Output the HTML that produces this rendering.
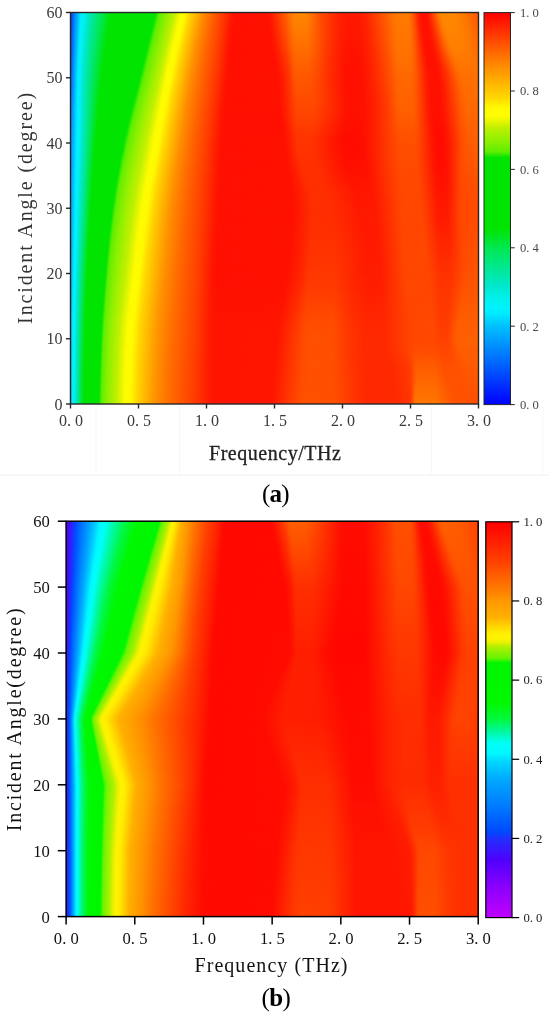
<!DOCTYPE html><html><head><meta charset="utf-8"><title>Figure</title><style>html,body{margin:0;padding:0;background:#fff}svg{display:block}</style></head><body>
<svg width="550" height="1016" viewBox="0 0 550 1016" font-family="'Liberation Serif','Noto Serif CJK SC',serif">
<defs><linearGradient id="vfg" x1="0" y1="0" x2="0" y2="1"><stop offset="0" stop-color="#fff" stop-opacity="0"/><stop offset="1" stop-color="#fff" stop-opacity="1"/></linearGradient>
<mask id="vf" maskContentUnits="objectBoundingBox"><rect x="0" y="0" width="1" height="1" fill="url(#vfg)"/></mask>
<linearGradient id="ag0"><stop offset="0" stop-color="#003aff"/><stop offset="0.01471" stop-color="#00a2ff"/><stop offset="0.01961" stop-color="#00c0ff"/><stop offset="0.02451" stop-color="#00e5ff"/><stop offset="0.02696" stop-color="#00efff"/><stop offset="0.02941" stop-color="#00f2fa"/><stop offset="0.03676" stop-color="#00eee2"/><stop offset="0.04412" stop-color="#00e8c7"/><stop offset="0.05882" stop-color="#00e88c"/><stop offset="0.08333" stop-color="#00e739"/><stop offset="0.09804" stop-color="#00e406"/><stop offset="0.1005" stop-color="#00e400"/><stop offset="0.2083" stop-color="#00e400"/><stop offset="0.2108" stop-color="#0de500"/><stop offset="0.2181" stop-color="#5dee00"/><stop offset="0.223" stop-color="#6cef00"/><stop offset="0.2549" stop-color="#bff000"/><stop offset="0.2647" stop-color="#e7f600"/><stop offset="0.2696" stop-color="#f9fb00"/><stop offset="0.2721" stop-color="#fffc00"/><stop offset="0.2819" stop-color="#fff900"/><stop offset="0.2941" stop-color="#ffd400"/><stop offset="0.326" stop-color="#ff8c00"/><stop offset="0.3529" stop-color="#ff5c00"/><stop offset="0.3824" stop-color="#ff2d00"/><stop offset="0.3971" stop-color="#ff1500"/><stop offset="0.4069" stop-color="#ff1000"/><stop offset="0.4828" stop-color="#ff1100"/><stop offset="0.4926" stop-color="#ff1c00"/><stop offset="0.5245" stop-color="#ff5900"/><stop offset="0.5417" stop-color="#ff7e00"/><stop offset="0.549" stop-color="#ff8700"/><stop offset="0.5735" stop-color="#ff8700"/><stop offset="0.5833" stop-color="#ff7e00"/><stop offset="0.6127" stop-color="#ff4c00"/><stop offset="0.6544" stop-color="#ff2400"/><stop offset="0.6765" stop-color="#ff1900"/><stop offset="0.7083" stop-color="#ff1a00"/><stop offset="0.7279" stop-color="#ff2900"/><stop offset="0.7941" stop-color="#ff7600"/><stop offset="0.8162" stop-color="#ff7800"/><stop offset="0.8284" stop-color="#ff7800"/><stop offset="0.8333" stop-color="#ff6f00"/><stop offset="0.8407" stop-color="#ff5200"/><stop offset="0.8505" stop-color="#ff2600"/><stop offset="0.8554" stop-color="#ff1600"/><stop offset="0.8603" stop-color="#ff1000"/><stop offset="0.8701" stop-color="#ff1000"/><stop offset="0.875" stop-color="#ff1700"/><stop offset="0.8824" stop-color="#ff2d00"/><stop offset="0.8995" stop-color="#ff7400"/><stop offset="0.9044" stop-color="#ff8100"/><stop offset="0.9093" stop-color="#ff8800"/><stop offset="0.9387" stop-color="#ff8600"/><stop offset="0.9608" stop-color="#ff7b00"/><stop offset="0.9877" stop-color="#ff6000"/><stop offset="1" stop-color="#ff5000"/></linearGradient><linearGradient id="ag1"><stop offset="0" stop-color="#003dff"/><stop offset="0.01225" stop-color="#0096ff"/><stop offset="0.01961" stop-color="#00c7ff"/><stop offset="0.02206" stop-color="#00daff"/><stop offset="0.02451" stop-color="#00eaff"/><stop offset="0.02696" stop-color="#00f2ff"/><stop offset="0.03186" stop-color="#00f2ef"/><stop offset="0.04167" stop-color="#00e8cb"/><stop offset="0.05637" stop-color="#00e88f"/><stop offset="0.08088" stop-color="#00e73a"/><stop offset="0.09559" stop-color="#00e405"/><stop offset="0.09804" stop-color="#00e400"/><stop offset="0.2034" stop-color="#00e400"/><stop offset="0.2059" stop-color="#03e400"/><stop offset="0.2132" stop-color="#52ed00"/><stop offset="0.2157" stop-color="#63ee00"/><stop offset="0.25" stop-color="#bcf000"/><stop offset="0.2549" stop-color="#cff200"/><stop offset="0.2647" stop-color="#f5f900"/><stop offset="0.2672" stop-color="#fefc00"/><stop offset="0.277" stop-color="#fffa00"/><stop offset="0.2819" stop-color="#ffee00"/><stop offset="0.2892" stop-color="#ffd700"/><stop offset="0.3235" stop-color="#ff8a00"/><stop offset="0.3505" stop-color="#ff5c00"/><stop offset="0.3775" stop-color="#ff3200"/><stop offset="0.3946" stop-color="#ff1600"/><stop offset="0.4044" stop-color="#ff1000"/><stop offset="0.4853" stop-color="#ff1100"/><stop offset="0.4951" stop-color="#ff1d00"/><stop offset="0.527" stop-color="#ff5900"/><stop offset="0.5417" stop-color="#ff7900"/><stop offset="0.549" stop-color="#ff8200"/><stop offset="0.576" stop-color="#ff8200"/><stop offset="0.5882" stop-color="#ff7500"/><stop offset="0.6152" stop-color="#ff4900"/><stop offset="0.6569" stop-color="#ff2200"/><stop offset="0.6765" stop-color="#ff1800"/><stop offset="0.7083" stop-color="#ff1900"/><stop offset="0.7279" stop-color="#ff2700"/><stop offset="0.7794" stop-color="#ff6300"/><stop offset="0.7941" stop-color="#ff7500"/><stop offset="0.8064" stop-color="#ff7800"/><stop offset="0.8284" stop-color="#ff7800"/><stop offset="0.8333" stop-color="#ff7000"/><stop offset="0.8407" stop-color="#ff5700"/><stop offset="0.8529" stop-color="#ff2300"/><stop offset="0.8578" stop-color="#ff1500"/><stop offset="0.8627" stop-color="#ff1000"/><stop offset="0.8725" stop-color="#ff1000"/><stop offset="0.8775" stop-color="#ff1700"/><stop offset="0.8848" stop-color="#ff2c00"/><stop offset="0.902" stop-color="#ff6f00"/><stop offset="0.9093" stop-color="#ff8200"/><stop offset="0.9142" stop-color="#ff8700"/><stop offset="0.9436" stop-color="#ff8500"/><stop offset="0.9657" stop-color="#ff7900"/><stop offset="0.9926" stop-color="#ff5f00"/><stop offset="1" stop-color="#ff5600"/></linearGradient><linearGradient id="ag2"><stop offset="0" stop-color="#0040ff"/><stop offset="0.01225" stop-color="#009bff"/><stop offset="0.01716" stop-color="#00bbff"/><stop offset="0.02206" stop-color="#00e1ff"/><stop offset="0.02451" stop-color="#00edff"/><stop offset="0.02696" stop-color="#00f2fc"/><stop offset="0.03431" stop-color="#00eee2"/><stop offset="0.03922" stop-color="#00e8d1"/><stop offset="0.05392" stop-color="#00e892"/><stop offset="0.07843" stop-color="#00e73b"/><stop offset="0.09314" stop-color="#00e406"/><stop offset="0.09559" stop-color="#00e400"/><stop offset="0.201" stop-color="#00e400"/><stop offset="0.2034" stop-color="#0fe600"/><stop offset="0.2108" stop-color="#5fee00"/><stop offset="0.2475" stop-color="#bff000"/><stop offset="0.2574" stop-color="#e7f600"/><stop offset="0.2623" stop-color="#f9fa00"/><stop offset="0.2647" stop-color="#fffc00"/><stop offset="0.2745" stop-color="#fffa00"/><stop offset="0.2868" stop-color="#ffd500"/><stop offset="0.3211" stop-color="#ff8900"/><stop offset="0.348" stop-color="#ff5c00"/><stop offset="0.375" stop-color="#ff3300"/><stop offset="0.3922" stop-color="#ff1600"/><stop offset="0.402" stop-color="#ff1000"/><stop offset="0.4853" stop-color="#ff1100"/><stop offset="0.4951" stop-color="#ff1a00"/><stop offset="0.527" stop-color="#ff5400"/><stop offset="0.5417" stop-color="#ff7400"/><stop offset="0.549" stop-color="#ff7e00"/><stop offset="0.576" stop-color="#ff7e00"/><stop offset="0.5882" stop-color="#ff7300"/><stop offset="0.6176" stop-color="#ff4600"/><stop offset="0.6593" stop-color="#ff2000"/><stop offset="0.6789" stop-color="#ff1700"/><stop offset="0.7083" stop-color="#ff1800"/><stop offset="0.7279" stop-color="#ff2500"/><stop offset="0.7794" stop-color="#ff6100"/><stop offset="0.7941" stop-color="#ff7400"/><stop offset="0.8039" stop-color="#ff7700"/><stop offset="0.8309" stop-color="#ff7600"/><stop offset="0.8358" stop-color="#ff6b00"/><stop offset="0.8431" stop-color="#ff5000"/><stop offset="0.8529" stop-color="#ff2800"/><stop offset="0.8578" stop-color="#ff1900"/><stop offset="0.8627" stop-color="#ff1100"/><stop offset="0.875" stop-color="#ff1000"/><stop offset="0.8824" stop-color="#ff1c00"/><stop offset="0.8922" stop-color="#ff3c00"/><stop offset="0.9069" stop-color="#ff7200"/><stop offset="0.9142" stop-color="#ff8300"/><stop offset="0.9216" stop-color="#ff8600"/><stop offset="0.951" stop-color="#ff8300"/><stop offset="0.9755" stop-color="#ff7400"/><stop offset="1" stop-color="#ff5b00"/></linearGradient><linearGradient id="ag3"><stop offset="0" stop-color="#0044ff"/><stop offset="0.01225" stop-color="#009fff"/><stop offset="0.01716" stop-color="#00c0ff"/><stop offset="0.02206" stop-color="#00e7ff"/><stop offset="0.02451" stop-color="#00f0ff"/><stop offset="0.02941" stop-color="#00f2f0"/><stop offset="0.03922" stop-color="#00e8cb"/><stop offset="0.05147" stop-color="#00e896"/><stop offset="0.06863" stop-color="#00e858"/><stop offset="0.09069" stop-color="#00e406"/><stop offset="0.09314" stop-color="#00e400"/><stop offset="0.1985" stop-color="#01e400"/><stop offset="0.2059" stop-color="#51ec00"/><stop offset="0.2083" stop-color="#63ee00"/><stop offset="0.2451" stop-color="#c3f000"/><stop offset="0.2549" stop-color="#ebf700"/><stop offset="0.2598" stop-color="#fdfb00"/><stop offset="0.2647" stop-color="#fffb00"/><stop offset="0.2696" stop-color="#fffa00"/><stop offset="0.2721" stop-color="#fff700"/><stop offset="0.2819" stop-color="#ffd800"/><stop offset="0.3162" stop-color="#ff8d00"/><stop offset="0.3431" stop-color="#ff6000"/><stop offset="0.3725" stop-color="#ff3500"/><stop offset="0.3897" stop-color="#ff1700"/><stop offset="0.3995" stop-color="#ff1000"/><stop offset="0.4877" stop-color="#ff1100"/><stop offset="0.4975" stop-color="#ff1b00"/><stop offset="0.527" stop-color="#ff4f00"/><stop offset="0.5441" stop-color="#ff7300"/><stop offset="0.5515" stop-color="#ff7a00"/><stop offset="0.5784" stop-color="#ff7900"/><stop offset="0.5931" stop-color="#ff6a00"/><stop offset="0.6201" stop-color="#ff4300"/><stop offset="0.6618" stop-color="#ff1e00"/><stop offset="0.6814" stop-color="#ff1600"/><stop offset="0.7108" stop-color="#ff1800"/><stop offset="0.7304" stop-color="#ff2600"/><stop offset="0.777" stop-color="#ff5b00"/><stop offset="0.7941" stop-color="#ff7200"/><stop offset="0.8039" stop-color="#ff7600"/><stop offset="0.8309" stop-color="#ff7500"/><stop offset="0.8358" stop-color="#ff6d00"/><stop offset="0.8431" stop-color="#ff5400"/><stop offset="0.8554" stop-color="#ff2500"/><stop offset="0.8603" stop-color="#ff1700"/><stop offset="0.8652" stop-color="#ff1000"/><stop offset="0.8775" stop-color="#ff1100"/><stop offset="0.8848" stop-color="#ff1c00"/><stop offset="0.8946" stop-color="#ff3900"/><stop offset="0.9093" stop-color="#ff6d00"/><stop offset="0.9167" stop-color="#ff7f00"/><stop offset="0.924" stop-color="#ff8400"/><stop offset="0.9534" stop-color="#ff8200"/><stop offset="0.9779" stop-color="#ff7400"/><stop offset="1" stop-color="#ff6000"/></linearGradient><linearGradient id="ag4"><stop offset="0" stop-color="#0047ff"/><stop offset="0.01225" stop-color="#00a4ff"/><stop offset="0.01716" stop-color="#00c6ff"/><stop offset="0.01961" stop-color="#00dbff"/><stop offset="0.02206" stop-color="#00ebff"/><stop offset="0.02451" stop-color="#00f2fe"/><stop offset="0.02941" stop-color="#00f1ed"/><stop offset="0.03676" stop-color="#00e8d1"/><stop offset="0.05147" stop-color="#00e890"/><stop offset="0.07353" stop-color="#00e73e"/><stop offset="0.08824" stop-color="#00e407"/><stop offset="0.09069" stop-color="#00e400"/><stop offset="0.1936" stop-color="#00e400"/><stop offset="0.1961" stop-color="#0ee500"/><stop offset="0.2034" stop-color="#5eee00"/><stop offset="0.2255" stop-color="#99f000"/><stop offset="0.2402" stop-color="#bef000"/><stop offset="0.2525" stop-color="#eef800"/><stop offset="0.2574" stop-color="#fffc00"/><stop offset="0.2672" stop-color="#fffa00"/><stop offset="0.2819" stop-color="#ffd100"/><stop offset="0.3137" stop-color="#ff8c00"/><stop offset="0.3407" stop-color="#ff6000"/><stop offset="0.3701" stop-color="#ff3600"/><stop offset="0.3873" stop-color="#ff1800"/><stop offset="0.3971" stop-color="#ff1000"/><stop offset="0.4902" stop-color="#ff1100"/><stop offset="0.5" stop-color="#ff1b00"/><stop offset="0.527" stop-color="#ff4a00"/><stop offset="0.5441" stop-color="#ff6f00"/><stop offset="0.5515" stop-color="#ff7600"/><stop offset="0.5784" stop-color="#ff7500"/><stop offset="0.5931" stop-color="#ff6800"/><stop offset="0.6225" stop-color="#ff4000"/><stop offset="0.6642" stop-color="#ff1b00"/><stop offset="0.6814" stop-color="#ff1500"/><stop offset="0.7108" stop-color="#ff1700"/><stop offset="0.7304" stop-color="#ff2500"/><stop offset="0.777" stop-color="#ff5900"/><stop offset="0.7941" stop-color="#ff7100"/><stop offset="0.8039" stop-color="#ff7500"/><stop offset="0.8309" stop-color="#ff7500"/><stop offset="0.8358" stop-color="#ff6d00"/><stop offset="0.8431" stop-color="#ff5700"/><stop offset="0.8578" stop-color="#ff2200"/><stop offset="0.8652" stop-color="#ff1200"/><stop offset="0.8799" stop-color="#ff1100"/><stop offset="0.8873" stop-color="#ff1b00"/><stop offset="0.8971" stop-color="#ff3600"/><stop offset="0.9142" stop-color="#ff6e00"/><stop offset="0.9216" stop-color="#ff7e00"/><stop offset="0.9289" stop-color="#ff8200"/><stop offset="0.9583" stop-color="#ff8000"/><stop offset="0.9853" stop-color="#ff7100"/><stop offset="1" stop-color="#ff6400"/></linearGradient><linearGradient id="ag5"><stop offset="0" stop-color="#004aff"/><stop offset="0.01225" stop-color="#00a8ff"/><stop offset="0.01716" stop-color="#00ccff"/><stop offset="0.01961" stop-color="#00e1ff"/><stop offset="0.02206" stop-color="#00eeff"/><stop offset="0.02451" stop-color="#00f2fb"/><stop offset="0.02941" stop-color="#00f0e9"/><stop offset="0.03676" stop-color="#00e8cc"/><stop offset="0.04902" stop-color="#00e894"/><stop offset="0.06373" stop-color="#00e85c"/><stop offset="0.08824" stop-color="#00e400"/><stop offset="0.1912" stop-color="#00e400"/><stop offset="0.1985" stop-color="#50ec00"/><stop offset="0.201" stop-color="#63ee00"/><stop offset="0.2377" stop-color="#c1f000"/><stop offset="0.2475" stop-color="#e9f600"/><stop offset="0.2525" stop-color="#fafb00"/><stop offset="0.2549" stop-color="#fffc00"/><stop offset="0.2647" stop-color="#fff900"/><stop offset="0.277" stop-color="#ffd500"/><stop offset="0.3113" stop-color="#ff8b00"/><stop offset="0.3382" stop-color="#ff6100"/><stop offset="0.3676" stop-color="#ff3700"/><stop offset="0.3873" stop-color="#ff1600"/><stop offset="0.3971" stop-color="#ff1000"/><stop offset="0.4926" stop-color="#ff1100"/><stop offset="0.5049" stop-color="#ff1f00"/><stop offset="0.5294" stop-color="#ff4a00"/><stop offset="0.5441" stop-color="#ff6a00"/><stop offset="0.5515" stop-color="#ff7100"/><stop offset="0.5809" stop-color="#ff7000"/><stop offset="0.5956" stop-color="#ff6200"/><stop offset="0.6225" stop-color="#ff4000"/><stop offset="0.6642" stop-color="#ff1b00"/><stop offset="0.6814" stop-color="#ff1400"/><stop offset="0.7108" stop-color="#ff1600"/><stop offset="0.7304" stop-color="#ff2300"/><stop offset="0.777" stop-color="#ff5600"/><stop offset="0.7941" stop-color="#ff6f00"/><stop offset="0.8039" stop-color="#ff7400"/><stop offset="0.8309" stop-color="#ff7400"/><stop offset="0.8358" stop-color="#ff6e00"/><stop offset="0.8431" stop-color="#ff5a00"/><stop offset="0.8578" stop-color="#ff2700"/><stop offset="0.8652" stop-color="#ff1500"/><stop offset="0.8701" stop-color="#ff1000"/><stop offset="0.8824" stop-color="#ff1100"/><stop offset="0.8897" stop-color="#ff1a00"/><stop offset="0.8995" stop-color="#ff3300"/><stop offset="0.9167" stop-color="#ff6900"/><stop offset="0.924" stop-color="#ff7900"/><stop offset="0.9314" stop-color="#ff8100"/><stop offset="0.9632" stop-color="#ff7e00"/><stop offset="0.9902" stop-color="#ff6f00"/><stop offset="1" stop-color="#ff6700"/></linearGradient><linearGradient id="ag6"><stop offset="0" stop-color="#004eff"/><stop offset="0.01225" stop-color="#00acff"/><stop offset="0.01471" stop-color="#00bdff"/><stop offset="0.01961" stop-color="#00e6ff"/><stop offset="0.02206" stop-color="#00f0ff"/><stop offset="0.02696" stop-color="#00f2ef"/><stop offset="0.03431" stop-color="#00e9d2"/><stop offset="0.04902" stop-color="#00e88f"/><stop offset="0.07108" stop-color="#00e739"/><stop offset="0.08578" stop-color="#00e400"/><stop offset="0.1863" stop-color="#00e400"/><stop offset="0.1887" stop-color="#0ce500"/><stop offset="0.1961" stop-color="#5dee00"/><stop offset="0.201" stop-color="#6cef00"/><stop offset="0.2328" stop-color="#bdf000"/><stop offset="0.2475" stop-color="#f5f900"/><stop offset="0.25" stop-color="#fdfc00"/><stop offset="0.2598" stop-color="#fffa00"/><stop offset="0.2623" stop-color="#fff700"/><stop offset="0.2745" stop-color="#ffd400"/><stop offset="0.3088" stop-color="#ff8b00"/><stop offset="0.3358" stop-color="#ff6100"/><stop offset="0.3652" stop-color="#ff3800"/><stop offset="0.3848" stop-color="#ff1700"/><stop offset="0.3946" stop-color="#ff1000"/><stop offset="0.4951" stop-color="#ff1100"/><stop offset="0.5074" stop-color="#ff1f00"/><stop offset="0.5294" stop-color="#ff4400"/><stop offset="0.5441" stop-color="#ff6500"/><stop offset="0.5515" stop-color="#ff6d00"/><stop offset="0.5809" stop-color="#ff6c00"/><stop offset="0.5956" stop-color="#ff6000"/><stop offset="0.625" stop-color="#ff3c00"/><stop offset="0.6667" stop-color="#ff1900"/><stop offset="0.6838" stop-color="#ff1300"/><stop offset="0.7132" stop-color="#ff1600"/><stop offset="0.7353" stop-color="#ff2600"/><stop offset="0.777" stop-color="#ff5400"/><stop offset="0.7966" stop-color="#ff6f00"/><stop offset="0.8064" stop-color="#ff7300"/><stop offset="0.8333" stop-color="#ff7100"/><stop offset="0.8407" stop-color="#ff6300"/><stop offset="0.8627" stop-color="#ff1e00"/><stop offset="0.8701" stop-color="#ff1100"/><stop offset="0.8848" stop-color="#ff1000"/><stop offset="0.8922" stop-color="#ff1900"/><stop offset="0.902" stop-color="#ff2f00"/><stop offset="0.9216" stop-color="#ff6800"/><stop offset="0.9289" stop-color="#ff7700"/><stop offset="0.9363" stop-color="#ff7e00"/><stop offset="0.9681" stop-color="#ff7d00"/><stop offset="0.9951" stop-color="#ff6d00"/><stop offset="1" stop-color="#ff6900"/></linearGradient><linearGradient id="ag7"><stop offset="0" stop-color="#0052ff"/><stop offset="0.01225" stop-color="#00b0ff"/><stop offset="0.01471" stop-color="#00c2ff"/><stop offset="0.01716" stop-color="#00d8ff"/><stop offset="0.01961" stop-color="#00eaff"/><stop offset="0.02206" stop-color="#00f2fe"/><stop offset="0.02696" stop-color="#00f1ec"/><stop offset="0.03431" stop-color="#00e8ce"/><stop offset="0.04657" stop-color="#00e894"/><stop offset="0.06127" stop-color="#00e85a"/><stop offset="0.08333" stop-color="#00e402"/><stop offset="0.09559" stop-color="#00e400"/><stop offset="0.1838" stop-color="#00e400"/><stop offset="0.1912" stop-color="#4fec00"/><stop offset="0.1936" stop-color="#62ee00"/><stop offset="0.2304" stop-color="#bff000"/><stop offset="0.2402" stop-color="#e7f600"/><stop offset="0.2475" stop-color="#fffc00"/><stop offset="0.2574" stop-color="#fffa00"/><stop offset="0.2672" stop-color="#ffdf00"/><stop offset="0.2745" stop-color="#ffcd00"/><stop offset="0.3039" stop-color="#ff8f00"/><stop offset="0.3284" stop-color="#ff6800"/><stop offset="0.3652" stop-color="#ff3500"/><stop offset="0.3824" stop-color="#ff1800"/><stop offset="0.3922" stop-color="#ff1000"/><stop offset="0.4975" stop-color="#ff1100"/><stop offset="0.5098" stop-color="#ff1e00"/><stop offset="0.5319" stop-color="#ff4200"/><stop offset="0.5466" stop-color="#ff6300"/><stop offset="0.5539" stop-color="#ff6800"/><stop offset="0.5833" stop-color="#ff6700"/><stop offset="0.6005" stop-color="#ff5800"/><stop offset="0.6275" stop-color="#ff3800"/><stop offset="0.6691" stop-color="#ff1600"/><stop offset="0.6863" stop-color="#ff1300"/><stop offset="0.7132" stop-color="#ff1500"/><stop offset="0.7353" stop-color="#ff2400"/><stop offset="0.777" stop-color="#ff5100"/><stop offset="0.7966" stop-color="#ff6d00"/><stop offset="0.8064" stop-color="#ff7100"/><stop offset="0.8333" stop-color="#ff7000"/><stop offset="0.8407" stop-color="#ff6400"/><stop offset="0.8529" stop-color="#ff4000"/><stop offset="0.8652" stop-color="#ff1d00"/><stop offset="0.8725" stop-color="#ff1100"/><stop offset="0.8897" stop-color="#ff1100"/><stop offset="0.8995" stop-color="#ff1f00"/><stop offset="0.9142" stop-color="#ff4400"/><stop offset="0.9289" stop-color="#ff6a00"/><stop offset="0.9387" stop-color="#ff7900"/><stop offset="0.9583" stop-color="#ff7c00"/><stop offset="0.9804" stop-color="#ff7800"/><stop offset="1" stop-color="#ff6c00"/></linearGradient><linearGradient id="ag8"><stop offset="0" stop-color="#0055ff"/><stop offset="0.01225" stop-color="#00b4ff"/><stop offset="0.01716" stop-color="#00ddff"/><stop offset="0.01961" stop-color="#00ecff"/><stop offset="0.02206" stop-color="#00f2fc"/><stop offset="0.02696" stop-color="#00f0e9"/><stop offset="0.03431" stop-color="#00e8ca"/><stop offset="0.04657" stop-color="#00e88f"/><stop offset="0.07843" stop-color="#00e50d"/><stop offset="0.08088" stop-color="#00e404"/><stop offset="0.08333" stop-color="#00e400"/><stop offset="0.1789" stop-color="#00e400"/><stop offset="0.1814" stop-color="#0be500"/><stop offset="0.1887" stop-color="#5cee00"/><stop offset="0.1912" stop-color="#66ee00"/><stop offset="0.2279" stop-color="#c3f000"/><stop offset="0.2377" stop-color="#eaf600"/><stop offset="0.2426" stop-color="#fafb00"/><stop offset="0.2451" stop-color="#fffc00"/><stop offset="0.2549" stop-color="#fffa00"/><stop offset="0.2672" stop-color="#ffd600"/><stop offset="0.3015" stop-color="#ff8e00"/><stop offset="0.326" stop-color="#ff6800"/><stop offset="0.3627" stop-color="#ff3700"/><stop offset="0.3824" stop-color="#ff1600"/><stop offset="0.3922" stop-color="#ff1000"/><stop offset="0.5" stop-color="#ff1100"/><stop offset="0.5123" stop-color="#ff1d00"/><stop offset="0.5319" stop-color="#ff3b00"/><stop offset="0.5466" stop-color="#ff5e00"/><stop offset="0.5515" stop-color="#ff6300"/><stop offset="0.5833" stop-color="#ff6200"/><stop offset="0.6005" stop-color="#ff5500"/><stop offset="0.6299" stop-color="#ff3400"/><stop offset="0.6691" stop-color="#ff1500"/><stop offset="0.6863" stop-color="#ff1200"/><stop offset="0.7132" stop-color="#ff1300"/><stop offset="0.7353" stop-color="#ff2300"/><stop offset="0.777" stop-color="#ff4e00"/><stop offset="0.7966" stop-color="#ff6900"/><stop offset="0.8064" stop-color="#ff6f00"/><stop offset="0.8333" stop-color="#ff6e00"/><stop offset="0.8407" stop-color="#ff6400"/><stop offset="0.8529" stop-color="#ff4400"/><stop offset="0.8652" stop-color="#ff2200"/><stop offset="0.8725" stop-color="#ff1400"/><stop offset="0.8799" stop-color="#ff1000"/><stop offset="0.8922" stop-color="#ff1100"/><stop offset="0.902" stop-color="#ff1c00"/><stop offset="0.9167" stop-color="#ff3d00"/><stop offset="0.9338" stop-color="#ff6600"/><stop offset="0.9436" stop-color="#ff7500"/><stop offset="0.9534" stop-color="#ff7800"/><stop offset="0.9853" stop-color="#ff7600"/><stop offset="1" stop-color="#ff6d00"/></linearGradient><linearGradient id="ag9"><stop offset="0" stop-color="#0059ff"/><stop offset="0.009804" stop-color="#00a6ff"/><stop offset="0.01471" stop-color="#00cbff"/><stop offset="0.01716" stop-color="#00e1ff"/><stop offset="0.01961" stop-color="#00eeff"/><stop offset="0.02206" stop-color="#00f2fa"/><stop offset="0.02696" stop-color="#00efe6"/><stop offset="0.03186" stop-color="#00e9d2"/><stop offset="0.04657" stop-color="#00e88a"/><stop offset="0.06618" stop-color="#00e739"/><stop offset="0.07843" stop-color="#00e406"/><stop offset="0.08088" stop-color="#00e400"/><stop offset="0.1765" stop-color="#00e400"/><stop offset="0.1789" stop-color="#18e600"/><stop offset="0.1838" stop-color="#4eec00"/><stop offset="0.1863" stop-color="#62ee00"/><stop offset="0.2206" stop-color="#b8f000"/><stop offset="0.2255" stop-color="#c7f100"/><stop offset="0.2353" stop-color="#ecf700"/><stop offset="0.2402" stop-color="#fdfb00"/><stop offset="0.25" stop-color="#fffa00"/><stop offset="0.2525" stop-color="#fff800"/><stop offset="0.2647" stop-color="#ffd500"/><stop offset="0.299" stop-color="#ff8e00"/><stop offset="0.3235" stop-color="#ff6800"/><stop offset="0.3603" stop-color="#ff3800"/><stop offset="0.3799" stop-color="#ff1800"/><stop offset="0.3897" stop-color="#ff1000"/><stop offset="0.5025" stop-color="#ff1100"/><stop offset="0.5172" stop-color="#ff2000"/><stop offset="0.5343" stop-color="#ff3a00"/><stop offset="0.5466" stop-color="#ff5900"/><stop offset="0.5515" stop-color="#ff5f00"/><stop offset="0.5858" stop-color="#ff5d00"/><stop offset="0.6054" stop-color="#ff4d00"/><stop offset="0.6324" stop-color="#ff3100"/><stop offset="0.6716" stop-color="#ff1300"/><stop offset="0.6961" stop-color="#ff1100"/><stop offset="0.7157" stop-color="#ff1300"/><stop offset="0.7402" stop-color="#ff2500"/><stop offset="0.777" stop-color="#ff4b00"/><stop offset="0.7966" stop-color="#ff6600"/><stop offset="0.8064" stop-color="#ff6c00"/><stop offset="0.8333" stop-color="#ff6c00"/><stop offset="0.8407" stop-color="#ff6300"/><stop offset="0.8529" stop-color="#ff4700"/><stop offset="0.8676" stop-color="#ff2100"/><stop offset="0.875" stop-color="#ff1400"/><stop offset="0.8824" stop-color="#ff1000"/><stop offset="0.8971" stop-color="#ff1200"/><stop offset="0.9069" stop-color="#ff1e00"/><stop offset="0.924" stop-color="#ff4200"/><stop offset="0.9412" stop-color="#ff6700"/><stop offset="0.951" stop-color="#ff7300"/><stop offset="0.9755" stop-color="#ff7500"/><stop offset="0.9926" stop-color="#ff7300"/><stop offset="1" stop-color="#ff6f00"/></linearGradient><linearGradient id="ag10"><stop offset="0" stop-color="#005dff"/><stop offset="0.009804" stop-color="#00a9ff"/><stop offset="0.01225" stop-color="#00bbff"/><stop offset="0.01716" stop-color="#00e5ff"/><stop offset="0.01961" stop-color="#00f0ff"/><stop offset="0.02451" stop-color="#00f2ee"/><stop offset="0.03186" stop-color="#00e8cf"/><stop offset="0.04412" stop-color="#00e891"/><stop offset="0.07353" stop-color="#00e513"/><stop offset="0.07843" stop-color="#00e400"/><stop offset="0.1716" stop-color="#00e400"/><stop offset="0.174" stop-color="#09e500"/><stop offset="0.1814" stop-color="#5bed00"/><stop offset="0.1838" stop-color="#65ee00"/><stop offset="0.2206" stop-color="#c0f000"/><stop offset="0.2304" stop-color="#e6f600"/><stop offset="0.2377" stop-color="#fffc00"/><stop offset="0.2475" stop-color="#fffa00"/><stop offset="0.25" stop-color="#fff700"/><stop offset="0.2623" stop-color="#ffd400"/><stop offset="0.2966" stop-color="#ff8d00"/><stop offset="0.3235" stop-color="#ff6500"/><stop offset="0.3603" stop-color="#ff3500"/><stop offset="0.3799" stop-color="#ff1600"/><stop offset="0.3897" stop-color="#ff1000"/><stop offset="0.5049" stop-color="#ff1100"/><stop offset="0.5196" stop-color="#ff1f00"/><stop offset="0.5343" stop-color="#ff3400"/><stop offset="0.5466" stop-color="#ff5400"/><stop offset="0.5515" stop-color="#ff5b00"/><stop offset="0.5858" stop-color="#ff5a00"/><stop offset="0.6054" stop-color="#ff4b00"/><stop offset="0.6348" stop-color="#ff2d00"/><stop offset="0.6716" stop-color="#ff1300"/><stop offset="0.6961" stop-color="#ff1000"/><stop offset="0.7157" stop-color="#ff1300"/><stop offset="0.7402" stop-color="#ff2400"/><stop offset="0.7794" stop-color="#ff4c00"/><stop offset="0.799" stop-color="#ff6600"/><stop offset="0.8088" stop-color="#ff6a00"/><stop offset="0.8358" stop-color="#ff6800"/><stop offset="0.8456" stop-color="#ff5a00"/><stop offset="0.8701" stop-color="#ff1f00"/><stop offset="0.8799" stop-color="#ff1100"/><stop offset="0.8971" stop-color="#ff1100"/><stop offset="0.9069" stop-color="#ff1900"/><stop offset="0.9216" stop-color="#ff3300"/><stop offset="0.9436" stop-color="#ff6100"/><stop offset="0.9559" stop-color="#ff7000"/><stop offset="0.9804" stop-color="#ff7200"/><stop offset="1" stop-color="#ff7000"/></linearGradient><linearGradient id="ag11"><stop offset="0" stop-color="#0061ff"/><stop offset="0.009804" stop-color="#00acff"/><stop offset="0.01225" stop-color="#00bdff"/><stop offset="0.01716" stop-color="#00e8ff"/><stop offset="0.01961" stop-color="#00f1ff"/><stop offset="0.02451" stop-color="#00f1ed"/><stop offset="0.03186" stop-color="#00e8cc"/><stop offset="0.04412" stop-color="#00e88d"/><stop offset="0.07353" stop-color="#00e50c"/><stop offset="0.07598" stop-color="#00e402"/><stop offset="0.08578" stop-color="#00e400"/><stop offset="0.1691" stop-color="#00e400"/><stop offset="0.1716" stop-color="#16e600"/><stop offset="0.1765" stop-color="#4dec00"/><stop offset="0.1789" stop-color="#62ee00"/><stop offset="0.2059" stop-color="#a5f000"/><stop offset="0.2181" stop-color="#c4f000"/><stop offset="0.2279" stop-color="#e9f600"/><stop offset="0.2353" stop-color="#fffc00"/><stop offset="0.2451" stop-color="#fffa00"/><stop offset="0.2549" stop-color="#ffe000"/><stop offset="0.2623" stop-color="#ffcf00"/><stop offset="0.2941" stop-color="#ff8d00"/><stop offset="0.3211" stop-color="#ff6500"/><stop offset="0.3578" stop-color="#ff3600"/><stop offset="0.3775" stop-color="#ff1700"/><stop offset="0.3873" stop-color="#ff1000"/><stop offset="0.5074" stop-color="#ff1200"/><stop offset="0.5221" stop-color="#ff2000"/><stop offset="0.5368" stop-color="#ff3600"/><stop offset="0.549" stop-color="#ff5400"/><stop offset="0.5539" stop-color="#ff5700"/><stop offset="0.5882" stop-color="#ff5500"/><stop offset="0.6078" stop-color="#ff4600"/><stop offset="0.6373" stop-color="#ff2b00"/><stop offset="0.6716" stop-color="#ff1300"/><stop offset="0.6961" stop-color="#ff1000"/><stop offset="0.7181" stop-color="#ff1300"/><stop offset="0.7426" stop-color="#ff2500"/><stop offset="0.7794" stop-color="#ff4a00"/><stop offset="0.799" stop-color="#ff6300"/><stop offset="0.8088" stop-color="#ff6800"/><stop offset="0.8358" stop-color="#ff6600"/><stop offset="0.8456" stop-color="#ff5a00"/><stop offset="0.8725" stop-color="#ff1c00"/><stop offset="0.8799" stop-color="#ff1200"/><stop offset="0.8946" stop-color="#ff1000"/><stop offset="0.9044" stop-color="#ff1400"/><stop offset="0.9167" stop-color="#ff2400"/><stop offset="0.9485" stop-color="#ff6200"/><stop offset="0.9608" stop-color="#ff6f00"/><stop offset="1" stop-color="#ff7000"/></linearGradient><linearGradient id="ag12"><stop offset="0" stop-color="#0065ff"/><stop offset="0.01225" stop-color="#00c0ff"/><stop offset="0.01716" stop-color="#00e9ff"/><stop offset="0.01961" stop-color="#00f2ff"/><stop offset="0.02451" stop-color="#00f0eb"/><stop offset="0.03186" stop-color="#00e8ca"/><stop offset="0.04412" stop-color="#00e88a"/><stop offset="0.07353" stop-color="#00e406"/><stop offset="0.07598" stop-color="#00e400"/><stop offset="0.1642" stop-color="#00e400"/><stop offset="0.1667" stop-color="#09e500"/><stop offset="0.174" stop-color="#5aed00"/><stop offset="0.1765" stop-color="#65ee00"/><stop offset="0.2034" stop-color="#a7f000"/><stop offset="0.2132" stop-color="#bef000"/><stop offset="0.2255" stop-color="#ebf700"/><stop offset="0.2304" stop-color="#fbfb00"/><stop offset="0.2328" stop-color="#fffc00"/><stop offset="0.2426" stop-color="#fffa00"/><stop offset="0.2549" stop-color="#ffd800"/><stop offset="0.2917" stop-color="#ff8d00"/><stop offset="0.3186" stop-color="#ff6600"/><stop offset="0.3554" stop-color="#ff3700"/><stop offset="0.375" stop-color="#ff1800"/><stop offset="0.3848" stop-color="#ff1000"/><stop offset="0.5074" stop-color="#ff1100"/><stop offset="0.5196" stop-color="#ff1b00"/><stop offset="0.5368" stop-color="#ff3400"/><stop offset="0.549" stop-color="#ff5000"/><stop offset="0.5539" stop-color="#ff5400"/><stop offset="0.5882" stop-color="#ff5300"/><stop offset="0.6078" stop-color="#ff4500"/><stop offset="0.6397" stop-color="#ff2a00"/><stop offset="0.6716" stop-color="#ff1300"/><stop offset="0.6936" stop-color="#ff1000"/><stop offset="0.7181" stop-color="#ff1300"/><stop offset="0.7426" stop-color="#ff2300"/><stop offset="0.7794" stop-color="#ff4700"/><stop offset="0.799" stop-color="#ff6200"/><stop offset="0.8088" stop-color="#ff6600"/><stop offset="0.8358" stop-color="#ff6500"/><stop offset="0.8456" stop-color="#ff5900"/><stop offset="0.8725" stop-color="#ff1d00"/><stop offset="0.8824" stop-color="#ff1100"/><stop offset="0.902" stop-color="#ff1100"/><stop offset="0.9142" stop-color="#ff1d00"/><stop offset="0.9363" stop-color="#ff4600"/><stop offset="0.9534" stop-color="#ff6400"/><stop offset="0.9632" stop-color="#ff6d00"/><stop offset="1" stop-color="#ff6f00"/></linearGradient><linearGradient id="ag13"><stop offset="0" stop-color="#006aff"/><stop offset="0.01225" stop-color="#00c2ff"/><stop offset="0.01471" stop-color="#00d8ff"/><stop offset="0.01716" stop-color="#00eaff"/><stop offset="0.01961" stop-color="#00f2fe"/><stop offset="0.02451" stop-color="#00f0ea"/><stop offset="0.03186" stop-color="#00e8c8"/><stop offset="0.04412" stop-color="#00e886"/><stop offset="0.05882" stop-color="#00e742"/><stop offset="0.07108" stop-color="#00e409"/><stop offset="0.07353" stop-color="#00e400"/><stop offset="0.1618" stop-color="#00e400"/><stop offset="0.1642" stop-color="#17e600"/><stop offset="0.1691" stop-color="#4eec00"/><stop offset="0.1716" stop-color="#62ee00"/><stop offset="0.1961" stop-color="#9ef000"/><stop offset="0.2108" stop-color="#c0f000"/><stop offset="0.2206" stop-color="#e5f500"/><stop offset="0.2279" stop-color="#fdfb00"/><stop offset="0.2402" stop-color="#fff900"/><stop offset="0.2525" stop-color="#ffd700"/><stop offset="0.2892" stop-color="#ff8d00"/><stop offset="0.3162" stop-color="#ff6600"/><stop offset="0.3529" stop-color="#ff3800"/><stop offset="0.375" stop-color="#ff1600"/><stop offset="0.3848" stop-color="#ff1000"/><stop offset="0.5098" stop-color="#ff1100"/><stop offset="0.5221" stop-color="#ff1d00"/><stop offset="0.5392" stop-color="#ff3700"/><stop offset="0.549" stop-color="#ff4c00"/><stop offset="0.5539" stop-color="#ff5100"/><stop offset="0.5907" stop-color="#ff5000"/><stop offset="0.6127" stop-color="#ff4000"/><stop offset="0.6667" stop-color="#ff1600"/><stop offset="0.6838" stop-color="#ff1000"/><stop offset="0.7181" stop-color="#ff1200"/><stop offset="0.7426" stop-color="#ff2200"/><stop offset="0.7794" stop-color="#ff4500"/><stop offset="0.799" stop-color="#ff6000"/><stop offset="0.8088" stop-color="#ff6500"/><stop offset="0.8358" stop-color="#ff6400"/><stop offset="0.8431" stop-color="#ff5d00"/><stop offset="0.8554" stop-color="#ff4500"/><stop offset="0.8725" stop-color="#ff1e00"/><stop offset="0.8824" stop-color="#ff1100"/><stop offset="0.9044" stop-color="#ff1100"/><stop offset="0.9167" stop-color="#ff1e00"/><stop offset="0.9534" stop-color="#ff6000"/><stop offset="0.9657" stop-color="#ff6c00"/><stop offset="1" stop-color="#ff6e00"/></linearGradient><linearGradient id="ag14"><stop offset="0" stop-color="#006fff"/><stop offset="0.01225" stop-color="#00c5ff"/><stop offset="0.01471" stop-color="#00daff"/><stop offset="0.01716" stop-color="#00ebff"/><stop offset="0.01961" stop-color="#00f2fd"/><stop offset="0.02451" stop-color="#00f0e9"/><stop offset="0.02941" stop-color="#00e9d3"/><stop offset="0.04412" stop-color="#00e883"/><stop offset="0.06863" stop-color="#00e50e"/><stop offset="0.07108" stop-color="#00e403"/><stop offset="0.07598" stop-color="#00e400"/><stop offset="0.1569" stop-color="#00e400"/><stop offset="0.1593" stop-color="#0be500"/><stop offset="0.1667" stop-color="#5cee00"/><stop offset="0.1716" stop-color="#6cef00"/><stop offset="0.1985" stop-color="#acf000"/><stop offset="0.2083" stop-color="#c3f000"/><stop offset="0.2181" stop-color="#e7f600"/><stop offset="0.2255" stop-color="#fffc00"/><stop offset="0.2377" stop-color="#fff800"/><stop offset="0.25" stop-color="#ffd600"/><stop offset="0.2868" stop-color="#ff8d00"/><stop offset="0.3137" stop-color="#ff6600"/><stop offset="0.3529" stop-color="#ff3600"/><stop offset="0.3725" stop-color="#ff1700"/><stop offset="0.3824" stop-color="#ff1000"/><stop offset="0.5098" stop-color="#ff1100"/><stop offset="0.5221" stop-color="#ff1c00"/><stop offset="0.5417" stop-color="#ff3900"/><stop offset="0.5515" stop-color="#ff4c00"/><stop offset="0.5613" stop-color="#ff4f00"/><stop offset="0.5931" stop-color="#ff4d00"/><stop offset="0.6176" stop-color="#ff3c00"/><stop offset="0.674" stop-color="#ff1300"/><stop offset="0.6985" stop-color="#ff1000"/><stop offset="0.7206" stop-color="#ff1300"/><stop offset="0.7475" stop-color="#ff2400"/><stop offset="0.7794" stop-color="#ff4200"/><stop offset="0.799" stop-color="#ff5e00"/><stop offset="0.8088" stop-color="#ff6400"/><stop offset="0.8382" stop-color="#ff6200"/><stop offset="0.848" stop-color="#ff5500"/><stop offset="0.875" stop-color="#ff1b00"/><stop offset="0.8848" stop-color="#ff1000"/><stop offset="0.9069" stop-color="#ff1200"/><stop offset="0.9191" stop-color="#ff1f00"/><stop offset="0.9559" stop-color="#ff5f00"/><stop offset="0.9681" stop-color="#ff6b00"/><stop offset="1" stop-color="#ff6c00"/></linearGradient><linearGradient id="ag15"><stop offset="0" stop-color="#0074ff"/><stop offset="0.01225" stop-color="#00c8ff"/><stop offset="0.01471" stop-color="#00ddff"/><stop offset="0.01716" stop-color="#00ecff"/><stop offset="0.01961" stop-color="#00f2fc"/><stop offset="0.02451" stop-color="#00efe7"/><stop offset="0.02941" stop-color="#00e9d2"/><stop offset="0.04412" stop-color="#00e880"/><stop offset="0.05637" stop-color="#00e744"/><stop offset="0.06863" stop-color="#00e408"/><stop offset="0.07108" stop-color="#00e400"/><stop offset="0.1544" stop-color="#00e400"/><stop offset="0.1618" stop-color="#51ec00"/><stop offset="0.1642" stop-color="#63ee00"/><stop offset="0.1863" stop-color="#98f000"/><stop offset="0.2034" stop-color="#bef000"/><stop offset="0.2157" stop-color="#e9f600"/><stop offset="0.223" stop-color="#fffc00"/><stop offset="0.2328" stop-color="#fffa00"/><stop offset="0.2353" stop-color="#fff800"/><stop offset="0.2475" stop-color="#ffd600"/><stop offset="0.2843" stop-color="#ff8d00"/><stop offset="0.3113" stop-color="#ff6600"/><stop offset="0.3505" stop-color="#ff3600"/><stop offset="0.3725" stop-color="#ff1600"/><stop offset="0.3824" stop-color="#ff1000"/><stop offset="0.5123" stop-color="#ff1100"/><stop offset="0.5245" stop-color="#ff1e00"/><stop offset="0.5441" stop-color="#ff3b00"/><stop offset="0.5539" stop-color="#ff4a00"/><stop offset="0.5931" stop-color="#ff4b00"/><stop offset="0.6176" stop-color="#ff3c00"/><stop offset="0.674" stop-color="#ff1300"/><stop offset="0.6961" stop-color="#ff1000"/><stop offset="0.7206" stop-color="#ff1200"/><stop offset="0.7475" stop-color="#ff2300"/><stop offset="0.7794" stop-color="#ff4000"/><stop offset="0.799" stop-color="#ff5d00"/><stop offset="0.8088" stop-color="#ff6200"/><stop offset="0.8382" stop-color="#ff6100"/><stop offset="0.848" stop-color="#ff5500"/><stop offset="0.875" stop-color="#ff1c00"/><stop offset="0.8848" stop-color="#ff1100"/><stop offset="0.9069" stop-color="#ff1100"/><stop offset="0.9191" stop-color="#ff1d00"/><stop offset="0.9559" stop-color="#ff5c00"/><stop offset="0.9681" stop-color="#ff6900"/><stop offset="1" stop-color="#ff6a00"/></linearGradient><linearGradient id="ag16"><stop offset="0" stop-color="#0079ff"/><stop offset="0.01225" stop-color="#00cbff"/><stop offset="0.01471" stop-color="#00dfff"/><stop offset="0.01716" stop-color="#00edff"/><stop offset="0.01961" stop-color="#00f2fb"/><stop offset="0.02451" stop-color="#00efe7"/><stop offset="0.02941" stop-color="#00e8d1"/><stop offset="0.04412" stop-color="#00e87d"/><stop offset="0.06618" stop-color="#00e50d"/><stop offset="0.06863" stop-color="#00e401"/><stop offset="0.1495" stop-color="#00e400"/><stop offset="0.152" stop-color="#0ee500"/><stop offset="0.1593" stop-color="#5fee00"/><stop offset="0.1789" stop-color="#90f000"/><stop offset="0.201" stop-color="#c0f000"/><stop offset="0.2132" stop-color="#ebf700"/><stop offset="0.2206" stop-color="#fffc00"/><stop offset="0.2304" stop-color="#fffa00"/><stop offset="0.2353" stop-color="#fff000"/><stop offset="0.2451" stop-color="#ffd600"/><stop offset="0.2819" stop-color="#ff8d00"/><stop offset="0.3088" stop-color="#ff6700"/><stop offset="0.348" stop-color="#ff3700"/><stop offset="0.3701" stop-color="#ff1700"/><stop offset="0.3799" stop-color="#ff1000"/><stop offset="0.5147" stop-color="#ff1100"/><stop offset="0.527" stop-color="#ff2000"/><stop offset="0.5539" stop-color="#ff4700"/><stop offset="0.5956" stop-color="#ff4700"/><stop offset="0.6422" stop-color="#ff2a00"/><stop offset="0.674" stop-color="#ff1300"/><stop offset="0.6936" stop-color="#ff1000"/><stop offset="0.7206" stop-color="#ff1200"/><stop offset="0.7475" stop-color="#ff2200"/><stop offset="0.7794" stop-color="#ff3f00"/><stop offset="0.8015" stop-color="#ff5d00"/><stop offset="0.8113" stop-color="#ff6000"/><stop offset="0.8382" stop-color="#ff6000"/><stop offset="0.848" stop-color="#ff5500"/><stop offset="0.875" stop-color="#ff1d00"/><stop offset="0.8848" stop-color="#ff1100"/><stop offset="0.9069" stop-color="#ff1100"/><stop offset="0.9191" stop-color="#ff1c00"/><stop offset="0.9412" stop-color="#ff4100"/><stop offset="0.9583" stop-color="#ff5d00"/><stop offset="0.9706" stop-color="#ff6800"/><stop offset="1" stop-color="#ff6800"/></linearGradient><linearGradient id="ag17"><stop offset="0" stop-color="#007eff"/><stop offset="0.009804" stop-color="#00bbff"/><stop offset="0.01471" stop-color="#00e1ff"/><stop offset="0.01716" stop-color="#00edff"/><stop offset="0.01961" stop-color="#00f2fa"/><stop offset="0.02206" stop-color="#00f2f1"/><stop offset="0.02941" stop-color="#00e8cf"/><stop offset="0.04412" stop-color="#00e87a"/><stop offset="0.06373" stop-color="#00e513"/><stop offset="0.06618" stop-color="#00e407"/><stop offset="0.06863" stop-color="#00e400"/><stop offset="0.1471" stop-color="#00e400"/><stop offset="0.1544" stop-color="#53ed00"/><stop offset="0.1569" stop-color="#63ee00"/><stop offset="0.1789" stop-color="#98f000"/><stop offset="0.1985" stop-color="#c3f000"/><stop offset="0.2108" stop-color="#ecf700"/><stop offset="0.2157" stop-color="#fbfb00"/><stop offset="0.2181" stop-color="#fffc00"/><stop offset="0.2279" stop-color="#fffa00"/><stop offset="0.2328" stop-color="#fff000"/><stop offset="0.2426" stop-color="#ffd500"/><stop offset="0.2794" stop-color="#ff8e00"/><stop offset="0.3064" stop-color="#ff6700"/><stop offset="0.348" stop-color="#ff3500"/><stop offset="0.3676" stop-color="#ff1800"/><stop offset="0.3775" stop-color="#ff1000"/><stop offset="0.5147" stop-color="#ff1000"/><stop offset="0.5245" stop-color="#ff1a00"/><stop offset="0.5539" stop-color="#ff4400"/><stop offset="0.5956" stop-color="#ff4400"/><stop offset="0.6422" stop-color="#ff2900"/><stop offset="0.674" stop-color="#ff1300"/><stop offset="0.6961" stop-color="#ff1000"/><stop offset="0.7206" stop-color="#ff1200"/><stop offset="0.7475" stop-color="#ff2200"/><stop offset="0.7794" stop-color="#ff3e00"/><stop offset="0.8015" stop-color="#ff5b00"/><stop offset="0.8113" stop-color="#ff5e00"/><stop offset="0.8407" stop-color="#ff5d00"/><stop offset="0.8505" stop-color="#ff5000"/><stop offset="0.8775" stop-color="#ff1a00"/><stop offset="0.8873" stop-color="#ff1000"/><stop offset="0.9093" stop-color="#ff1100"/><stop offset="0.9216" stop-color="#ff1d00"/><stop offset="0.9583" stop-color="#ff5a00"/><stop offset="0.9706" stop-color="#ff6500"/><stop offset="1" stop-color="#ff6700"/></linearGradient><linearGradient id="ag18"><stop offset="0" stop-color="#0082ff"/><stop offset="0.009804" stop-color="#00bdff"/><stop offset="0.01471" stop-color="#00e2ff"/><stop offset="0.01716" stop-color="#00eeff"/><stop offset="0.01961" stop-color="#00f2fa"/><stop offset="0.02206" stop-color="#00f2f0"/><stop offset="0.02941" stop-color="#00e8ce"/><stop offset="0.04412" stop-color="#00e876"/><stop offset="0.05392" stop-color="#00e741"/><stop offset="0.06618" stop-color="#00e400"/><stop offset="0.1422" stop-color="#00e400"/><stop offset="0.1446" stop-color="#0ee500"/><stop offset="0.152" stop-color="#60ee00"/><stop offset="0.174" stop-color="#95f000"/><stop offset="0.1936" stop-color="#bef000"/><stop offset="0.2083" stop-color="#edf700"/><stop offset="0.2132" stop-color="#fcfb00"/><stop offset="0.2181" stop-color="#fffb00"/><stop offset="0.2255" stop-color="#fffa00"/><stop offset="0.2353" stop-color="#ffe200"/><stop offset="0.2451" stop-color="#ffcc00"/><stop offset="0.277" stop-color="#ff8e00"/><stop offset="0.3039" stop-color="#ff6800"/><stop offset="0.3456" stop-color="#ff3600"/><stop offset="0.3676" stop-color="#ff1600"/><stop offset="0.3775" stop-color="#ff1000"/><stop offset="0.5172" stop-color="#ff1000"/><stop offset="0.527" stop-color="#ff1b00"/><stop offset="0.5539" stop-color="#ff3f00"/><stop offset="0.5956" stop-color="#ff3f00"/><stop offset="0.6471" stop-color="#ff2200"/><stop offset="0.674" stop-color="#ff1100"/><stop offset="0.7108" stop-color="#ff0f00"/><stop offset="0.7328" stop-color="#ff1800"/><stop offset="0.7819" stop-color="#ff4000"/><stop offset="0.8015" stop-color="#ff5700"/><stop offset="0.8137" stop-color="#ff5b00"/><stop offset="0.8407" stop-color="#ff5a00"/><stop offset="0.8505" stop-color="#ff4f00"/><stop offset="0.8799" stop-color="#ff1800"/><stop offset="0.8897" stop-color="#ff0f00"/><stop offset="0.9118" stop-color="#ff1100"/><stop offset="0.924" stop-color="#ff1e00"/><stop offset="0.9583" stop-color="#ff5700"/><stop offset="0.9706" stop-color="#ff6200"/><stop offset="1" stop-color="#ff6500"/></linearGradient><linearGradient id="ag19"><stop offset="0" stop-color="#0087ff"/><stop offset="0.009804" stop-color="#00bfff"/><stop offset="0.01471" stop-color="#00e4ff"/><stop offset="0.01716" stop-color="#00efff"/><stop offset="0.01961" stop-color="#00f2f9"/><stop offset="0.02206" stop-color="#00f2ef"/><stop offset="0.02941" stop-color="#00e8cc"/><stop offset="0.04412" stop-color="#00e873"/><stop offset="0.06127" stop-color="#00e513"/><stop offset="0.06373" stop-color="#00e406"/><stop offset="0.06618" stop-color="#00e400"/><stop offset="0.1397" stop-color="#00e400"/><stop offset="0.1471" stop-color="#52ed00"/><stop offset="0.1495" stop-color="#63ee00"/><stop offset="0.1691" stop-color="#92f000"/><stop offset="0.1912" stop-color="#bff000"/><stop offset="0.2034" stop-color="#e8f600"/><stop offset="0.2108" stop-color="#fdfc00"/><stop offset="0.223" stop-color="#fffa00"/><stop offset="0.2377" stop-color="#ffd500"/><stop offset="0.2745" stop-color="#ff8e00"/><stop offset="0.3015" stop-color="#ff6800"/><stop offset="0.3456" stop-color="#ff3300"/><stop offset="0.3652" stop-color="#ff1700"/><stop offset="0.3775" stop-color="#ff1000"/><stop offset="0.5196" stop-color="#ff1000"/><stop offset="0.5294" stop-color="#ff1a00"/><stop offset="0.5539" stop-color="#ff3b00"/><stop offset="0.5956" stop-color="#ff3b00"/><stop offset="0.6716" stop-color="#ff1000"/><stop offset="0.7132" stop-color="#ff0f00"/><stop offset="0.7353" stop-color="#ff1900"/><stop offset="0.7868" stop-color="#ff4500"/><stop offset="0.8039" stop-color="#ff5500"/><stop offset="0.8382" stop-color="#ff5700"/><stop offset="0.848" stop-color="#ff5100"/><stop offset="0.8627" stop-color="#ff3900"/><stop offset="0.8824" stop-color="#ff1700"/><stop offset="0.8922" stop-color="#ff0e00"/><stop offset="0.9118" stop-color="#ff0f00"/><stop offset="0.924" stop-color="#ff1b00"/><stop offset="0.9583" stop-color="#ff5400"/><stop offset="0.9706" stop-color="#ff5f00"/><stop offset="1" stop-color="#ff6400"/></linearGradient><linearGradient id="ag20"><stop offset="0" stop-color="#008bff"/><stop offset="0.009804" stop-color="#00c2ff"/><stop offset="0.01471" stop-color="#00e6ff"/><stop offset="0.01716" stop-color="#00f0ff"/><stop offset="0.02206" stop-color="#00f1ee"/><stop offset="0.02941" stop-color="#00e8ca"/><stop offset="0.04412" stop-color="#00e86f"/><stop offset="0.06127" stop-color="#00e50d"/><stop offset="0.06373" stop-color="#00e400"/><stop offset="0.1348" stop-color="#00e400"/><stop offset="0.1373" stop-color="#0ae500"/><stop offset="0.1446" stop-color="#5dee00"/><stop offset="0.1495" stop-color="#6cef00"/><stop offset="0.1691" stop-color="#99f000"/><stop offset="0.1887" stop-color="#c1f000"/><stop offset="0.201" stop-color="#e9f600"/><stop offset="0.2083" stop-color="#fefc00"/><stop offset="0.2206" stop-color="#fffa00"/><stop offset="0.2353" stop-color="#ffd500"/><stop offset="0.2721" stop-color="#ff8f00"/><stop offset="0.3015" stop-color="#ff6600"/><stop offset="0.3431" stop-color="#ff3500"/><stop offset="0.3652" stop-color="#ff1600"/><stop offset="0.3775" stop-color="#ff1000"/><stop offset="0.5221" stop-color="#ff1000"/><stop offset="0.5343" stop-color="#ff1d00"/><stop offset="0.5539" stop-color="#ff3600"/><stop offset="0.5931" stop-color="#ff3700"/><stop offset="0.6691" stop-color="#ff0f00"/><stop offset="0.7132" stop-color="#ff0e00"/><stop offset="0.7377" stop-color="#ff1b00"/><stop offset="0.8039" stop-color="#ff5200"/><stop offset="0.8358" stop-color="#ff5400"/><stop offset="0.8456" stop-color="#ff5100"/><stop offset="0.8578" stop-color="#ff4200"/><stop offset="0.8824" stop-color="#ff1800"/><stop offset="0.8946" stop-color="#ff0d00"/><stop offset="0.9142" stop-color="#ff0f00"/><stop offset="0.9265" stop-color="#ff1b00"/><stop offset="0.9583" stop-color="#ff5100"/><stop offset="0.9706" stop-color="#ff5c00"/><stop offset="0.9975" stop-color="#ff6300"/><stop offset="1" stop-color="#ff6300"/></linearGradient><linearGradient id="ag21"><stop offset="0" stop-color="#008eff"/><stop offset="0.009804" stop-color="#00c4ff"/><stop offset="0.01471" stop-color="#00e8ff"/><stop offset="0.01716" stop-color="#00f1ff"/><stop offset="0.02206" stop-color="#00f1ed"/><stop offset="0.02941" stop-color="#00e8c8"/><stop offset="0.04412" stop-color="#00e86b"/><stop offset="0.05147" stop-color="#00e73f"/><stop offset="0.06127" stop-color="#00e406"/><stop offset="0.06373" stop-color="#00e400"/><stop offset="0.1324" stop-color="#00e400"/><stop offset="0.1348" stop-color="#13e600"/><stop offset="0.1397" stop-color="#4bec00"/><stop offset="0.1422" stop-color="#61ee00"/><stop offset="0.1618" stop-color="#90f000"/><stop offset="0.1863" stop-color="#c3f000"/><stop offset="0.1985" stop-color="#eaf700"/><stop offset="0.2059" stop-color="#fffc00"/><stop offset="0.2181" stop-color="#fffa00"/><stop offset="0.2328" stop-color="#ffd500"/><stop offset="0.2696" stop-color="#ff8f00"/><stop offset="0.299" stop-color="#ff6600"/><stop offset="0.3407" stop-color="#ff3600"/><stop offset="0.3627" stop-color="#ff1700"/><stop offset="0.375" stop-color="#ff1000"/><stop offset="0.5245" stop-color="#ff1100"/><stop offset="0.5417" stop-color="#ff2300"/><stop offset="0.5539" stop-color="#ff3300"/><stop offset="0.5931" stop-color="#ff3400"/><stop offset="0.6593" stop-color="#ff1000"/><stop offset="0.6838" stop-color="#ff0c00"/><stop offset="0.7157" stop-color="#ff0e00"/><stop offset="0.7402" stop-color="#ff1d00"/><stop offset="0.799" stop-color="#ff4c00"/><stop offset="0.8137" stop-color="#ff5100"/><stop offset="0.8431" stop-color="#ff5000"/><stop offset="0.8554" stop-color="#ff4500"/><stop offset="0.8848" stop-color="#ff1700"/><stop offset="0.8971" stop-color="#ff0d00"/><stop offset="0.9142" stop-color="#ff0d00"/><stop offset="0.9265" stop-color="#ff1900"/><stop offset="0.9583" stop-color="#ff4f00"/><stop offset="0.9706" stop-color="#ff5a00"/><stop offset="0.9951" stop-color="#ff6100"/><stop offset="1" stop-color="#ff6100"/></linearGradient><linearGradient id="ag22"><stop offset="0" stop-color="#0091ff"/><stop offset="0.009804" stop-color="#00c7ff"/><stop offset="0.01471" stop-color="#00e9ff"/><stop offset="0.01716" stop-color="#00f1ff"/><stop offset="0.02206" stop-color="#00f1ec"/><stop offset="0.02696" stop-color="#00e9d4"/><stop offset="0.04412" stop-color="#00e866"/><stop offset="0.05637" stop-color="#00e51b"/><stop offset="0.06127" stop-color="#00e400"/><stop offset="0.1299" stop-color="#00e400"/><stop offset="0.1373" stop-color="#53ed00"/><stop offset="0.1397" stop-color="#63ee00"/><stop offset="0.1593" stop-color="#92f000"/><stop offset="0.1838" stop-color="#c4f100"/><stop offset="0.1961" stop-color="#ebf700"/><stop offset="0.2034" stop-color="#fffc00"/><stop offset="0.2157" stop-color="#fffa00"/><stop offset="0.2304" stop-color="#ffd500"/><stop offset="0.2696" stop-color="#ff8c00"/><stop offset="0.299" stop-color="#ff6400"/><stop offset="0.3407" stop-color="#ff3400"/><stop offset="0.3627" stop-color="#ff1600"/><stop offset="0.375" stop-color="#ff1000"/><stop offset="0.527" stop-color="#ff1100"/><stop offset="0.5466" stop-color="#ff2800"/><stop offset="0.5564" stop-color="#ff3400"/><stop offset="0.5956" stop-color="#ff3200"/><stop offset="0.6544" stop-color="#ff1200"/><stop offset="0.6789" stop-color="#ff0c00"/><stop offset="0.7157" stop-color="#ff0e00"/><stop offset="0.7402" stop-color="#ff1d00"/><stop offset="0.7819" stop-color="#ff3e00"/><stop offset="0.8064" stop-color="#ff4e00"/><stop offset="0.8431" stop-color="#ff4f00"/><stop offset="0.8554" stop-color="#ff4500"/><stop offset="0.8873" stop-color="#ff1500"/><stop offset="0.8995" stop-color="#ff0c00"/><stop offset="0.9167" stop-color="#ff0e00"/><stop offset="0.9289" stop-color="#ff1b00"/><stop offset="0.9583" stop-color="#ff4d00"/><stop offset="0.9706" stop-color="#ff5800"/><stop offset="0.9951" stop-color="#ff5f00"/><stop offset="1" stop-color="#ff5f00"/></linearGradient><linearGradient id="ag23"><stop offset="0" stop-color="#0093ff"/><stop offset="0.007353" stop-color="#00baff"/><stop offset="0.01471" stop-color="#00eaff"/><stop offset="0.01716" stop-color="#00f2fe"/><stop offset="0.02206" stop-color="#00f0ea"/><stop offset="0.02696" stop-color="#00e9d2"/><stop offset="0.04412" stop-color="#00e862"/><stop offset="0.05637" stop-color="#00e515"/><stop offset="0.05882" stop-color="#00e407"/><stop offset="0.06127" stop-color="#00e400"/><stop offset="0.125" stop-color="#00e400"/><stop offset="0.1275" stop-color="#04e400"/><stop offset="0.1348" stop-color="#59ed00"/><stop offset="0.1373" stop-color="#65ee00"/><stop offset="0.1569" stop-color="#93f000"/><stop offset="0.1789" stop-color="#bff000"/><stop offset="0.1936" stop-color="#ecf700"/><stop offset="0.201" stop-color="#fffc00"/><stop offset="0.2132" stop-color="#fff900"/><stop offset="0.2279" stop-color="#ffd400"/><stop offset="0.2672" stop-color="#ff8c00"/><stop offset="0.2966" stop-color="#ff6500"/><stop offset="0.3382" stop-color="#ff3600"/><stop offset="0.3603" stop-color="#ff1800"/><stop offset="0.3725" stop-color="#ff1000"/><stop offset="0.5294" stop-color="#ff1100"/><stop offset="0.549" stop-color="#ff2900"/><stop offset="0.5564" stop-color="#ff3200"/><stop offset="0.5956" stop-color="#ff3200"/><stop offset="0.6642" stop-color="#ff0f00"/><stop offset="0.6961" stop-color="#ff0c00"/><stop offset="0.7181" stop-color="#ff0f00"/><stop offset="0.7451" stop-color="#ff2100"/><stop offset="0.7843" stop-color="#ff3f00"/><stop offset="0.8088" stop-color="#ff4e00"/><stop offset="0.8456" stop-color="#ff4d00"/><stop offset="0.8578" stop-color="#ff4200"/><stop offset="0.8873" stop-color="#ff1600"/><stop offset="0.8995" stop-color="#ff0d00"/><stop offset="0.9167" stop-color="#ff0e00"/><stop offset="0.9289" stop-color="#ff1b00"/><stop offset="0.9583" stop-color="#ff4c00"/><stop offset="0.9706" stop-color="#ff5600"/><stop offset="0.9951" stop-color="#ff5d00"/><stop offset="1" stop-color="#ff5e00"/></linearGradient><linearGradient id="ag24"><stop offset="0" stop-color="#0095ff"/><stop offset="0.007353" stop-color="#00bcff"/><stop offset="0.01471" stop-color="#00ebff"/><stop offset="0.01716" stop-color="#00f2fd"/><stop offset="0.02206" stop-color="#00f0e8"/><stop offset="0.02696" stop-color="#00e8d0"/><stop offset="0.04167" stop-color="#00e86c"/><stop offset="0.05392" stop-color="#00e51d"/><stop offset="0.05882" stop-color="#00e400"/><stop offset="0.1225" stop-color="#00e400"/><stop offset="0.125" stop-color="#0ae500"/><stop offset="0.1324" stop-color="#5fee00"/><stop offset="0.1495" stop-color="#8af000"/><stop offset="0.1765" stop-color="#c0f000"/><stop offset="0.1887" stop-color="#e6f600"/><stop offset="0.1961" stop-color="#fbfb00"/><stop offset="0.1985" stop-color="#fffc00"/><stop offset="0.2108" stop-color="#fff800"/><stop offset="0.2255" stop-color="#ffd400"/><stop offset="0.2647" stop-color="#ff8d00"/><stop offset="0.2941" stop-color="#ff6600"/><stop offset="0.3382" stop-color="#ff3400"/><stop offset="0.3603" stop-color="#ff1700"/><stop offset="0.3725" stop-color="#ff1000"/><stop offset="0.5319" stop-color="#ff1200"/><stop offset="0.5539" stop-color="#ff2c00"/><stop offset="0.5613" stop-color="#ff3200"/><stop offset="0.598" stop-color="#ff3100"/><stop offset="0.6691" stop-color="#ff0f00"/><stop offset="0.7157" stop-color="#ff0e00"/><stop offset="0.7402" stop-color="#ff1c00"/><stop offset="0.7819" stop-color="#ff3d00"/><stop offset="0.8088" stop-color="#ff4d00"/><stop offset="0.8456" stop-color="#ff4d00"/><stop offset="0.8578" stop-color="#ff4200"/><stop offset="0.8897" stop-color="#ff1400"/><stop offset="0.902" stop-color="#ff0d00"/><stop offset="0.9191" stop-color="#ff0f00"/><stop offset="0.9314" stop-color="#ff1e00"/><stop offset="0.9583" stop-color="#ff4c00"/><stop offset="0.9706" stop-color="#ff5500"/><stop offset="0.9975" stop-color="#ff5b00"/><stop offset="1" stop-color="#ff5b00"/></linearGradient><linearGradient id="ag25"><stop offset="0" stop-color="#0098ff"/><stop offset="0.007353" stop-color="#00bdff"/><stop offset="0.01225" stop-color="#00dfff"/><stop offset="0.01471" stop-color="#00ecff"/><stop offset="0.01716" stop-color="#00f2fc"/><stop offset="0.02206" stop-color="#00efe6"/><stop offset="0.02696" stop-color="#00e8cd"/><stop offset="0.04167" stop-color="#00e867"/><stop offset="0.05392" stop-color="#00e517"/><stop offset="0.05637" stop-color="#00e408"/><stop offset="0.05882" stop-color="#00e400"/><stop offset="0.1201" stop-color="#00e400"/><stop offset="0.1225" stop-color="#0fe600"/><stop offset="0.1275" stop-color="#49ec00"/><stop offset="0.1299" stop-color="#61ee00"/><stop offset="0.1471" stop-color="#8bf000"/><stop offset="0.174" stop-color="#c1f000"/><stop offset="0.1863" stop-color="#e7f600"/><stop offset="0.1936" stop-color="#fcfb00"/><stop offset="0.1985" stop-color="#fffb00"/><stop offset="0.2083" stop-color="#fff800"/><stop offset="0.223" stop-color="#ffd400"/><stop offset="0.2623" stop-color="#ff8d00"/><stop offset="0.2917" stop-color="#ff6700"/><stop offset="0.3358" stop-color="#ff3600"/><stop offset="0.3603" stop-color="#ff1600"/><stop offset="0.3725" stop-color="#ff1000"/><stop offset="0.5319" stop-color="#ff1000"/><stop offset="0.5515" stop-color="#ff2300"/><stop offset="0.5637" stop-color="#ff3100"/><stop offset="0.6005" stop-color="#ff3100"/><stop offset="0.674" stop-color="#ff0f00"/><stop offset="0.7206" stop-color="#ff1000"/><stop offset="0.7451" stop-color="#ff1f00"/><stop offset="0.7819" stop-color="#ff3c00"/><stop offset="0.8088" stop-color="#ff4b00"/><stop offset="0.848" stop-color="#ff4b00"/><stop offset="0.8603" stop-color="#ff4000"/><stop offset="0.8897" stop-color="#ff1600"/><stop offset="0.902" stop-color="#ff0e00"/><stop offset="0.9191" stop-color="#ff0f00"/><stop offset="0.9314" stop-color="#ff1e00"/><stop offset="0.9559" stop-color="#ff4800"/><stop offset="0.9657" stop-color="#ff5100"/><stop offset="0.9951" stop-color="#ff5900"/><stop offset="1" stop-color="#ff5900"/></linearGradient><linearGradient id="ag26"><stop offset="0" stop-color="#0099ff"/><stop offset="0.007353" stop-color="#00bfff"/><stop offset="0.01225" stop-color="#00e1ff"/><stop offset="0.01471" stop-color="#00edff"/><stop offset="0.01716" stop-color="#00f2fa"/><stop offset="0.01961" stop-color="#00f2f1"/><stop offset="0.02696" stop-color="#00e8c9"/><stop offset="0.04167" stop-color="#00e862"/><stop offset="0.05392" stop-color="#00e510"/><stop offset="0.05637" stop-color="#00e401"/><stop offset="0.1176" stop-color="#00e400"/><stop offset="0.1201" stop-color="#13e600"/><stop offset="0.125" stop-color="#4dec00"/><stop offset="0.1275" stop-color="#62ee00"/><stop offset="0.1446" stop-color="#8df000"/><stop offset="0.1716" stop-color="#c3f000"/><stop offset="0.1838" stop-color="#e8f600"/><stop offset="0.1912" stop-color="#fdfb00"/><stop offset="0.201" stop-color="#fffb00"/><stop offset="0.2059" stop-color="#fff700"/><stop offset="0.2181" stop-color="#ffd800"/><stop offset="0.2598" stop-color="#ff8d00"/><stop offset="0.2892" stop-color="#ff6700"/><stop offset="0.3358" stop-color="#ff3500"/><stop offset="0.3603" stop-color="#ff1600"/><stop offset="0.3725" stop-color="#ff1000"/><stop offset="0.5343" stop-color="#ff1100"/><stop offset="0.5564" stop-color="#ff2400"/><stop offset="0.5686" stop-color="#ff3100"/><stop offset="0.6054" stop-color="#ff3000"/><stop offset="0.6789" stop-color="#ff1000"/><stop offset="0.723" stop-color="#ff1100"/><stop offset="0.7475" stop-color="#ff2000"/><stop offset="0.7843" stop-color="#ff3c00"/><stop offset="0.8113" stop-color="#ff4b00"/><stop offset="0.8505" stop-color="#ff4900"/><stop offset="0.8652" stop-color="#ff3a00"/><stop offset="0.8897" stop-color="#ff1700"/><stop offset="0.902" stop-color="#ff0f00"/><stop offset="0.9191" stop-color="#ff1000"/><stop offset="0.9289" stop-color="#ff1a00"/><stop offset="0.9559" stop-color="#ff4800"/><stop offset="0.9657" stop-color="#ff5000"/><stop offset="0.9975" stop-color="#ff5600"/><stop offset="1" stop-color="#ff5600"/></linearGradient><linearGradient id="ag27"><stop offset="0" stop-color="#009bff"/><stop offset="0.007353" stop-color="#00c1ff"/><stop offset="0.01225" stop-color="#00e4ff"/><stop offset="0.01471" stop-color="#00efff"/><stop offset="0.01716" stop-color="#00f2f9"/><stop offset="0.01961" stop-color="#00f2ef"/><stop offset="0.02451" stop-color="#00ead5"/><stop offset="0.04167" stop-color="#00e85d"/><stop offset="0.05147" stop-color="#00e519"/><stop offset="0.05392" stop-color="#00e40a"/><stop offset="0.05637" stop-color="#00e400"/><stop offset="0.1152" stop-color="#00e400"/><stop offset="0.1176" stop-color="#16e600"/><stop offset="0.1225" stop-color="#51ec00"/><stop offset="0.125" stop-color="#63ee00"/><stop offset="0.1422" stop-color="#8df000"/><stop offset="0.1691" stop-color="#c4f100"/><stop offset="0.1838" stop-color="#f0f800"/><stop offset="0.1887" stop-color="#fefc00"/><stop offset="0.201" stop-color="#fffa00"/><stop offset="0.2059" stop-color="#fff100"/><stop offset="0.2157" stop-color="#ffd800"/><stop offset="0.2574" stop-color="#ff8e00"/><stop offset="0.2868" stop-color="#ff6800"/><stop offset="0.3358" stop-color="#ff3300"/><stop offset="0.3578" stop-color="#ff1700"/><stop offset="0.3701" stop-color="#ff1000"/><stop offset="0.5368" stop-color="#ff1100"/><stop offset="0.5613" stop-color="#ff2400"/><stop offset="0.5735" stop-color="#ff3000"/><stop offset="0.6103" stop-color="#ff2f00"/><stop offset="0.6838" stop-color="#ff1200"/><stop offset="0.7279" stop-color="#ff1300"/><stop offset="0.7525" stop-color="#ff2200"/><stop offset="0.7868" stop-color="#ff3d00"/><stop offset="0.8113" stop-color="#ff4a00"/><stop offset="0.8505" stop-color="#ff4900"/><stop offset="0.8627" stop-color="#ff3e00"/><stop offset="0.8922" stop-color="#ff1700"/><stop offset="0.9044" stop-color="#ff1000"/><stop offset="0.9216" stop-color="#ff1200"/><stop offset="0.9338" stop-color="#ff2200"/><stop offset="0.9534" stop-color="#ff4400"/><stop offset="0.9632" stop-color="#ff4d00"/><stop offset="0.9975" stop-color="#ff5400"/><stop offset="1" stop-color="#ff5400"/></linearGradient><linearGradient id="ag28"><stop offset="0" stop-color="#009dff"/><stop offset="0.007353" stop-color="#00c3ff"/><stop offset="0.01225" stop-color="#00e6ff"/><stop offset="0.01471" stop-color="#00f0ff"/><stop offset="0.01961" stop-color="#00f1ed"/><stop offset="0.02451" stop-color="#00e9d3"/><stop offset="0.04902" stop-color="#00e623"/><stop offset="0.05392" stop-color="#00e403"/><stop offset="0.05882" stop-color="#00e400"/><stop offset="0.1127" stop-color="#00e400"/><stop offset="0.1152" stop-color="#18e700"/><stop offset="0.1201" stop-color="#53ed00"/><stop offset="0.1225" stop-color="#64ee00"/><stop offset="0.1397" stop-color="#8ef000"/><stop offset="0.1642" stop-color="#bef000"/><stop offset="0.1814" stop-color="#f1f800"/><stop offset="0.1863" stop-color="#fefc00"/><stop offset="0.1985" stop-color="#fffa00"/><stop offset="0.2059" stop-color="#ffea00"/><stop offset="0.2157" stop-color="#ffd300"/><stop offset="0.2549" stop-color="#ff8f00"/><stop offset="0.2843" stop-color="#ff6900"/><stop offset="0.3333" stop-color="#ff3500"/><stop offset="0.3578" stop-color="#ff1700"/><stop offset="0.3701" stop-color="#ff1000"/><stop offset="0.5392" stop-color="#ff1100"/><stop offset="0.5662" stop-color="#ff2500"/><stop offset="0.5784" stop-color="#ff3000"/><stop offset="0.6152" stop-color="#ff2f00"/><stop offset="0.6667" stop-color="#ff1b00"/><stop offset="0.6912" stop-color="#ff1300"/><stop offset="0.7328" stop-color="#ff1500"/><stop offset="0.7574" stop-color="#ff2500"/><stop offset="0.7892" stop-color="#ff3d00"/><stop offset="0.8113" stop-color="#ff4900"/><stop offset="0.8529" stop-color="#ff4800"/><stop offset="0.8676" stop-color="#ff3900"/><stop offset="0.8922" stop-color="#ff1800"/><stop offset="0.9044" stop-color="#ff1100"/><stop offset="0.9216" stop-color="#ff1300"/><stop offset="0.9338" stop-color="#ff2200"/><stop offset="0.9534" stop-color="#ff4400"/><stop offset="0.9632" stop-color="#ff4c00"/><stop offset="1" stop-color="#ff5200"/></linearGradient><linearGradient id="ag29"><stop offset="0" stop-color="#009eff"/><stop offset="0.007353" stop-color="#00c6ff"/><stop offset="0.01225" stop-color="#00e8ff"/><stop offset="0.01471" stop-color="#00f1ff"/><stop offset="0.01961" stop-color="#00f0ea"/><stop offset="0.02451" stop-color="#00e8d0"/><stop offset="0.03922" stop-color="#00e863"/><stop offset="0.04902" stop-color="#00e51d"/><stop offset="0.05147" stop-color="#00e50c"/><stop offset="0.05392" stop-color="#00e400"/><stop offset="0.1103" stop-color="#00e400"/><stop offset="0.1127" stop-color="#19e700"/><stop offset="0.1176" stop-color="#55ed00"/><stop offset="0.1201" stop-color="#64ee00"/><stop offset="0.1373" stop-color="#8ff000"/><stop offset="0.1618" stop-color="#bff000"/><stop offset="0.1765" stop-color="#ebf700"/><stop offset="0.1838" stop-color="#fffc00"/><stop offset="0.1961" stop-color="#fffa00"/><stop offset="0.2059" stop-color="#ffe400"/><stop offset="0.2132" stop-color="#ffd400"/><stop offset="0.2525" stop-color="#ff8f00"/><stop offset="0.2819" stop-color="#ff6a00"/><stop offset="0.3333" stop-color="#ff3400"/><stop offset="0.3578" stop-color="#ff1600"/><stop offset="0.3701" stop-color="#ff1000"/><stop offset="0.5417" stop-color="#ff1100"/><stop offset="0.5735" stop-color="#ff2800"/><stop offset="0.5858" stop-color="#ff3000"/><stop offset="0.6225" stop-color="#ff2e00"/><stop offset="0.6691" stop-color="#ff1e00"/><stop offset="0.6961" stop-color="#ff1400"/><stop offset="0.7353" stop-color="#ff1600"/><stop offset="0.7574" stop-color="#ff2400"/><stop offset="0.7892" stop-color="#ff3c00"/><stop offset="0.8113" stop-color="#ff4800"/><stop offset="0.8529" stop-color="#ff4800"/><stop offset="0.8652" stop-color="#ff3e00"/><stop offset="0.8946" stop-color="#ff1800"/><stop offset="0.9069" stop-color="#ff1300"/><stop offset="0.9216" stop-color="#ff1400"/><stop offset="0.9314" stop-color="#ff1f00"/><stop offset="0.9534" stop-color="#ff4400"/><stop offset="0.9632" stop-color="#ff4b00"/><stop offset="1" stop-color="#ff5000"/></linearGradient><linearGradient id="ag30"><stop offset="0" stop-color="#00a0ff"/><stop offset="0.007353" stop-color="#00c8ff"/><stop offset="0.01225" stop-color="#00eaff"/><stop offset="0.01471" stop-color="#00f2fe"/><stop offset="0.01961" stop-color="#00f0e8"/><stop offset="0.02451" stop-color="#00e8cc"/><stop offset="0.03922" stop-color="#00e85e"/><stop offset="0.04902" stop-color="#00e516"/><stop offset="0.05147" stop-color="#00e406"/><stop offset="0.05392" stop-color="#00e400"/><stop offset="0.1078" stop-color="#00e400"/><stop offset="0.1103" stop-color="#19e700"/><stop offset="0.1152" stop-color="#55ed00"/><stop offset="0.1176" stop-color="#64ee00"/><stop offset="0.1348" stop-color="#8ff000"/><stop offset="0.1593" stop-color="#bff000"/><stop offset="0.174" stop-color="#ebf700"/><stop offset="0.1814" stop-color="#fffc00"/><stop offset="0.1936" stop-color="#fffa00"/><stop offset="0.2034" stop-color="#ffe400"/><stop offset="0.2108" stop-color="#ffd400"/><stop offset="0.25" stop-color="#ff9000"/><stop offset="0.2794" stop-color="#ff6b00"/><stop offset="0.3309" stop-color="#ff3600"/><stop offset="0.3554" stop-color="#ff1800"/><stop offset="0.3676" stop-color="#ff1000"/><stop offset="0.5441" stop-color="#ff1100"/><stop offset="0.576" stop-color="#ff2600"/><stop offset="0.5907" stop-color="#ff3000"/><stop offset="0.6299" stop-color="#ff2e00"/><stop offset="0.6716" stop-color="#ff2000"/><stop offset="0.6985" stop-color="#ff1600"/><stop offset="0.7402" stop-color="#ff1700"/><stop offset="0.7647" stop-color="#ff2900"/><stop offset="0.8015" stop-color="#ff4300"/><stop offset="0.8162" stop-color="#ff4900"/><stop offset="0.8554" stop-color="#ff4700"/><stop offset="0.8701" stop-color="#ff3900"/><stop offset="0.8946" stop-color="#ff1a00"/><stop offset="0.9069" stop-color="#ff1400"/><stop offset="0.9216" stop-color="#ff1500"/><stop offset="0.9314" stop-color="#ff1f00"/><stop offset="0.9534" stop-color="#ff4400"/><stop offset="0.9632" stop-color="#ff4a00"/><stop offset="1" stop-color="#ff4e00"/></linearGradient><linearGradient id="ag31"><stop offset="0" stop-color="#00a1ff"/><stop offset="0.004902" stop-color="#00bbff"/><stop offset="0.01225" stop-color="#00ebff"/><stop offset="0.01471" stop-color="#00f2fd"/><stop offset="0.01716" stop-color="#00f2f2"/><stop offset="0.02206" stop-color="#00ebd8"/><stop offset="0.02451" stop-color="#00e8c8"/><stop offset="0.03676" stop-color="#00e86a"/><stop offset="0.04902" stop-color="#00e510"/><stop offset="0.05147" stop-color="#00e400"/><stop offset="0.1054" stop-color="#00e400"/><stop offset="0.1078" stop-color="#16e600"/><stop offset="0.1127" stop-color="#53ed00"/><stop offset="0.1152" stop-color="#64ee00"/><stop offset="0.1324" stop-color="#8ff000"/><stop offset="0.1569" stop-color="#bff000"/><stop offset="0.1716" stop-color="#ebf700"/><stop offset="0.1789" stop-color="#fffc00"/><stop offset="0.1912" stop-color="#fffa00"/><stop offset="0.1985" stop-color="#ffeb00"/><stop offset="0.2083" stop-color="#ffd400"/><stop offset="0.25" stop-color="#ff8d00"/><stop offset="0.2819" stop-color="#ff6700"/><stop offset="0.3309" stop-color="#ff3500"/><stop offset="0.3554" stop-color="#ff1700"/><stop offset="0.3676" stop-color="#ff1000"/><stop offset="0.5441" stop-color="#ff1100"/><stop offset="0.5784" stop-color="#ff2600"/><stop offset="0.5931" stop-color="#ff3000"/><stop offset="0.6348" stop-color="#ff2e00"/><stop offset="0.674" stop-color="#ff2100"/><stop offset="0.701" stop-color="#ff1700"/><stop offset="0.7426" stop-color="#ff1800"/><stop offset="0.7672" stop-color="#ff2900"/><stop offset="0.8064" stop-color="#ff4500"/><stop offset="0.826" stop-color="#ff4800"/><stop offset="0.8578" stop-color="#ff4600"/><stop offset="0.8725" stop-color="#ff3800"/><stop offset="0.8946" stop-color="#ff1c00"/><stop offset="0.9069" stop-color="#ff1600"/><stop offset="0.924" stop-color="#ff1700"/><stop offset="0.9363" stop-color="#ff2800"/><stop offset="0.9534" stop-color="#ff4400"/><stop offset="0.9632" stop-color="#ff4900"/><stop offset="1" stop-color="#ff4d00"/></linearGradient><linearGradient id="ag32"><stop offset="0" stop-color="#00a3ff"/><stop offset="0.004902" stop-color="#00bcff"/><stop offset="0.009804" stop-color="#00dfff"/><stop offset="0.01225" stop-color="#00ecff"/><stop offset="0.01471" stop-color="#00f2fb"/><stop offset="0.01716" stop-color="#00f2f1"/><stop offset="0.02206" stop-color="#00ead6"/><stop offset="0.02941" stop-color="#00e89d"/><stop offset="0.04657" stop-color="#00e51b"/><stop offset="0.04902" stop-color="#00e409"/><stop offset="0.05147" stop-color="#00e400"/><stop offset="0.1029" stop-color="#00e400"/><stop offset="0.1054" stop-color="#12e600"/><stop offset="0.1103" stop-color="#50ec00"/><stop offset="0.1127" stop-color="#63ee00"/><stop offset="0.1299" stop-color="#8ff000"/><stop offset="0.1544" stop-color="#bff000"/><stop offset="0.1691" stop-color="#ebf700"/><stop offset="0.1765" stop-color="#fffc00"/><stop offset="0.1887" stop-color="#fffa00"/><stop offset="0.1936" stop-color="#fff100"/><stop offset="0.2059" stop-color="#ffd500"/><stop offset="0.2475" stop-color="#ff8e00"/><stop offset="0.2794" stop-color="#ff6800"/><stop offset="0.3309" stop-color="#ff3400"/><stop offset="0.3554" stop-color="#ff1700"/><stop offset="0.3676" stop-color="#ff1000"/><stop offset="0.5466" stop-color="#ff1200"/><stop offset="0.5809" stop-color="#ff2700"/><stop offset="0.5956" stop-color="#ff3000"/><stop offset="0.6397" stop-color="#ff2d00"/><stop offset="0.6789" stop-color="#ff2100"/><stop offset="0.7059" stop-color="#ff1800"/><stop offset="0.7451" stop-color="#ff1900"/><stop offset="0.7672" stop-color="#ff2800"/><stop offset="0.8064" stop-color="#ff4500"/><stop offset="0.8235" stop-color="#ff4800"/><stop offset="0.8578" stop-color="#ff4700"/><stop offset="0.8725" stop-color="#ff3a00"/><stop offset="0.8971" stop-color="#ff1b00"/><stop offset="0.9093" stop-color="#ff1700"/><stop offset="0.924" stop-color="#ff1900"/><stop offset="0.9338" stop-color="#ff2400"/><stop offset="0.9534" stop-color="#ff4400"/><stop offset="0.9632" stop-color="#ff4900"/><stop offset="1" stop-color="#ff4c00"/></linearGradient><linearGradient id="ag33"><stop offset="0" stop-color="#00a4ff"/><stop offset="0.004902" stop-color="#00beff"/><stop offset="0.009804" stop-color="#00e1ff"/><stop offset="0.01225" stop-color="#00eeff"/><stop offset="0.01471" stop-color="#00f2f9"/><stop offset="0.01716" stop-color="#00f1ee"/><stop offset="0.02206" stop-color="#00e9d3"/><stop offset="0.03676" stop-color="#00e860"/><stop offset="0.04657" stop-color="#00e514"/><stop offset="0.04902" stop-color="#00e403"/><stop offset="0.05392" stop-color="#00e400"/><stop offset="0.1005" stop-color="#00e400"/><stop offset="0.1029" stop-color="#0ce500"/><stop offset="0.1078" stop-color="#4bec00"/><stop offset="0.1103" stop-color="#62ee00"/><stop offset="0.1275" stop-color="#8ef000"/><stop offset="0.152" stop-color="#bff000"/><stop offset="0.1691" stop-color="#f0f800"/><stop offset="0.174" stop-color="#fefc00"/><stop offset="0.1863" stop-color="#fffa00"/><stop offset="0.1912" stop-color="#fff200"/><stop offset="0.2034" stop-color="#ffd500"/><stop offset="0.2451" stop-color="#ff8f00"/><stop offset="0.277" stop-color="#ff6900"/><stop offset="0.3284" stop-color="#ff3600"/><stop offset="0.3554" stop-color="#ff1600"/><stop offset="0.3676" stop-color="#ff1000"/><stop offset="0.5466" stop-color="#ff1200"/><stop offset="0.5809" stop-color="#ff2700"/><stop offset="0.5956" stop-color="#ff3000"/><stop offset="0.6422" stop-color="#ff2d00"/><stop offset="0.6814" stop-color="#ff2200"/><stop offset="0.7083" stop-color="#ff1800"/><stop offset="0.7475" stop-color="#ff1a00"/><stop offset="0.7721" stop-color="#ff2b00"/><stop offset="0.8113" stop-color="#ff4700"/><stop offset="0.8603" stop-color="#ff4700"/><stop offset="0.875" stop-color="#ff3800"/><stop offset="0.8971" stop-color="#ff1d00"/><stop offset="0.9093" stop-color="#ff1900"/><stop offset="0.924" stop-color="#ff1a00"/><stop offset="0.9338" stop-color="#ff2500"/><stop offset="0.9534" stop-color="#ff4400"/><stop offset="0.9632" stop-color="#ff4900"/><stop offset="1" stop-color="#ff4c00"/></linearGradient><linearGradient id="ag34"><stop offset="0" stop-color="#00a5ff"/><stop offset="0.004902" stop-color="#00bfff"/><stop offset="0.009804" stop-color="#00e3ff"/><stop offset="0.01225" stop-color="#00efff"/><stop offset="0.01471" stop-color="#00f2f8"/><stop offset="0.01961" stop-color="#00ecde"/><stop offset="0.02206" stop-color="#00e8d0"/><stop offset="0.03431" stop-color="#00e86d"/><stop offset="0.04657" stop-color="#00e50e"/><stop offset="0.04902" stop-color="#00e400"/><stop offset="0.09804" stop-color="#00e400"/><stop offset="0.1005" stop-color="#04e400"/><stop offset="0.1054" stop-color="#44eb00"/><stop offset="0.1078" stop-color="#61ee00"/><stop offset="0.125" stop-color="#8df000"/><stop offset="0.152" stop-color="#c5f100"/><stop offset="0.1667" stop-color="#eff800"/><stop offset="0.1716" stop-color="#fdfb00"/><stop offset="0.1789" stop-color="#fffb00"/><stop offset="0.1863" stop-color="#fff900"/><stop offset="0.201" stop-color="#ffd600"/><stop offset="0.2426" stop-color="#ff9100"/><stop offset="0.2745" stop-color="#ff6a00"/><stop offset="0.3284" stop-color="#ff3500"/><stop offset="0.3529" stop-color="#ff1700"/><stop offset="0.3652" stop-color="#ff1000"/><stop offset="0.5441" stop-color="#ff1100"/><stop offset="0.5784" stop-color="#ff2500"/><stop offset="0.5931" stop-color="#ff3000"/><stop offset="0.6397" stop-color="#ff2e00"/><stop offset="0.6838" stop-color="#ff2200"/><stop offset="0.7108" stop-color="#ff1900"/><stop offset="0.75" stop-color="#ff1b00"/><stop offset="0.777" stop-color="#ff2f00"/><stop offset="0.8137" stop-color="#ff4700"/><stop offset="0.8603" stop-color="#ff4700"/><stop offset="0.875" stop-color="#ff3a00"/><stop offset="0.8971" stop-color="#ff1f00"/><stop offset="0.9093" stop-color="#ff1a00"/><stop offset="0.9265" stop-color="#ff1d00"/><stop offset="0.9387" stop-color="#ff2d00"/><stop offset="0.9534" stop-color="#ff4400"/><stop offset="0.9632" stop-color="#ff4900"/><stop offset="1" stop-color="#ff4c00"/></linearGradient><linearGradient id="ag35"><stop offset="0" stop-color="#00a6ff"/><stop offset="0.004902" stop-color="#00c0ff"/><stop offset="0.009804" stop-color="#00e6ff"/><stop offset="0.01225" stop-color="#00f0ff"/><stop offset="0.01471" stop-color="#00f2f6"/><stop offset="0.01961" stop-color="#00ecdb"/><stop offset="0.02206" stop-color="#00e8cc"/><stop offset="0.03431" stop-color="#00e867"/><stop offset="0.04412" stop-color="#00e51a"/><stop offset="0.04657" stop-color="#00e408"/><stop offset="0.04902" stop-color="#00e400"/><stop offset="0.09804" stop-color="#00e400"/><stop offset="0.1054" stop-color="#5bee00"/><stop offset="0.1078" stop-color="#66ee00"/><stop offset="0.1225" stop-color="#8cf000"/><stop offset="0.1495" stop-color="#c3f000"/><stop offset="0.1618" stop-color="#e8f600"/><stop offset="0.1691" stop-color="#fbfb00"/><stop offset="0.1716" stop-color="#fffc00"/><stop offset="0.1838" stop-color="#fffa00"/><stop offset="0.201" stop-color="#ffd300"/><stop offset="0.2426" stop-color="#ff8e00"/><stop offset="0.2745" stop-color="#ff6900"/><stop offset="0.326" stop-color="#ff3700"/><stop offset="0.3529" stop-color="#ff1700"/><stop offset="0.3652" stop-color="#ff1000"/><stop offset="0.5441" stop-color="#ff1100"/><stop offset="0.5784" stop-color="#ff2500"/><stop offset="0.5931" stop-color="#ff3000"/><stop offset="0.6422" stop-color="#ff2f00"/><stop offset="0.6887" stop-color="#ff2100"/><stop offset="0.7157" stop-color="#ff1900"/><stop offset="0.75" stop-color="#ff1a00"/><stop offset="0.7721" stop-color="#ff2900"/><stop offset="0.8137" stop-color="#ff4700"/><stop offset="0.8627" stop-color="#ff4700"/><stop offset="0.8775" stop-color="#ff3900"/><stop offset="0.8995" stop-color="#ff2000"/><stop offset="0.9142" stop-color="#ff1d00"/><stop offset="0.9265" stop-color="#ff1e00"/><stop offset="0.9387" stop-color="#ff2d00"/><stop offset="0.9534" stop-color="#ff4300"/><stop offset="0.9632" stop-color="#ff4900"/><stop offset="1" stop-color="#ff4d00"/></linearGradient><linearGradient id="ag36"><stop offset="0" stop-color="#00a7ff"/><stop offset="0.004902" stop-color="#00c2ff"/><stop offset="0.009804" stop-color="#00e8ff"/><stop offset="0.01225" stop-color="#00f2ff"/><stop offset="0.01716" stop-color="#00efe7"/><stop offset="0.02206" stop-color="#00e8c7"/><stop offset="0.03431" stop-color="#00e862"/><stop offset="0.04412" stop-color="#00e513"/><stop offset="0.04657" stop-color="#00e401"/><stop offset="0.09559" stop-color="#00e400"/><stop offset="0.09804" stop-color="#14e600"/><stop offset="0.1029" stop-color="#53ed00"/><stop offset="0.1054" stop-color="#64ee00"/><stop offset="0.1201" stop-color="#8bf000"/><stop offset="0.1471" stop-color="#c2f000"/><stop offset="0.1593" stop-color="#e6f600"/><stop offset="0.1691" stop-color="#fffc00"/><stop offset="0.1814" stop-color="#fffa00"/><stop offset="0.1985" stop-color="#ffd400"/><stop offset="0.2402" stop-color="#ff9000"/><stop offset="0.2721" stop-color="#ff6a00"/><stop offset="0.326" stop-color="#ff3600"/><stop offset="0.3529" stop-color="#ff1600"/><stop offset="0.3652" stop-color="#ff1000"/><stop offset="0.5441" stop-color="#ff1200"/><stop offset="0.5784" stop-color="#ff2600"/><stop offset="0.5931" stop-color="#ff3100"/><stop offset="0.6446" stop-color="#ff2f00"/><stop offset="0.6936" stop-color="#ff2000"/><stop offset="0.7181" stop-color="#ff1900"/><stop offset="0.7525" stop-color="#ff1b00"/><stop offset="0.7794" stop-color="#ff2f00"/><stop offset="0.8137" stop-color="#ff4700"/><stop offset="0.8652" stop-color="#ff4600"/><stop offset="0.8824" stop-color="#ff3500"/><stop offset="0.8995" stop-color="#ff2200"/><stop offset="0.9118" stop-color="#ff1f00"/><stop offset="0.9265" stop-color="#ff2000"/><stop offset="0.9387" stop-color="#ff2e00"/><stop offset="0.9559" stop-color="#ff4600"/><stop offset="0.9706" stop-color="#ff4b00"/><stop offset="1" stop-color="#ff4d00"/></linearGradient><linearGradient id="ag37"><stop offset="0" stop-color="#00a7ff"/><stop offset="0.004902" stop-color="#00c4ff"/><stop offset="0.009804" stop-color="#00eaff"/><stop offset="0.01225" stop-color="#00f2fd"/><stop offset="0.01471" stop-color="#00f2f2"/><stop offset="0.01961" stop-color="#00ead5"/><stop offset="0.04167" stop-color="#00e620"/><stop offset="0.04412" stop-color="#00e50d"/><stop offset="0.04657" stop-color="#00e400"/><stop offset="0.09314" stop-color="#00e400"/><stop offset="0.09559" stop-color="#09e500"/><stop offset="0.1005" stop-color="#4aec00"/><stop offset="0.1029" stop-color="#62ee00"/><stop offset="0.1176" stop-color="#8af000"/><stop offset="0.1446" stop-color="#c0f000"/><stop offset="0.1569" stop-color="#e5f500"/><stop offset="0.1667" stop-color="#fffc00"/><stop offset="0.1789" stop-color="#fffa00"/><stop offset="0.1838" stop-color="#fff100"/><stop offset="0.1961" stop-color="#ffd500"/><stop offset="0.2377" stop-color="#ff9100"/><stop offset="0.2696" stop-color="#ff6b00"/><stop offset="0.3235" stop-color="#ff3800"/><stop offset="0.3505" stop-color="#ff1700"/><stop offset="0.3627" stop-color="#ff1000"/><stop offset="0.5417" stop-color="#ff1100"/><stop offset="0.576" stop-color="#ff2500"/><stop offset="0.5907" stop-color="#ff3100"/><stop offset="0.6471" stop-color="#ff3000"/><stop offset="0.7206" stop-color="#ff1a00"/><stop offset="0.7549" stop-color="#ff1c00"/><stop offset="0.8137" stop-color="#ff4600"/><stop offset="0.8652" stop-color="#ff4700"/><stop offset="0.8799" stop-color="#ff3b00"/><stop offset="0.8995" stop-color="#ff2500"/><stop offset="0.9118" stop-color="#ff2100"/><stop offset="0.9289" stop-color="#ff2300"/><stop offset="0.9436" stop-color="#ff3500"/><stop offset="0.9583" stop-color="#ff4700"/><stop offset="0.9902" stop-color="#ff4e00"/><stop offset="1" stop-color="#ff4e00"/></linearGradient><linearGradient id="ag38"><stop offset="0" stop-color="#00a8ff"/><stop offset="0.004902" stop-color="#00c6ff"/><stop offset="0.009804" stop-color="#00ebff"/><stop offset="0.01225" stop-color="#00f2fb"/><stop offset="0.01471" stop-color="#00f2f0"/><stop offset="0.01961" stop-color="#00e9d2"/><stop offset="0.03922" stop-color="#00e62d"/><stop offset="0.04412" stop-color="#00e406"/><stop offset="0.04657" stop-color="#00e400"/><stop offset="0.09314" stop-color="#00e400"/><stop offset="0.1005" stop-color="#5eee00"/><stop offset="0.1127" stop-color="#82f000"/><stop offset="0.1348" stop-color="#b1f000"/><stop offset="0.1422" stop-color="#bff000"/><stop offset="0.1593" stop-color="#f0f800"/><stop offset="0.1642" stop-color="#fdfb00"/><stop offset="0.1765" stop-color="#fffa00"/><stop offset="0.1789" stop-color="#fff900"/><stop offset="0.1936" stop-color="#ffd700"/><stop offset="0.2377" stop-color="#ff8f00"/><stop offset="0.2696" stop-color="#ff6a00"/><stop offset="0.3235" stop-color="#ff3800"/><stop offset="0.3505" stop-color="#ff1600"/><stop offset="0.3627" stop-color="#ff1000"/><stop offset="0.5417" stop-color="#ff1200"/><stop offset="0.5735" stop-color="#ff2500"/><stop offset="0.5882" stop-color="#ff3200"/><stop offset="0.6471" stop-color="#ff3100"/><stop offset="0.7206" stop-color="#ff1a00"/><stop offset="0.7549" stop-color="#ff1b00"/><stop offset="0.7819" stop-color="#ff2f00"/><stop offset="0.8162" stop-color="#ff4700"/><stop offset="0.8676" stop-color="#ff4700"/><stop offset="0.8848" stop-color="#ff3700"/><stop offset="0.902" stop-color="#ff2600"/><stop offset="0.9216" stop-color="#ff2400"/><stop offset="0.9314" stop-color="#ff2700"/><stop offset="0.9583" stop-color="#ff4700"/><stop offset="0.9779" stop-color="#ff4d00"/><stop offset="1" stop-color="#ff4f00"/></linearGradient><linearGradient id="ag39"><stop offset="0" stop-color="#00a9ff"/><stop offset="0.004902" stop-color="#00c8ff"/><stop offset="0.007353" stop-color="#00ddff"/><stop offset="0.009804" stop-color="#00edff"/><stop offset="0.01225" stop-color="#00f2f9"/><stop offset="0.01471" stop-color="#00f1ed"/><stop offset="0.01961" stop-color="#00e8ce"/><stop offset="0.03186" stop-color="#00e865"/><stop offset="0.04167" stop-color="#00e513"/><stop offset="0.04412" stop-color="#00e400"/><stop offset="0.09069" stop-color="#00e400"/><stop offset="0.09314" stop-color="#13e600"/><stop offset="0.09804" stop-color="#53ed00"/><stop offset="0.1005" stop-color="#64ee00"/><stop offset="0.1152" stop-color="#8cf000"/><stop offset="0.1422" stop-color="#c4f000"/><stop offset="0.1544" stop-color="#e8f600"/><stop offset="0.1618" stop-color="#fbfb00"/><stop offset="0.1642" stop-color="#fffc00"/><stop offset="0.1765" stop-color="#fffa00"/><stop offset="0.1936" stop-color="#ffd400"/><stop offset="0.2353" stop-color="#ff9100"/><stop offset="0.2672" stop-color="#ff6c00"/><stop offset="0.3211" stop-color="#ff3a00"/><stop offset="0.3505" stop-color="#ff1600"/><stop offset="0.3627" stop-color="#ff1000"/><stop offset="0.5392" stop-color="#ff1100"/><stop offset="0.5711" stop-color="#ff2400"/><stop offset="0.5882" stop-color="#ff3300"/><stop offset="0.6495" stop-color="#ff3200"/><stop offset="0.723" stop-color="#ff1a00"/><stop offset="0.7574" stop-color="#ff1c00"/><stop offset="0.8162" stop-color="#ff4700"/><stop offset="0.8701" stop-color="#ff4600"/><stop offset="0.8922" stop-color="#ff3100"/><stop offset="0.9069" stop-color="#ff2700"/><stop offset="0.9289" stop-color="#ff2700"/><stop offset="0.9436" stop-color="#ff3600"/><stop offset="0.9608" stop-color="#ff4900"/><stop offset="0.9926" stop-color="#ff5000"/><stop offset="1" stop-color="#ff5000"/></linearGradient><linearGradient id="ag40"><stop offset="0" stop-color="#00aaff"/><stop offset="0.004902" stop-color="#00caff"/><stop offset="0.007353" stop-color="#00dfff"/><stop offset="0.009804" stop-color="#00eeff"/><stop offset="0.01225" stop-color="#00f2f7"/><stop offset="0.01716" stop-color="#00ebdb"/><stop offset="0.01961" stop-color="#00e8ca"/><stop offset="0.03186" stop-color="#00e860"/><stop offset="0.04167" stop-color="#00e50d"/><stop offset="0.04412" stop-color="#00e400"/><stop offset="0.08824" stop-color="#00e400"/><stop offset="0.09069" stop-color="#05e500"/><stop offset="0.09559" stop-color="#47eb00"/><stop offset="0.09804" stop-color="#62ee00"/><stop offset="0.1127" stop-color="#8af000"/><stop offset="0.1397" stop-color="#c1f000"/><stop offset="0.152" stop-color="#e6f600"/><stop offset="0.1618" stop-color="#fffc00"/><stop offset="0.174" stop-color="#fffa00"/><stop offset="0.1838" stop-color="#ffe500"/><stop offset="0.1912" stop-color="#ffd500"/><stop offset="0.2353" stop-color="#ff8f00"/><stop offset="0.2672" stop-color="#ff6b00"/><stop offset="0.3211" stop-color="#ff3900"/><stop offset="0.348" stop-color="#ff1700"/><stop offset="0.3603" stop-color="#ff1000"/><stop offset="0.5368" stop-color="#ff1100"/><stop offset="0.5686" stop-color="#ff2300"/><stop offset="0.5858" stop-color="#ff3300"/><stop offset="0.6495" stop-color="#ff3300"/><stop offset="0.723" stop-color="#ff1b00"/><stop offset="0.7574" stop-color="#ff1c00"/><stop offset="0.8186" stop-color="#ff4700"/><stop offset="0.8701" stop-color="#ff4700"/><stop offset="0.8873" stop-color="#ff3900"/><stop offset="0.9044" stop-color="#ff2a00"/><stop offset="0.9289" stop-color="#ff2a00"/><stop offset="0.9436" stop-color="#ff3700"/><stop offset="0.9632" stop-color="#ff4b00"/><stop offset="0.9975" stop-color="#ff5100"/><stop offset="1" stop-color="#ff5100"/></linearGradient><linearGradient id="ag41"><stop offset="0" stop-color="#00aaff"/><stop offset="0.002451" stop-color="#00baff"/><stop offset="0.007353" stop-color="#00e2ff"/><stop offset="0.009804" stop-color="#00f0ff"/><stop offset="0.01225" stop-color="#00f2f6"/><stop offset="0.01716" stop-color="#00ebd8"/><stop offset="0.01961" stop-color="#00e8c5"/><stop offset="0.03186" stop-color="#00e85b"/><stop offset="0.03922" stop-color="#00e51b"/><stop offset="0.04167" stop-color="#00e407"/><stop offset="0.04412" stop-color="#00e400"/><stop offset="0.08824" stop-color="#00e400"/><stop offset="0.09069" stop-color="#19e700"/><stop offset="0.09559" stop-color="#5aed00"/><stop offset="0.09804" stop-color="#66ee00"/><stop offset="0.1127" stop-color="#8ef000"/><stop offset="0.1373" stop-color="#bff000"/><stop offset="0.152" stop-color="#eaf700"/><stop offset="0.1593" stop-color="#fefc00"/><stop offset="0.174" stop-color="#fff800"/><stop offset="0.1887" stop-color="#ffd700"/><stop offset="0.2328" stop-color="#ff9000"/><stop offset="0.2647" stop-color="#ff6c00"/><stop offset="0.3186" stop-color="#ff3b00"/><stop offset="0.348" stop-color="#ff1600"/><stop offset="0.3603" stop-color="#ff1000"/><stop offset="0.5343" stop-color="#ff1100"/><stop offset="0.5662" stop-color="#ff2300"/><stop offset="0.5858" stop-color="#ff3500"/><stop offset="0.6495" stop-color="#ff3400"/><stop offset="0.723" stop-color="#ff1b00"/><stop offset="0.7574" stop-color="#ff1c00"/><stop offset="0.7819" stop-color="#ff2d00"/><stop offset="0.8186" stop-color="#ff4700"/><stop offset="0.8725" stop-color="#ff4700"/><stop offset="0.9044" stop-color="#ff2c00"/><stop offset="0.9289" stop-color="#ff2c00"/><stop offset="0.9436" stop-color="#ff3800"/><stop offset="0.9632" stop-color="#ff4b00"/><stop offset="0.9951" stop-color="#ff5200"/><stop offset="1" stop-color="#ff5200"/></linearGradient><linearGradient id="ag42"><stop offset="0" stop-color="#00abff"/><stop offset="0.002451" stop-color="#00bbff"/><stop offset="0.007353" stop-color="#00e5ff"/><stop offset="0.009804" stop-color="#00f1ff"/><stop offset="0.01225" stop-color="#00f2f4"/><stop offset="0.01716" stop-color="#00ead5"/><stop offset="0.03922" stop-color="#00e515"/><stop offset="0.04167" stop-color="#00e401"/><stop offset="0.08578" stop-color="#00e400"/><stop offset="0.08824" stop-color="#09e500"/><stop offset="0.09314" stop-color="#4cec00"/><stop offset="0.09559" stop-color="#63ee00"/><stop offset="0.1103" stop-color="#8cf000"/><stop offset="0.1373" stop-color="#c4f100"/><stop offset="0.1495" stop-color="#e8f600"/><stop offset="0.1569" stop-color="#fcfb00"/><stop offset="0.1593" stop-color="#fffc00"/><stop offset="0.1716" stop-color="#fffa00"/><stop offset="0.1887" stop-color="#ffd400"/><stop offset="0.2304" stop-color="#ff9200"/><stop offset="0.2623" stop-color="#ff6d00"/><stop offset="0.3186" stop-color="#ff3a00"/><stop offset="0.348" stop-color="#ff1600"/><stop offset="0.3603" stop-color="#ff1000"/><stop offset="0.5343" stop-color="#ff1100"/><stop offset="0.5662" stop-color="#ff2500"/><stop offset="0.5833" stop-color="#ff3500"/><stop offset="0.6495" stop-color="#ff3500"/><stop offset="0.723" stop-color="#ff1c00"/><stop offset="0.7598" stop-color="#ff1d00"/><stop offset="0.8186" stop-color="#ff4600"/><stop offset="0.875" stop-color="#ff4600"/><stop offset="0.9044" stop-color="#ff2f00"/><stop offset="0.9289" stop-color="#ff2e00"/><stop offset="0.9436" stop-color="#ff3900"/><stop offset="0.9632" stop-color="#ff4c00"/><stop offset="0.9951" stop-color="#ff5300"/><stop offset="1" stop-color="#ff5300"/></linearGradient><linearGradient id="ag43"><stop offset="0" stop-color="#00acff"/><stop offset="0.002451" stop-color="#00bcff"/><stop offset="0.007353" stop-color="#00e7ff"/><stop offset="0.009804" stop-color="#00f2fe"/><stop offset="0.01225" stop-color="#00f2f2"/><stop offset="0.01716" stop-color="#00e9d3"/><stop offset="0.02941" stop-color="#00e865"/><stop offset="0.03186" stop-color="#00e851"/><stop offset="0.03922" stop-color="#00e510"/><stop offset="0.04167" stop-color="#00e400"/><stop offset="0.08578" stop-color="#00e400"/><stop offset="0.08824" stop-color="#1ce700"/><stop offset="0.09314" stop-color="#5eee00"/><stop offset="0.1005" stop-color="#76ef00"/><stop offset="0.1152" stop-color="#9af000"/><stop offset="0.1348" stop-color="#c2f000"/><stop offset="0.1471" stop-color="#e6f600"/><stop offset="0.1569" stop-color="#fffc00"/><stop offset="0.1691" stop-color="#fffa00"/><stop offset="0.1814" stop-color="#ffe000"/><stop offset="0.1936" stop-color="#ffca00"/><stop offset="0.2304" stop-color="#ff9000"/><stop offset="0.2623" stop-color="#ff6c00"/><stop offset="0.3186" stop-color="#ff3a00"/><stop offset="0.3456" stop-color="#ff1700"/><stop offset="0.3578" stop-color="#ff1000"/><stop offset="0.5319" stop-color="#ff1100"/><stop offset="0.5637" stop-color="#ff2400"/><stop offset="0.5833" stop-color="#ff3700"/><stop offset="0.6495" stop-color="#ff3600"/><stop offset="0.7181" stop-color="#ff1d00"/><stop offset="0.7598" stop-color="#ff1d00"/><stop offset="0.8211" stop-color="#ff4700"/><stop offset="0.875" stop-color="#ff4700"/><stop offset="0.9069" stop-color="#ff3000"/><stop offset="0.9314" stop-color="#ff3100"/><stop offset="0.9534" stop-color="#ff4400"/><stop offset="0.9681" stop-color="#ff4f00"/><stop offset="1" stop-color="#ff5400"/></linearGradient><linearGradient id="ag44"><stop offset="0" stop-color="#00aeff"/><stop offset="0.002451" stop-color="#00beff"/><stop offset="0.007353" stop-color="#00e9ff"/><stop offset="0.009804" stop-color="#00f2fd"/><stop offset="0.01225" stop-color="#00f2f0"/><stop offset="0.01716" stop-color="#00e8cf"/><stop offset="0.02941" stop-color="#00e860"/><stop offset="0.03922" stop-color="#00e40a"/><stop offset="0.04167" stop-color="#00e400"/><stop offset="0.08333" stop-color="#00e400"/><stop offset="0.08578" stop-color="#0de500"/><stop offset="0.09069" stop-color="#51ec00"/><stop offset="0.09314" stop-color="#64ee00"/><stop offset="0.1078" stop-color="#8df000"/><stop offset="0.1324" stop-color="#c0f000"/><stop offset="0.1446" stop-color="#e5f500"/><stop offset="0.1544" stop-color="#fffc00"/><stop offset="0.1667" stop-color="#fffa00"/><stop offset="0.1716" stop-color="#fff200"/><stop offset="0.1838" stop-color="#ffd600"/><stop offset="0.2279" stop-color="#ff9100"/><stop offset="0.2598" stop-color="#ff6d00"/><stop offset="0.3162" stop-color="#ff3c00"/><stop offset="0.3456" stop-color="#ff1700"/><stop offset="0.3578" stop-color="#ff1000"/><stop offset="0.5294" stop-color="#ff1100"/><stop offset="0.5613" stop-color="#ff2400"/><stop offset="0.5833" stop-color="#ff3800"/><stop offset="0.6495" stop-color="#ff3800"/><stop offset="0.7034" stop-color="#ff2200"/><stop offset="0.7353" stop-color="#ff1d00"/><stop offset="0.7623" stop-color="#ff1e00"/><stop offset="0.8211" stop-color="#ff4600"/><stop offset="0.8775" stop-color="#ff4700"/><stop offset="0.9069" stop-color="#ff3200"/><stop offset="0.9314" stop-color="#ff3300"/><stop offset="0.9657" stop-color="#ff5000"/><stop offset="1" stop-color="#ff5500"/></linearGradient><linearGradient id="ag45"><stop offset="0" stop-color="#00afff"/><stop offset="0.002451" stop-color="#00c0ff"/><stop offset="0.007353" stop-color="#00eaff"/><stop offset="0.009804" stop-color="#00f2fb"/><stop offset="0.01225" stop-color="#00f1ee"/><stop offset="0.01716" stop-color="#00e8cc"/><stop offset="0.02696" stop-color="#00e871"/><stop offset="0.03922" stop-color="#00e404"/><stop offset="0.04167" stop-color="#00e400"/><stop offset="0.08333" stop-color="#00e400"/><stop offset="0.09069" stop-color="#61ee00"/><stop offset="0.1054" stop-color="#8bf000"/><stop offset="0.1324" stop-color="#c5f100"/><stop offset="0.1446" stop-color="#eaf600"/><stop offset="0.152" stop-color="#fdfc00"/><stop offset="0.1642" stop-color="#fffa00"/><stop offset="0.1667" stop-color="#fff900"/><stop offset="0.1838" stop-color="#ffd300"/><stop offset="0.2279" stop-color="#ff8f00"/><stop offset="0.2598" stop-color="#ff6c00"/><stop offset="0.3162" stop-color="#ff3b00"/><stop offset="0.3456" stop-color="#ff1600"/><stop offset="0.3578" stop-color="#ff1000"/><stop offset="0.527" stop-color="#ff1100"/><stop offset="0.5588" stop-color="#ff2500"/><stop offset="0.5833" stop-color="#ff3a00"/><stop offset="0.6495" stop-color="#ff3900"/><stop offset="0.6961" stop-color="#ff2500"/><stop offset="0.7304" stop-color="#ff1e00"/><stop offset="0.7623" stop-color="#ff1f00"/><stop offset="0.8235" stop-color="#ff4700"/><stop offset="0.8799" stop-color="#ff4700"/><stop offset="0.9069" stop-color="#ff3300"/><stop offset="0.9314" stop-color="#ff3500"/><stop offset="0.9657" stop-color="#ff5200"/><stop offset="1" stop-color="#ff5600"/></linearGradient><linearGradient id="ag46"><stop offset="0" stop-color="#00b1ff"/><stop offset="0.002451" stop-color="#00c2ff"/><stop offset="0.004902" stop-color="#00d8ff"/><stop offset="0.007353" stop-color="#00ecff"/><stop offset="0.009804" stop-color="#00f2fa"/><stop offset="0.01225" stop-color="#00f1ec"/><stop offset="0.01716" stop-color="#00e8c9"/><stop offset="0.02696" stop-color="#00e86d"/><stop offset="0.03676" stop-color="#00e514"/><stop offset="0.03922" stop-color="#00e400"/><stop offset="0.08088" stop-color="#00e400"/><stop offset="0.08333" stop-color="#0de500"/><stop offset="0.08824" stop-color="#52ed00"/><stop offset="0.09069" stop-color="#65ee00"/><stop offset="0.1054" stop-color="#8ef000"/><stop offset="0.1299" stop-color="#c3f000"/><stop offset="0.1422" stop-color="#e8f600"/><stop offset="0.1495" stop-color="#fbfb00"/><stop offset="0.152" stop-color="#fffc00"/><stop offset="0.1642" stop-color="#fffa00"/><stop offset="0.1814" stop-color="#ffd500"/><stop offset="0.2255" stop-color="#ff9100"/><stop offset="0.2574" stop-color="#ff6d00"/><stop offset="0.3162" stop-color="#ff3a00"/><stop offset="0.3456" stop-color="#ff1600"/><stop offset="0.3578" stop-color="#ff1100"/><stop offset="0.5245" stop-color="#ff1200"/><stop offset="0.5515" stop-color="#ff2300"/><stop offset="0.5833" stop-color="#ff3d00"/><stop offset="0.6471" stop-color="#ff3c00"/><stop offset="0.6936" stop-color="#ff2700"/><stop offset="0.7304" stop-color="#ff1f00"/><stop offset="0.7647" stop-color="#ff2100"/><stop offset="0.826" stop-color="#ff4700"/><stop offset="0.8824" stop-color="#ff4600"/><stop offset="0.9069" stop-color="#ff3500"/><stop offset="0.9289" stop-color="#ff3500"/><stop offset="0.9461" stop-color="#ff4400"/><stop offset="0.9632" stop-color="#ff5300"/><stop offset="1" stop-color="#ff5700"/></linearGradient><linearGradient id="ag47"><stop offset="0" stop-color="#00b3ff"/><stop offset="0.002451" stop-color="#00c4ff"/><stop offset="0.004902" stop-color="#00dbff"/><stop offset="0.007353" stop-color="#00edff"/><stop offset="0.009804" stop-color="#00f2f8"/><stop offset="0.01471" stop-color="#00ebd9"/><stop offset="0.01716" stop-color="#00e8c5"/><stop offset="0.02696" stop-color="#00e869"/><stop offset="0.03676" stop-color="#00e50f"/><stop offset="0.03922" stop-color="#00e400"/><stop offset="0.08088" stop-color="#00e400"/><stop offset="0.08333" stop-color="#1ee700"/><stop offset="0.08578" stop-color="#41eb00"/><stop offset="0.08824" stop-color="#61ee00"/><stop offset="0.1029" stop-color="#8cf000"/><stop offset="0.1275" stop-color="#c1f000"/><stop offset="0.1397" stop-color="#e6f600"/><stop offset="0.1495" stop-color="#fffc00"/><stop offset="0.1618" stop-color="#fffa00"/><stop offset="0.1789" stop-color="#ffd500"/><stop offset="0.223" stop-color="#ff9200"/><stop offset="0.2549" stop-color="#ff6f00"/><stop offset="0.3137" stop-color="#ff3c00"/><stop offset="0.3431" stop-color="#ff1800"/><stop offset="0.3554" stop-color="#ff1100"/><stop offset="0.5221" stop-color="#ff1200"/><stop offset="0.5466" stop-color="#ff2200"/><stop offset="0.5809" stop-color="#ff3f00"/><stop offset="0.6446" stop-color="#ff4000"/><stop offset="0.6912" stop-color="#ff2a00"/><stop offset="0.7279" stop-color="#ff2000"/><stop offset="0.7647" stop-color="#ff2200"/><stop offset="0.826" stop-color="#ff4600"/><stop offset="0.8824" stop-color="#ff4700"/><stop offset="0.9069" stop-color="#ff3600"/><stop offset="0.9289" stop-color="#ff3700"/><stop offset="0.9461" stop-color="#ff4700"/><stop offset="0.9608" stop-color="#ff5500"/><stop offset="1" stop-color="#ff5900"/></linearGradient><linearGradient id="ag48"><stop offset="0" stop-color="#00b5ff"/><stop offset="0.002451" stop-color="#00c7ff"/><stop offset="0.004902" stop-color="#00deff"/><stop offset="0.007353" stop-color="#00eeff"/><stop offset="0.009804" stop-color="#00f2f6"/><stop offset="0.01471" stop-color="#00ead7"/><stop offset="0.01961" stop-color="#00e8aa"/><stop offset="0.02941" stop-color="#00e84f"/><stop offset="0.03431" stop-color="#00e620"/><stop offset="0.03676" stop-color="#00e50a"/><stop offset="0.03922" stop-color="#00e400"/><stop offset="0.07843" stop-color="#00e400"/><stop offset="0.08088" stop-color="#0be500"/><stop offset="0.08578" stop-color="#52ed00"/><stop offset="0.08824" stop-color="#65ee00"/><stop offset="0.1029" stop-color="#8ff000"/><stop offset="0.125" stop-color="#bff000"/><stop offset="0.1397" stop-color="#ebf700"/><stop offset="0.1471" stop-color="#fffc00"/><stop offset="0.1593" stop-color="#fffa00"/><stop offset="0.1642" stop-color="#fff200"/><stop offset="0.1765" stop-color="#ffd600"/><stop offset="0.223" stop-color="#ff9000"/><stop offset="0.2549" stop-color="#ff6d00"/><stop offset="0.3137" stop-color="#ff3b00"/><stop offset="0.3431" stop-color="#ff1800"/><stop offset="0.3554" stop-color="#ff1200"/><stop offset="0.5196" stop-color="#ff1300"/><stop offset="0.5441" stop-color="#ff2400"/><stop offset="0.5809" stop-color="#ff4200"/><stop offset="0.6446" stop-color="#ff4200"/><stop offset="0.6887" stop-color="#ff2c00"/><stop offset="0.7279" stop-color="#ff2200"/><stop offset="0.7647" stop-color="#ff2300"/><stop offset="0.8284" stop-color="#ff4600"/><stop offset="0.8848" stop-color="#ff4700"/><stop offset="0.9069" stop-color="#ff3700"/><stop offset="0.9289" stop-color="#ff3900"/><stop offset="0.9485" stop-color="#ff4e00"/><stop offset="0.9608" stop-color="#ff5800"/><stop offset="1" stop-color="#ff5a00"/></linearGradient><linearGradient id="ag49"><stop offset="0" stop-color="#00b7ff"/><stop offset="0.002451" stop-color="#00caff"/><stop offset="0.004902" stop-color="#00e0ff"/><stop offset="0.007353" stop-color="#00efff"/><stop offset="0.009804" stop-color="#00f2f5"/><stop offset="0.01471" stop-color="#00ead5"/><stop offset="0.03431" stop-color="#00e51b"/><stop offset="0.03676" stop-color="#00e405"/><stop offset="0.03922" stop-color="#00e400"/><stop offset="0.07843" stop-color="#00e400"/><stop offset="0.08088" stop-color="#1be700"/><stop offset="0.08578" stop-color="#60ee00"/><stop offset="0.1005" stop-color="#8df000"/><stop offset="0.125" stop-color="#c3f000"/><stop offset="0.1373" stop-color="#e9f600"/><stop offset="0.1446" stop-color="#fdfb00"/><stop offset="0.1544" stop-color="#fffb00"/><stop offset="0.1593" stop-color="#fff900"/><stop offset="0.1765" stop-color="#ffd400"/><stop offset="0.2206" stop-color="#ff9100"/><stop offset="0.2525" stop-color="#ff6f00"/><stop offset="0.3137" stop-color="#ff3b00"/><stop offset="0.3431" stop-color="#ff1800"/><stop offset="0.3554" stop-color="#ff1200"/><stop offset="0.5172" stop-color="#ff1300"/><stop offset="0.5392" stop-color="#ff2300"/><stop offset="0.5809" stop-color="#ff4500"/><stop offset="0.6446" stop-color="#ff4500"/><stop offset="0.6863" stop-color="#ff2f00"/><stop offset="0.7255" stop-color="#ff2400"/><stop offset="0.7647" stop-color="#ff2400"/><stop offset="0.8309" stop-color="#ff4600"/><stop offset="0.8873" stop-color="#ff4700"/><stop offset="0.9069" stop-color="#ff3800"/><stop offset="0.9265" stop-color="#ff3900"/><stop offset="0.9387" stop-color="#ff4500"/><stop offset="0.9534" stop-color="#ff5700"/><stop offset="0.9681" stop-color="#ff5b00"/><stop offset="1" stop-color="#ff5c00"/></linearGradient><linearGradient id="ag50"><stop offset="0" stop-color="#00b9ff"/><stop offset="0.004902" stop-color="#00e3ff"/><stop offset="0.007353" stop-color="#00f1ff"/><stop offset="0.009804" stop-color="#00f2f4"/><stop offset="0.01471" stop-color="#00e9d3"/><stop offset="0.03431" stop-color="#00e517"/><stop offset="0.03676" stop-color="#00e401"/><stop offset="0.07598" stop-color="#00e400"/><stop offset="0.07843" stop-color="#05e500"/><stop offset="0.08333" stop-color="#4eec00"/><stop offset="0.08578" stop-color="#64ee00"/><stop offset="0.09804" stop-color="#89f000"/><stop offset="0.1201" stop-color="#bbf000"/><stop offset="0.125" stop-color="#c9f100"/><stop offset="0.1348" stop-color="#e7f600"/><stop offset="0.1422" stop-color="#fbfb00"/><stop offset="0.1446" stop-color="#fffc00"/><stop offset="0.1569" stop-color="#fffa00"/><stop offset="0.174" stop-color="#ffd500"/><stop offset="0.2181" stop-color="#ff9300"/><stop offset="0.25" stop-color="#ff7000"/><stop offset="0.3137" stop-color="#ff3a00"/><stop offset="0.3431" stop-color="#ff1800"/><stop offset="0.3554" stop-color="#ff1300"/><stop offset="0.5147" stop-color="#ff1400"/><stop offset="0.5368" stop-color="#ff2500"/><stop offset="0.5784" stop-color="#ff4700"/><stop offset="0.6029" stop-color="#ff4900"/><stop offset="0.6446" stop-color="#ff4800"/><stop offset="0.6838" stop-color="#ff3100"/><stop offset="0.7255" stop-color="#ff2500"/><stop offset="0.7672" stop-color="#ff2600"/><stop offset="0.8333" stop-color="#ff4700"/><stop offset="0.8873" stop-color="#ff4700"/><stop offset="0.9069" stop-color="#ff3900"/><stop offset="0.9265" stop-color="#ff3b00"/><stop offset="0.9412" stop-color="#ff4c00"/><stop offset="0.9534" stop-color="#ff5a00"/><stop offset="1" stop-color="#ff5d00"/></linearGradient><linearGradient id="ag51"><stop offset="0" stop-color="#00bbff"/><stop offset="0.004902" stop-color="#00e5ff"/><stop offset="0.007353" stop-color="#00f2ff"/><stop offset="0.009804" stop-color="#00f2f2"/><stop offset="0.01471" stop-color="#00e8d1"/><stop offset="0.03186" stop-color="#00e629"/><stop offset="0.03431" stop-color="#00e512"/><stop offset="0.03676" stop-color="#00e400"/><stop offset="0.07598" stop-color="#00e400"/><stop offset="0.07843" stop-color="#14e600"/><stop offset="0.08333" stop-color="#5cee00"/><stop offset="0.08824" stop-color="#70ef00"/><stop offset="0.1005" stop-color="#93f000"/><stop offset="0.1225" stop-color="#c5f100"/><stop offset="0.1324" stop-color="#e4f500"/><stop offset="0.1422" stop-color="#fffc00"/><stop offset="0.1544" stop-color="#fffa00"/><stop offset="0.1593" stop-color="#fff200"/><stop offset="0.1716" stop-color="#ffd600"/><stop offset="0.2181" stop-color="#ff9100"/><stop offset="0.2525" stop-color="#ff6d00"/><stop offset="0.3137" stop-color="#ff3900"/><stop offset="0.3431" stop-color="#ff1800"/><stop offset="0.3554" stop-color="#ff1300"/><stop offset="0.5123" stop-color="#ff1400"/><stop offset="0.5319" stop-color="#ff2400"/><stop offset="0.576" stop-color="#ff4900"/><stop offset="0.5931" stop-color="#ff4c00"/><stop offset="0.6422" stop-color="#ff4b00"/><stop offset="0.6838" stop-color="#ff3300"/><stop offset="0.7255" stop-color="#ff2600"/><stop offset="0.7672" stop-color="#ff2700"/><stop offset="0.8333" stop-color="#ff4600"/><stop offset="0.8873" stop-color="#ff4800"/><stop offset="0.9069" stop-color="#ff3b00"/><stop offset="0.9265" stop-color="#ff3d00"/><stop offset="0.951" stop-color="#ff5c00"/><stop offset="0.9951" stop-color="#ff5e00"/><stop offset="1" stop-color="#ff5e00"/></linearGradient><linearGradient id="ag52"><stop offset="0" stop-color="#00bdff"/><stop offset="0.004902" stop-color="#00e7ff"/><stop offset="0.007353" stop-color="#00f2fe"/><stop offset="0.009804" stop-color="#00f2f1"/><stop offset="0.01471" stop-color="#00e8cf"/><stop offset="0.02451" stop-color="#00e86d"/><stop offset="0.03431" stop-color="#00e50e"/><stop offset="0.03676" stop-color="#00e400"/><stop offset="0.07598" stop-color="#00e400"/><stop offset="0.07843" stop-color="#21e700"/><stop offset="0.08088" stop-color="#46eb00"/><stop offset="0.08333" stop-color="#62ee00"/><stop offset="0.09559" stop-color="#89f000"/><stop offset="0.1152" stop-color="#b7f000"/><stop offset="0.1201" stop-color="#c1f000"/><stop offset="0.1324" stop-color="#e8f600"/><stop offset="0.1397" stop-color="#fcfb00"/><stop offset="0.1446" stop-color="#fffb00"/><stop offset="0.1544" stop-color="#fff900"/><stop offset="0.1716" stop-color="#ffd400"/><stop offset="0.2157" stop-color="#ff9300"/><stop offset="0.25" stop-color="#ff6e00"/><stop offset="0.3137" stop-color="#ff3900"/><stop offset="0.3407" stop-color="#ff1a00"/><stop offset="0.3529" stop-color="#ff1400"/><stop offset="0.5098" stop-color="#ff1500"/><stop offset="0.527" stop-color="#ff2200"/><stop offset="0.576" stop-color="#ff4b00"/><stop offset="0.5956" stop-color="#ff4e00"/><stop offset="0.6422" stop-color="#ff4c00"/><stop offset="0.6814" stop-color="#ff3500"/><stop offset="0.723" stop-color="#ff2800"/><stop offset="0.7672" stop-color="#ff2800"/><stop offset="0.8358" stop-color="#ff4600"/><stop offset="0.8897" stop-color="#ff4800"/><stop offset="0.9069" stop-color="#ff3c00"/><stop offset="0.924" stop-color="#ff3d00"/><stop offset="0.9338" stop-color="#ff4800"/><stop offset="0.9485" stop-color="#ff5c00"/><stop offset="0.9632" stop-color="#ff5f00"/><stop offset="1" stop-color="#ff5f00"/></linearGradient><linearGradient id="ag53"><stop offset="0" stop-color="#00beff"/><stop offset="0.004902" stop-color="#00e8ff"/><stop offset="0.007353" stop-color="#00f2fd"/><stop offset="0.009804" stop-color="#00f2f0"/><stop offset="0.01471" stop-color="#00e8cd"/><stop offset="0.02451" stop-color="#00e86a"/><stop offset="0.03431" stop-color="#00e50b"/><stop offset="0.03676" stop-color="#00e400"/><stop offset="0.07353" stop-color="#00e400"/><stop offset="0.07598" stop-color="#07e500"/><stop offset="0.08088" stop-color="#52ed00"/><stop offset="0.08333" stop-color="#65ee00"/><stop offset="0.09559" stop-color="#8bf000"/><stop offset="0.1201" stop-color="#c5f100"/><stop offset="0.1299" stop-color="#e4f500"/><stop offset="0.1397" stop-color="#fffc00"/><stop offset="0.152" stop-color="#fffa00"/><stop offset="0.1593" stop-color="#ffec00"/><stop offset="0.1691" stop-color="#ffd600"/><stop offset="0.2157" stop-color="#ff9100"/><stop offset="0.25" stop-color="#ff6d00"/><stop offset="0.3113" stop-color="#ff3b00"/><stop offset="0.3407" stop-color="#ff1a00"/><stop offset="0.3529" stop-color="#ff1400"/><stop offset="0.5074" stop-color="#ff1500"/><stop offset="0.5245" stop-color="#ff2200"/><stop offset="0.5711" stop-color="#ff4a00"/><stop offset="0.5882" stop-color="#ff4f00"/><stop offset="0.6422" stop-color="#ff4e00"/><stop offset="0.6814" stop-color="#ff3600"/><stop offset="0.723" stop-color="#ff2800"/><stop offset="0.7696" stop-color="#ff2900"/><stop offset="0.8358" stop-color="#ff4600"/><stop offset="0.8897" stop-color="#ff4800"/><stop offset="0.9069" stop-color="#ff3e00"/><stop offset="0.924" stop-color="#ff3f00"/><stop offset="0.9363" stop-color="#ff4e00"/><stop offset="0.9485" stop-color="#ff5e00"/><stop offset="1" stop-color="#ff6000"/></linearGradient><linearGradient id="ag54"><stop offset="0" stop-color="#00c0ff"/><stop offset="0.004902" stop-color="#00e9ff"/><stop offset="0.007353" stop-color="#00f2fd"/><stop offset="0.009804" stop-color="#00f2ef"/><stop offset="0.01471" stop-color="#00e8cb"/><stop offset="0.02451" stop-color="#00e868"/><stop offset="0.02696" stop-color="#00e851"/><stop offset="0.03186" stop-color="#00e61e"/><stop offset="0.03431" stop-color="#00e407"/><stop offset="0.03676" stop-color="#00e400"/><stop offset="0.07353" stop-color="#00e400"/><stop offset="0.07598" stop-color="#12e600"/><stop offset="0.08088" stop-color="#5cee00"/><stop offset="0.08333" stop-color="#68ee00"/><stop offset="0.09559" stop-color="#8df000"/><stop offset="0.1176" stop-color="#c0f000"/><stop offset="0.1299" stop-color="#e7f600"/><stop offset="0.1373" stop-color="#fbfb00"/><stop offset="0.1397" stop-color="#fffc00"/><stop offset="0.152" stop-color="#fffa00"/><stop offset="0.1691" stop-color="#ffd500"/><stop offset="0.2132" stop-color="#ff9300"/><stop offset="0.2451" stop-color="#ff7100"/><stop offset="0.3113" stop-color="#ff3a00"/><stop offset="0.3407" stop-color="#ff1a00"/><stop offset="0.3529" stop-color="#ff1400"/><stop offset="0.5074" stop-color="#ff1500"/><stop offset="0.5686" stop-color="#ff4900"/><stop offset="0.5858" stop-color="#ff5000"/><stop offset="0.6422" stop-color="#ff4e00"/><stop offset="0.6814" stop-color="#ff3700"/><stop offset="0.723" stop-color="#ff2900"/><stop offset="0.7696" stop-color="#ff2900"/><stop offset="0.8358" stop-color="#ff4600"/><stop offset="0.8897" stop-color="#ff4800"/><stop offset="0.9069" stop-color="#ff4000"/><stop offset="0.924" stop-color="#ff4100"/><stop offset="0.9363" stop-color="#ff5000"/><stop offset="0.9485" stop-color="#ff5f00"/><stop offset="1" stop-color="#ff6000"/></linearGradient><linearGradient id="ag55"><stop offset="0" stop-color="#00c1ff"/><stop offset="0.004902" stop-color="#00eaff"/><stop offset="0.007353" stop-color="#00f2fc"/><stop offset="0.009804" stop-color="#00f2ee"/><stop offset="0.01471" stop-color="#00e8ca"/><stop offset="0.02451" stop-color="#00e865"/><stop offset="0.02696" stop-color="#00e84e"/><stop offset="0.03186" stop-color="#00e51b"/><stop offset="0.03431" stop-color="#00e404"/><stop offset="0.03676" stop-color="#00e400"/><stop offset="0.07353" stop-color="#00e400"/><stop offset="0.07598" stop-color="#1ce700"/><stop offset="0.07843" stop-color="#42eb00"/><stop offset="0.08088" stop-color="#61ee00"/><stop offset="0.09314" stop-color="#88f000"/><stop offset="0.1127" stop-color="#b7f000"/><stop offset="0.1176" stop-color="#c2f000"/><stop offset="0.1299" stop-color="#e8f600"/><stop offset="0.1373" stop-color="#fdfb00"/><stop offset="0.1422" stop-color="#fffb00"/><stop offset="0.152" stop-color="#fff900"/><stop offset="0.1691" stop-color="#ffd400"/><stop offset="0.2132" stop-color="#ff9200"/><stop offset="0.2475" stop-color="#ff6e00"/><stop offset="0.3113" stop-color="#ff3a00"/><stop offset="0.3407" stop-color="#ff1a00"/><stop offset="0.3554" stop-color="#ff1400"/><stop offset="0.5049" stop-color="#ff1500"/><stop offset="0.5245" stop-color="#ff2600"/><stop offset="0.5711" stop-color="#ff4b00"/><stop offset="0.5882" stop-color="#ff5000"/><stop offset="0.6422" stop-color="#ff4e00"/><stop offset="0.6814" stop-color="#ff3700"/><stop offset="0.723" stop-color="#ff2900"/><stop offset="0.7721" stop-color="#ff2a00"/><stop offset="0.8407" stop-color="#ff4800"/><stop offset="0.8922" stop-color="#ff4800"/><stop offset="0.9093" stop-color="#ff4200"/><stop offset="0.9265" stop-color="#ff4400"/><stop offset="0.9485" stop-color="#ff5e00"/><stop offset="0.9706" stop-color="#ff6000"/><stop offset="1" stop-color="#ff6000"/></linearGradient><linearGradient id="ag56"><stop offset="0" stop-color="#00c3ff"/><stop offset="0.004902" stop-color="#00eaff"/><stop offset="0.007353" stop-color="#00f2fb"/><stop offset="0.009804" stop-color="#00f1ee"/><stop offset="0.01471" stop-color="#00e8c8"/><stop offset="0.02941" stop-color="#00e630"/><stop offset="0.03431" stop-color="#00e401"/><stop offset="0.07353" stop-color="#00e400"/><stop offset="0.07843" stop-color="#4bec00"/><stop offset="0.08088" stop-color="#64ee00"/><stop offset="0.09314" stop-color="#8af000"/><stop offset="0.1127" stop-color="#b8f000"/><stop offset="0.1201" stop-color="#ccf200"/><stop offset="0.1299" stop-color="#eaf700"/><stop offset="0.1373" stop-color="#fefc00"/><stop offset="0.1495" stop-color="#fffa00"/><stop offset="0.1544" stop-color="#fff200"/><stop offset="0.1667" stop-color="#ffd600"/><stop offset="0.2108" stop-color="#ff9400"/><stop offset="0.2426" stop-color="#ff7100"/><stop offset="0.3113" stop-color="#ff3900"/><stop offset="0.3407" stop-color="#ff1a00"/><stop offset="0.3554" stop-color="#ff1400"/><stop offset="0.5025" stop-color="#ff1500"/><stop offset="0.5196" stop-color="#ff2200"/><stop offset="0.5613" stop-color="#ff4500"/><stop offset="0.5809" stop-color="#ff4f00"/><stop offset="0.6422" stop-color="#ff4e00"/><stop offset="0.6838" stop-color="#ff3600"/><stop offset="0.723" stop-color="#ff2900"/><stop offset="0.7745" stop-color="#ff2a00"/><stop offset="0.8235" stop-color="#ff4100"/><stop offset="0.8456" stop-color="#ff4c00"/><stop offset="0.8946" stop-color="#ff4b00"/><stop offset="0.9118" stop-color="#ff4500"/><stop offset="0.9314" stop-color="#ff4800"/><stop offset="0.9534" stop-color="#ff5d00"/><stop offset="1" stop-color="#ff5e00"/></linearGradient><linearGradient id="ag57"><stop offset="0" stop-color="#00c5ff"/><stop offset="0.004902" stop-color="#00ebff"/><stop offset="0.007353" stop-color="#00f2fb"/><stop offset="0.009804" stop-color="#00f1ed"/><stop offset="0.01225" stop-color="#00ecdb"/><stop offset="0.01471" stop-color="#00e8c7"/><stop offset="0.02941" stop-color="#00e62d"/><stop offset="0.03431" stop-color="#00e400"/><stop offset="0.07108" stop-color="#00e400"/><stop offset="0.07353" stop-color="#08e500"/><stop offset="0.07843" stop-color="#54ed00"/><stop offset="0.08088" stop-color="#66ee00"/><stop offset="0.09314" stop-color="#8cf000"/><stop offset="0.1127" stop-color="#baf000"/><stop offset="0.1176" stop-color="#c6f100"/><stop offset="0.1275" stop-color="#e5f500"/><stop offset="0.1373" stop-color="#fffc00"/><stop offset="0.1495" stop-color="#fffa00"/><stop offset="0.1667" stop-color="#ffd500"/><stop offset="0.2108" stop-color="#ff9300"/><stop offset="0.2426" stop-color="#ff7100"/><stop offset="0.3113" stop-color="#ff3900"/><stop offset="0.3407" stop-color="#ff1900"/><stop offset="0.3554" stop-color="#ff1400"/><stop offset="0.5025" stop-color="#ff1500"/><stop offset="0.5221" stop-color="#ff2600"/><stop offset="0.5711" stop-color="#ff4c00"/><stop offset="0.5907" stop-color="#ff5000"/><stop offset="0.6422" stop-color="#ff4f00"/><stop offset="0.6863" stop-color="#ff3500"/><stop offset="0.7255" stop-color="#ff2800"/><stop offset="0.7794" stop-color="#ff2a00"/><stop offset="0.8211" stop-color="#ff3b00"/><stop offset="0.8456" stop-color="#ff5100"/><stop offset="0.8946" stop-color="#ff5000"/><stop offset="0.9118" stop-color="#ff4900"/><stop offset="0.9363" stop-color="#ff4c00"/><stop offset="0.9608" stop-color="#ff5c00"/><stop offset="1" stop-color="#ff5d00"/></linearGradient><linearGradient id="ag58"><stop offset="0" stop-color="#00c6ff"/><stop offset="0.004902" stop-color="#00ebff"/><stop offset="0.007353" stop-color="#00f2fa"/><stop offset="0.009804" stop-color="#00f1ec"/><stop offset="0.01225" stop-color="#00ebda"/><stop offset="0.01471" stop-color="#00e8c5"/><stop offset="0.02941" stop-color="#00e62b"/><stop offset="0.03186" stop-color="#00e513"/><stop offset="0.03431" stop-color="#00e400"/><stop offset="0.07108" stop-color="#00e400"/><stop offset="0.07353" stop-color="#11e600"/><stop offset="0.07843" stop-color="#5cee00"/><stop offset="0.08088" stop-color="#68ee00"/><stop offset="0.09314" stop-color="#8df000"/><stop offset="0.1152" stop-color="#c0f000"/><stop offset="0.1275" stop-color="#e7f600"/><stop offset="0.1348" stop-color="#fbfb00"/><stop offset="0.1373" stop-color="#fffc00"/><stop offset="0.1495" stop-color="#fffa00"/><stop offset="0.1667" stop-color="#ffd400"/><stop offset="0.2108" stop-color="#ff9200"/><stop offset="0.2426" stop-color="#ff7000"/><stop offset="0.3113" stop-color="#ff3800"/><stop offset="0.3407" stop-color="#ff1900"/><stop offset="0.3554" stop-color="#ff1400"/><stop offset="0.5" stop-color="#ff1500"/><stop offset="0.5172" stop-color="#ff2200"/><stop offset="0.5613" stop-color="#ff4700"/><stop offset="0.5809" stop-color="#ff5000"/><stop offset="0.6422" stop-color="#ff4f00"/><stop offset="0.6887" stop-color="#ff3500"/><stop offset="0.7255" stop-color="#ff2800"/><stop offset="0.7843" stop-color="#ff2a00"/><stop offset="0.8235" stop-color="#ff3800"/><stop offset="0.8309" stop-color="#ff3f00"/><stop offset="0.8456" stop-color="#ff5600"/><stop offset="0.8897" stop-color="#ff5800"/><stop offset="0.9167" stop-color="#ff4c00"/><stop offset="0.9436" stop-color="#ff5000"/><stop offset="0.9681" stop-color="#ff5b00"/><stop offset="1" stop-color="#ff5b00"/></linearGradient><linearGradient id="ag59"><stop offset="0" stop-color="#00c7ff"/><stop offset="0.002451" stop-color="#00dbff"/><stop offset="0.004902" stop-color="#00ecff"/><stop offset="0.007353" stop-color="#00f2f9"/><stop offset="0.009804" stop-color="#00f0eb"/><stop offset="0.01225" stop-color="#00ebda"/><stop offset="0.01471" stop-color="#00e8c4"/><stop offset="0.02941" stop-color="#00e628"/><stop offset="0.03186" stop-color="#00e510"/><stop offset="0.03431" stop-color="#00e400"/><stop offset="0.07108" stop-color="#00e400"/><stop offset="0.07353" stop-color="#19e700"/><stop offset="0.07598" stop-color="#3feb00"/><stop offset="0.07843" stop-color="#61ee00"/><stop offset="0.09069" stop-color="#88f000"/><stop offset="0.1103" stop-color="#b7f000"/><stop offset="0.1152" stop-color="#c2f000"/><stop offset="0.1275" stop-color="#e8f600"/><stop offset="0.1348" stop-color="#fdfb00"/><stop offset="0.1422" stop-color="#fffb00"/><stop offset="0.1495" stop-color="#fff900"/><stop offset="0.1667" stop-color="#ffd400"/><stop offset="0.2108" stop-color="#ff9200"/><stop offset="0.2451" stop-color="#ff6d00"/><stop offset="0.3113" stop-color="#ff3800"/><stop offset="0.3407" stop-color="#ff1900"/><stop offset="0.3554" stop-color="#ff1400"/><stop offset="0.5" stop-color="#ff1500"/><stop offset="0.5196" stop-color="#ff2600"/><stop offset="0.5686" stop-color="#ff4c00"/><stop offset="0.5882" stop-color="#ff5000"/><stop offset="0.6446" stop-color="#ff4e00"/><stop offset="0.6887" stop-color="#ff3500"/><stop offset="0.7255" stop-color="#ff2800"/><stop offset="0.7892" stop-color="#ff2a00"/><stop offset="0.826" stop-color="#ff3700"/><stop offset="0.8333" stop-color="#ff3c00"/><stop offset="0.8456" stop-color="#ff5a00"/><stop offset="0.8505" stop-color="#ff5d00"/><stop offset="0.8946" stop-color="#ff5c00"/><stop offset="0.9167" stop-color="#ff4f00"/><stop offset="0.951" stop-color="#ff5200"/><stop offset="0.9755" stop-color="#ff5900"/><stop offset="1" stop-color="#ff5900"/></linearGradient><linearGradient id="ag60"><stop offset="0" stop-color="#00c9ff"/><stop offset="0.002451" stop-color="#00dcff"/><stop offset="0.004902" stop-color="#00ecff"/><stop offset="0.007353" stop-color="#00f2f9"/><stop offset="0.009804" stop-color="#00f0ea"/><stop offset="0.01225" stop-color="#00ebd9"/><stop offset="0.01471" stop-color="#00e8c2"/><stop offset="0.02941" stop-color="#00e626"/><stop offset="0.03186" stop-color="#00e50e"/><stop offset="0.03431" stop-color="#00e400"/><stop offset="0.07108" stop-color="#00e400"/><stop offset="0.07353" stop-color="#21e700"/><stop offset="0.07598" stop-color="#47eb00"/><stop offset="0.07843" stop-color="#63ee00"/><stop offset="0.09069" stop-color="#8af000"/><stop offset="0.1103" stop-color="#b8f000"/><stop offset="0.1152" stop-color="#c3f000"/><stop offset="0.1275" stop-color="#eaf700"/><stop offset="0.1348" stop-color="#fefc00"/><stop offset="0.1471" stop-color="#fffa00"/><stop offset="0.152" stop-color="#fff200"/><stop offset="0.1642" stop-color="#ffd600"/><stop offset="0.2083" stop-color="#ff9400"/><stop offset="0.2402" stop-color="#ff7100"/><stop offset="0.3113" stop-color="#ff3700"/><stop offset="0.3407" stop-color="#ff1900"/><stop offset="0.3554" stop-color="#ff1400"/><stop offset="0.4975" stop-color="#ff1500"/><stop offset="0.5147" stop-color="#ff2200"/><stop offset="0.5564" stop-color="#ff4500"/><stop offset="0.576" stop-color="#ff4f00"/><stop offset="0.6446" stop-color="#ff4e00"/><stop offset="0.6912" stop-color="#ff3500"/><stop offset="0.7255" stop-color="#ff2800"/><stop offset="0.7892" stop-color="#ff2a00"/><stop offset="0.8235" stop-color="#ff3500"/><stop offset="0.8333" stop-color="#ff3b00"/><stop offset="0.8382" stop-color="#ff4700"/><stop offset="0.8456" stop-color="#ff5e00"/><stop offset="0.848" stop-color="#ff6100"/><stop offset="0.8946" stop-color="#ff6000"/><stop offset="0.9191" stop-color="#ff5100"/><stop offset="0.9534" stop-color="#ff5200"/><stop offset="0.9779" stop-color="#ff5700"/><stop offset="1" stop-color="#ff5700"/></linearGradient><linearGradient id="ag61"><stop offset="0" stop-color="#00caff"/><stop offset="0.002451" stop-color="#00ddff"/><stop offset="0.004902" stop-color="#00edff"/><stop offset="0.007353" stop-color="#00f2f8"/><stop offset="0.009804" stop-color="#00f0ea"/><stop offset="0.01225" stop-color="#00ebd8"/><stop offset="0.01471" stop-color="#00e8c1"/><stop offset="0.02941" stop-color="#00e624"/><stop offset="0.03186" stop-color="#00e50c"/><stop offset="0.03431" stop-color="#00e400"/><stop offset="0.07108" stop-color="#01e400"/><stop offset="0.07598" stop-color="#4dec00"/><stop offset="0.07843" stop-color="#64ee00"/><stop offset="0.09069" stop-color="#8bf000"/><stop offset="0.1103" stop-color="#b9f000"/><stop offset="0.1152" stop-color="#c5f100"/><stop offset="0.125" stop-color="#e4f500"/><stop offset="0.1348" stop-color="#fffc00"/><stop offset="0.1471" stop-color="#fffa00"/><stop offset="0.1642" stop-color="#ffd600"/><stop offset="0.2083" stop-color="#ff9300"/><stop offset="0.2402" stop-color="#ff7100"/><stop offset="0.3113" stop-color="#ff3700"/><stop offset="0.3407" stop-color="#ff1900"/><stop offset="0.3554" stop-color="#ff1400"/><stop offset="0.4975" stop-color="#ff1500"/><stop offset="0.5172" stop-color="#ff2600"/><stop offset="0.5662" stop-color="#ff4c00"/><stop offset="0.5858" stop-color="#ff5000"/><stop offset="0.6446" stop-color="#ff4f00"/><stop offset="0.6936" stop-color="#ff3400"/><stop offset="0.7255" stop-color="#ff2800"/><stop offset="0.7917" stop-color="#ff2a00"/><stop offset="0.826" stop-color="#ff3600"/><stop offset="0.8333" stop-color="#ff3b00"/><stop offset="0.8382" stop-color="#ff4800"/><stop offset="0.8456" stop-color="#ff6200"/><stop offset="0.848" stop-color="#ff6600"/><stop offset="0.8946" stop-color="#ff6500"/><stop offset="0.9216" stop-color="#ff5300"/><stop offset="0.951" stop-color="#ff5100"/><stop offset="0.9804" stop-color="#ff5600"/><stop offset="1" stop-color="#ff5600"/></linearGradient><linearGradient id="ag62"><stop offset="0" stop-color="#00cbff"/><stop offset="0.002451" stop-color="#00deff"/><stop offset="0.004902" stop-color="#00edff"/><stop offset="0.007353" stop-color="#00f2f8"/><stop offset="0.009804" stop-color="#00f0e9"/><stop offset="0.01225" stop-color="#00ead8"/><stop offset="0.01471" stop-color="#00e8c0"/><stop offset="0.02941" stop-color="#00e622"/><stop offset="0.03186" stop-color="#00e40a"/><stop offset="0.03431" stop-color="#00e400"/><stop offset="0.06863" stop-color="#00e400"/><stop offset="0.07108" stop-color="#07e500"/><stop offset="0.07598" stop-color="#53ed00"/><stop offset="0.07843" stop-color="#66ee00"/><stop offset="0.09069" stop-color="#8cf000"/><stop offset="0.1103" stop-color="#baf000"/><stop offset="0.1152" stop-color="#c6f100"/><stop offset="0.125" stop-color="#e5f500"/><stop offset="0.1348" stop-color="#fffc00"/><stop offset="0.1471" stop-color="#fffa00"/><stop offset="0.1642" stop-color="#ffd500"/><stop offset="0.2083" stop-color="#ff9200"/><stop offset="0.2402" stop-color="#ff7000"/><stop offset="0.3113" stop-color="#ff3700"/><stop offset="0.3407" stop-color="#ff1900"/><stop offset="0.3554" stop-color="#ff1400"/><stop offset="0.4975" stop-color="#ff1600"/><stop offset="0.5539" stop-color="#ff4500"/><stop offset="0.5735" stop-color="#ff4f00"/><stop offset="0.6446" stop-color="#ff4f00"/><stop offset="0.6961" stop-color="#ff3300"/><stop offset="0.7279" stop-color="#ff2800"/><stop offset="0.7941" stop-color="#ff2a00"/><stop offset="0.8284" stop-color="#ff3700"/><stop offset="0.8333" stop-color="#ff3a00"/><stop offset="0.8382" stop-color="#ff4a00"/><stop offset="0.8431" stop-color="#ff5f00"/><stop offset="0.8456" stop-color="#ff6700"/><stop offset="0.848" stop-color="#ff6b00"/><stop offset="0.8946" stop-color="#ff6900"/><stop offset="0.9265" stop-color="#ff5400"/><stop offset="0.9534" stop-color="#ff5000"/><stop offset="0.9853" stop-color="#ff5400"/><stop offset="1" stop-color="#ff5400"/></linearGradient><linearGradient id="ag63"><stop offset="0" stop-color="#00ccff"/><stop offset="0.002451" stop-color="#00dfff"/><stop offset="0.004902" stop-color="#00eeff"/><stop offset="0.007353" stop-color="#00f2f8"/><stop offset="0.009804" stop-color="#00f0e9"/><stop offset="0.01225" stop-color="#00ead7"/><stop offset="0.01471" stop-color="#00e8c0"/><stop offset="0.02941" stop-color="#00e620"/><stop offset="0.03186" stop-color="#00e408"/><stop offset="0.03431" stop-color="#00e400"/><stop offset="0.06863" stop-color="#00e400"/><stop offset="0.07108" stop-color="#0ce500"/><stop offset="0.07598" stop-color="#58ed00"/><stop offset="0.07843" stop-color="#67ee00"/><stop offset="0.09069" stop-color="#8df000"/><stop offset="0.1103" stop-color="#baf000"/><stop offset="0.1152" stop-color="#c7f100"/><stop offset="0.125" stop-color="#e6f600"/><stop offset="0.1348" stop-color="#fffc00"/><stop offset="0.1471" stop-color="#fffa00"/><stop offset="0.1642" stop-color="#ffd500"/><stop offset="0.2083" stop-color="#ff9200"/><stop offset="0.2402" stop-color="#ff7000"/><stop offset="0.3113" stop-color="#ff3600"/><stop offset="0.3407" stop-color="#ff1900"/><stop offset="0.3554" stop-color="#ff1400"/><stop offset="0.4951" stop-color="#ff1500"/><stop offset="0.5123" stop-color="#ff2300"/><stop offset="0.5539" stop-color="#ff4600"/><stop offset="0.5735" stop-color="#ff5000"/><stop offset="0.6471" stop-color="#ff4e00"/><stop offset="0.6936" stop-color="#ff3400"/><stop offset="0.7255" stop-color="#ff2800"/><stop offset="0.7941" stop-color="#ff2a00"/><stop offset="0.8284" stop-color="#ff3500"/><stop offset="0.8333" stop-color="#ff3900"/><stop offset="0.8358" stop-color="#ff4100"/><stop offset="0.8431" stop-color="#ff6300"/><stop offset="0.8456" stop-color="#ff6c00"/><stop offset="0.848" stop-color="#ff6f00"/><stop offset="0.8946" stop-color="#ff6e00"/><stop offset="0.9289" stop-color="#ff5500"/><stop offset="0.9534" stop-color="#ff5000"/><stop offset="1" stop-color="#ff5300"/></linearGradient><linearGradient id="ag64"><stop offset="0" stop-color="#00cdff"/><stop offset="0.002451" stop-color="#00e0ff"/><stop offset="0.004902" stop-color="#00eeff"/><stop offset="0.007353" stop-color="#00f2f8"/><stop offset="0.009804" stop-color="#00f0e9"/><stop offset="0.01225" stop-color="#00ead7"/><stop offset="0.01471" stop-color="#00e8bf"/><stop offset="0.02696" stop-color="#00e739"/><stop offset="0.03186" stop-color="#00e406"/><stop offset="0.03431" stop-color="#00e400"/><stop offset="0.06863" stop-color="#00e400"/><stop offset="0.07108" stop-color="#11e600"/><stop offset="0.07598" stop-color="#5cee00"/><stop offset="0.07843" stop-color="#68ee00"/><stop offset="0.09069" stop-color="#8ef000"/><stop offset="0.1103" stop-color="#bbf000"/><stop offset="0.1152" stop-color="#c8f100"/><stop offset="0.125" stop-color="#e6f600"/><stop offset="0.1324" stop-color="#fbfb00"/><stop offset="0.1348" stop-color="#fffc00"/><stop offset="0.1471" stop-color="#fffa00"/><stop offset="0.1618" stop-color="#ffd800"/><stop offset="0.2059" stop-color="#ff9400"/><stop offset="0.2353" stop-color="#ff7400"/><stop offset="0.3113" stop-color="#ff3600"/><stop offset="0.3407" stop-color="#ff1900"/><stop offset="0.3554" stop-color="#ff1400"/><stop offset="0.4951" stop-color="#ff1500"/><stop offset="0.5147" stop-color="#ff2700"/><stop offset="0.5613" stop-color="#ff4c00"/><stop offset="0.5784" stop-color="#ff5000"/><stop offset="0.6471" stop-color="#ff4f00"/><stop offset="0.6961" stop-color="#ff3300"/><stop offset="0.7279" stop-color="#ff2800"/><stop offset="0.799" stop-color="#ff2a00"/><stop offset="0.8309" stop-color="#ff3500"/><stop offset="0.8333" stop-color="#ff3900"/><stop offset="0.8358" stop-color="#ff4200"/><stop offset="0.8431" stop-color="#ff6900"/><stop offset="0.8456" stop-color="#ff7100"/><stop offset="0.8529" stop-color="#ff7400"/><stop offset="0.8946" stop-color="#ff7200"/><stop offset="0.9191" stop-color="#ff5f00"/><stop offset="0.9387" stop-color="#ff5300"/><stop offset="0.9583" stop-color="#ff5000"/><stop offset="1" stop-color="#ff5100"/></linearGradient><linearGradient id="ag65"><stop offset="0" stop-color="#00cdff"/><stop offset="0.002451" stop-color="#00e0ff"/><stop offset="0.004902" stop-color="#00eeff"/><stop offset="0.007353" stop-color="#00f2f7"/><stop offset="0.009804" stop-color="#00f0e9"/><stop offset="0.01225" stop-color="#00ead7"/><stop offset="0.01471" stop-color="#00e8bf"/><stop offset="0.02696" stop-color="#00e738"/><stop offset="0.03186" stop-color="#00e405"/><stop offset="0.03431" stop-color="#00e400"/><stop offset="0.06863" stop-color="#00e400"/><stop offset="0.07108" stop-color="#14e600"/><stop offset="0.07598" stop-color="#5fee00"/><stop offset="0.08824" stop-color="#88f000"/><stop offset="0.1078" stop-color="#b6f000"/><stop offset="0.1127" stop-color="#c0f000"/><stop offset="0.125" stop-color="#e7f600"/><stop offset="0.1324" stop-color="#fbfb00"/><stop offset="0.1348" stop-color="#fffc00"/><stop offset="0.1471" stop-color="#fffa00"/><stop offset="0.1618" stop-color="#ffd800"/><stop offset="0.2059" stop-color="#ff9400"/><stop offset="0.2353" stop-color="#ff7300"/><stop offset="0.3113" stop-color="#ff3600"/><stop offset="0.3407" stop-color="#ff1900"/><stop offset="0.3554" stop-color="#ff1400"/><stop offset="0.4926" stop-color="#ff1500"/><stop offset="0.5074" stop-color="#ff2000"/><stop offset="0.5294" stop-color="#ff3500"/><stop offset="0.5613" stop-color="#ff4c00"/><stop offset="0.5809" stop-color="#ff5000"/><stop offset="0.6495" stop-color="#ff4e00"/><stop offset="0.6961" stop-color="#ff3400"/><stop offset="0.7279" stop-color="#ff2800"/><stop offset="0.8015" stop-color="#ff2a00"/><stop offset="0.8309" stop-color="#ff3400"/><stop offset="0.8333" stop-color="#ff3900"/><stop offset="0.8358" stop-color="#ff4400"/><stop offset="0.8431" stop-color="#ff6f00"/><stop offset="0.8456" stop-color="#ff7700"/><stop offset="0.8946" stop-color="#ff7700"/><stop offset="0.9142" stop-color="#ff6700"/><stop offset="0.9338" stop-color="#ff5700"/><stop offset="0.9534" stop-color="#ff5000"/><stop offset="1" stop-color="#ff5000"/></linearGradient><linearGradient id="bg0"><stop offset="0" stop-color="#5d00ff"/><stop offset="0.002427" stop-color="#5500ff"/><stop offset="0.004853" stop-color="#4d03ff"/><stop offset="0.01699" stop-color="#232dff"/><stop offset="0.02184" stop-color="#0246ff"/><stop offset="0.02912" stop-color="#005bff"/><stop offset="0.04853" stop-color="#008eff"/><stop offset="0.06066" stop-color="#00acff"/><stop offset="0.07522" stop-color="#00d8ff"/><stop offset="0.0825" stop-color="#00f5ff"/><stop offset="0.08978" stop-color="#00fcfb"/><stop offset="0.09464" stop-color="#00fef9"/><stop offset="0.09706" stop-color="#00fff5"/><stop offset="0.1092" stop-color="#00fbc2"/><stop offset="0.131" stop-color="#00f873"/><stop offset="0.1456" stop-color="#00f83e"/><stop offset="0.165" stop-color="#00f813"/><stop offset="0.1723" stop-color="#00f801"/><stop offset="0.2257" stop-color="#00f600"/><stop offset="0.2281" stop-color="#11f600"/><stop offset="0.233" stop-color="#62f400"/><stop offset="0.2475" stop-color="#aaf000"/><stop offset="0.2499" stop-color="#bcf000"/><stop offset="0.2548" stop-color="#e9f000"/><stop offset="0.2572" stop-color="#f6f300"/><stop offset="0.2596" stop-color="#fff300"/><stop offset="0.2645" stop-color="#ffed00"/><stop offset="0.2694" stop-color="#ffda00"/><stop offset="0.2791" stop-color="#ffb000"/><stop offset="0.296" stop-color="#ff9400"/><stop offset="0.3106" stop-color="#ff7700"/><stop offset="0.3446" stop-color="#ff3f00"/><stop offset="0.3688" stop-color="#ff2300"/><stop offset="0.3834" stop-color="#ff0a00"/><stop offset="0.4077" stop-color="#ff0800"/><stop offset="0.495" stop-color="#ff0900"/><stop offset="0.5047" stop-color="#ff1400"/><stop offset="0.529" stop-color="#ff4000"/><stop offset="0.5387" stop-color="#ff5800"/><stop offset="0.546" stop-color="#ff6000"/><stop offset="0.5775" stop-color="#ff5e00"/><stop offset="0.5994" stop-color="#ff4e00"/><stop offset="0.6382" stop-color="#ff2b00"/><stop offset="0.6649" stop-color="#ff1100"/><stop offset="0.6794" stop-color="#ff0c00"/><stop offset="0.7207" stop-color="#ff0e00"/><stop offset="0.7474" stop-color="#ff1c00"/><stop offset="0.7789" stop-color="#ff3600"/><stop offset="0.7983" stop-color="#ff4f00"/><stop offset="0.8347" stop-color="#ff5000"/><stop offset="0.8396" stop-color="#ff4700"/><stop offset="0.8542" stop-color="#ff1700"/><stop offset="0.859" stop-color="#ff0e00"/><stop offset="0.8736" stop-color="#ff0d00"/><stop offset="0.8809" stop-color="#ff1800"/><stop offset="0.8954" stop-color="#ff3f00"/><stop offset="0.9027" stop-color="#ff5400"/><stop offset="0.9075" stop-color="#ff5e00"/><stop offset="0.9173" stop-color="#ff6000"/><stop offset="0.9488" stop-color="#ff5d00"/><stop offset="0.9828" stop-color="#ff4c00"/><stop offset="1" stop-color="#ff4000"/></linearGradient><linearGradient id="bg1"><stop offset="0" stop-color="#5d00ff"/><stop offset="0.002427" stop-color="#5500ff"/><stop offset="0.004853" stop-color="#4c04ff"/><stop offset="0.01699" stop-color="#222eff"/><stop offset="0.02184" stop-color="#0048ff"/><stop offset="0.04368" stop-color="#0084ff"/><stop offset="0.05824" stop-color="#00a7ff"/><stop offset="0.07522" stop-color="#00deff"/><stop offset="0.08008" stop-color="#00f1ff"/><stop offset="0.0825" stop-color="#00f8ff"/><stop offset="0.09464" stop-color="#00fff8"/><stop offset="0.1068" stop-color="#00fbc4"/><stop offset="0.1286" stop-color="#00f874"/><stop offset="0.1432" stop-color="#00f83e"/><stop offset="0.1626" stop-color="#00f813"/><stop offset="0.1699" stop-color="#00f801"/><stop offset="0.2232" stop-color="#00f600"/><stop offset="0.2257" stop-color="#14f600"/><stop offset="0.2305" stop-color="#64f400"/><stop offset="0.2451" stop-color="#aaf000"/><stop offset="0.2475" stop-color="#bcf000"/><stop offset="0.2524" stop-color="#e9f000"/><stop offset="0.2572" stop-color="#fff300"/><stop offset="0.2621" stop-color="#ffed00"/><stop offset="0.2669" stop-color="#ffdd00"/><stop offset="0.2766" stop-color="#ffb400"/><stop offset="0.2839" stop-color="#ffa600"/><stop offset="0.2936" stop-color="#ff9800"/><stop offset="0.3106" stop-color="#ff7500"/><stop offset="0.3446" stop-color="#ff3e00"/><stop offset="0.3664" stop-color="#ff2500"/><stop offset="0.381" stop-color="#ff0c00"/><stop offset="0.3883" stop-color="#ff0800"/><stop offset="0.4975" stop-color="#ff0900"/><stop offset="0.5072" stop-color="#ff1500"/><stop offset="0.529" stop-color="#ff3c00"/><stop offset="0.5411" stop-color="#ff5800"/><stop offset="0.5484" stop-color="#ff5d00"/><stop offset="0.5775" stop-color="#ff5c00"/><stop offset="0.5994" stop-color="#ff4d00"/><stop offset="0.6382" stop-color="#ff2a00"/><stop offset="0.6649" stop-color="#ff1100"/><stop offset="0.6794" stop-color="#ff0c00"/><stop offset="0.7207" stop-color="#ff0d00"/><stop offset="0.7474" stop-color="#ff1c00"/><stop offset="0.7789" stop-color="#ff3600"/><stop offset="0.7983" stop-color="#ff4e00"/><stop offset="0.8347" stop-color="#ff4f00"/><stop offset="0.8396" stop-color="#ff4800"/><stop offset="0.8566" stop-color="#ff1400"/><stop offset="0.8614" stop-color="#ff0c00"/><stop offset="0.876" stop-color="#ff0e00"/><stop offset="0.8833" stop-color="#ff1900"/><stop offset="0.8978" stop-color="#ff3e00"/><stop offset="0.9075" stop-color="#ff5800"/><stop offset="0.9124" stop-color="#ff5e00"/><stop offset="0.9464" stop-color="#ff5d00"/><stop offset="0.9779" stop-color="#ff5000"/><stop offset="1" stop-color="#ff4100"/></linearGradient><linearGradient id="bg2"><stop offset="0" stop-color="#5c00ff"/><stop offset="0.002427" stop-color="#5400ff"/><stop offset="0.004853" stop-color="#4b05ff"/><stop offset="0.01699" stop-color="#2030ff"/><stop offset="0.01941" stop-color="#0e3dff"/><stop offset="0.02184" stop-color="#0049ff"/><stop offset="0.04368" stop-color="#0086ff"/><stop offset="0.05824" stop-color="#00abff"/><stop offset="0.0728" stop-color="#00d9ff"/><stop offset="0.08008" stop-color="#00f7ff"/><stop offset="0.09221" stop-color="#00fff8"/><stop offset="0.09706" stop-color="#00fde5"/><stop offset="0.1092" stop-color="#00fab3"/><stop offset="0.1407" stop-color="#00f83e"/><stop offset="0.1602" stop-color="#00f812"/><stop offset="0.1674" stop-color="#00f800"/><stop offset="0.2208" stop-color="#00f600"/><stop offset="0.2232" stop-color="#1af500"/><stop offset="0.2257" stop-color="#43f500"/><stop offset="0.2281" stop-color="#66f400"/><stop offset="0.2427" stop-color="#abf000"/><stop offset="0.2451" stop-color="#bdf000"/><stop offset="0.2499" stop-color="#e9f000"/><stop offset="0.2548" stop-color="#fff300"/><stop offset="0.2596" stop-color="#ffee00"/><stop offset="0.2621" stop-color="#ffe800"/><stop offset="0.2766" stop-color="#ffaf00"/><stop offset="0.2936" stop-color="#ff9600"/><stop offset="0.3082" stop-color="#ff7800"/><stop offset="0.3421" stop-color="#ff3f00"/><stop offset="0.3664" stop-color="#ff2300"/><stop offset="0.381" stop-color="#ff0b00"/><stop offset="0.3907" stop-color="#ff0800"/><stop offset="0.4999" stop-color="#ff0900"/><stop offset="0.512" stop-color="#ff1900"/><stop offset="0.5314" stop-color="#ff3c00"/><stop offset="0.5411" stop-color="#ff5400"/><stop offset="0.546" stop-color="#ff5a00"/><stop offset="0.58" stop-color="#ff5800"/><stop offset="0.6018" stop-color="#ff4900"/><stop offset="0.6382" stop-color="#ff2900"/><stop offset="0.6649" stop-color="#ff1000"/><stop offset="0.6794" stop-color="#ff0c00"/><stop offset="0.7207" stop-color="#ff0d00"/><stop offset="0.7474" stop-color="#ff1c00"/><stop offset="0.7814" stop-color="#ff3800"/><stop offset="0.7983" stop-color="#ff4d00"/><stop offset="0.8226" stop-color="#ff4f00"/><stop offset="0.8347" stop-color="#ff4f00"/><stop offset="0.8396" stop-color="#ff4800"/><stop offset="0.8566" stop-color="#ff1700"/><stop offset="0.8614" stop-color="#ff0e00"/><stop offset="0.8736" stop-color="#ff0c00"/><stop offset="0.8809" stop-color="#ff1000"/><stop offset="0.8906" stop-color="#ff2300"/><stop offset="0.91" stop-color="#ff5600"/><stop offset="0.9173" stop-color="#ff5e00"/><stop offset="0.9537" stop-color="#ff5b00"/><stop offset="0.9852" stop-color="#ff4c00"/><stop offset="1" stop-color="#ff4200"/></linearGradient><linearGradient id="bg3"><stop offset="0" stop-color="#5c00ff"/><stop offset="0.002427" stop-color="#5300ff"/><stop offset="0.004853" stop-color="#4b05ff"/><stop offset="0.01699" stop-color="#1e32ff"/><stop offset="0.01941" stop-color="#0b40ff"/><stop offset="0.02184" stop-color="#004bff"/><stop offset="0.04368" stop-color="#0088ff"/><stop offset="0.05824" stop-color="#00aeff"/><stop offset="0.0728" stop-color="#00dfff"/><stop offset="0.07765" stop-color="#00f4ff"/><stop offset="0.08008" stop-color="#00f9fe"/><stop offset="0.08978" stop-color="#00fef9"/><stop offset="0.09221" stop-color="#00fff3"/><stop offset="0.1043" stop-color="#00fabe"/><stop offset="0.1335" stop-color="#00f84f"/><stop offset="0.1383" stop-color="#00f83e"/><stop offset="0.1602" stop-color="#00f80b"/><stop offset="0.165" stop-color="#00f800"/><stop offset="0.2184" stop-color="#00f600"/><stop offset="0.2208" stop-color="#20f500"/><stop offset="0.2232" stop-color="#48f500"/><stop offset="0.2257" stop-color="#67f400"/><stop offset="0.2402" stop-color="#acf000"/><stop offset="0.2427" stop-color="#bef000"/><stop offset="0.2475" stop-color="#e9f000"/><stop offset="0.2524" stop-color="#fff400"/><stop offset="0.2596" stop-color="#ffe900"/><stop offset="0.2742" stop-color="#ffb100"/><stop offset="0.2936" stop-color="#ff9300"/><stop offset="0.3106" stop-color="#ff7200"/><stop offset="0.3421" stop-color="#ff3e00"/><stop offset="0.3664" stop-color="#ff2100"/><stop offset="0.3785" stop-color="#ff0d00"/><stop offset="0.3858" stop-color="#ff0800"/><stop offset="0.4999" stop-color="#ff0800"/><stop offset="0.5096" stop-color="#ff1200"/><stop offset="0.5314" stop-color="#ff3800"/><stop offset="0.5436" stop-color="#ff5300"/><stop offset="0.5508" stop-color="#ff5700"/><stop offset="0.58" stop-color="#ff5600"/><stop offset="0.6018" stop-color="#ff4700"/><stop offset="0.6382" stop-color="#ff2800"/><stop offset="0.6649" stop-color="#ff1000"/><stop offset="0.6819" stop-color="#ff0b00"/><stop offset="0.7231" stop-color="#ff0d00"/><stop offset="0.7522" stop-color="#ff1f00"/><stop offset="0.7814" stop-color="#ff3800"/><stop offset="0.7983" stop-color="#ff4c00"/><stop offset="0.8129" stop-color="#ff4f00"/><stop offset="0.8372" stop-color="#ff4d00"/><stop offset="0.8445" stop-color="#ff3d00"/><stop offset="0.859" stop-color="#ff1400"/><stop offset="0.8639" stop-color="#ff0c00"/><stop offset="0.8784" stop-color="#ff0c00"/><stop offset="0.8857" stop-color="#ff1400"/><stop offset="0.8978" stop-color="#ff2f00"/><stop offset="0.9124" stop-color="#ff5400"/><stop offset="0.9197" stop-color="#ff5d00"/><stop offset="0.9561" stop-color="#ff5b00"/><stop offset="0.9876" stop-color="#ff4b00"/><stop offset="1" stop-color="#ff4300"/></linearGradient><linearGradient id="bg4"><stop offset="0" stop-color="#5b00ff"/><stop offset="0.002427" stop-color="#5300ff"/><stop offset="0.00728" stop-color="#410fff"/><stop offset="0.01456" stop-color="#262aff"/><stop offset="0.01699" stop-color="#1b34ff"/><stop offset="0.01941" stop-color="#0842ff"/><stop offset="0.02184" stop-color="#004cff"/><stop offset="0.04368" stop-color="#008bff"/><stop offset="0.05581" stop-color="#00aaff"/><stop offset="0.07037" stop-color="#00dbff"/><stop offset="0.07765" stop-color="#00f8ff"/><stop offset="0.08978" stop-color="#00fff7"/><stop offset="0.1019" stop-color="#00fbc0"/><stop offset="0.1262" stop-color="#00f862"/><stop offset="0.1335" stop-color="#00f845"/><stop offset="0.1383" stop-color="#00f839"/><stop offset="0.1626" stop-color="#00f800"/><stop offset="0.216" stop-color="#00f600"/><stop offset="0.2208" stop-color="#4ef400"/><stop offset="0.2232" stop-color="#69f400"/><stop offset="0.2378" stop-color="#acf000"/><stop offset="0.2402" stop-color="#bff000"/><stop offset="0.2451" stop-color="#e9f000"/><stop offset="0.2499" stop-color="#fff400"/><stop offset="0.2572" stop-color="#ffea00"/><stop offset="0.2718" stop-color="#ffb500"/><stop offset="0.2766" stop-color="#ffab00"/><stop offset="0.2912" stop-color="#ff9700"/><stop offset="0.3082" stop-color="#ff7400"/><stop offset="0.3397" stop-color="#ff3f00"/><stop offset="0.364" stop-color="#ff2400"/><stop offset="0.3785" stop-color="#ff0c00"/><stop offset="0.3858" stop-color="#ff0800"/><stop offset="0.5023" stop-color="#ff0900"/><stop offset="0.512" stop-color="#ff1300"/><stop offset="0.5314" stop-color="#ff3300"/><stop offset="0.5436" stop-color="#ff4f00"/><stop offset="0.5484" stop-color="#ff5400"/><stop offset="0.5824" stop-color="#ff5300"/><stop offset="0.6066" stop-color="#ff4100"/><stop offset="0.6382" stop-color="#ff2800"/><stop offset="0.6649" stop-color="#ff1000"/><stop offset="0.6819" stop-color="#ff0b00"/><stop offset="0.7231" stop-color="#ff0d00"/><stop offset="0.7498" stop-color="#ff1d00"/><stop offset="0.7814" stop-color="#ff3700"/><stop offset="0.8008" stop-color="#ff4d00"/><stop offset="0.8372" stop-color="#ff4d00"/><stop offset="0.842" stop-color="#ff4400"/><stop offset="0.859" stop-color="#ff1600"/><stop offset="0.8663" stop-color="#ff0c00"/><stop offset="0.8809" stop-color="#ff0c00"/><stop offset="0.8906" stop-color="#ff1900"/><stop offset="0.9075" stop-color="#ff4000"/><stop offset="0.9173" stop-color="#ff5600"/><stop offset="0.9245" stop-color="#ff5c00"/><stop offset="0.9585" stop-color="#ff5a00"/><stop offset="0.9901" stop-color="#ff4b00"/><stop offset="1" stop-color="#ff4400"/></linearGradient><linearGradient id="bg5"><stop offset="0" stop-color="#5b00ff"/><stop offset="0.002427" stop-color="#5200ff"/><stop offset="0.01213" stop-color="#2e22ff"/><stop offset="0.01456" stop-color="#252bff"/><stop offset="0.01699" stop-color="#1836ff"/><stop offset="0.01941" stop-color="#0544ff"/><stop offset="0.02184" stop-color="#004dff"/><stop offset="0.04125" stop-color="#0086ff"/><stop offset="0.05581" stop-color="#00aeff"/><stop offset="0.06794" stop-color="#00d6ff"/><stop offset="0.07522" stop-color="#00f6ff"/><stop offset="0.08493" stop-color="#00fef9"/><stop offset="0.08736" stop-color="#00fff8"/><stop offset="0.1019" stop-color="#00fab8"/><stop offset="0.131" stop-color="#00f845"/><stop offset="0.1577" stop-color="#00f803"/><stop offset="0.1602" stop-color="#00f800"/><stop offset="0.2111" stop-color="#00f600"/><stop offset="0.2135" stop-color="#04f600"/><stop offset="0.2184" stop-color="#53f400"/><stop offset="0.2208" stop-color="#6af400"/><stop offset="0.2354" stop-color="#adf000"/><stop offset="0.2427" stop-color="#e9f000"/><stop offset="0.2475" stop-color="#fff400"/><stop offset="0.2548" stop-color="#ffeb00"/><stop offset="0.2718" stop-color="#ffb000"/><stop offset="0.2912" stop-color="#ff9500"/><stop offset="0.3082" stop-color="#ff7200"/><stop offset="0.3397" stop-color="#ff3e00"/><stop offset="0.364" stop-color="#ff2200"/><stop offset="0.3785" stop-color="#ff0b00"/><stop offset="0.3883" stop-color="#ff0800"/><stop offset="0.5047" stop-color="#ff0900"/><stop offset="0.5144" stop-color="#ff1300"/><stop offset="0.5339" stop-color="#ff3400"/><stop offset="0.546" stop-color="#ff4f00"/><stop offset="0.5533" stop-color="#ff5200"/><stop offset="0.5824" stop-color="#ff5000"/><stop offset="0.6042" stop-color="#ff4100"/><stop offset="0.6382" stop-color="#ff2700"/><stop offset="0.6673" stop-color="#ff0e00"/><stop offset="0.6867" stop-color="#ff0b00"/><stop offset="0.7231" stop-color="#ff0d00"/><stop offset="0.7498" stop-color="#ff1d00"/><stop offset="0.7838" stop-color="#ff3a00"/><stop offset="0.8008" stop-color="#ff4c00"/><stop offset="0.8372" stop-color="#ff4d00"/><stop offset="0.842" stop-color="#ff4500"/><stop offset="0.8614" stop-color="#ff1400"/><stop offset="0.8687" stop-color="#ff0b00"/><stop offset="0.8833" stop-color="#ff0c00"/><stop offset="0.893" stop-color="#ff1800"/><stop offset="0.9124" stop-color="#ff4400"/><stop offset="0.9197" stop-color="#ff5400"/><stop offset="0.927" stop-color="#ff5b00"/><stop offset="0.9634" stop-color="#ff5900"/><stop offset="0.9949" stop-color="#ff4800"/><stop offset="1" stop-color="#ff4500"/></linearGradient><linearGradient id="bg6"><stop offset="0" stop-color="#5a00ff"/><stop offset="0.002427" stop-color="#5200ff"/><stop offset="0.01456" stop-color="#242cff"/><stop offset="0.01699" stop-color="#1538ff"/><stop offset="0.01941" stop-color="#0247ff"/><stop offset="0.04125" stop-color="#0088ff"/><stop offset="0.05339" stop-color="#00a9ff"/><stop offset="0.06794" stop-color="#00dcff"/><stop offset="0.0728" stop-color="#00f2ff"/><stop offset="0.07522" stop-color="#00f9fe"/><stop offset="0.08493" stop-color="#00fef9"/><stop offset="0.08736" stop-color="#00fef1"/><stop offset="0.09949" stop-color="#00faba"/><stop offset="0.1286" stop-color="#00f844"/><stop offset="0.1553" stop-color="#00f802"/><stop offset="0.1602" stop-color="#00f800"/><stop offset="0.2087" stop-color="#00f600"/><stop offset="0.2111" stop-color="#0af600"/><stop offset="0.216" stop-color="#58f400"/><stop offset="0.2184" stop-color="#6cf400"/><stop offset="0.233" stop-color="#aef000"/><stop offset="0.2402" stop-color="#e9f000"/><stop offset="0.2451" stop-color="#fff400"/><stop offset="0.2524" stop-color="#ffec00"/><stop offset="0.2694" stop-color="#ffb300"/><stop offset="0.2839" stop-color="#ff9e00"/><stop offset="0.2912" stop-color="#ff9200"/><stop offset="0.3082" stop-color="#ff7000"/><stop offset="0.3373" stop-color="#ff3f00"/><stop offset="0.364" stop-color="#ff2000"/><stop offset="0.3785" stop-color="#ff0a00"/><stop offset="0.4052" stop-color="#ff0800"/><stop offset="0.5072" stop-color="#ff0900"/><stop offset="0.5169" stop-color="#ff1300"/><stop offset="0.5339" stop-color="#ff2f00"/><stop offset="0.546" stop-color="#ff4a00"/><stop offset="0.5508" stop-color="#ff4f00"/><stop offset="0.5848" stop-color="#ff4d00"/><stop offset="0.6382" stop-color="#ff2600"/><stop offset="0.6673" stop-color="#ff0e00"/><stop offset="0.6867" stop-color="#ff0b00"/><stop offset="0.7231" stop-color="#ff0c00"/><stop offset="0.7498" stop-color="#ff1d00"/><stop offset="0.7838" stop-color="#ff3900"/><stop offset="0.8008" stop-color="#ff4c00"/><stop offset="0.8372" stop-color="#ff4d00"/><stop offset="0.842" stop-color="#ff4600"/><stop offset="0.8614" stop-color="#ff1600"/><stop offset="0.8687" stop-color="#ff0b00"/><stop offset="0.8857" stop-color="#ff0c00"/><stop offset="0.8954" stop-color="#ff1800"/><stop offset="0.9148" stop-color="#ff4300"/><stop offset="0.9245" stop-color="#ff5600"/><stop offset="0.9318" stop-color="#ff5a00"/><stop offset="0.9658" stop-color="#ff5800"/><stop offset="0.9973" stop-color="#ff4700"/><stop offset="1" stop-color="#ff4600"/></linearGradient><linearGradient id="bg7"><stop offset="0" stop-color="#5a00ff"/><stop offset="0.002427" stop-color="#5100ff"/><stop offset="0.01456" stop-color="#232dff"/><stop offset="0.01941" stop-color="#0049ff"/><stop offset="0.04125" stop-color="#008bff"/><stop offset="0.05339" stop-color="#00adff"/><stop offset="0.06552" stop-color="#00d7ff"/><stop offset="0.0728" stop-color="#00f8ff"/><stop offset="0.0825" stop-color="#00fef9"/><stop offset="0.08493" stop-color="#00fff5"/><stop offset="0.09464" stop-color="#00fbc6"/><stop offset="0.114" stop-color="#00f876"/><stop offset="0.1262" stop-color="#00f844"/><stop offset="0.1529" stop-color="#00f801"/><stop offset="0.2063" stop-color="#00f600"/><stop offset="0.2087" stop-color="#10f600"/><stop offset="0.2135" stop-color="#5ef400"/><stop offset="0.216" stop-color="#6df400"/><stop offset="0.2305" stop-color="#aef000"/><stop offset="0.2378" stop-color="#e9f000"/><stop offset="0.2427" stop-color="#fff400"/><stop offset="0.2499" stop-color="#ffec00"/><stop offset="0.2694" stop-color="#ffaf00"/><stop offset="0.2888" stop-color="#ff9600"/><stop offset="0.3058" stop-color="#ff7200"/><stop offset="0.3349" stop-color="#ff4100"/><stop offset="0.3616" stop-color="#ff2200"/><stop offset="0.3761" stop-color="#ff0b00"/><stop offset="0.3858" stop-color="#ff0800"/><stop offset="0.5096" stop-color="#ff0900"/><stop offset="0.5217" stop-color="#ff1700"/><stop offset="0.5363" stop-color="#ff3000"/><stop offset="0.5484" stop-color="#ff4a00"/><stop offset="0.5702" stop-color="#ff4c00"/><stop offset="0.5897" stop-color="#ff4800"/><stop offset="0.6406" stop-color="#ff2300"/><stop offset="0.6673" stop-color="#ff0d00"/><stop offset="0.6867" stop-color="#ff0a00"/><stop offset="0.7231" stop-color="#ff0c00"/><stop offset="0.7498" stop-color="#ff1c00"/><stop offset="0.7862" stop-color="#ff3c00"/><stop offset="0.8008" stop-color="#ff4b00"/><stop offset="0.8347" stop-color="#ff4d00"/><stop offset="0.8396" stop-color="#ff4a00"/><stop offset="0.8517" stop-color="#ff3000"/><stop offset="0.8639" stop-color="#ff1400"/><stop offset="0.8711" stop-color="#ff0b00"/><stop offset="0.8881" stop-color="#ff0c00"/><stop offset="0.8978" stop-color="#ff1800"/><stop offset="0.9245" stop-color="#ff5100"/><stop offset="0.9318" stop-color="#ff5900"/><stop offset="0.9682" stop-color="#ff5700"/><stop offset="1" stop-color="#ff4700"/></linearGradient><linearGradient id="bg8"><stop offset="0" stop-color="#5900ff"/><stop offset="0.002427" stop-color="#5000ff"/><stop offset="0.01456" stop-color="#212fff"/><stop offset="0.01699" stop-color="#0f3dff"/><stop offset="0.01941" stop-color="#004aff"/><stop offset="0.03883" stop-color="#0086ff"/><stop offset="0.05096" stop-color="#00a8ff"/><stop offset="0.06552" stop-color="#00deff"/><stop offset="0.07037" stop-color="#00f4ff"/><stop offset="0.0728" stop-color="#00f9fe"/><stop offset="0.0825" stop-color="#00fff8"/><stop offset="0.09464" stop-color="#00fabd"/><stop offset="0.1165" stop-color="#00f863"/><stop offset="0.1238" stop-color="#00f843"/><stop offset="0.1504" stop-color="#00f801"/><stop offset="0.2038" stop-color="#00f600"/><stop offset="0.2063" stop-color="#16f600"/><stop offset="0.2111" stop-color="#63f400"/><stop offset="0.2281" stop-color="#aff000"/><stop offset="0.2354" stop-color="#e9f000"/><stop offset="0.2402" stop-color="#fff400"/><stop offset="0.2475" stop-color="#ffed00"/><stop offset="0.2669" stop-color="#ffb100"/><stop offset="0.2863" stop-color="#ff9800"/><stop offset="0.3058" stop-color="#ff7000"/><stop offset="0.3349" stop-color="#ff3f00"/><stop offset="0.3616" stop-color="#ff2000"/><stop offset="0.3761" stop-color="#ff0b00"/><stop offset="0.3883" stop-color="#ff0800"/><stop offset="0.512" stop-color="#ff0900"/><stop offset="0.5241" stop-color="#ff1800"/><stop offset="0.5363" stop-color="#ff2b00"/><stop offset="0.5484" stop-color="#ff4600"/><stop offset="0.5533" stop-color="#ff4900"/><stop offset="0.5872" stop-color="#ff4700"/><stop offset="0.6406" stop-color="#ff2200"/><stop offset="0.6673" stop-color="#ff0d00"/><stop offset="0.6867" stop-color="#ff0a00"/><stop offset="0.7231" stop-color="#ff0c00"/><stop offset="0.7474" stop-color="#ff1a00"/><stop offset="0.7862" stop-color="#ff3b00"/><stop offset="0.8032" stop-color="#ff4b00"/><stop offset="0.8372" stop-color="#ff4c00"/><stop offset="0.8445" stop-color="#ff4200"/><stop offset="0.8663" stop-color="#ff1100"/><stop offset="0.8736" stop-color="#ff0a00"/><stop offset="0.8906" stop-color="#ff0c00"/><stop offset="0.9003" stop-color="#ff1800"/><stop offset="0.9294" stop-color="#ff5200"/><stop offset="0.9367" stop-color="#ff5800"/><stop offset="0.9731" stop-color="#ff5600"/><stop offset="1" stop-color="#ff4800"/></linearGradient><linearGradient id="bg9"><stop offset="0" stop-color="#5900ff"/><stop offset="0.002427" stop-color="#5000ff"/><stop offset="0.01456" stop-color="#2030ff"/><stop offset="0.01699" stop-color="#0b3fff"/><stop offset="0.01941" stop-color="#004bff"/><stop offset="0.03883" stop-color="#0089ff"/><stop offset="0.05096" stop-color="#00acff"/><stop offset="0.06309" stop-color="#00d8ff"/><stop offset="0.06794" stop-color="#00f0ff"/><stop offset="0.07037" stop-color="#00f8ff"/><stop offset="0.08008" stop-color="#00fff8"/><stop offset="0.0825" stop-color="#00feef"/><stop offset="0.09221" stop-color="#00fabf"/><stop offset="0.1116" stop-color="#00f86d"/><stop offset="0.1213" stop-color="#00f843"/><stop offset="0.148" stop-color="#00f800"/><stop offset="0.2014" stop-color="#00f600"/><stop offset="0.2038" stop-color="#1cf500"/><stop offset="0.2063" stop-color="#42f500"/><stop offset="0.2087" stop-color="#65f400"/><stop offset="0.2257" stop-color="#b0f000"/><stop offset="0.2305" stop-color="#d8f000"/><stop offset="0.233" stop-color="#e9f000"/><stop offset="0.2378" stop-color="#fff400"/><stop offset="0.2451" stop-color="#ffed00"/><stop offset="0.2572" stop-color="#ffcb00"/><stop offset="0.2669" stop-color="#ffaf00"/><stop offset="0.2863" stop-color="#ff9700"/><stop offset="0.3033" stop-color="#ff7300"/><stop offset="0.3324" stop-color="#ff4100"/><stop offset="0.3616" stop-color="#ff1f00"/><stop offset="0.3761" stop-color="#ff0a00"/><stop offset="0.4052" stop-color="#ff0800"/><stop offset="0.5144" stop-color="#ff0900"/><stop offset="0.529" stop-color="#ff1c00"/><stop offset="0.5387" stop-color="#ff2c00"/><stop offset="0.5484" stop-color="#ff4100"/><stop offset="0.5533" stop-color="#ff4600"/><stop offset="0.5872" stop-color="#ff4400"/><stop offset="0.6358" stop-color="#ff2500"/><stop offset="0.6673" stop-color="#ff0d00"/><stop offset="0.6892" stop-color="#ff0a00"/><stop offset="0.7231" stop-color="#ff0b00"/><stop offset="0.7474" stop-color="#ff1a00"/><stop offset="0.7911" stop-color="#ff4000"/><stop offset="0.8032" stop-color="#ff4b00"/><stop offset="0.8396" stop-color="#ff4a00"/><stop offset="0.8493" stop-color="#ff3900"/><stop offset="0.8663" stop-color="#ff1300"/><stop offset="0.8736" stop-color="#ff0a00"/><stop offset="0.8906" stop-color="#ff0a00"/><stop offset="0.9003" stop-color="#ff1400"/><stop offset="0.9173" stop-color="#ff3400"/><stop offset="0.9318" stop-color="#ff5000"/><stop offset="0.9391" stop-color="#ff5700"/><stop offset="0.9755" stop-color="#ff5500"/><stop offset="1" stop-color="#ff4900"/></linearGradient><linearGradient id="bg10"><stop offset="0" stop-color="#5800ff"/><stop offset="0.002427" stop-color="#4f01ff"/><stop offset="0.01456" stop-color="#1d32ff"/><stop offset="0.01699" stop-color="#0842ff"/><stop offset="0.01941" stop-color="#004dff"/><stop offset="0.03883" stop-color="#008bff"/><stop offset="0.04853" stop-color="#00a7ff"/><stop offset="0.06309" stop-color="#00dfff"/><stop offset="0.06794" stop-color="#00f7ff"/><stop offset="0.07765" stop-color="#00fef9"/><stop offset="0.08008" stop-color="#00fff3"/><stop offset="0.08978" stop-color="#00fbc2"/><stop offset="0.1092" stop-color="#00f86d"/><stop offset="0.1189" stop-color="#00f843"/><stop offset="0.1456" stop-color="#00f800"/><stop offset="0.199" stop-color="#00f600"/><stop offset="0.2014" stop-color="#22f500"/><stop offset="0.2038" stop-color="#47f500"/><stop offset="0.2063" stop-color="#67f400"/><stop offset="0.2232" stop-color="#b0f000"/><stop offset="0.2281" stop-color="#d8f000"/><stop offset="0.2305" stop-color="#e9f100"/><stop offset="0.2354" stop-color="#fef400"/><stop offset="0.2427" stop-color="#ffed00"/><stop offset="0.2499" stop-color="#ffdb00"/><stop offset="0.2645" stop-color="#ffb000"/><stop offset="0.2863" stop-color="#ff9400"/><stop offset="0.3058" stop-color="#ff6c00"/><stop offset="0.3324" stop-color="#ff3f00"/><stop offset="0.3591" stop-color="#ff2100"/><stop offset="0.3737" stop-color="#ff0b00"/><stop offset="0.3834" stop-color="#ff0800"/><stop offset="0.5144" stop-color="#ff0800"/><stop offset="0.5241" stop-color="#ff1100"/><stop offset="0.5387" stop-color="#ff2700"/><stop offset="0.5484" stop-color="#ff3d00"/><stop offset="0.5533" stop-color="#ff4200"/><stop offset="0.5897" stop-color="#ff4000"/><stop offset="0.6333" stop-color="#ff2600"/><stop offset="0.6673" stop-color="#ff0c00"/><stop offset="0.6892" stop-color="#ff0a00"/><stop offset="0.7231" stop-color="#ff0b00"/><stop offset="0.7474" stop-color="#ff1a00"/><stop offset="0.7911" stop-color="#ff3f00"/><stop offset="0.8032" stop-color="#ff4a00"/><stop offset="0.8396" stop-color="#ff4a00"/><stop offset="0.8493" stop-color="#ff3a00"/><stop offset="0.8663" stop-color="#ff1500"/><stop offset="0.8736" stop-color="#ff0b00"/><stop offset="0.893" stop-color="#ff0a00"/><stop offset="0.9027" stop-color="#ff1300"/><stop offset="0.9221" stop-color="#ff3600"/><stop offset="0.9367" stop-color="#ff5100"/><stop offset="0.9439" stop-color="#ff5600"/><stop offset="0.9779" stop-color="#ff5500"/><stop offset="1" stop-color="#ff4a00"/></linearGradient><linearGradient id="bg11"><stop offset="0" stop-color="#5800ff"/><stop offset="0.002427" stop-color="#4e02ff"/><stop offset="0.01213" stop-color="#2729ff"/><stop offset="0.01456" stop-color="#1a35ff"/><stop offset="0.01699" stop-color="#0545ff"/><stop offset="0.01941" stop-color="#004eff"/><stop offset="0.03883" stop-color="#008eff"/><stop offset="0.04853" stop-color="#00abff"/><stop offset="0.06066" stop-color="#00daff"/><stop offset="0.06552" stop-color="#00f2ff"/><stop offset="0.06794" stop-color="#00f9fe"/><stop offset="0.07765" stop-color="#00fff7"/><stop offset="0.08736" stop-color="#00fbc4"/><stop offset="0.1068" stop-color="#00f86d"/><stop offset="0.1165" stop-color="#00f842"/><stop offset="0.1407" stop-color="#00f804"/><stop offset="0.1432" stop-color="#00f800"/><stop offset="0.1966" stop-color="#01f600"/><stop offset="0.2014" stop-color="#4df400"/><stop offset="0.2038" stop-color="#68f400"/><stop offset="0.2208" stop-color="#b1f000"/><stop offset="0.2257" stop-color="#d8f000"/><stop offset="0.2281" stop-color="#e9f100"/><stop offset="0.233" stop-color="#fef400"/><stop offset="0.2427" stop-color="#ffea00"/><stop offset="0.2621" stop-color="#ffb300"/><stop offset="0.2839" stop-color="#ff9700"/><stop offset="0.3033" stop-color="#ff6f00"/><stop offset="0.33" stop-color="#ff4100"/><stop offset="0.3591" stop-color="#ff1f00"/><stop offset="0.3737" stop-color="#ff0b00"/><stop offset="0.3858" stop-color="#ff0800"/><stop offset="0.5169" stop-color="#ff0900"/><stop offset="0.529" stop-color="#ff1500"/><stop offset="0.5411" stop-color="#ff2800"/><stop offset="0.5508" stop-color="#ff3c00"/><stop offset="0.5581" stop-color="#ff3f00"/><stop offset="0.5921" stop-color="#ff3d00"/><stop offset="0.6382" stop-color="#ff2100"/><stop offset="0.6673" stop-color="#ff0c00"/><stop offset="0.6892" stop-color="#ff0900"/><stop offset="0.7256" stop-color="#ff0c00"/><stop offset="0.7522" stop-color="#ff1e00"/><stop offset="0.7959" stop-color="#ff4400"/><stop offset="0.8081" stop-color="#ff4b00"/><stop offset="0.8396" stop-color="#ff4900"/><stop offset="0.8493" stop-color="#ff3a00"/><stop offset="0.8687" stop-color="#ff1200"/><stop offset="0.876" stop-color="#ff0a00"/><stop offset="0.8954" stop-color="#ff0a00"/><stop offset="0.9075" stop-color="#ff1600"/><stop offset="0.9391" stop-color="#ff4e00"/><stop offset="0.9464" stop-color="#ff5500"/><stop offset="0.9803" stop-color="#ff5400"/><stop offset="1" stop-color="#ff4b00"/></linearGradient><linearGradient id="bg12"><stop offset="0" stop-color="#5700ff"/><stop offset="0.002427" stop-color="#4e02ff"/><stop offset="0.01213" stop-color="#252bff"/><stop offset="0.01456" stop-color="#1637ff"/><stop offset="0.01699" stop-color="#0147ff"/><stop offset="0.0364" stop-color="#0089ff"/><stop offset="0.04611" stop-color="#00a6ff"/><stop offset="0.05824" stop-color="#00d5ff"/><stop offset="0.06552" stop-color="#00f8ff"/><stop offset="0.07522" stop-color="#00fff8"/><stop offset="0.08978" stop-color="#00f9af"/><stop offset="0.114" stop-color="#00f842"/><stop offset="0.1383" stop-color="#00f803"/><stop offset="0.1407" stop-color="#00f800"/><stop offset="0.1917" stop-color="#00f600"/><stop offset="0.1941" stop-color="#07f600"/><stop offset="0.199" stop-color="#52f400"/><stop offset="0.2014" stop-color="#69f400"/><stop offset="0.2184" stop-color="#b2f000"/><stop offset="0.2232" stop-color="#d9f000"/><stop offset="0.2257" stop-color="#e9f100"/><stop offset="0.2305" stop-color="#fdf400"/><stop offset="0.2402" stop-color="#ffea00"/><stop offset="0.2621" stop-color="#ffb000"/><stop offset="0.2839" stop-color="#ff9500"/><stop offset="0.3033" stop-color="#ff6c00"/><stop offset="0.33" stop-color="#ff3f00"/><stop offset="0.3567" stop-color="#ff2100"/><stop offset="0.3713" stop-color="#ff0c00"/><stop offset="0.381" stop-color="#ff0800"/><stop offset="0.5193" stop-color="#ff0900"/><stop offset="0.5314" stop-color="#ff1500"/><stop offset="0.5436" stop-color="#ff2800"/><stop offset="0.5508" stop-color="#ff3800"/><stop offset="0.5557" stop-color="#ff3c00"/><stop offset="0.5945" stop-color="#ff3a00"/><stop offset="0.643" stop-color="#ff1d00"/><stop offset="0.6697" stop-color="#ff0b00"/><stop offset="0.7207" stop-color="#ff0a00"/><stop offset="0.7425" stop-color="#ff1500"/><stop offset="0.8032" stop-color="#ff4900"/><stop offset="0.8396" stop-color="#ff4900"/><stop offset="0.8493" stop-color="#ff3b00"/><stop offset="0.8687" stop-color="#ff1300"/><stop offset="0.876" stop-color="#ff0b00"/><stop offset="0.8978" stop-color="#ff0a00"/><stop offset="0.91" stop-color="#ff1600"/><stop offset="0.9439" stop-color="#ff4f00"/><stop offset="0.9512" stop-color="#ff5400"/><stop offset="0.9852" stop-color="#ff5300"/><stop offset="1" stop-color="#ff4c00"/></linearGradient><linearGradient id="bg13"><stop offset="0" stop-color="#5700ff"/><stop offset="0.002427" stop-color="#4d03ff"/><stop offset="0.01213" stop-color="#242cff"/><stop offset="0.01699" stop-color="#0049ff"/><stop offset="0.0364" stop-color="#008cff"/><stop offset="0.04611" stop-color="#00aaff"/><stop offset="0.05824" stop-color="#00dcff"/><stop offset="0.06309" stop-color="#00f5ff"/><stop offset="0.06794" stop-color="#00fbfc"/><stop offset="0.0728" stop-color="#00fef9"/><stop offset="0.07522" stop-color="#00fef1"/><stop offset="0.08493" stop-color="#00fabd"/><stop offset="0.1092" stop-color="#00f84d"/><stop offset="0.1116" stop-color="#00f841"/><stop offset="0.1359" stop-color="#00f802"/><stop offset="0.1432" stop-color="#00f800"/><stop offset="0.1893" stop-color="#00f600"/><stop offset="0.1917" stop-color="#0df600"/><stop offset="0.1966" stop-color="#57f400"/><stop offset="0.199" stop-color="#6bf400"/><stop offset="0.216" stop-color="#b3f000"/><stop offset="0.2208" stop-color="#d9f000"/><stop offset="0.2232" stop-color="#e9f100"/><stop offset="0.2281" stop-color="#fdf400"/><stop offset="0.2378" stop-color="#ffeb00"/><stop offset="0.2596" stop-color="#ffb200"/><stop offset="0.2815" stop-color="#ff9800"/><stop offset="0.3033" stop-color="#ff6a00"/><stop offset="0.33" stop-color="#ff3e00"/><stop offset="0.3567" stop-color="#ff1f00"/><stop offset="0.3713" stop-color="#ff0b00"/><stop offset="0.381" stop-color="#ff0800"/><stop offset="0.5217" stop-color="#ff0900"/><stop offset="0.5363" stop-color="#ff1900"/><stop offset="0.5436" stop-color="#ff2300"/><stop offset="0.5533" stop-color="#ff3700"/><stop offset="0.5654" stop-color="#ff3a00"/><stop offset="0.5969" stop-color="#ff3700"/><stop offset="0.6455" stop-color="#ff1a00"/><stop offset="0.6697" stop-color="#ff0b00"/><stop offset="0.7231" stop-color="#ff0a00"/><stop offset="0.745" stop-color="#ff1700"/><stop offset="0.8056" stop-color="#ff4900"/><stop offset="0.8396" stop-color="#ff4900"/><stop offset="0.8493" stop-color="#ff3b00"/><stop offset="0.8711" stop-color="#ff1100"/><stop offset="0.8784" stop-color="#ff0a00"/><stop offset="0.9003" stop-color="#ff0a00"/><stop offset="0.9124" stop-color="#ff1500"/><stop offset="0.9464" stop-color="#ff4d00"/><stop offset="0.9561" stop-color="#ff5300"/><stop offset="0.9876" stop-color="#ff5200"/><stop offset="1" stop-color="#ff4d00"/></linearGradient><linearGradient id="bg14"><stop offset="0" stop-color="#5600ff"/><stop offset="0.002427" stop-color="#4c04ff"/><stop offset="0.01213" stop-color="#232dff"/><stop offset="0.01456" stop-color="#0f3cff"/><stop offset="0.01699" stop-color="#004bff"/><stop offset="0.0364" stop-color="#008eff"/><stop offset="0.04611" stop-color="#00afff"/><stop offset="0.05581" stop-color="#00d6ff"/><stop offset="0.06066" stop-color="#00f0ff"/><stop offset="0.06309" stop-color="#00f9fe"/><stop offset="0.07037" stop-color="#00fef9"/><stop offset="0.0728" stop-color="#00fff5"/><stop offset="0.0825" stop-color="#00fabf"/><stop offset="0.1019" stop-color="#00f863"/><stop offset="0.1092" stop-color="#00f841"/><stop offset="0.1335" stop-color="#00f801"/><stop offset="0.1868" stop-color="#00f600"/><stop offset="0.1893" stop-color="#12f600"/><stop offset="0.1941" stop-color="#5cf400"/><stop offset="0.1966" stop-color="#6cf400"/><stop offset="0.2111" stop-color="#a8f000"/><stop offset="0.2135" stop-color="#b4f000"/><stop offset="0.2184" stop-color="#daf000"/><stop offset="0.2208" stop-color="#e9f100"/><stop offset="0.2257" stop-color="#fdf400"/><stop offset="0.233" stop-color="#ffee00"/><stop offset="0.2354" stop-color="#ffec00"/><stop offset="0.2596" stop-color="#ffaf00"/><stop offset="0.2815" stop-color="#ff9600"/><stop offset="0.3009" stop-color="#ff6d00"/><stop offset="0.3276" stop-color="#ff3f00"/><stop offset="0.3567" stop-color="#ff1e00"/><stop offset="0.3713" stop-color="#ff0a00"/><stop offset="0.3858" stop-color="#ff0800"/><stop offset="0.5241" stop-color="#ff0900"/><stop offset="0.5411" stop-color="#ff1b00"/><stop offset="0.5557" stop-color="#ff3600"/><stop offset="0.5969" stop-color="#ff3500"/><stop offset="0.6455" stop-color="#ff1900"/><stop offset="0.6697" stop-color="#ff0a00"/><stop offset="0.7231" stop-color="#ff0a00"/><stop offset="0.745" stop-color="#ff1700"/><stop offset="0.8056" stop-color="#ff4800"/><stop offset="0.8396" stop-color="#ff4800"/><stop offset="0.8493" stop-color="#ff3c00"/><stop offset="0.8711" stop-color="#ff1200"/><stop offset="0.8809" stop-color="#ff0900"/><stop offset="0.9027" stop-color="#ff0900"/><stop offset="0.9148" stop-color="#ff1400"/><stop offset="0.9512" stop-color="#ff4d00"/><stop offset="0.9609" stop-color="#ff5200"/><stop offset="0.9925" stop-color="#ff5100"/><stop offset="1" stop-color="#ff4e00"/></linearGradient><linearGradient id="bg15"><stop offset="0" stop-color="#5600ff"/><stop offset="0.002427" stop-color="#4b05ff"/><stop offset="0.01213" stop-color="#212fff"/><stop offset="0.01456" stop-color="#0c3fff"/><stop offset="0.01699" stop-color="#004cff"/><stop offset="0.03397" stop-color="#0089ff"/><stop offset="0.04368" stop-color="#00a9ff"/><stop offset="0.05581" stop-color="#00deff"/><stop offset="0.06066" stop-color="#00f8ff"/><stop offset="0.07037" stop-color="#00fff8"/><stop offset="0.08008" stop-color="#00fbc1"/><stop offset="0.09706" stop-color="#00f86f"/><stop offset="0.1068" stop-color="#00f840"/><stop offset="0.131" stop-color="#00f800"/><stop offset="0.1844" stop-color="#00f600"/><stop offset="0.1868" stop-color="#18f600"/><stop offset="0.1917" stop-color="#61f400"/><stop offset="0.1966" stop-color="#77f300"/><stop offset="0.2087" stop-color="#a9f000"/><stop offset="0.2111" stop-color="#b5f000"/><stop offset="0.216" stop-color="#daf000"/><stop offset="0.2184" stop-color="#e9f100"/><stop offset="0.2232" stop-color="#fdf400"/><stop offset="0.2281" stop-color="#fff000"/><stop offset="0.233" stop-color="#ffec00"/><stop offset="0.2572" stop-color="#ffb100"/><stop offset="0.2791" stop-color="#ff9900"/><stop offset="0.3033" stop-color="#ff6600"/><stop offset="0.3276" stop-color="#ff3e00"/><stop offset="0.3567" stop-color="#ff1c00"/><stop offset="0.3713" stop-color="#ff0a00"/><stop offset="0.4077" stop-color="#ff0800"/><stop offset="0.5266" stop-color="#ff0900"/><stop offset="0.5436" stop-color="#ff1b00"/><stop offset="0.5557" stop-color="#ff3300"/><stop offset="0.5969" stop-color="#ff3300"/><stop offset="0.6479" stop-color="#ff1700"/><stop offset="0.6722" stop-color="#ff0900"/><stop offset="0.7256" stop-color="#ff0a00"/><stop offset="0.7498" stop-color="#ff1b00"/><stop offset="0.8056" stop-color="#ff4800"/><stop offset="0.8396" stop-color="#ff4800"/><stop offset="0.8493" stop-color="#ff3c00"/><stop offset="0.8736" stop-color="#ff1000"/><stop offset="0.8833" stop-color="#ff0800"/><stop offset="0.9075" stop-color="#ff0b00"/><stop offset="0.9221" stop-color="#ff1a00"/><stop offset="0.9537" stop-color="#ff4b00"/><stop offset="0.9634" stop-color="#ff5100"/><stop offset="0.9973" stop-color="#ff4f00"/><stop offset="1" stop-color="#ff4f00"/></linearGradient><linearGradient id="bg16"><stop offset="0" stop-color="#5500ff"/><stop offset="0.002427" stop-color="#4b05ff"/><stop offset="0.01213" stop-color="#1f31ff"/><stop offset="0.01456" stop-color="#0842ff"/><stop offset="0.01699" stop-color="#004eff"/><stop offset="0.03397" stop-color="#008cff"/><stop offset="0.04368" stop-color="#00aeff"/><stop offset="0.05339" stop-color="#00d8ff"/><stop offset="0.05824" stop-color="#00f3ff"/><stop offset="0.06066" stop-color="#00f9fe"/><stop offset="0.06794" stop-color="#00fef9"/><stop offset="0.07037" stop-color="#00feee"/><stop offset="0.08008" stop-color="#00fab7"/><stop offset="0.1043" stop-color="#00f840"/><stop offset="0.1286" stop-color="#00f800"/><stop offset="0.182" stop-color="#00f600"/><stop offset="0.1844" stop-color="#1df500"/><stop offset="0.1893" stop-color="#64f400"/><stop offset="0.2063" stop-color="#aaf000"/><stop offset="0.2087" stop-color="#b6f000"/><stop offset="0.2135" stop-color="#daf000"/><stop offset="0.216" stop-color="#e9f100"/><stop offset="0.2208" stop-color="#fcf400"/><stop offset="0.2257" stop-color="#fff000"/><stop offset="0.2305" stop-color="#ffec00"/><stop offset="0.2572" stop-color="#ffaf00"/><stop offset="0.2791" stop-color="#ff9700"/><stop offset="0.2985" stop-color="#ff6d00"/><stop offset="0.3252" stop-color="#ff4000"/><stop offset="0.3543" stop-color="#ff1e00"/><stop offset="0.3688" stop-color="#ff0b00"/><stop offset="0.381" stop-color="#ff0800"/><stop offset="0.529" stop-color="#ff0900"/><stop offset="0.546" stop-color="#ff1b00"/><stop offset="0.5557" stop-color="#ff2f00"/><stop offset="0.563" stop-color="#ff3100"/><stop offset="0.5994" stop-color="#ff3000"/><stop offset="0.6503" stop-color="#ff1400"/><stop offset="0.6746" stop-color="#ff0800"/><stop offset="0.7256" stop-color="#ff0a00"/><stop offset="0.7474" stop-color="#ff1800"/><stop offset="0.8056" stop-color="#ff4700"/><stop offset="0.8396" stop-color="#ff4800"/><stop offset="0.8493" stop-color="#ff3c00"/><stop offset="0.8736" stop-color="#ff1100"/><stop offset="0.8833" stop-color="#ff0800"/><stop offset="0.9075" stop-color="#ff0900"/><stop offset="0.9197" stop-color="#ff1300"/><stop offset="0.9585" stop-color="#ff4c00"/><stop offset="0.9682" stop-color="#ff5100"/><stop offset="1" stop-color="#ff4f00"/></linearGradient><linearGradient id="bg17"><stop offset="0" stop-color="#5500ff"/><stop offset="0.002427" stop-color="#4a06ff"/><stop offset="0.01213" stop-color="#1c33ff"/><stop offset="0.01456" stop-color="#0445ff"/><stop offset="0.01699" stop-color="#004fff"/><stop offset="0.03397" stop-color="#008fff"/><stop offset="0.04125" stop-color="#00a7ff"/><stop offset="0.05339" stop-color="#00dfff"/><stop offset="0.05824" stop-color="#00f8ff"/><stop offset="0.06552" stop-color="#00fef9"/><stop offset="0.06794" stop-color="#00fff4"/><stop offset="0.07765" stop-color="#00fabb"/><stop offset="0.1019" stop-color="#00f841"/><stop offset="0.1262" stop-color="#00f800"/><stop offset="0.1796" stop-color="#00f600"/><stop offset="0.1844" stop-color="#46f500"/><stop offset="0.1868" stop-color="#66f400"/><stop offset="0.2038" stop-color="#aaf000"/><stop offset="0.2063" stop-color="#b7f000"/><stop offset="0.2111" stop-color="#dbf000"/><stop offset="0.2135" stop-color="#eaf100"/><stop offset="0.2184" stop-color="#fcf400"/><stop offset="0.2232" stop-color="#fff100"/><stop offset="0.2281" stop-color="#ffed00"/><stop offset="0.2548" stop-color="#ffb000"/><stop offset="0.2766" stop-color="#ff9900"/><stop offset="0.3009" stop-color="#ff6600"/><stop offset="0.3252" stop-color="#ff3e00"/><stop offset="0.3543" stop-color="#ff1d00"/><stop offset="0.3688" stop-color="#ff0a00"/><stop offset="0.3834" stop-color="#ff0800"/><stop offset="0.529" stop-color="#ff0900"/><stop offset="0.5436" stop-color="#ff1600"/><stop offset="0.5508" stop-color="#ff2200"/><stop offset="0.5581" stop-color="#ff2f00"/><stop offset="0.5994" stop-color="#ff2e00"/><stop offset="0.6503" stop-color="#ff1300"/><stop offset="0.6746" stop-color="#ff0800"/><stop offset="0.7256" stop-color="#ff0900"/><stop offset="0.7474" stop-color="#ff1800"/><stop offset="0.8032" stop-color="#ff4500"/><stop offset="0.8275" stop-color="#ff4700"/><stop offset="0.842" stop-color="#ff4600"/><stop offset="0.8542" stop-color="#ff3500"/><stop offset="0.8736" stop-color="#ff1200"/><stop offset="0.8833" stop-color="#ff0900"/><stop offset="0.91" stop-color="#ff0900"/><stop offset="0.9245" stop-color="#ff1700"/><stop offset="0.9609" stop-color="#ff4b00"/><stop offset="0.9706" stop-color="#ff5000"/><stop offset="1" stop-color="#ff5000"/></linearGradient><linearGradient id="bg18"><stop offset="0" stop-color="#5400ff"/><stop offset="0.002427" stop-color="#4907ff"/><stop offset="0.009706" stop-color="#2828ff"/><stop offset="0.01213" stop-color="#1935ff"/><stop offset="0.01456" stop-color="#0147ff"/><stop offset="0.03155" stop-color="#0089ff"/><stop offset="0.04125" stop-color="#00abff"/><stop offset="0.05096" stop-color="#00d7ff"/><stop offset="0.05581" stop-color="#00f2ff"/><stop offset="0.05824" stop-color="#00f9fe"/><stop offset="0.06552" stop-color="#00fff8"/><stop offset="0.07765" stop-color="#00fab3"/><stop offset="0.09949" stop-color="#00f844"/><stop offset="0.1238" stop-color="#00f800"/><stop offset="0.1771" stop-color="#00f600"/><stop offset="0.182" stop-color="#49f500"/><stop offset="0.1844" stop-color="#67f400"/><stop offset="0.2014" stop-color="#abf000"/><stop offset="0.2038" stop-color="#b8f000"/><stop offset="0.2087" stop-color="#dcf000"/><stop offset="0.2111" stop-color="#eaf100"/><stop offset="0.216" stop-color="#fcf400"/><stop offset="0.2208" stop-color="#fff100"/><stop offset="0.2257" stop-color="#ffed00"/><stop offset="0.2524" stop-color="#ffb000"/><stop offset="0.2766" stop-color="#ff9600"/><stop offset="0.2985" stop-color="#ff6900"/><stop offset="0.3227" stop-color="#ff4000"/><stop offset="0.3543" stop-color="#ff1b00"/><stop offset="0.3688" stop-color="#ff0a00"/><stop offset="0.4222" stop-color="#ff0800"/><stop offset="0.5314" stop-color="#ff0a00"/><stop offset="0.546" stop-color="#ff1800"/><stop offset="0.5581" stop-color="#ff2e00"/><stop offset="0.5994" stop-color="#ff2d00"/><stop offset="0.6528" stop-color="#ff1100"/><stop offset="0.6746" stop-color="#ff0800"/><stop offset="0.7256" stop-color="#ff0900"/><stop offset="0.7474" stop-color="#ff1800"/><stop offset="0.8032" stop-color="#ff4400"/><stop offset="0.8299" stop-color="#ff4600"/><stop offset="0.842" stop-color="#ff4500"/><stop offset="0.8542" stop-color="#ff3500"/><stop offset="0.876" stop-color="#ff1000"/><stop offset="0.8857" stop-color="#ff0800"/><stop offset="0.91" stop-color="#ff0900"/><stop offset="0.9245" stop-color="#ff1600"/><stop offset="0.9609" stop-color="#ff4a00"/><stop offset="0.9706" stop-color="#ff4f00"/><stop offset="1" stop-color="#ff4f00"/></linearGradient><linearGradient id="bg19"><stop offset="0" stop-color="#5400ff"/><stop offset="0.002427" stop-color="#4808ff"/><stop offset="0.009706" stop-color="#262aff"/><stop offset="0.01213" stop-color="#1638ff"/><stop offset="0.01456" stop-color="#0049ff"/><stop offset="0.03155" stop-color="#008bff"/><stop offset="0.04125" stop-color="#00afff"/><stop offset="0.05096" stop-color="#00dcff"/><stop offset="0.05581" stop-color="#00f8ff"/><stop offset="0.06309" stop-color="#00fef9"/><stop offset="0.06552" stop-color="#00fff3"/><stop offset="0.0728" stop-color="#00fbc6"/><stop offset="0.08736" stop-color="#00f878"/><stop offset="0.09706" stop-color="#00f847"/><stop offset="0.09949" stop-color="#00f83d"/><stop offset="0.1213" stop-color="#00f800"/><stop offset="0.1723" stop-color="#00f600"/><stop offset="0.1747" stop-color="#04f600"/><stop offset="0.1796" stop-color="#4df400"/><stop offset="0.182" stop-color="#68f400"/><stop offset="0.199" stop-color="#acf000"/><stop offset="0.2014" stop-color="#b9f000"/><stop offset="0.2063" stop-color="#ddf000"/><stop offset="0.2087" stop-color="#eaf100"/><stop offset="0.2135" stop-color="#fcf400"/><stop offset="0.2184" stop-color="#fff100"/><stop offset="0.2257" stop-color="#ffe800"/><stop offset="0.2499" stop-color="#ffb200"/><stop offset="0.2742" stop-color="#ff9800"/><stop offset="0.2985" stop-color="#ff6700"/><stop offset="0.3227" stop-color="#ff3f00"/><stop offset="0.3519" stop-color="#ff1e00"/><stop offset="0.3664" stop-color="#ff0b00"/><stop offset="0.3785" stop-color="#ff0800"/><stop offset="0.5314" stop-color="#ff0900"/><stop offset="0.546" stop-color="#ff1700"/><stop offset="0.5581" stop-color="#ff2d00"/><stop offset="0.5994" stop-color="#ff2c00"/><stop offset="0.6697" stop-color="#ff0800"/><stop offset="0.7256" stop-color="#ff0900"/><stop offset="0.7498" stop-color="#ff1a00"/><stop offset="0.8032" stop-color="#ff4300"/><stop offset="0.8299" stop-color="#ff4500"/><stop offset="0.842" stop-color="#ff4400"/><stop offset="0.8542" stop-color="#ff3600"/><stop offset="0.876" stop-color="#ff1100"/><stop offset="0.8857" stop-color="#ff0900"/><stop offset="0.9124" stop-color="#ff0a00"/><stop offset="0.927" stop-color="#ff1800"/><stop offset="0.9609" stop-color="#ff4900"/><stop offset="0.9706" stop-color="#ff4e00"/><stop offset="1" stop-color="#ff4e00"/></linearGradient><linearGradient id="bg20"><stop offset="0" stop-color="#5300ff"/><stop offset="0.002427" stop-color="#4808ff"/><stop offset="0.009706" stop-color="#252bff"/><stop offset="0.01456" stop-color="#004aff"/><stop offset="0.03155" stop-color="#008dff"/><stop offset="0.03883" stop-color="#00a7ff"/><stop offset="0.04853" stop-color="#00d5ff"/><stop offset="0.05339" stop-color="#00f1ff"/><stop offset="0.05581" stop-color="#00f9fe"/><stop offset="0.06309" stop-color="#00fff8"/><stop offset="0.07522" stop-color="#00f9b0"/><stop offset="0.09706" stop-color="#00f83f"/><stop offset="0.1189" stop-color="#00f801"/><stop offset="0.1699" stop-color="#00f600"/><stop offset="0.1723" stop-color="#07f600"/><stop offset="0.1771" stop-color="#50f400"/><stop offset="0.1796" stop-color="#68f400"/><stop offset="0.1966" stop-color="#acf000"/><stop offset="0.199" stop-color="#baf000"/><stop offset="0.2038" stop-color="#ddf000"/><stop offset="0.2063" stop-color="#ebf100"/><stop offset="0.2111" stop-color="#fdf400"/><stop offset="0.2184" stop-color="#ffef00"/><stop offset="0.2232" stop-color="#ffe900"/><stop offset="0.2499" stop-color="#ffaf00"/><stop offset="0.2718" stop-color="#ff9900"/><stop offset="0.3009" stop-color="#ff6100"/><stop offset="0.3227" stop-color="#ff3e00"/><stop offset="0.3519" stop-color="#ff1c00"/><stop offset="0.3664" stop-color="#ff0a00"/><stop offset="0.3834" stop-color="#ff0800"/><stop offset="0.5339" stop-color="#ff0a00"/><stop offset="0.5484" stop-color="#ff1a00"/><stop offset="0.5581" stop-color="#ff2c00"/><stop offset="0.5994" stop-color="#ff2b00"/><stop offset="0.6673" stop-color="#ff0800"/><stop offset="0.7256" stop-color="#ff0900"/><stop offset="0.7498" stop-color="#ff1900"/><stop offset="0.8008" stop-color="#ff4100"/><stop offset="0.8153" stop-color="#ff4400"/><stop offset="0.842" stop-color="#ff4300"/><stop offset="0.8542" stop-color="#ff3600"/><stop offset="0.8784" stop-color="#ff0f00"/><stop offset="0.8881" stop-color="#ff0800"/><stop offset="0.9124" stop-color="#ff0900"/><stop offset="0.927" stop-color="#ff1700"/><stop offset="0.9609" stop-color="#ff4700"/><stop offset="0.9706" stop-color="#ff4d00"/><stop offset="1" stop-color="#ff4d00"/></linearGradient><linearGradient id="bg21"><stop offset="0" stop-color="#5300ff"/><stop offset="0.004853" stop-color="#3b15ff"/><stop offset="0.009706" stop-color="#242cff"/><stop offset="0.01213" stop-color="#0f3dff"/><stop offset="0.01456" stop-color="#004cff"/><stop offset="0.03155" stop-color="#0090ff"/><stop offset="0.03883" stop-color="#00abff"/><stop offset="0.04853" stop-color="#00d9ff"/><stop offset="0.05339" stop-color="#00f7ff"/><stop offset="0.06066" stop-color="#00fef9"/><stop offset="0.06309" stop-color="#00fff2"/><stop offset="0.07037" stop-color="#00fbc4"/><stop offset="0.08493" stop-color="#00f873"/><stop offset="0.09464" stop-color="#00f840"/><stop offset="0.1165" stop-color="#00f802"/><stop offset="0.131" stop-color="#00f700"/><stop offset="0.1674" stop-color="#00f600"/><stop offset="0.1699" stop-color="#0bf600"/><stop offset="0.1747" stop-color="#53f400"/><stop offset="0.1771" stop-color="#69f400"/><stop offset="0.1941" stop-color="#adf000"/><stop offset="0.199" stop-color="#cdf000"/><stop offset="0.2014" stop-color="#def000"/><stop offset="0.2038" stop-color="#ebf100"/><stop offset="0.2087" stop-color="#fdf400"/><stop offset="0.216" stop-color="#ffef00"/><stop offset="0.2208" stop-color="#ffe900"/><stop offset="0.2475" stop-color="#ffaf00"/><stop offset="0.2718" stop-color="#ff9700"/><stop offset="0.296" stop-color="#ff6700"/><stop offset="0.3203" stop-color="#ff3f00"/><stop offset="0.3494" stop-color="#ff1f00"/><stop offset="0.364" stop-color="#ff0c00"/><stop offset="0.3737" stop-color="#ff0800"/><stop offset="0.5339" stop-color="#ff0a00"/><stop offset="0.5484" stop-color="#ff1900"/><stop offset="0.5581" stop-color="#ff2b00"/><stop offset="0.5994" stop-color="#ff2a00"/><stop offset="0.6649" stop-color="#ff0900"/><stop offset="0.7256" stop-color="#ff0900"/><stop offset="0.7498" stop-color="#ff1900"/><stop offset="0.8008" stop-color="#ff4000"/><stop offset="0.8153" stop-color="#ff4300"/><stop offset="0.8445" stop-color="#ff4100"/><stop offset="0.8566" stop-color="#ff3300"/><stop offset="0.8784" stop-color="#ff1000"/><stop offset="0.8881" stop-color="#ff0800"/><stop offset="0.9124" stop-color="#ff0900"/><stop offset="0.927" stop-color="#ff1600"/><stop offset="0.9609" stop-color="#ff4600"/><stop offset="0.9706" stop-color="#ff4c00"/><stop offset="1" stop-color="#ff4c00"/></linearGradient><linearGradient id="bg22"><stop offset="0" stop-color="#5200ff"/><stop offset="0.00728" stop-color="#2e22ff"/><stop offset="0.009706" stop-color="#232dff"/><stop offset="0.01213" stop-color="#0c3fff"/><stop offset="0.01456" stop-color="#004dff"/><stop offset="0.02912" stop-color="#0089ff"/><stop offset="0.03883" stop-color="#00afff"/><stop offset="0.04853" stop-color="#00e0ff"/><stop offset="0.05096" stop-color="#00efff"/><stop offset="0.05339" stop-color="#00f9fe"/><stop offset="0.06066" stop-color="#00fff8"/><stop offset="0.0728" stop-color="#00f9ad"/><stop offset="0.09221" stop-color="#00f843"/><stop offset="0.114" stop-color="#00f803"/><stop offset="0.1189" stop-color="#00f800"/><stop offset="0.165" stop-color="#00f600"/><stop offset="0.1674" stop-color="#0ef600"/><stop offset="0.1723" stop-color="#57f400"/><stop offset="0.1747" stop-color="#6af400"/><stop offset="0.1917" stop-color="#adf000"/><stop offset="0.199" stop-color="#dff000"/><stop offset="0.2014" stop-color="#ebf100"/><stop offset="0.2063" stop-color="#fdf400"/><stop offset="0.216" stop-color="#ffed00"/><stop offset="0.2451" stop-color="#ffb000"/><stop offset="0.2694" stop-color="#ff9800"/><stop offset="0.296" stop-color="#ff6500"/><stop offset="0.3203" stop-color="#ff3e00"/><stop offset="0.3494" stop-color="#ff1d00"/><stop offset="0.364" stop-color="#ff0b00"/><stop offset="0.3761" stop-color="#ff0800"/><stop offset="0.5339" stop-color="#ff0a00"/><stop offset="0.5484" stop-color="#ff1800"/><stop offset="0.5581" stop-color="#ff2a00"/><stop offset="0.5994" stop-color="#ff2900"/><stop offset="0.6649" stop-color="#ff0800"/><stop offset="0.7256" stop-color="#ff0900"/><stop offset="0.7498" stop-color="#ff1900"/><stop offset="0.7983" stop-color="#ff3e00"/><stop offset="0.8129" stop-color="#ff4200"/><stop offset="0.8445" stop-color="#ff4100"/><stop offset="0.8566" stop-color="#ff3300"/><stop offset="0.8809" stop-color="#ff0e00"/><stop offset="0.8906" stop-color="#ff0800"/><stop offset="0.9148" stop-color="#ff0a00"/><stop offset="0.9294" stop-color="#ff1800"/><stop offset="0.9609" stop-color="#ff4500"/><stop offset="0.9706" stop-color="#ff4b00"/><stop offset="1" stop-color="#ff4b00"/></linearGradient><linearGradient id="bg23"><stop offset="0" stop-color="#5200ff"/><stop offset="0.009706" stop-color="#212fff"/><stop offset="0.01213" stop-color="#0842ff"/><stop offset="0.01456" stop-color="#004fff"/><stop offset="0.02912" stop-color="#008cff"/><stop offset="0.0364" stop-color="#00a7ff"/><stop offset="0.04611" stop-color="#00d7ff"/><stop offset="0.05096" stop-color="#00f6ff"/><stop offset="0.05824" stop-color="#00fef9"/><stop offset="0.06066" stop-color="#00fef2"/><stop offset="0.06794" stop-color="#00fbc1"/><stop offset="0.08493" stop-color="#00f861"/><stop offset="0.08978" stop-color="#00f846"/><stop offset="0.09464" stop-color="#00f836"/><stop offset="0.1116" stop-color="#00f803"/><stop offset="0.114" stop-color="#00f800"/><stop offset="0.1626" stop-color="#00f600"/><stop offset="0.165" stop-color="#12f600"/><stop offset="0.1699" stop-color="#5af400"/><stop offset="0.1723" stop-color="#6bf400"/><stop offset="0.1893" stop-color="#aef000"/><stop offset="0.1966" stop-color="#e0f000"/><stop offset="0.2014" stop-color="#f4f200"/><stop offset="0.2038" stop-color="#fdf400"/><stop offset="0.216" stop-color="#ffe900"/><stop offset="0.2427" stop-color="#ffb000"/><stop offset="0.2694" stop-color="#ff9600"/><stop offset="0.296" stop-color="#ff6300"/><stop offset="0.3203" stop-color="#ff3d00"/><stop offset="0.347" stop-color="#ff2000"/><stop offset="0.364" stop-color="#ff0a00"/><stop offset="0.3858" stop-color="#ff0800"/><stop offset="0.5363" stop-color="#ff0b00"/><stop offset="0.5508" stop-color="#ff1b00"/><stop offset="0.5581" stop-color="#ff2900"/><stop offset="0.5994" stop-color="#ff2800"/><stop offset="0.6625" stop-color="#ff0800"/><stop offset="0.7256" stop-color="#ff0900"/><stop offset="0.7498" stop-color="#ff1900"/><stop offset="0.7983" stop-color="#ff3d00"/><stop offset="0.8153" stop-color="#ff4100"/><stop offset="0.8445" stop-color="#ff4000"/><stop offset="0.8566" stop-color="#ff3400"/><stop offset="0.8809" stop-color="#ff0f00"/><stop offset="0.8906" stop-color="#ff0800"/><stop offset="0.9148" stop-color="#ff0a00"/><stop offset="0.9294" stop-color="#ff1700"/><stop offset="0.9609" stop-color="#ff4300"/><stop offset="0.9706" stop-color="#ff4a00"/><stop offset="1" stop-color="#ff4a00"/></linearGradient><linearGradient id="bg24"><stop offset="0" stop-color="#5100ff"/><stop offset="0.009706" stop-color="#1f31ff"/><stop offset="0.01213" stop-color="#0445ff"/><stop offset="0.01456" stop-color="#0051ff"/><stop offset="0.02912" stop-color="#008eff"/><stop offset="0.0364" stop-color="#00abff"/><stop offset="0.04611" stop-color="#00ddff"/><stop offset="0.04853" stop-color="#00edff"/><stop offset="0.05096" stop-color="#00f9fe"/><stop offset="0.05824" stop-color="#00fff8"/><stop offset="0.06794" stop-color="#00fab8"/><stop offset="0.08736" stop-color="#00f84a"/><stop offset="0.08978" stop-color="#00f83e"/><stop offset="0.1092" stop-color="#00f804"/><stop offset="0.1116" stop-color="#00f800"/><stop offset="0.1602" stop-color="#00f600"/><stop offset="0.1626" stop-color="#15f600"/><stop offset="0.1674" stop-color="#5df400"/><stop offset="0.1699" stop-color="#6cf400"/><stop offset="0.1868" stop-color="#aff000"/><stop offset="0.1941" stop-color="#e0f000"/><stop offset="0.199" stop-color="#f5f200"/><stop offset="0.2014" stop-color="#fdf400"/><stop offset="0.2135" stop-color="#ffe900"/><stop offset="0.2402" stop-color="#ffb100"/><stop offset="0.2669" stop-color="#ff9800"/><stop offset="0.2936" stop-color="#ff6600"/><stop offset="0.3179" stop-color="#ff3e00"/><stop offset="0.347" stop-color="#ff1e00"/><stop offset="0.3616" stop-color="#ff0b00"/><stop offset="0.3713" stop-color="#ff0800"/><stop offset="0.5363" stop-color="#ff0b00"/><stop offset="0.5484" stop-color="#ff1600"/><stop offset="0.5581" stop-color="#ff2800"/><stop offset="0.5994" stop-color="#ff2700"/><stop offset="0.6625" stop-color="#ff0800"/><stop offset="0.7256" stop-color="#ff0900"/><stop offset="0.7498" stop-color="#ff1800"/><stop offset="0.7983" stop-color="#ff3c00"/><stop offset="0.8153" stop-color="#ff4000"/><stop offset="0.8469" stop-color="#ff3e00"/><stop offset="0.859" stop-color="#ff3000"/><stop offset="0.8833" stop-color="#ff0e00"/><stop offset="0.893" stop-color="#ff0800"/><stop offset="0.9148" stop-color="#ff0900"/><stop offset="0.9294" stop-color="#ff1700"/><stop offset="0.9609" stop-color="#ff4200"/><stop offset="0.9706" stop-color="#ff4900"/><stop offset="1" stop-color="#ff4900"/></linearGradient><linearGradient id="bg25"><stop offset="0" stop-color="#5100ff"/><stop offset="0.009706" stop-color="#1c33ff"/><stop offset="0.01213" stop-color="#0048ff"/><stop offset="0.02912" stop-color="#0091ff"/><stop offset="0.0364" stop-color="#00b0ff"/><stop offset="0.04368" stop-color="#00d5ff"/><stop offset="0.04853" stop-color="#00f4ff"/><stop offset="0.05096" stop-color="#00fafd"/><stop offset="0.05581" stop-color="#00fef9"/><stop offset="0.05824" stop-color="#00fef1"/><stop offset="0.06552" stop-color="#00fabf"/><stop offset="0.08008" stop-color="#00f869"/><stop offset="0.08736" stop-color="#00f840"/><stop offset="0.1068" stop-color="#00f805"/><stop offset="0.1092" stop-color="#00f800"/><stop offset="0.1577" stop-color="#00f600"/><stop offset="0.1602" stop-color="#19f600"/><stop offset="0.165" stop-color="#61f400"/><stop offset="0.1699" stop-color="#77f300"/><stop offset="0.1844" stop-color="#aff000"/><stop offset="0.1917" stop-color="#e1f000"/><stop offset="0.199" stop-color="#fdf400"/><stop offset="0.2111" stop-color="#ffea00"/><stop offset="0.2402" stop-color="#ffaf00"/><stop offset="0.2645" stop-color="#ff9900"/><stop offset="0.3009" stop-color="#ff5800"/><stop offset="0.3179" stop-color="#ff3d00"/><stop offset="0.3446" stop-color="#ff2100"/><stop offset="0.3616" stop-color="#ff0b00"/><stop offset="0.3737" stop-color="#ff0800"/><stop offset="0.5363" stop-color="#ff0a00"/><stop offset="0.5484" stop-color="#ff1600"/><stop offset="0.5581" stop-color="#ff2700"/><stop offset="0.5994" stop-color="#ff2600"/><stop offset="0.66" stop-color="#ff0800"/><stop offset="0.7256" stop-color="#ff0800"/><stop offset="0.7498" stop-color="#ff1800"/><stop offset="0.7983" stop-color="#ff3b00"/><stop offset="0.8153" stop-color="#ff3f00"/><stop offset="0.8469" stop-color="#ff3d00"/><stop offset="0.859" stop-color="#ff3100"/><stop offset="0.8833" stop-color="#ff0f00"/><stop offset="0.893" stop-color="#ff0800"/><stop offset="0.9173" stop-color="#ff0a00"/><stop offset="0.9318" stop-color="#ff1900"/><stop offset="0.9585" stop-color="#ff3e00"/><stop offset="0.9706" stop-color="#ff4800"/><stop offset="1" stop-color="#ff4800"/></linearGradient><linearGradient id="bg26"><stop offset="0" stop-color="#5000ff"/><stop offset="0.00728" stop-color="#2927ff"/><stop offset="0.009706" stop-color="#1836ff"/><stop offset="0.01213" stop-color="#0049ff"/><stop offset="0.02669" stop-color="#008aff"/><stop offset="0.03397" stop-color="#00a7ff"/><stop offset="0.04368" stop-color="#00dbff"/><stop offset="0.04611" stop-color="#00ebff"/><stop offset="0.04853" stop-color="#00f8ff"/><stop offset="0.05581" stop-color="#00fff8"/><stop offset="0.06552" stop-color="#00fab5"/><stop offset="0.08493" stop-color="#00f842"/><stop offset="0.1068" stop-color="#00f800"/><stop offset="0.1553" stop-color="#00f600"/><stop offset="0.1577" stop-color="#1cf500"/><stop offset="0.1626" stop-color="#64f400"/><stop offset="0.182" stop-color="#b0f000"/><stop offset="0.1893" stop-color="#e2f000"/><stop offset="0.1966" stop-color="#fef400"/><stop offset="0.2087" stop-color="#ffea00"/><stop offset="0.2378" stop-color="#ffaf00"/><stop offset="0.2645" stop-color="#ff9700"/><stop offset="0.2936" stop-color="#ff6200"/><stop offset="0.3155" stop-color="#ff3f00"/><stop offset="0.3446" stop-color="#ff1f00"/><stop offset="0.3591" stop-color="#ff0c00"/><stop offset="0.3688" stop-color="#ff0800"/><stop offset="0.5387" stop-color="#ff0b00"/><stop offset="0.5508" stop-color="#ff1800"/><stop offset="0.5581" stop-color="#ff2600"/><stop offset="0.5994" stop-color="#ff2500"/><stop offset="0.6576" stop-color="#ff0800"/><stop offset="0.7256" stop-color="#ff0800"/><stop offset="0.7498" stop-color="#ff1800"/><stop offset="0.7959" stop-color="#ff3900"/><stop offset="0.8129" stop-color="#ff3e00"/><stop offset="0.8469" stop-color="#ff3d00"/><stop offset="0.859" stop-color="#ff3100"/><stop offset="0.8833" stop-color="#ff0f00"/><stop offset="0.8954" stop-color="#ff0800"/><stop offset="0.9173" stop-color="#ff0a00"/><stop offset="0.9318" stop-color="#ff1800"/><stop offset="0.9609" stop-color="#ff3f00"/><stop offset="0.9706" stop-color="#ff4700"/><stop offset="1" stop-color="#ff4700"/></linearGradient><linearGradient id="bg27"><stop offset="0" stop-color="#5000ff"/><stop offset="0.00728" stop-color="#2828ff"/><stop offset="0.01213" stop-color="#004bff"/><stop offset="0.02669" stop-color="#008dff"/><stop offset="0.03397" stop-color="#00abff"/><stop offset="0.04368" stop-color="#00e2ff"/><stop offset="0.04611" stop-color="#00f2ff"/><stop offset="0.04853" stop-color="#00fafd"/><stop offset="0.05339" stop-color="#00fef9"/><stop offset="0.05581" stop-color="#00fef0"/><stop offset="0.06309" stop-color="#00fabc"/><stop offset="0.08008" stop-color="#00f854"/><stop offset="0.0825" stop-color="#00f846"/><stop offset="0.08736" stop-color="#00f835"/><stop offset="0.1043" stop-color="#00f800"/><stop offset="0.1529" stop-color="#00f600"/><stop offset="0.1553" stop-color="#1ff500"/><stop offset="0.1577" stop-color="#44f500"/><stop offset="0.1602" stop-color="#65f400"/><stop offset="0.1796" stop-color="#b1f000"/><stop offset="0.1868" stop-color="#e3f000"/><stop offset="0.1941" stop-color="#fef400"/><stop offset="0.2063" stop-color="#ffea00"/><stop offset="0.2354" stop-color="#ffb000"/><stop offset="0.2621" stop-color="#ff9800"/><stop offset="0.2985" stop-color="#ff5800"/><stop offset="0.3155" stop-color="#ff3e00"/><stop offset="0.3446" stop-color="#ff1e00"/><stop offset="0.3591" stop-color="#ff0b00"/><stop offset="0.3688" stop-color="#ff0800"/><stop offset="0.5387" stop-color="#ff0b00"/><stop offset="0.5508" stop-color="#ff1700"/><stop offset="0.5581" stop-color="#ff2500"/><stop offset="0.5994" stop-color="#ff2400"/><stop offset="0.6576" stop-color="#ff0800"/><stop offset="0.7256" stop-color="#ff0800"/><stop offset="0.7498" stop-color="#ff1800"/><stop offset="0.7959" stop-color="#ff3800"/><stop offset="0.8129" stop-color="#ff3d00"/><stop offset="0.8469" stop-color="#ff3c00"/><stop offset="0.859" stop-color="#ff3100"/><stop offset="0.8857" stop-color="#ff0e00"/><stop offset="0.8978" stop-color="#ff0800"/><stop offset="0.9173" stop-color="#ff0900"/><stop offset="0.9318" stop-color="#ff1700"/><stop offset="0.9609" stop-color="#ff3e00"/><stop offset="0.9706" stop-color="#ff4600"/><stop offset="1" stop-color="#ff4600"/></linearGradient><linearGradient id="bg28"><stop offset="0" stop-color="#4f01ff"/><stop offset="0.00728" stop-color="#262aff"/><stop offset="0.009706" stop-color="#113bff"/><stop offset="0.01213" stop-color="#004dff"/><stop offset="0.02669" stop-color="#0090ff"/><stop offset="0.03397" stop-color="#00b0ff"/><stop offset="0.04125" stop-color="#00d8ff"/><stop offset="0.04611" stop-color="#00f8ff"/><stop offset="0.05339" stop-color="#00fff8"/><stop offset="0.06066" stop-color="#00fbc2"/><stop offset="0.07522" stop-color="#00f867"/><stop offset="0.08008" stop-color="#00f849"/><stop offset="0.0825" stop-color="#00f83d"/><stop offset="0.1019" stop-color="#00f800"/><stop offset="0.1504" stop-color="#00f600"/><stop offset="0.1553" stop-color="#47f500"/><stop offset="0.1577" stop-color="#66f400"/><stop offset="0.1771" stop-color="#b2f000"/><stop offset="0.1844" stop-color="#e3f000"/><stop offset="0.1917" stop-color="#fef400"/><stop offset="0.2038" stop-color="#ffea00"/><stop offset="0.233" stop-color="#ffb000"/><stop offset="0.2621" stop-color="#ff9500"/><stop offset="0.3009" stop-color="#ff5300"/><stop offset="0.3155" stop-color="#ff3d00"/><stop offset="0.3421" stop-color="#ff2000"/><stop offset="0.3591" stop-color="#ff0a00"/><stop offset="0.3737" stop-color="#ff0800"/><stop offset="0.5387" stop-color="#ff0b00"/><stop offset="0.5508" stop-color="#ff1600"/><stop offset="0.5581" stop-color="#ff2400"/><stop offset="0.5994" stop-color="#ff2300"/><stop offset="0.6528" stop-color="#ff0800"/><stop offset="0.7231" stop-color="#ff0700"/><stop offset="0.745" stop-color="#ff1300"/><stop offset="0.7886" stop-color="#ff3300"/><stop offset="0.8081" stop-color="#ff3c00"/><stop offset="0.8493" stop-color="#ff3b00"/><stop offset="0.8639" stop-color="#ff2b00"/><stop offset="0.8857" stop-color="#ff0f00"/><stop offset="0.8978" stop-color="#ff0800"/><stop offset="0.9197" stop-color="#ff0a00"/><stop offset="0.9342" stop-color="#ff1900"/><stop offset="0.9609" stop-color="#ff3d00"/><stop offset="0.9731" stop-color="#ff4500"/><stop offset="1" stop-color="#ff4500"/></linearGradient><linearGradient id="bg29"><stop offset="0" stop-color="#4f01ff"/><stop offset="0.00728" stop-color="#252bff"/><stop offset="0.009706" stop-color="#0d3eff"/><stop offset="0.01213" stop-color="#004eff"/><stop offset="0.02669" stop-color="#0093ff"/><stop offset="0.03155" stop-color="#00a7ff"/><stop offset="0.04125" stop-color="#00dfff"/><stop offset="0.04368" stop-color="#00f1ff"/><stop offset="0.04611" stop-color="#00f9fe"/><stop offset="0.05096" stop-color="#00fef9"/><stop offset="0.05339" stop-color="#00feef"/><stop offset="0.06066" stop-color="#00fab9"/><stop offset="0.07765" stop-color="#00f84d"/><stop offset="0.08008" stop-color="#00f83f"/><stop offset="0.09949" stop-color="#00f801"/><stop offset="0.148" stop-color="#01f600"/><stop offset="0.1529" stop-color="#4bf500"/><stop offset="0.1553" stop-color="#67f400"/><stop offset="0.1747" stop-color="#b3f000"/><stop offset="0.182" stop-color="#e4f000"/><stop offset="0.1893" stop-color="#fef400"/><stop offset="0.2014" stop-color="#ffea00"/><stop offset="0.2305" stop-color="#ffb100"/><stop offset="0.2596" stop-color="#ff9700"/><stop offset="0.3082" stop-color="#ff4500"/><stop offset="0.3421" stop-color="#ff1f00"/><stop offset="0.3567" stop-color="#ff0c00"/><stop offset="0.3664" stop-color="#ff0800"/><stop offset="0.5411" stop-color="#ff0c00"/><stop offset="0.5533" stop-color="#ff1a00"/><stop offset="0.5581" stop-color="#ff2300"/><stop offset="0.5969" stop-color="#ff2300"/><stop offset="0.6503" stop-color="#ff0900"/><stop offset="0.7013" stop-color="#ff0600"/><stop offset="0.728" stop-color="#ff0900"/><stop offset="0.7571" stop-color="#ff1d00"/><stop offset="0.8032" stop-color="#ff3a00"/><stop offset="0.8493" stop-color="#ff3a00"/><stop offset="0.8639" stop-color="#ff2c00"/><stop offset="0.8881" stop-color="#ff0d00"/><stop offset="0.9003" stop-color="#ff0800"/><stop offset="0.9197" stop-color="#ff0a00"/><stop offset="0.9342" stop-color="#ff1800"/><stop offset="0.9609" stop-color="#ff3c00"/><stop offset="0.9731" stop-color="#ff4400"/><stop offset="1" stop-color="#ff4400"/></linearGradient><linearGradient id="bg30"><stop offset="0" stop-color="#4e02ff"/><stop offset="0.00728" stop-color="#232dff"/><stop offset="0.009706" stop-color="#0941ff"/><stop offset="0.01213" stop-color="#0050ff"/><stop offset="0.02427" stop-color="#008bff"/><stop offset="0.03155" stop-color="#00acff"/><stop offset="0.03883" stop-color="#00d5ff"/><stop offset="0.04368" stop-color="#00f8ff"/><stop offset="0.05096" stop-color="#00fff8"/><stop offset="0.05824" stop-color="#00fbc0"/><stop offset="0.07037" stop-color="#00f86f"/><stop offset="0.07765" stop-color="#00f842"/><stop offset="0.09706" stop-color="#00f801"/><stop offset="0.1432" stop-color="#00f600"/><stop offset="0.1456" stop-color="#05f600"/><stop offset="0.1504" stop-color="#4ef400"/><stop offset="0.1529" stop-color="#68f400"/><stop offset="0.1723" stop-color="#b4f000"/><stop offset="0.1796" stop-color="#e5f000"/><stop offset="0.1868" stop-color="#fef400"/><stop offset="0.199" stop-color="#ffea00"/><stop offset="0.2305" stop-color="#ffaf00"/><stop offset="0.2572" stop-color="#ff9800"/><stop offset="0.3106" stop-color="#ff4000"/><stop offset="0.3397" stop-color="#ff2100"/><stop offset="0.3567" stop-color="#ff0b00"/><stop offset="0.3688" stop-color="#ff0800"/><stop offset="0.5411" stop-color="#ff0c00"/><stop offset="0.5533" stop-color="#ff1900"/><stop offset="0.5581" stop-color="#ff2200"/><stop offset="0.5969" stop-color="#ff2200"/><stop offset="0.6455" stop-color="#ff0a00"/><stop offset="0.6722" stop-color="#ff0600"/><stop offset="0.7256" stop-color="#ff0800"/><stop offset="0.7498" stop-color="#ff1700"/><stop offset="0.7935" stop-color="#ff3500"/><stop offset="0.8105" stop-color="#ff3b00"/><stop offset="0.8493" stop-color="#ff3900"/><stop offset="0.8639" stop-color="#ff2c00"/><stop offset="0.8881" stop-color="#ff0e00"/><stop offset="0.9003" stop-color="#ff0800"/><stop offset="0.9197" stop-color="#ff0900"/><stop offset="0.9342" stop-color="#ff1700"/><stop offset="0.9609" stop-color="#ff3b00"/><stop offset="0.9731" stop-color="#ff4300"/><stop offset="1" stop-color="#ff4300"/></linearGradient><linearGradient id="bg31"><stop offset="0" stop-color="#4e02ff"/><stop offset="0.00728" stop-color="#222eff"/><stop offset="0.009706" stop-color="#0445ff"/><stop offset="0.01213" stop-color="#0052ff"/><stop offset="0.02427" stop-color="#008eff"/><stop offset="0.02912" stop-color="#00a4ff"/><stop offset="0.03883" stop-color="#00dcff"/><stop offset="0.04125" stop-color="#00efff"/><stop offset="0.04368" stop-color="#00f9fe"/><stop offset="0.04853" stop-color="#00fef9"/><stop offset="0.05096" stop-color="#00feed"/><stop offset="0.05824" stop-color="#00fab5"/><stop offset="0.07522" stop-color="#00f845"/><stop offset="0.08008" stop-color="#00f833"/><stop offset="0.09464" stop-color="#00f802"/><stop offset="0.1019" stop-color="#00f800"/><stop offset="0.1407" stop-color="#00f600"/><stop offset="0.1432" stop-color="#08f600"/><stop offset="0.148" stop-color="#51f400"/><stop offset="0.1504" stop-color="#69f400"/><stop offset="0.1699" stop-color="#b5f000"/><stop offset="0.1771" stop-color="#e5f000"/><stop offset="0.1844" stop-color="#fef400"/><stop offset="0.1966" stop-color="#ffeb00"/><stop offset="0.2281" stop-color="#ffaf00"/><stop offset="0.2572" stop-color="#ff9600"/><stop offset="0.3106" stop-color="#ff3f00"/><stop offset="0.3397" stop-color="#ff2000"/><stop offset="0.3567" stop-color="#ff0a00"/><stop offset="0.3737" stop-color="#ff0800"/><stop offset="0.5411" stop-color="#ff0c00"/><stop offset="0.5508" stop-color="#ff1400"/><stop offset="0.5581" stop-color="#ff2100"/><stop offset="0.5969" stop-color="#ff2100"/><stop offset="0.6406" stop-color="#ff0b00"/><stop offset="0.6649" stop-color="#ff0600"/><stop offset="0.7256" stop-color="#ff0800"/><stop offset="0.7498" stop-color="#ff1700"/><stop offset="0.7911" stop-color="#ff3200"/><stop offset="0.8105" stop-color="#ff3a00"/><stop offset="0.8493" stop-color="#ff3900"/><stop offset="0.8639" stop-color="#ff2c00"/><stop offset="0.8906" stop-color="#ff0d00"/><stop offset="0.9027" stop-color="#ff0800"/><stop offset="0.9221" stop-color="#ff0a00"/><stop offset="0.9367" stop-color="#ff1900"/><stop offset="0.9609" stop-color="#ff3a00"/><stop offset="0.9731" stop-color="#ff4200"/><stop offset="1" stop-color="#ff4200"/></linearGradient><linearGradient id="bg32"><stop offset="0" stop-color="#4d03ff"/><stop offset="0.00728" stop-color="#2030ff"/><stop offset="0.009706" stop-color="#0048ff"/><stop offset="0.02427" stop-color="#0091ff"/><stop offset="0.02912" stop-color="#00a7ff"/><stop offset="0.0364" stop-color="#00d3ff"/><stop offset="0.04125" stop-color="#00f6ff"/><stop offset="0.04853" stop-color="#00fff8"/><stop offset="0.05581" stop-color="#00fabc"/><stop offset="0.07037" stop-color="#00f859"/><stop offset="0.0728" stop-color="#00f849"/><stop offset="0.07522" stop-color="#00f83d"/><stop offset="0.09221" stop-color="#00f803"/><stop offset="0.09706" stop-color="#00f800"/><stop offset="0.1383" stop-color="#00f600"/><stop offset="0.1407" stop-color="#0cf600"/><stop offset="0.1456" stop-color="#55f400"/><stop offset="0.148" stop-color="#6af400"/><stop offset="0.165" stop-color="#abf000"/><stop offset="0.1674" stop-color="#b6f000"/><stop offset="0.1747" stop-color="#e6f000"/><stop offset="0.182" stop-color="#fef400"/><stop offset="0.1941" stop-color="#ffeb00"/><stop offset="0.2257" stop-color="#ffb000"/><stop offset="0.2548" stop-color="#ff9800"/><stop offset="0.3106" stop-color="#ff3d00"/><stop offset="0.3397" stop-color="#ff1f00"/><stop offset="0.3543" stop-color="#ff0c00"/><stop offset="0.364" stop-color="#ff0800"/><stop offset="0.5436" stop-color="#ff0c00"/><stop offset="0.5533" stop-color="#ff1600"/><stop offset="0.5581" stop-color="#ff2000"/><stop offset="0.5969" stop-color="#ff2000"/><stop offset="0.6358" stop-color="#ff0c00"/><stop offset="0.66" stop-color="#ff0600"/><stop offset="0.7256" stop-color="#ff0700"/><stop offset="0.7522" stop-color="#ff1800"/><stop offset="0.7935" stop-color="#ff3300"/><stop offset="0.8129" stop-color="#ff3900"/><stop offset="0.8517" stop-color="#ff3700"/><stop offset="0.8687" stop-color="#ff2600"/><stop offset="0.8906" stop-color="#ff0d00"/><stop offset="0.9027" stop-color="#ff0800"/><stop offset="0.9221" stop-color="#ff0a00"/><stop offset="0.9367" stop-color="#ff1800"/><stop offset="0.9634" stop-color="#ff3b00"/><stop offset="0.9755" stop-color="#ff4100"/><stop offset="1" stop-color="#ff4100"/></linearGradient><linearGradient id="bg33"><stop offset="0" stop-color="#4c04ff"/><stop offset="0.00728" stop-color="#1c33ff"/><stop offset="0.009706" stop-color="#004aff"/><stop offset="0.02184" stop-color="#0089ff"/><stop offset="0.02912" stop-color="#00acff"/><stop offset="0.0364" stop-color="#00d9ff"/><stop offset="0.03883" stop-color="#00ecff"/><stop offset="0.04125" stop-color="#00f9fe"/><stop offset="0.04611" stop-color="#00fef9"/><stop offset="0.04853" stop-color="#00feec"/><stop offset="0.05581" stop-color="#00f9b2"/><stop offset="0.07037" stop-color="#00f84d"/><stop offset="0.0728" stop-color="#00f83e"/><stop offset="0.08978" stop-color="#00f804"/><stop offset="0.09221" stop-color="#00f800"/><stop offset="0.1359" stop-color="#00f600"/><stop offset="0.1383" stop-color="#0ff600"/><stop offset="0.1432" stop-color="#58f400"/><stop offset="0.1456" stop-color="#6bf400"/><stop offset="0.1626" stop-color="#abf000"/><stop offset="0.165" stop-color="#b7f000"/><stop offset="0.1723" stop-color="#e6f000"/><stop offset="0.1796" stop-color="#fef400"/><stop offset="0.1917" stop-color="#ffeb00"/><stop offset="0.2232" stop-color="#ffb000"/><stop offset="0.2524" stop-color="#ff9900"/><stop offset="0.3082" stop-color="#ff3f00"/><stop offset="0.3373" stop-color="#ff2100"/><stop offset="0.3543" stop-color="#ff0b00"/><stop offset="0.3664" stop-color="#ff0800"/><stop offset="0.5436" stop-color="#ff0c00"/><stop offset="0.5533" stop-color="#ff1500"/><stop offset="0.5581" stop-color="#ff1f00"/><stop offset="0.5969" stop-color="#ff1f00"/><stop offset="0.6309" stop-color="#ff0d00"/><stop offset="0.6576" stop-color="#ff0600"/><stop offset="0.7256" stop-color="#ff0700"/><stop offset="0.7522" stop-color="#ff1800"/><stop offset="0.7935" stop-color="#ff3200"/><stop offset="0.8129" stop-color="#ff3800"/><stop offset="0.8517" stop-color="#ff3700"/><stop offset="0.8663" stop-color="#ff2a00"/><stop offset="0.893" stop-color="#ff0c00"/><stop offset="0.9051" stop-color="#ff0800"/><stop offset="0.9221" stop-color="#ff0a00"/><stop offset="0.9367" stop-color="#ff1700"/><stop offset="0.9634" stop-color="#ff3a00"/><stop offset="0.9755" stop-color="#ff4000"/><stop offset="1" stop-color="#ff4000"/></linearGradient><linearGradient id="bg34"><stop offset="0" stop-color="#4a06ff"/><stop offset="0.004853" stop-color="#2c24ff"/><stop offset="0.00728" stop-color="#1935ff"/><stop offset="0.009706" stop-color="#004bff"/><stop offset="0.02427" stop-color="#0097ff"/><stop offset="0.02912" stop-color="#00b2ff"/><stop offset="0.0364" stop-color="#00e2ff"/><stop offset="0.03883" stop-color="#00f6ff"/><stop offset="0.04368" stop-color="#00fdfa"/><stop offset="0.04611" stop-color="#00fff5"/><stop offset="0.05339" stop-color="#00fab7"/><stop offset="0.06794" stop-color="#00f84f"/><stop offset="0.07037" stop-color="#00f83f"/><stop offset="0.08736" stop-color="#00f803"/><stop offset="0.09221" stop-color="#00f800"/><stop offset="0.131" stop-color="#00f600"/><stop offset="0.1335" stop-color="#0df600"/><stop offset="0.1383" stop-color="#59f400"/><stop offset="0.1407" stop-color="#6bf400"/><stop offset="0.1577" stop-color="#adf000"/><stop offset="0.165" stop-color="#dcf000"/><stop offset="0.1674" stop-color="#e9f000"/><stop offset="0.1747" stop-color="#fff300"/><stop offset="0.1868" stop-color="#ffe900"/><stop offset="0.2184" stop-color="#ffaf00"/><stop offset="0.2475" stop-color="#ff9800"/><stop offset="0.3082" stop-color="#ff3d00"/><stop offset="0.3373" stop-color="#ff2000"/><stop offset="0.3543" stop-color="#ff0a00"/><stop offset="0.3688" stop-color="#ff0800"/><stop offset="0.5387" stop-color="#ff0c00"/><stop offset="0.5508" stop-color="#ff1600"/><stop offset="0.5557" stop-color="#ff1f00"/><stop offset="0.5969" stop-color="#ff1f00"/><stop offset="0.6382" stop-color="#ff0b00"/><stop offset="0.6625" stop-color="#ff0600"/><stop offset="0.7256" stop-color="#ff0700"/><stop offset="0.7498" stop-color="#ff1600"/><stop offset="0.7862" stop-color="#ff2e00"/><stop offset="0.8081" stop-color="#ff3700"/><stop offset="0.8517" stop-color="#ff3600"/><stop offset="0.8663" stop-color="#ff2900"/><stop offset="0.8906" stop-color="#ff0e00"/><stop offset="0.9027" stop-color="#ff0900"/><stop offset="0.9221" stop-color="#ff0b00"/><stop offset="0.9367" stop-color="#ff1a00"/><stop offset="0.9609" stop-color="#ff3a00"/><stop offset="0.9731" stop-color="#ff4000"/><stop offset="1" stop-color="#ff4000"/></linearGradient><linearGradient id="bg35"><stop offset="0" stop-color="#4808ff"/><stop offset="0.004853" stop-color="#2a26ff"/><stop offset="0.009706" stop-color="#004cff"/><stop offset="0.02427" stop-color="#009bff"/><stop offset="0.02669" stop-color="#00a7ff"/><stop offset="0.03397" stop-color="#00d7ff"/><stop offset="0.0364" stop-color="#00ecff"/><stop offset="0.03883" stop-color="#00f9fe"/><stop offset="0.04368" stop-color="#00fef9"/><stop offset="0.04611" stop-color="#00fee7"/><stop offset="0.05339" stop-color="#00f9aa"/><stop offset="0.06794" stop-color="#00f841"/><stop offset="0.08493" stop-color="#00f802"/><stop offset="0.1262" stop-color="#00f600"/><stop offset="0.1286" stop-color="#0bf600"/><stop offset="0.1335" stop-color="#59f400"/><stop offset="0.1359" stop-color="#6cf400"/><stop offset="0.1529" stop-color="#aff000"/><stop offset="0.1602" stop-color="#e1f000"/><stop offset="0.165" stop-color="#f4f200"/><stop offset="0.1674" stop-color="#fcf400"/><stop offset="0.1723" stop-color="#fff100"/><stop offset="0.1796" stop-color="#ffec00"/><stop offset="0.2111" stop-color="#ffb100"/><stop offset="0.2451" stop-color="#ff9500"/><stop offset="0.3058" stop-color="#ff3e00"/><stop offset="0.3373" stop-color="#ff1f00"/><stop offset="0.3543" stop-color="#ff0a00"/><stop offset="0.3761" stop-color="#ff0800"/><stop offset="0.5363" stop-color="#ff0d00"/><stop offset="0.5484" stop-color="#ff1700"/><stop offset="0.5557" stop-color="#ff2000"/><stop offset="0.5994" stop-color="#ff1f00"/><stop offset="0.643" stop-color="#ff0a00"/><stop offset="0.6697" stop-color="#ff0600"/><stop offset="0.728" stop-color="#ff0800"/><stop offset="0.7595" stop-color="#ff1d00"/><stop offset="0.8032" stop-color="#ff3500"/><stop offset="0.8517" stop-color="#ff3600"/><stop offset="0.8663" stop-color="#ff2900"/><stop offset="0.8906" stop-color="#ff0e00"/><stop offset="0.9027" stop-color="#ff0a00"/><stop offset="0.9197" stop-color="#ff0b00"/><stop offset="0.9342" stop-color="#ff1900"/><stop offset="0.9609" stop-color="#ff3c00"/><stop offset="0.9731" stop-color="#ff4000"/><stop offset="1" stop-color="#ff3f00"/></linearGradient><linearGradient id="bg36"><stop offset="0" stop-color="#460aff"/><stop offset="0.004853" stop-color="#2927ff"/><stop offset="0.009706" stop-color="#004dff"/><stop offset="0.02669" stop-color="#00acff"/><stop offset="0.03397" stop-color="#00e1ff"/><stop offset="0.0364" stop-color="#00f6ff"/><stop offset="0.04125" stop-color="#00fdfa"/><stop offset="0.04368" stop-color="#00feef"/><stop offset="0.04853" stop-color="#00fbc3"/><stop offset="0.05824" stop-color="#00f878"/><stop offset="0.06552" stop-color="#00f843"/><stop offset="0.0825" stop-color="#00f800"/><stop offset="0.1213" stop-color="#00f600"/><stop offset="0.1238" stop-color="#09f600"/><stop offset="0.1286" stop-color="#5af400"/><stop offset="0.131" stop-color="#6cf400"/><stop offset="0.148" stop-color="#b3f000"/><stop offset="0.1553" stop-color="#e6f000"/><stop offset="0.1626" stop-color="#fff400"/><stop offset="0.1747" stop-color="#ffea00"/><stop offset="0.2063" stop-color="#ffb000"/><stop offset="0.2402" stop-color="#ff9500"/><stop offset="0.3033" stop-color="#ff3f00"/><stop offset="0.3349" stop-color="#ff2100"/><stop offset="0.3519" stop-color="#ff0c00"/><stop offset="0.3616" stop-color="#ff0800"/><stop offset="0.5314" stop-color="#ff0c00"/><stop offset="0.546" stop-color="#ff1800"/><stop offset="0.5533" stop-color="#ff2000"/><stop offset="0.5994" stop-color="#ff1f00"/><stop offset="0.6503" stop-color="#ff0800"/><stop offset="0.7256" stop-color="#ff0800"/><stop offset="0.7498" stop-color="#ff1500"/><stop offset="0.7862" stop-color="#ff2c00"/><stop offset="0.8105" stop-color="#ff3600"/><stop offset="0.8542" stop-color="#ff3400"/><stop offset="0.8711" stop-color="#ff2300"/><stop offset="0.8906" stop-color="#ff0e00"/><stop offset="0.9051" stop-color="#ff0b00"/><stop offset="0.9197" stop-color="#ff0d00"/><stop offset="0.9342" stop-color="#ff1c00"/><stop offset="0.9585" stop-color="#ff3b00"/><stop offset="0.9706" stop-color="#ff4100"/><stop offset="1" stop-color="#ff3f00"/></linearGradient><linearGradient id="bg37"><stop offset="0" stop-color="#440cff"/><stop offset="0.004853" stop-color="#2729ff"/><stop offset="0.00728" stop-color="#103cff"/><stop offset="0.009706" stop-color="#004fff"/><stop offset="0.02427" stop-color="#00a2ff"/><stop offset="0.03155" stop-color="#00d5ff"/><stop offset="0.03397" stop-color="#00ebff"/><stop offset="0.0364" stop-color="#00f9fe"/><stop offset="0.04125" stop-color="#00fff8"/><stop offset="0.04853" stop-color="#00fab6"/><stop offset="0.06309" stop-color="#00f845"/><stop offset="0.08008" stop-color="#00f800"/><stop offset="0.1165" stop-color="#00f600"/><stop offset="0.1189" stop-color="#07f600"/><stop offset="0.1238" stop-color="#5af400"/><stop offset="0.1262" stop-color="#6df400"/><stop offset="0.1407" stop-color="#aaf000"/><stop offset="0.1432" stop-color="#b7f000"/><stop offset="0.148" stop-color="#daf000"/><stop offset="0.1504" stop-color="#e8f000"/><stop offset="0.1553" stop-color="#f9f300"/><stop offset="0.1577" stop-color="#fff300"/><stop offset="0.1674" stop-color="#ffec00"/><stop offset="0.199" stop-color="#ffb200"/><stop offset="0.2354" stop-color="#ff9400"/><stop offset="0.2742" stop-color="#ff6200"/><stop offset="0.3058" stop-color="#ff3b00"/><stop offset="0.3349" stop-color="#ff2000"/><stop offset="0.3519" stop-color="#ff0b00"/><stop offset="0.364" stop-color="#ff0800"/><stop offset="0.5266" stop-color="#ff0c00"/><stop offset="0.5436" stop-color="#ff1900"/><stop offset="0.5508" stop-color="#ff2000"/><stop offset="0.6018" stop-color="#ff1e00"/><stop offset="0.6528" stop-color="#ff0800"/><stop offset="0.728" stop-color="#ff0900"/><stop offset="0.7571" stop-color="#ff1a00"/><stop offset="0.8008" stop-color="#ff3300"/><stop offset="0.8299" stop-color="#ff3600"/><stop offset="0.8542" stop-color="#ff3400"/><stop offset="0.8711" stop-color="#ff2300"/><stop offset="0.8906" stop-color="#ff0f00"/><stop offset="0.9075" stop-color="#ff0c00"/><stop offset="0.9197" stop-color="#ff0f00"/><stop offset="0.9367" stop-color="#ff2100"/><stop offset="0.9585" stop-color="#ff3d00"/><stop offset="0.9706" stop-color="#ff4100"/><stop offset="0.9973" stop-color="#ff3f00"/><stop offset="1" stop-color="#ff3e00"/></linearGradient><linearGradient id="bg38"><stop offset="0" stop-color="#420eff"/><stop offset="0.004853" stop-color="#262aff"/><stop offset="0.00728" stop-color="#0d3eff"/><stop offset="0.009706" stop-color="#0050ff"/><stop offset="0.02427" stop-color="#00a6ff"/><stop offset="0.03155" stop-color="#00dfff"/><stop offset="0.03397" stop-color="#00f6ff"/><stop offset="0.03883" stop-color="#00fef9"/><stop offset="0.04125" stop-color="#00feea"/><stop offset="0.04611" stop-color="#00fabc"/><stop offset="0.06066" stop-color="#00f847"/><stop offset="0.06309" stop-color="#00f83a"/><stop offset="0.07522" stop-color="#00f807"/><stop offset="0.07765" stop-color="#00f800"/><stop offset="0.1116" stop-color="#00f600"/><stop offset="0.114" stop-color="#05f600"/><stop offset="0.1189" stop-color="#5bf400"/><stop offset="0.1213" stop-color="#6df400"/><stop offset="0.1359" stop-color="#adf000"/><stop offset="0.1407" stop-color="#cef000"/><stop offset="0.1432" stop-color="#dff000"/><stop offset="0.1456" stop-color="#ebf100"/><stop offset="0.1504" stop-color="#fcf400"/><stop offset="0.1553" stop-color="#fff100"/><stop offset="0.1626" stop-color="#ffeb00"/><stop offset="0.1941" stop-color="#ffb000"/><stop offset="0.2305" stop-color="#ff9400"/><stop offset="0.2718" stop-color="#ff6200"/><stop offset="0.3033" stop-color="#ff3c00"/><stop offset="0.3349" stop-color="#ff1e00"/><stop offset="0.3519" stop-color="#ff0b00"/><stop offset="0.3664" stop-color="#ff0800"/><stop offset="0.5217" stop-color="#ff0c00"/><stop offset="0.5411" stop-color="#ff1900"/><stop offset="0.5508" stop-color="#ff2000"/><stop offset="0.6018" stop-color="#ff1e00"/><stop offset="0.66" stop-color="#ff0700"/><stop offset="0.728" stop-color="#ff0900"/><stop offset="0.7571" stop-color="#ff1a00"/><stop offset="0.8032" stop-color="#ff3300"/><stop offset="0.8517" stop-color="#ff3500"/><stop offset="0.8639" stop-color="#ff2c00"/><stop offset="0.8881" stop-color="#ff1000"/><stop offset="0.9003" stop-color="#ff0d00"/><stop offset="0.9173" stop-color="#ff0f00"/><stop offset="0.9342" stop-color="#ff2100"/><stop offset="0.9561" stop-color="#ff3c00"/><stop offset="0.9682" stop-color="#ff4100"/><stop offset="0.9949" stop-color="#ff3f00"/><stop offset="1" stop-color="#ff3e00"/></linearGradient><linearGradient id="bg39"><stop offset="0" stop-color="#3f11ff"/><stop offset="0.004853" stop-color="#252bff"/><stop offset="0.00728" stop-color="#0a40ff"/><stop offset="0.009706" stop-color="#0051ff"/><stop offset="0.02427" stop-color="#00acff"/><stop offset="0.02912" stop-color="#00d3ff"/><stop offset="0.03155" stop-color="#00ebff"/><stop offset="0.03397" stop-color="#00fafd"/><stop offset="0.0364" stop-color="#00fdfa"/><stop offset="0.03883" stop-color="#00fff4"/><stop offset="0.04368" stop-color="#00fbc3"/><stop offset="0.05339" stop-color="#00f871"/><stop offset="0.05824" stop-color="#00f84a"/><stop offset="0.06066" stop-color="#00f83b"/><stop offset="0.0728" stop-color="#00f806"/><stop offset="0.07522" stop-color="#00f800"/><stop offset="0.1068" stop-color="#00f600"/><stop offset="0.1092" stop-color="#03f600"/><stop offset="0.114" stop-color="#5cf400"/><stop offset="0.1165" stop-color="#6ef300"/><stop offset="0.131" stop-color="#aff000"/><stop offset="0.1383" stop-color="#e4f000"/><stop offset="0.1456" stop-color="#fff400"/><stop offset="0.1577" stop-color="#ffe900"/><stop offset="0.1868" stop-color="#ffb300"/><stop offset="0.2111" stop-color="#ffa000"/><stop offset="0.2257" stop-color="#ff9400"/><stop offset="0.2669" stop-color="#ff6400"/><stop offset="0.3033" stop-color="#ff3b00"/><stop offset="0.3324" stop-color="#ff2000"/><stop offset="0.3519" stop-color="#ff0b00"/><stop offset="0.3688" stop-color="#ff0800"/><stop offset="0.5169" stop-color="#ff0c00"/><stop offset="0.5411" stop-color="#ff1c00"/><stop offset="0.5508" stop-color="#ff2000"/><stop offset="0.6018" stop-color="#ff1f00"/><stop offset="0.6625" stop-color="#ff0800"/><stop offset="0.728" stop-color="#ff0900"/><stop offset="0.7571" stop-color="#ff1a00"/><stop offset="0.8032" stop-color="#ff3200"/><stop offset="0.8517" stop-color="#ff3400"/><stop offset="0.8639" stop-color="#ff2c00"/><stop offset="0.8881" stop-color="#ff1100"/><stop offset="0.9027" stop-color="#ff0e00"/><stop offset="0.9173" stop-color="#ff1100"/><stop offset="0.9342" stop-color="#ff2300"/><stop offset="0.9537" stop-color="#ff3c00"/><stop offset="0.9658" stop-color="#ff4100"/><stop offset="0.9925" stop-color="#ff4000"/><stop offset="1" stop-color="#ff3d00"/></linearGradient><linearGradient id="bg40"><stop offset="0" stop-color="#3d13ff"/><stop offset="0.004853" stop-color="#232dff"/><stop offset="0.00728" stop-color="#0743ff"/><stop offset="0.009706" stop-color="#0052ff"/><stop offset="0.02184" stop-color="#00a0ff"/><stop offset="0.02912" stop-color="#00ddff"/><stop offset="0.03155" stop-color="#00f7ff"/><stop offset="0.0364" stop-color="#00fef9"/><stop offset="0.03883" stop-color="#00fde3"/><stop offset="0.04368" stop-color="#00fab4"/><stop offset="0.05581" stop-color="#00f84d"/><stop offset="0.05824" stop-color="#00f83c"/><stop offset="0.07037" stop-color="#00f805"/><stop offset="0.0728" stop-color="#00f800"/><stop offset="0.1043" stop-color="#00f600"/><stop offset="0.1092" stop-color="#5cf400"/><stop offset="0.1116" stop-color="#6ef300"/><stop offset="0.1262" stop-color="#b3f000"/><stop offset="0.1335" stop-color="#e8f000"/><stop offset="0.1383" stop-color="#faf300"/><stop offset="0.1407" stop-color="#fff300"/><stop offset="0.1504" stop-color="#ffec00"/><stop offset="0.182" stop-color="#ffb100"/><stop offset="0.2208" stop-color="#ff9400"/><stop offset="0.2572" stop-color="#ff6b00"/><stop offset="0.3009" stop-color="#ff3c00"/><stop offset="0.3324" stop-color="#ff1f00"/><stop offset="0.3519" stop-color="#ff0a00"/><stop offset="0.3737" stop-color="#ff0800"/><stop offset="0.5144" stop-color="#ff0c00"/><stop offset="0.546" stop-color="#ff2000"/><stop offset="0.6042" stop-color="#ff1e00"/><stop offset="0.6649" stop-color="#ff0800"/><stop offset="0.728" stop-color="#ff0900"/><stop offset="0.7571" stop-color="#ff1a00"/><stop offset="0.8032" stop-color="#ff3200"/><stop offset="0.8517" stop-color="#ff3400"/><stop offset="0.8639" stop-color="#ff2c00"/><stop offset="0.8857" stop-color="#ff1300"/><stop offset="0.8978" stop-color="#ff0f00"/><stop offset="0.9148" stop-color="#ff1100"/><stop offset="0.9318" stop-color="#ff2200"/><stop offset="0.9537" stop-color="#ff3d00"/><stop offset="0.9658" stop-color="#ff4200"/><stop offset="0.9925" stop-color="#ff4000"/><stop offset="1" stop-color="#ff3d00"/></linearGradient><linearGradient id="bg41"><stop offset="0" stop-color="#3b15ff"/><stop offset="0.004853" stop-color="#222eff"/><stop offset="0.00728" stop-color="#0445ff"/><stop offset="0.009706" stop-color="#0054ff"/><stop offset="0.02184" stop-color="#00a5ff"/><stop offset="0.02669" stop-color="#00d1ff"/><stop offset="0.02912" stop-color="#00eaff"/><stop offset="0.03155" stop-color="#00fafd"/><stop offset="0.03397" stop-color="#00fdfa"/><stop offset="0.0364" stop-color="#00feed"/><stop offset="0.04125" stop-color="#00fabb"/><stop offset="0.05339" stop-color="#00f850"/><stop offset="0.05581" stop-color="#00f83d"/><stop offset="0.06552" stop-color="#00f80f"/><stop offset="0.06794" stop-color="#00f803"/><stop offset="0.0728" stop-color="#00f800"/><stop offset="0.09949" stop-color="#00f600"/><stop offset="0.1043" stop-color="#5df400"/><stop offset="0.1068" stop-color="#6ff300"/><stop offset="0.1189" stop-color="#a9f000"/><stop offset="0.1213" stop-color="#b7f000"/><stop offset="0.1262" stop-color="#ddf000"/><stop offset="0.1286" stop-color="#ebf100"/><stop offset="0.1335" stop-color="#fdf400"/><stop offset="0.1407" stop-color="#ffef00"/><stop offset="0.1456" stop-color="#ffea00"/><stop offset="0.1747" stop-color="#ffb400"/><stop offset="0.182" stop-color="#ffad00"/><stop offset="0.216" stop-color="#ff9400"/><stop offset="0.2524" stop-color="#ff6c00"/><stop offset="0.3009" stop-color="#ff3b00"/><stop offset="0.3324" stop-color="#ff1e00"/><stop offset="0.3519" stop-color="#ff0a00"/><stop offset="0.3834" stop-color="#ff0800"/><stop offset="0.5096" stop-color="#ff0c00"/><stop offset="0.5436" stop-color="#ff2000"/><stop offset="0.6042" stop-color="#ff1e00"/><stop offset="0.6673" stop-color="#ff0800"/><stop offset="0.7304" stop-color="#ff0a00"/><stop offset="0.7911" stop-color="#ff2c00"/><stop offset="0.8153" stop-color="#ff3300"/><stop offset="0.8566" stop-color="#ff3200"/><stop offset="0.8736" stop-color="#ff2000"/><stop offset="0.8881" stop-color="#ff1100"/><stop offset="0.9124" stop-color="#ff1100"/><stop offset="0.927" stop-color="#ff1f00"/><stop offset="0.9512" stop-color="#ff3d00"/><stop offset="0.9634" stop-color="#ff4200"/><stop offset="0.9901" stop-color="#ff4000"/><stop offset="1" stop-color="#ff3c00"/></linearGradient><linearGradient id="bg42"><stop offset="0" stop-color="#3917ff"/><stop offset="0.004853" stop-color="#2030ff"/><stop offset="0.00728" stop-color="#0147ff"/><stop offset="0.01213" stop-color="#0065ff"/><stop offset="0.02184" stop-color="#00acff"/><stop offset="0.02669" stop-color="#00daff"/><stop offset="0.02912" stop-color="#00f7ff"/><stop offset="0.03397" stop-color="#00fff8"/><stop offset="0.03883" stop-color="#00fbc2"/><stop offset="0.04853" stop-color="#00f869"/><stop offset="0.05339" stop-color="#00f83f"/><stop offset="0.06309" stop-color="#00f80e"/><stop offset="0.06552" stop-color="#00f801"/><stop offset="0.09464" stop-color="#00f600"/><stop offset="0.09706" stop-color="#2df500"/><stop offset="0.09949" stop-color="#5ef400"/><stop offset="0.1019" stop-color="#70f300"/><stop offset="0.114" stop-color="#acf000"/><stop offset="0.1189" stop-color="#d0f000"/><stop offset="0.1213" stop-color="#e3f000"/><stop offset="0.1262" stop-color="#f7f300"/><stop offset="0.1286" stop-color="#fff400"/><stop offset="0.1383" stop-color="#ffec00"/><stop offset="0.1699" stop-color="#ffb200"/><stop offset="0.2111" stop-color="#ff9400"/><stop offset="0.2475" stop-color="#ff6e00"/><stop offset="0.3009" stop-color="#ff3900"/><stop offset="0.3324" stop-color="#ff1d00"/><stop offset="0.3519" stop-color="#ff0a00"/><stop offset="0.4149" stop-color="#ff0800"/><stop offset="0.5072" stop-color="#ff0d00"/><stop offset="0.5436" stop-color="#ff2000"/><stop offset="0.6066" stop-color="#ff1e00"/><stop offset="0.6673" stop-color="#ff0800"/><stop offset="0.7304" stop-color="#ff0a00"/><stop offset="0.7911" stop-color="#ff2b00"/><stop offset="0.8153" stop-color="#ff3300"/><stop offset="0.8566" stop-color="#ff3100"/><stop offset="0.8711" stop-color="#ff2300"/><stop offset="0.8857" stop-color="#ff1300"/><stop offset="0.9051" stop-color="#ff1100"/><stop offset="0.9173" stop-color="#ff1600"/><stop offset="0.9512" stop-color="#ff3e00"/><stop offset="0.9634" stop-color="#ff4200"/><stop offset="0.9901" stop-color="#ff4000"/><stop offset="1" stop-color="#ff3c00"/></linearGradient><linearGradient id="bg43"><stop offset="0" stop-color="#3719ff"/><stop offset="0.004853" stop-color="#1e32ff"/><stop offset="0.00728" stop-color="#0049ff"/><stop offset="0.01213" stop-color="#0068ff"/><stop offset="0.01941" stop-color="#009fff"/><stop offset="0.02427" stop-color="#00cdff"/><stop offset="0.02669" stop-color="#00e9ff"/><stop offset="0.02912" stop-color="#00fafd"/><stop offset="0.03155" stop-color="#00fef9"/><stop offset="0.03397" stop-color="#00fee6"/><stop offset="0.03883" stop-color="#00f9b2"/><stop offset="0.05096" stop-color="#00f840"/><stop offset="0.05824" stop-color="#00f81b"/><stop offset="0.06309" stop-color="#00f800"/><stop offset="0.08978" stop-color="#00f600"/><stop offset="0.09221" stop-color="#2cf500"/><stop offset="0.09464" stop-color="#5ff400"/><stop offset="0.09706" stop-color="#71f300"/><stop offset="0.1092" stop-color="#aef000"/><stop offset="0.1165" stop-color="#e7f000"/><stop offset="0.1213" stop-color="#faf300"/><stop offset="0.1238" stop-color="#fff300"/><stop offset="0.1335" stop-color="#ffeb00"/><stop offset="0.1602" stop-color="#ffb900"/><stop offset="0.1674" stop-color="#ffaf00"/><stop offset="0.2038" stop-color="#ff9600"/><stop offset="0.2402" stop-color="#ff7100"/><stop offset="0.3009" stop-color="#ff3800"/><stop offset="0.33" stop-color="#ff1f00"/><stop offset="0.3494" stop-color="#ff0b00"/><stop offset="0.364" stop-color="#ff0800"/><stop offset="0.4999" stop-color="#ff0c00"/><stop offset="0.5411" stop-color="#ff2000"/><stop offset="0.6066" stop-color="#ff1e00"/><stop offset="0.6697" stop-color="#ff0800"/><stop offset="0.7304" stop-color="#ff0a00"/><stop offset="0.7935" stop-color="#ff2c00"/><stop offset="0.8153" stop-color="#ff3200"/><stop offset="0.8566" stop-color="#ff3100"/><stop offset="0.8711" stop-color="#ff2300"/><stop offset="0.8857" stop-color="#ff1300"/><stop offset="0.91" stop-color="#ff1300"/><stop offset="0.9245" stop-color="#ff2000"/><stop offset="0.9488" stop-color="#ff3e00"/><stop offset="0.9609" stop-color="#ff4200"/><stop offset="0.9876" stop-color="#ff4100"/><stop offset="1" stop-color="#ff3b00"/></linearGradient><linearGradient id="bg44"><stop offset="0" stop-color="#351bff"/><stop offset="0.002427" stop-color="#2a26ff"/><stop offset="0.004853" stop-color="#1b34ff"/><stop offset="0.00728" stop-color="#004aff"/><stop offset="0.009706" stop-color="#0059ff"/><stop offset="0.01941" stop-color="#00a5ff"/><stop offset="0.02427" stop-color="#00d8ff"/><stop offset="0.02669" stop-color="#00f8ff"/><stop offset="0.02912" stop-color="#00fcfb"/><stop offset="0.03155" stop-color="#00fff2"/><stop offset="0.03397" stop-color="#00fcd4"/><stop offset="0.03883" stop-color="#00f8a1"/><stop offset="0.04853" stop-color="#00f843"/><stop offset="0.05824" stop-color="#00f80c"/><stop offset="0.06066" stop-color="#00f800"/><stop offset="0.08493" stop-color="#00f600"/><stop offset="0.08736" stop-color="#2bf500"/><stop offset="0.08978" stop-color="#60f400"/><stop offset="0.09221" stop-color="#72f300"/><stop offset="0.1043" stop-color="#b2f000"/><stop offset="0.1092" stop-color="#dbf000"/><stop offset="0.1116" stop-color="#eaf100"/><stop offset="0.1165" stop-color="#fdf400"/><stop offset="0.1286" stop-color="#ffe900"/><stop offset="0.1553" stop-color="#ffb700"/><stop offset="0.1626" stop-color="#ffae00"/><stop offset="0.199" stop-color="#ff9600"/><stop offset="0.2354" stop-color="#ff7200"/><stop offset="0.3009" stop-color="#ff3700"/><stop offset="0.33" stop-color="#ff1e00"/><stop offset="0.3494" stop-color="#ff0b00"/><stop offset="0.3664" stop-color="#ff0800"/><stop offset="0.4975" stop-color="#ff0c00"/><stop offset="0.5387" stop-color="#ff2000"/><stop offset="0.6066" stop-color="#ff1f00"/><stop offset="0.6722" stop-color="#ff0900"/><stop offset="0.7304" stop-color="#ff0a00"/><stop offset="0.7959" stop-color="#ff2c00"/><stop offset="0.8178" stop-color="#ff3100"/><stop offset="0.859" stop-color="#ff3000"/><stop offset="0.8833" stop-color="#ff1500"/><stop offset="0.9003" stop-color="#ff1300"/><stop offset="0.9124" stop-color="#ff1600"/><stop offset="0.9318" stop-color="#ff2c00"/><stop offset="0.9488" stop-color="#ff3f00"/><stop offset="0.9609" stop-color="#ff4300"/><stop offset="0.9876" stop-color="#ff4100"/><stop offset="1" stop-color="#ff3b00"/></linearGradient><linearGradient id="bg45"><stop offset="0" stop-color="#331dff"/><stop offset="0.002427" stop-color="#2828ff"/><stop offset="0.004853" stop-color="#1836ff"/><stop offset="0.00728" stop-color="#004bff"/><stop offset="0.009706" stop-color="#005aff"/><stop offset="0.01941" stop-color="#00adff"/><stop offset="0.02427" stop-color="#00e8ff"/><stop offset="0.02669" stop-color="#00fbfc"/><stop offset="0.02912" stop-color="#00fef9"/><stop offset="0.0364" stop-color="#00f9a7"/><stop offset="0.04611" stop-color="#00f846"/><stop offset="0.05581" stop-color="#00f80a"/><stop offset="0.05824" stop-color="#00f800"/><stop offset="0.08008" stop-color="#00f600"/><stop offset="0.0825" stop-color="#2af500"/><stop offset="0.08493" stop-color="#61f400"/><stop offset="0.08978" stop-color="#81f200"/><stop offset="0.09706" stop-color="#a8f000"/><stop offset="0.09949" stop-color="#b7f000"/><stop offset="0.1043" stop-color="#e1f000"/><stop offset="0.1092" stop-color="#f7f300"/><stop offset="0.1116" stop-color="#fff400"/><stop offset="0.1213" stop-color="#ffec00"/><stop offset="0.1456" stop-color="#ffbe00"/><stop offset="0.1553" stop-color="#ffaf00"/><stop offset="0.1941" stop-color="#ff9600"/><stop offset="0.2305" stop-color="#ff7300"/><stop offset="0.3009" stop-color="#ff3600"/><stop offset="0.33" stop-color="#ff1d00"/><stop offset="0.3494" stop-color="#ff0a00"/><stop offset="0.3688" stop-color="#ff0800"/><stop offset="0.4926" stop-color="#ff0c00"/><stop offset="0.5363" stop-color="#ff2000"/><stop offset="0.6091" stop-color="#ff1e00"/><stop offset="0.6746" stop-color="#ff0900"/><stop offset="0.7328" stop-color="#ff0b00"/><stop offset="0.7911" stop-color="#ff2900"/><stop offset="0.8153" stop-color="#ff3100"/><stop offset="0.859" stop-color="#ff2f00"/><stop offset="0.8833" stop-color="#ff1500"/><stop offset="0.9075" stop-color="#ff1500"/><stop offset="0.9221" stop-color="#ff2200"/><stop offset="0.9439" stop-color="#ff3d00"/><stop offset="0.9561" stop-color="#ff4300"/><stop offset="0.9852" stop-color="#ff4100"/><stop offset="1" stop-color="#ff3a00"/></linearGradient><linearGradient id="bg46"><stop offset="0" stop-color="#3020ff"/><stop offset="0.002427" stop-color="#2729ff"/><stop offset="0.004853" stop-color="#1538ff"/><stop offset="0.00728" stop-color="#004cff"/><stop offset="0.009706" stop-color="#005dff"/><stop offset="0.01699" stop-color="#009dff"/><stop offset="0.02184" stop-color="#00d5ff"/><stop offset="0.02427" stop-color="#00f8ff"/><stop offset="0.02669" stop-color="#00fdfa"/><stop offset="0.02912" stop-color="#00feea"/><stop offset="0.03155" stop-color="#00fbca"/><stop offset="0.03883" stop-color="#00f87c"/><stop offset="0.04368" stop-color="#00f849"/><stop offset="0.04611" stop-color="#00f838"/><stop offset="0.05096" stop-color="#00f819"/><stop offset="0.05339" stop-color="#00f808"/><stop offset="0.05581" stop-color="#00f800"/><stop offset="0.07522" stop-color="#00f600"/><stop offset="0.07765" stop-color="#28f500"/><stop offset="0.08008" stop-color="#63f400"/><stop offset="0.08736" stop-color="#91f200"/><stop offset="0.09221" stop-color="#abf000"/><stop offset="0.09464" stop-color="#bdf000"/><stop offset="0.09949" stop-color="#e6f000"/><stop offset="0.1043" stop-color="#faf300"/><stop offset="0.1068" stop-color="#fff300"/><stop offset="0.1165" stop-color="#ffea00"/><stop offset="0.1407" stop-color="#ffbc00"/><stop offset="0.148" stop-color="#ffb000"/><stop offset="0.1893" stop-color="#ff9600"/><stop offset="0.2257" stop-color="#ff7400"/><stop offset="0.3009" stop-color="#ff3500"/><stop offset="0.33" stop-color="#ff1c00"/><stop offset="0.3494" stop-color="#ff0a00"/><stop offset="0.3761" stop-color="#ff0800"/><stop offset="0.4877" stop-color="#ff0c00"/><stop offset="0.5339" stop-color="#ff2000"/><stop offset="0.6091" stop-color="#ff1e00"/><stop offset="0.6746" stop-color="#ff0900"/><stop offset="0.7328" stop-color="#ff0b00"/><stop offset="0.7935" stop-color="#ff2a00"/><stop offset="0.8178" stop-color="#ff3000"/><stop offset="0.859" stop-color="#ff2f00"/><stop offset="0.8833" stop-color="#ff1600"/><stop offset="0.9051" stop-color="#ff1500"/><stop offset="0.9197" stop-color="#ff2100"/><stop offset="0.9439" stop-color="#ff3e00"/><stop offset="0.9561" stop-color="#ff4300"/><stop offset="0.9852" stop-color="#ff4100"/><stop offset="1" stop-color="#ff3a00"/></linearGradient><linearGradient id="bg47"><stop offset="0" stop-color="#2e22ff"/><stop offset="0.002427" stop-color="#252bff"/><stop offset="0.00728" stop-color="#004dff"/><stop offset="0.009706" stop-color="#005fff"/><stop offset="0.01699" stop-color="#00a5ff"/><stop offset="0.02184" stop-color="#00e7ff"/><stop offset="0.02427" stop-color="#00fbfc"/><stop offset="0.02669" stop-color="#00fff8"/><stop offset="0.02912" stop-color="#00fcd5"/><stop offset="0.03397" stop-color="#00f89c"/><stop offset="0.04125" stop-color="#00f84d"/><stop offset="0.04368" stop-color="#00f839"/><stop offset="0.04853" stop-color="#00f818"/><stop offset="0.05096" stop-color="#00f805"/><stop offset="0.05339" stop-color="#00f800"/><stop offset="0.07037" stop-color="#00f600"/><stop offset="0.0728" stop-color="#27f500"/><stop offset="0.07522" stop-color="#64f400"/><stop offset="0.0825" stop-color="#93f200"/><stop offset="0.08736" stop-color="#aef000"/><stop offset="0.09221" stop-color="#d8f000"/><stop offset="0.09464" stop-color="#eaf100"/><stop offset="0.09949" stop-color="#fef400"/><stop offset="0.1092" stop-color="#ffec00"/><stop offset="0.1359" stop-color="#ffba00"/><stop offset="0.1432" stop-color="#ffaf00"/><stop offset="0.1844" stop-color="#ff9600"/><stop offset="0.2208" stop-color="#ff7500"/><stop offset="0.3033" stop-color="#ff3300"/><stop offset="0.33" stop-color="#ff1c00"/><stop offset="0.3494" stop-color="#ff0a00"/><stop offset="0.3883" stop-color="#ff0800"/><stop offset="0.4853" stop-color="#ff0c00"/><stop offset="0.5339" stop-color="#ff2000"/><stop offset="0.6115" stop-color="#ff1e00"/><stop offset="0.677" stop-color="#ff0900"/><stop offset="0.7328" stop-color="#ff0b00"/><stop offset="0.7959" stop-color="#ff2a00"/><stop offset="0.8202" stop-color="#ff3000"/><stop offset="0.859" stop-color="#ff2f00"/><stop offset="0.8809" stop-color="#ff1700"/><stop offset="0.9027" stop-color="#ff1600"/><stop offset="0.9173" stop-color="#ff2100"/><stop offset="0.9415" stop-color="#ff3e00"/><stop offset="0.9512" stop-color="#ff4300"/><stop offset="0.9828" stop-color="#ff4200"/><stop offset="1" stop-color="#ff3900"/></linearGradient><linearGradient id="bg48"><stop offset="0" stop-color="#2c24ff"/><stop offset="0.002427" stop-color="#242cff"/><stop offset="0.004853" stop-color="#0f3dff"/><stop offset="0.00728" stop-color="#004fff"/><stop offset="0.009706" stop-color="#0062ff"/><stop offset="0.01456" stop-color="#0094ff"/><stop offset="0.01699" stop-color="#00b0ff"/><stop offset="0.01941" stop-color="#00d2ff"/><stop offset="0.02184" stop-color="#00f9fe"/><stop offset="0.02427" stop-color="#00fdfa"/><stop offset="0.02669" stop-color="#00fde1"/><stop offset="0.02912" stop-color="#00fbc0"/><stop offset="0.0364" stop-color="#00f86d"/><stop offset="0.03883" stop-color="#00f852"/><stop offset="0.04125" stop-color="#00f83a"/><stop offset="0.04611" stop-color="#00f818"/><stop offset="0.04853" stop-color="#00f802"/><stop offset="0.05339" stop-color="#00f700"/><stop offset="0.06552" stop-color="#00f600"/><stop offset="0.06794" stop-color="#25f500"/><stop offset="0.07037" stop-color="#65f400"/><stop offset="0.07765" stop-color="#95f100"/><stop offset="0.0825" stop-color="#b2f000"/><stop offset="0.08736" stop-color="#dff000"/><stop offset="0.08978" stop-color="#edf100"/><stop offset="0.09464" stop-color="#fff400"/><stop offset="0.1043" stop-color="#ffeb00"/><stop offset="0.1262" stop-color="#ffc100"/><stop offset="0.1359" stop-color="#ffb100"/><stop offset="0.1796" stop-color="#ff9500"/><stop offset="0.216" stop-color="#ff7600"/><stop offset="0.3252" stop-color="#ff2000"/><stop offset="0.347" stop-color="#ff0b00"/><stop offset="0.3616" stop-color="#ff0800"/><stop offset="0.4805" stop-color="#ff0c00"/><stop offset="0.5314" stop-color="#ff2000"/><stop offset="0.6115" stop-color="#ff1e00"/><stop offset="0.6673" stop-color="#ff0c00"/><stop offset="0.694" stop-color="#ff0a00"/><stop offset="0.7353" stop-color="#ff0c00"/><stop offset="0.7911" stop-color="#ff2700"/><stop offset="0.8178" stop-color="#ff2f00"/><stop offset="0.859" stop-color="#ff2e00"/><stop offset="0.8711" stop-color="#ff2200"/><stop offset="0.8809" stop-color="#ff1800"/><stop offset="0.9027" stop-color="#ff1700"/><stop offset="0.9173" stop-color="#ff2300"/><stop offset="0.9415" stop-color="#ff3f00"/><stop offset="0.9512" stop-color="#ff4400"/><stop offset="0.9828" stop-color="#ff4200"/><stop offset="1" stop-color="#ff3900"/></linearGradient><linearGradient id="bg49"><stop offset="0" stop-color="#2a26ff"/><stop offset="0.002427" stop-color="#222eff"/><stop offset="0.004853" stop-color="#0c3fff"/><stop offset="0.00728" stop-color="#0050ff"/><stop offset="0.009706" stop-color="#0065ff"/><stop offset="0.01456" stop-color="#009cff"/><stop offset="0.01699" stop-color="#00beff"/><stop offset="0.01941" stop-color="#00e6ff"/><stop offset="0.02184" stop-color="#00fcfb"/><stop offset="0.02427" stop-color="#00feef"/><stop offset="0.02669" stop-color="#00fbcb"/><stop offset="0.03155" stop-color="#00f88f"/><stop offset="0.03883" stop-color="#00f83c"/><stop offset="0.04125" stop-color="#00f82b"/><stop offset="0.04611" stop-color="#00f800"/><stop offset="0.06066" stop-color="#00f600"/><stop offset="0.06309" stop-color="#23f500"/><stop offset="0.06552" stop-color="#65f400"/><stop offset="0.0728" stop-color="#98f100"/><stop offset="0.07765" stop-color="#b8f000"/><stop offset="0.0825" stop-color="#e6f000"/><stop offset="0.08736" stop-color="#fbf300"/><stop offset="0.08978" stop-color="#fff300"/><stop offset="0.09949" stop-color="#ffe900"/><stop offset="0.1213" stop-color="#ffbf00"/><stop offset="0.131" stop-color="#ffb000"/><stop offset="0.1747" stop-color="#ff9500"/><stop offset="0.2135" stop-color="#ff7400"/><stop offset="0.3252" stop-color="#ff1f00"/><stop offset="0.347" stop-color="#ff0b00"/><stop offset="0.364" stop-color="#ff0800"/><stop offset="0.4756" stop-color="#ff0c00"/><stop offset="0.529" stop-color="#ff2000"/><stop offset="0.6139" stop-color="#ff1e00"/><stop offset="0.6649" stop-color="#ff0e00"/><stop offset="0.6843" stop-color="#ff0a00"/><stop offset="0.7353" stop-color="#ff0c00"/><stop offset="0.7935" stop-color="#ff2800"/><stop offset="0.8202" stop-color="#ff2e00"/><stop offset="0.8614" stop-color="#ff2d00"/><stop offset="0.8809" stop-color="#ff1800"/><stop offset="0.9027" stop-color="#ff1900"/><stop offset="0.9173" stop-color="#ff2600"/><stop offset="0.9391" stop-color="#ff3f00"/><stop offset="0.9488" stop-color="#ff4400"/><stop offset="0.9803" stop-color="#ff4200"/><stop offset="1" stop-color="#ff3800"/></linearGradient><linearGradient id="bg50"><stop offset="0" stop-color="#2a26ff"/><stop offset="0.002427" stop-color="#222eff"/><stop offset="0.004853" stop-color="#0b40ff"/><stop offset="0.00728" stop-color="#0051ff"/><stop offset="0.009706" stop-color="#0067ff"/><stop offset="0.01456" stop-color="#009fff"/><stop offset="0.01699" stop-color="#00c4ff"/><stop offset="0.01941" stop-color="#00eeff"/><stop offset="0.02184" stop-color="#00fdfa"/><stop offset="0.02427" stop-color="#00fee7"/><stop offset="0.02669" stop-color="#00fbc3"/><stop offset="0.03397" stop-color="#00f86b"/><stop offset="0.0364" stop-color="#00f84d"/><stop offset="0.03883" stop-color="#00f837"/><stop offset="0.04125" stop-color="#00f824"/><stop offset="0.04368" stop-color="#00f80e"/><stop offset="0.04611" stop-color="#00f800"/><stop offset="0.06066" stop-color="#00f600"/><stop offset="0.06309" stop-color="#48f500"/><stop offset="0.06552" stop-color="#6ff300"/><stop offset="0.0728" stop-color="#a0f100"/><stop offset="0.07522" stop-color="#aef000"/><stop offset="0.08008" stop-color="#dbf000"/><stop offset="0.0825" stop-color="#ebf100"/><stop offset="0.08736" stop-color="#fff400"/><stop offset="0.09706" stop-color="#ffec00"/><stop offset="0.1189" stop-color="#ffc100"/><stop offset="0.1286" stop-color="#ffb100"/><stop offset="0.1747" stop-color="#ff9400"/><stop offset="0.2111" stop-color="#ff7500"/><stop offset="0.3252" stop-color="#ff1e00"/><stop offset="0.347" stop-color="#ff0a00"/><stop offset="0.3664" stop-color="#ff0800"/><stop offset="0.4756" stop-color="#ff0c00"/><stop offset="0.529" stop-color="#ff2000"/><stop offset="0.6139" stop-color="#ff1f00"/><stop offset="0.6673" stop-color="#ff0e00"/><stop offset="0.6867" stop-color="#ff0a00"/><stop offset="0.7353" stop-color="#ff0c00"/><stop offset="0.7935" stop-color="#ff2700"/><stop offset="0.8202" stop-color="#ff2e00"/><stop offset="0.8614" stop-color="#ff2d00"/><stop offset="0.8784" stop-color="#ff1a00"/><stop offset="0.9027" stop-color="#ff1a00"/><stop offset="0.9173" stop-color="#ff2700"/><stop offset="0.9391" stop-color="#ff3f00"/><stop offset="0.9512" stop-color="#ff4300"/><stop offset="0.9803" stop-color="#ff4200"/><stop offset="1" stop-color="#ff3800"/></linearGradient><linearGradient id="bg51"><stop offset="0" stop-color="#2b25ff"/><stop offset="0.002427" stop-color="#232dff"/><stop offset="0.004853" stop-color="#0c3fff"/><stop offset="0.00728" stop-color="#0051ff"/><stop offset="0.009706" stop-color="#0066ff"/><stop offset="0.01456" stop-color="#009dff"/><stop offset="0.01699" stop-color="#00c0ff"/><stop offset="0.01941" stop-color="#00e9ff"/><stop offset="0.02184" stop-color="#00fcfb"/><stop offset="0.02427" stop-color="#00feed"/><stop offset="0.02669" stop-color="#00fbc8"/><stop offset="0.03397" stop-color="#00f870"/><stop offset="0.0364" stop-color="#00f853"/><stop offset="0.03883" stop-color="#00f83a"/><stop offset="0.04125" stop-color="#00f829"/><stop offset="0.04611" stop-color="#00f800"/><stop offset="0.06066" stop-color="#00f600"/><stop offset="0.06309" stop-color="#11f600"/><stop offset="0.06552" stop-color="#55f400"/><stop offset="0.06794" stop-color="#72f300"/><stop offset="0.07522" stop-color="#a0f100"/><stop offset="0.07765" stop-color="#adf000"/><stop offset="0.0825" stop-color="#d8f000"/><stop offset="0.08493" stop-color="#eaf100"/><stop offset="0.08978" stop-color="#fef400"/><stop offset="0.09949" stop-color="#ffec00"/><stop offset="0.1238" stop-color="#ffbd00"/><stop offset="0.1335" stop-color="#ffaf00"/><stop offset="0.1771" stop-color="#ff9300"/><stop offset="0.2135" stop-color="#ff7400"/><stop offset="0.3252" stop-color="#ff1e00"/><stop offset="0.347" stop-color="#ff0a00"/><stop offset="0.3761" stop-color="#ff0800"/><stop offset="0.478" stop-color="#ff0b00"/><stop offset="0.5314" stop-color="#ff2100"/><stop offset="0.6139" stop-color="#ff2000"/><stop offset="0.6673" stop-color="#ff0f00"/><stop offset="0.6867" stop-color="#ff0a00"/><stop offset="0.7353" stop-color="#ff0c00"/><stop offset="0.7935" stop-color="#ff2700"/><stop offset="0.8202" stop-color="#ff2e00"/><stop offset="0.8614" stop-color="#ff2d00"/><stop offset="0.8809" stop-color="#ff1900"/><stop offset="0.9027" stop-color="#ff1a00"/><stop offset="0.9173" stop-color="#ff2700"/><stop offset="0.9367" stop-color="#ff3d00"/><stop offset="0.9488" stop-color="#ff4200"/><stop offset="0.9828" stop-color="#ff4000"/><stop offset="1" stop-color="#ff3700"/></linearGradient><linearGradient id="bg52"><stop offset="0" stop-color="#2d23ff"/><stop offset="0.002427" stop-color="#242cff"/><stop offset="0.004853" stop-color="#0e3eff"/><stop offset="0.00728" stop-color="#0051ff"/><stop offset="0.009706" stop-color="#0066ff"/><stop offset="0.01456" stop-color="#009bff"/><stop offset="0.01699" stop-color="#00bdff"/><stop offset="0.01941" stop-color="#00e3ff"/><stop offset="0.02184" stop-color="#00fbfc"/><stop offset="0.02427" stop-color="#00fff3"/><stop offset="0.02669" stop-color="#00fcce"/><stop offset="0.03155" stop-color="#00f891"/><stop offset="0.03883" stop-color="#00f83d"/><stop offset="0.04368" stop-color="#00f81b"/><stop offset="0.04611" stop-color="#00f805"/><stop offset="0.04853" stop-color="#00f800"/><stop offset="0.06309" stop-color="#00f600"/><stop offset="0.06552" stop-color="#21f500"/><stop offset="0.06794" stop-color="#61f400"/><stop offset="0.07037" stop-color="#74f300"/><stop offset="0.07765" stop-color="#a0f100"/><stop offset="0.08008" stop-color="#adf000"/><stop offset="0.08736" stop-color="#e8f000"/><stop offset="0.09221" stop-color="#fcf300"/><stop offset="0.09464" stop-color="#fff300"/><stop offset="0.1043" stop-color="#ffe900"/><stop offset="0.1286" stop-color="#ffba00"/><stop offset="0.1359" stop-color="#ffaf00"/><stop offset="0.1771" stop-color="#ff9500"/><stop offset="0.2135" stop-color="#ff7500"/><stop offset="0.3227" stop-color="#ff2000"/><stop offset="0.3446" stop-color="#ff0b00"/><stop offset="0.3591" stop-color="#ff0800"/><stop offset="0.4829" stop-color="#ff0c00"/><stop offset="0.5363" stop-color="#ff2200"/><stop offset="0.6164" stop-color="#ff2100"/><stop offset="0.6697" stop-color="#ff0e00"/><stop offset="0.6892" stop-color="#ff0a00"/><stop offset="0.7353" stop-color="#ff0c00"/><stop offset="0.7935" stop-color="#ff2700"/><stop offset="0.8202" stop-color="#ff2e00"/><stop offset="0.8614" stop-color="#ff2d00"/><stop offset="0.8809" stop-color="#ff1a00"/><stop offset="0.9051" stop-color="#ff1b00"/><stop offset="0.9221" stop-color="#ff2d00"/><stop offset="0.9391" stop-color="#ff3e00"/><stop offset="0.9779" stop-color="#ff4000"/><stop offset="1" stop-color="#ff3700"/></linearGradient><linearGradient id="bg53"><stop offset="0" stop-color="#2f21ff"/><stop offset="0.002427" stop-color="#252bff"/><stop offset="0.004853" stop-color="#0f3dff"/><stop offset="0.00728" stop-color="#0050ff"/><stop offset="0.009706" stop-color="#0065ff"/><stop offset="0.01456" stop-color="#009aff"/><stop offset="0.01699" stop-color="#00b9ff"/><stop offset="0.01941" stop-color="#00deff"/><stop offset="0.02184" stop-color="#00fafd"/><stop offset="0.02427" stop-color="#00fff8"/><stop offset="0.02669" stop-color="#00fcd3"/><stop offset="0.03155" stop-color="#00f896"/><stop offset="0.03883" stop-color="#00f841"/><stop offset="0.04368" stop-color="#00f820"/><stop offset="0.04611" stop-color="#00f80c"/><stop offset="0.04853" stop-color="#00f800"/><stop offset="0.06552" stop-color="#00f600"/><stop offset="0.06794" stop-color="#2ff500"/><stop offset="0.07037" stop-color="#66f400"/><stop offset="0.07765" stop-color="#93f200"/><stop offset="0.0825" stop-color="#acf000"/><stop offset="0.08978" stop-color="#e7f000"/><stop offset="0.09464" stop-color="#faf300"/><stop offset="0.09706" stop-color="#fff300"/><stop offset="0.1068" stop-color="#ffea00"/><stop offset="0.131" stop-color="#ffba00"/><stop offset="0.1383" stop-color="#ffaf00"/><stop offset="0.1796" stop-color="#ff9400"/><stop offset="0.216" stop-color="#ff7400"/><stop offset="0.3227" stop-color="#ff1f00"/><stop offset="0.3446" stop-color="#ff0b00"/><stop offset="0.3616" stop-color="#ff0800"/><stop offset="0.4853" stop-color="#ff0c00"/><stop offset="0.5387" stop-color="#ff2300"/><stop offset="0.6188" stop-color="#ff2100"/><stop offset="0.6722" stop-color="#ff0e00"/><stop offset="0.6916" stop-color="#ff0a00"/><stop offset="0.7377" stop-color="#ff0c00"/><stop offset="0.7886" stop-color="#ff2500"/><stop offset="0.8178" stop-color="#ff2e00"/><stop offset="0.8614" stop-color="#ff2d00"/><stop offset="0.8809" stop-color="#ff1a00"/><stop offset="0.9051" stop-color="#ff1c00"/><stop offset="0.9221" stop-color="#ff2d00"/><stop offset="0.9367" stop-color="#ff3c00"/><stop offset="0.9512" stop-color="#ff3f00"/><stop offset="0.9852" stop-color="#ff3e00"/><stop offset="1" stop-color="#ff3600"/></linearGradient><linearGradient id="bg54"><stop offset="0" stop-color="#3020ff"/><stop offset="0.002427" stop-color="#262aff"/><stop offset="0.004853" stop-color="#103cff"/><stop offset="0.00728" stop-color="#0050ff"/><stop offset="0.009706" stop-color="#0065ff"/><stop offset="0.01456" stop-color="#0098ff"/><stop offset="0.01699" stop-color="#00b6ff"/><stop offset="0.02184" stop-color="#00fafd"/><stop offset="0.02427" stop-color="#00fef9"/><stop offset="0.02912" stop-color="#00fab8"/><stop offset="0.03883" stop-color="#00f847"/><stop offset="0.04853" stop-color="#00f800"/><stop offset="0.06794" stop-color="#00f600"/><stop offset="0.07037" stop-color="#3bf500"/><stop offset="0.0728" stop-color="#69f400"/><stop offset="0.08008" stop-color="#94f100"/><stop offset="0.08493" stop-color="#acf000"/><stop offset="0.09221" stop-color="#e5f000"/><stop offset="0.09706" stop-color="#f8f300"/><stop offset="0.09949" stop-color="#fff300"/><stop offset="0.1092" stop-color="#ffeb00"/><stop offset="0.1335" stop-color="#ffbb00"/><stop offset="0.1407" stop-color="#ffaf00"/><stop offset="0.182" stop-color="#ff9300"/><stop offset="0.216" stop-color="#ff7500"/><stop offset="0.3227" stop-color="#ff1f00"/><stop offset="0.3446" stop-color="#ff0a00"/><stop offset="0.3664" stop-color="#ff0800"/><stop offset="0.4902" stop-color="#ff0c00"/><stop offset="0.5411" stop-color="#ff2400"/><stop offset="0.6188" stop-color="#ff2300"/><stop offset="0.6722" stop-color="#ff0f00"/><stop offset="0.6916" stop-color="#ff0b00"/><stop offset="0.7377" stop-color="#ff0c00"/><stop offset="0.7886" stop-color="#ff2500"/><stop offset="0.8178" stop-color="#ff2d00"/><stop offset="0.8614" stop-color="#ff2d00"/><stop offset="0.8809" stop-color="#ff1b00"/><stop offset="0.9051" stop-color="#ff1c00"/><stop offset="0.9221" stop-color="#ff2d00"/><stop offset="0.9367" stop-color="#ff3c00"/><stop offset="0.9585" stop-color="#ff3e00"/><stop offset="0.9876" stop-color="#ff3c00"/><stop offset="1" stop-color="#ff3600"/></linearGradient><linearGradient id="bg55"><stop offset="0" stop-color="#321eff"/><stop offset="0.002427" stop-color="#2729ff"/><stop offset="0.004853" stop-color="#113bff"/><stop offset="0.00728" stop-color="#0050ff"/><stop offset="0.009706" stop-color="#0064ff"/><stop offset="0.01456" stop-color="#0096ff"/><stop offset="0.01699" stop-color="#00b3ff"/><stop offset="0.02184" stop-color="#00f9fe"/><stop offset="0.02427" stop-color="#00fef9"/><stop offset="0.02669" stop-color="#00fdde"/><stop offset="0.02912" stop-color="#00fabd"/><stop offset="0.0364" stop-color="#00f868"/><stop offset="0.03883" stop-color="#00f84d"/><stop offset="0.04125" stop-color="#00f838"/><stop offset="0.04611" stop-color="#00f817"/><stop offset="0.04853" stop-color="#00f805"/><stop offset="0.05096" stop-color="#00f800"/><stop offset="0.06794" stop-color="#00f600"/><stop offset="0.07037" stop-color="#0df600"/><stop offset="0.0728" stop-color="#47f500"/><stop offset="0.07522" stop-color="#6bf400"/><stop offset="0.0825" stop-color="#94f100"/><stop offset="0.08736" stop-color="#acf000"/><stop offset="0.09221" stop-color="#cff000"/><stop offset="0.09464" stop-color="#e2f000"/><stop offset="0.1019" stop-color="#fff400"/><stop offset="0.1116" stop-color="#ffec00"/><stop offset="0.1407" stop-color="#ffb200"/><stop offset="0.1844" stop-color="#ff9300"/><stop offset="0.2184" stop-color="#ff7400"/><stop offset="0.3203" stop-color="#ff2100"/><stop offset="0.3421" stop-color="#ff0b00"/><stop offset="0.3567" stop-color="#ff0800"/><stop offset="0.4926" stop-color="#ff0c00"/><stop offset="0.5314" stop-color="#ff2000"/><stop offset="0.546" stop-color="#ff2500"/><stop offset="0.6212" stop-color="#ff2300"/><stop offset="0.6867" stop-color="#ff0b00"/><stop offset="0.7377" stop-color="#ff0c00"/><stop offset="0.7862" stop-color="#ff2400"/><stop offset="0.8178" stop-color="#ff2d00"/><stop offset="0.8639" stop-color="#ff2c00"/><stop offset="0.8809" stop-color="#ff1b00"/><stop offset="0.9051" stop-color="#ff1c00"/><stop offset="0.9197" stop-color="#ff2900"/><stop offset="0.9367" stop-color="#ff3b00"/><stop offset="0.9852" stop-color="#ff3c00"/><stop offset="1" stop-color="#ff3500"/></linearGradient><linearGradient id="bg56"><stop offset="0" stop-color="#331dff"/><stop offset="0.002427" stop-color="#2828ff"/><stop offset="0.004853" stop-color="#123aff"/><stop offset="0.00728" stop-color="#0050ff"/><stop offset="0.009706" stop-color="#0064ff"/><stop offset="0.01456" stop-color="#0095ff"/><stop offset="0.01699" stop-color="#00b0ff"/><stop offset="0.01941" stop-color="#00d2ff"/><stop offset="0.02184" stop-color="#00f8ff"/><stop offset="0.02427" stop-color="#00fdfa"/><stop offset="0.02669" stop-color="#00fde4"/><stop offset="0.02912" stop-color="#00fbc2"/><stop offset="0.0364" stop-color="#00f86d"/><stop offset="0.03883" stop-color="#00f852"/><stop offset="0.04125" stop-color="#00f83b"/><stop offset="0.04611" stop-color="#00f81c"/><stop offset="0.04853" stop-color="#00f80b"/><stop offset="0.05096" stop-color="#00f800"/><stop offset="0.07037" stop-color="#00f600"/><stop offset="0.0728" stop-color="#1af500"/><stop offset="0.07522" stop-color="#51f400"/><stop offset="0.07765" stop-color="#6df400"/><stop offset="0.08736" stop-color="#a0f100"/><stop offset="0.08978" stop-color="#abf000"/><stop offset="0.09221" stop-color="#baf000"/><stop offset="0.09706" stop-color="#e0f000"/><stop offset="0.09949" stop-color="#ecf100"/><stop offset="0.1043" stop-color="#fef400"/><stop offset="0.114" stop-color="#ffed00"/><stop offset="0.1432" stop-color="#ffb300"/><stop offset="0.1674" stop-color="#ffa100"/><stop offset="0.1868" stop-color="#ff9200"/><stop offset="0.2208" stop-color="#ff7300"/><stop offset="0.3203" stop-color="#ff2100"/><stop offset="0.3421" stop-color="#ff0b00"/><stop offset="0.3567" stop-color="#ff0800"/><stop offset="0.495" stop-color="#ff0c00"/><stop offset="0.5314" stop-color="#ff1e00"/><stop offset="0.5484" stop-color="#ff2600"/><stop offset="0.6212" stop-color="#ff2500"/><stop offset="0.6867" stop-color="#ff0b00"/><stop offset="0.7377" stop-color="#ff0c00"/><stop offset="0.7862" stop-color="#ff2400"/><stop offset="0.8178" stop-color="#ff2d00"/><stop offset="0.8639" stop-color="#ff2c00"/><stop offset="0.8809" stop-color="#ff1c00"/><stop offset="0.9051" stop-color="#ff1c00"/><stop offset="0.9197" stop-color="#ff2900"/><stop offset="0.9342" stop-color="#ff3900"/><stop offset="0.9512" stop-color="#ff3c00"/><stop offset="0.9901" stop-color="#ff3a00"/><stop offset="1" stop-color="#ff3500"/></linearGradient><linearGradient id="bg57"><stop offset="0" stop-color="#351bff"/><stop offset="0.002427" stop-color="#2927ff"/><stop offset="0.004853" stop-color="#1439ff"/><stop offset="0.00728" stop-color="#004fff"/><stop offset="0.009706" stop-color="#0064ff"/><stop offset="0.01699" stop-color="#00adff"/><stop offset="0.01941" stop-color="#00ceff"/><stop offset="0.02184" stop-color="#00f4ff"/><stop offset="0.02427" stop-color="#00fdfa"/><stop offset="0.02669" stop-color="#00feea"/><stop offset="0.02912" stop-color="#00fbc7"/><stop offset="0.0364" stop-color="#00f872"/><stop offset="0.04125" stop-color="#00f83e"/><stop offset="0.04853" stop-color="#00f810"/><stop offset="0.05096" stop-color="#00f800"/><stop offset="0.0728" stop-color="#00f600"/><stop offset="0.07522" stop-color="#26f500"/><stop offset="0.07765" stop-color="#5bf400"/><stop offset="0.08008" stop-color="#6ff300"/><stop offset="0.08978" stop-color="#a0f100"/><stop offset="0.09221" stop-color="#abf000"/><stop offset="0.09464" stop-color="#b9f000"/><stop offset="0.09949" stop-color="#ddf000"/><stop offset="0.1019" stop-color="#eaf100"/><stop offset="0.1068" stop-color="#fcf400"/><stop offset="0.1116" stop-color="#fff100"/><stop offset="0.1189" stop-color="#ffea00"/><stop offset="0.1456" stop-color="#ffb300"/><stop offset="0.1602" stop-color="#ffa700"/><stop offset="0.1868" stop-color="#ff9300"/><stop offset="0.2184" stop-color="#ff7600"/><stop offset="0.3179" stop-color="#ff2300"/><stop offset="0.3421" stop-color="#ff0b00"/><stop offset="0.3591" stop-color="#ff0800"/><stop offset="0.4999" stop-color="#ff0c00"/><stop offset="0.5339" stop-color="#ff1e00"/><stop offset="0.5508" stop-color="#ff2700"/><stop offset="0.6236" stop-color="#ff2500"/><stop offset="0.6892" stop-color="#ff0b00"/><stop offset="0.7377" stop-color="#ff0c00"/><stop offset="0.7862" stop-color="#ff2400"/><stop offset="0.8178" stop-color="#ff2d00"/><stop offset="0.8639" stop-color="#ff2c00"/><stop offset="0.8809" stop-color="#ff1c00"/><stop offset="0.9051" stop-color="#ff1c00"/><stop offset="0.9197" stop-color="#ff2900"/><stop offset="0.9342" stop-color="#ff3800"/><stop offset="0.9682" stop-color="#ff3a00"/><stop offset="0.9901" stop-color="#ff3900"/><stop offset="1" stop-color="#ff3400"/></linearGradient><linearGradient id="bg58"><stop offset="0" stop-color="#3719ff"/><stop offset="0.002427" stop-color="#2a26ff"/><stop offset="0.004853" stop-color="#1538ff"/><stop offset="0.00728" stop-color="#004fff"/><stop offset="0.009706" stop-color="#0063ff"/><stop offset="0.01699" stop-color="#00abff"/><stop offset="0.01941" stop-color="#00cbff"/><stop offset="0.02184" stop-color="#00efff"/><stop offset="0.02427" stop-color="#00fcfb"/><stop offset="0.02669" stop-color="#00feef"/><stop offset="0.02912" stop-color="#00fccc"/><stop offset="0.03397" stop-color="#00f892"/><stop offset="0.04125" stop-color="#00f842"/><stop offset="0.04853" stop-color="#00f815"/><stop offset="0.05096" stop-color="#00f804"/><stop offset="0.05339" stop-color="#00f800"/><stop offset="0.07522" stop-color="#00f600"/><stop offset="0.08008" stop-color="#64f400"/><stop offset="0.08736" stop-color="#8af200"/><stop offset="0.09464" stop-color="#aaf000"/><stop offset="0.09706" stop-color="#b7f000"/><stop offset="0.1019" stop-color="#dbf000"/><stop offset="0.1043" stop-color="#e9f000"/><stop offset="0.1092" stop-color="#faf300"/><stop offset="0.1116" stop-color="#fff300"/><stop offset="0.1213" stop-color="#ffeb00"/><stop offset="0.148" stop-color="#ffb300"/><stop offset="0.1577" stop-color="#ffaa00"/><stop offset="0.1868" stop-color="#ff9500"/><stop offset="0.2184" stop-color="#ff7700"/><stop offset="0.3155" stop-color="#ff2500"/><stop offset="0.3397" stop-color="#ff0c00"/><stop offset="0.3519" stop-color="#ff0800"/><stop offset="0.5023" stop-color="#ff0c00"/><stop offset="0.5339" stop-color="#ff1c00"/><stop offset="0.5508" stop-color="#ff2700"/><stop offset="0.6236" stop-color="#ff2700"/><stop offset="0.6892" stop-color="#ff0b00"/><stop offset="0.7401" stop-color="#ff0d00"/><stop offset="0.7838" stop-color="#ff2300"/><stop offset="0.8178" stop-color="#ff2d00"/><stop offset="0.8639" stop-color="#ff2c00"/><stop offset="0.8809" stop-color="#ff1d00"/><stop offset="0.9075" stop-color="#ff1e00"/><stop offset="0.9342" stop-color="#ff3800"/><stop offset="0.9901" stop-color="#ff3800"/><stop offset="1" stop-color="#ff3400"/></linearGradient><linearGradient id="bg59"><stop offset="0" stop-color="#3818ff"/><stop offset="0.002427" stop-color="#2b25ff"/><stop offset="0.004853" stop-color="#1637ff"/><stop offset="0.00728" stop-color="#004fff"/><stop offset="0.009706" stop-color="#0063ff"/><stop offset="0.01699" stop-color="#00a8ff"/><stop offset="0.02184" stop-color="#00ebff"/><stop offset="0.02427" stop-color="#00fbfc"/><stop offset="0.02669" stop-color="#00fff5"/><stop offset="0.02912" stop-color="#00fcd2"/><stop offset="0.03397" stop-color="#00f897"/><stop offset="0.04125" stop-color="#00f847"/><stop offset="0.05096" stop-color="#00f809"/><stop offset="0.05339" stop-color="#00f800"/><stop offset="0.07522" stop-color="#00f600"/><stop offset="0.07765" stop-color="#09f600"/><stop offset="0.08008" stop-color="#3cf500"/><stop offset="0.0825" stop-color="#66f400"/><stop offset="0.09221" stop-color="#96f100"/><stop offset="0.09949" stop-color="#b6f000"/><stop offset="0.1068" stop-color="#e8f000"/><stop offset="0.114" stop-color="#fff400"/><stop offset="0.1238" stop-color="#ffec00"/><stop offset="0.1529" stop-color="#ffb000"/><stop offset="0.1893" stop-color="#ff9500"/><stop offset="0.2208" stop-color="#ff7600"/><stop offset="0.313" stop-color="#ff2700"/><stop offset="0.3397" stop-color="#ff0b00"/><stop offset="0.3543" stop-color="#ff0800"/><stop offset="0.5072" stop-color="#ff0c00"/><stop offset="0.5363" stop-color="#ff1c00"/><stop offset="0.5533" stop-color="#ff2800"/><stop offset="0.6261" stop-color="#ff2700"/><stop offset="0.6892" stop-color="#ff0b00"/><stop offset="0.7401" stop-color="#ff0d00"/><stop offset="0.7838" stop-color="#ff2300"/><stop offset="0.8178" stop-color="#ff2d00"/><stop offset="0.8639" stop-color="#ff2c00"/><stop offset="0.8809" stop-color="#ff1d00"/><stop offset="0.9075" stop-color="#ff1e00"/><stop offset="0.9342" stop-color="#ff3700"/><stop offset="0.9925" stop-color="#ff3700"/><stop offset="1" stop-color="#ff3300"/></linearGradient><linearGradient id="bg60"><stop offset="0" stop-color="#3a16ff"/><stop offset="0.002427" stop-color="#2c24ff"/><stop offset="0.004853" stop-color="#1736ff"/><stop offset="0.00728" stop-color="#004fff"/><stop offset="0.009706" stop-color="#0062ff"/><stop offset="0.01699" stop-color="#00a6ff"/><stop offset="0.02184" stop-color="#00e6ff"/><stop offset="0.02427" stop-color="#00fbfc"/><stop offset="0.02669" stop-color="#00fff8"/><stop offset="0.03155" stop-color="#00fab8"/><stop offset="0.03883" stop-color="#00f866"/><stop offset="0.04125" stop-color="#00f84c"/><stop offset="0.04368" stop-color="#00f839"/><stop offset="0.05339" stop-color="#00f800"/><stop offset="0.07765" stop-color="#00f600"/><stop offset="0.08008" stop-color="#15f600"/><stop offset="0.0825" stop-color="#46f500"/><stop offset="0.08493" stop-color="#68f400"/><stop offset="0.09464" stop-color="#96f100"/><stop offset="0.1019" stop-color="#b5f000"/><stop offset="0.1092" stop-color="#e6f000"/><stop offset="0.1165" stop-color="#fff400"/><stop offset="0.1262" stop-color="#ffec00"/><stop offset="0.1553" stop-color="#ffb000"/><stop offset="0.1917" stop-color="#ff9400"/><stop offset="0.2232" stop-color="#ff7400"/><stop offset="0.3082" stop-color="#ff2b00"/><stop offset="0.3397" stop-color="#ff0b00"/><stop offset="0.3543" stop-color="#ff0800"/><stop offset="0.5096" stop-color="#ff0c00"/><stop offset="0.5387" stop-color="#ff1b00"/><stop offset="0.5557" stop-color="#ff2900"/><stop offset="0.6261" stop-color="#ff2900"/><stop offset="0.6916" stop-color="#ff0b00"/><stop offset="0.7401" stop-color="#ff0d00"/><stop offset="0.7838" stop-color="#ff2300"/><stop offset="0.8178" stop-color="#ff2d00"/><stop offset="0.8639" stop-color="#ff2c00"/><stop offset="0.8833" stop-color="#ff1d00"/><stop offset="0.9075" stop-color="#ff1e00"/><stop offset="0.9342" stop-color="#ff3600"/><stop offset="0.9925" stop-color="#ff3600"/><stop offset="1" stop-color="#ff3300"/></linearGradient><linearGradient id="bg61"><stop offset="0" stop-color="#3c14ff"/><stop offset="0.002427" stop-color="#2d23ff"/><stop offset="0.004853" stop-color="#1935ff"/><stop offset="0.00728" stop-color="#004eff"/><stop offset="0.009706" stop-color="#0062ff"/><stop offset="0.01699" stop-color="#00a5ff"/><stop offset="0.02184" stop-color="#00e2ff"/><stop offset="0.02427" stop-color="#00fafd"/><stop offset="0.02669" stop-color="#00fef9"/><stop offset="0.03397" stop-color="#00f8a1"/><stop offset="0.04125" stop-color="#00f852"/><stop offset="0.04368" stop-color="#00f83c"/><stop offset="0.05339" stop-color="#00f803"/><stop offset="0.05581" stop-color="#00f800"/><stop offset="0.08008" stop-color="#00f600"/><stop offset="0.0825" stop-color="#20f500"/><stop offset="0.08493" stop-color="#4ef400"/><stop offset="0.08736" stop-color="#6af400"/><stop offset="0.09706" stop-color="#96f100"/><stop offset="0.1043" stop-color="#b3f000"/><stop offset="0.1116" stop-color="#e4f000"/><stop offset="0.1189" stop-color="#fef400"/><stop offset="0.1286" stop-color="#ffed00"/><stop offset="0.1577" stop-color="#ffb000"/><stop offset="0.1941" stop-color="#ff9300"/><stop offset="0.2232" stop-color="#ff7500"/><stop offset="0.3033" stop-color="#ff3000"/><stop offset="0.3397" stop-color="#ff0a00"/><stop offset="0.3591" stop-color="#ff0800"/><stop offset="0.5144" stop-color="#ff0d00"/><stop offset="0.5436" stop-color="#ff1d00"/><stop offset="0.5605" stop-color="#ff2b00"/><stop offset="0.6285" stop-color="#ff2a00"/><stop offset="0.6916" stop-color="#ff0c00"/><stop offset="0.7401" stop-color="#ff0d00"/><stop offset="0.7838" stop-color="#ff2300"/><stop offset="0.8178" stop-color="#ff2d00"/><stop offset="0.8639" stop-color="#ff2c00"/><stop offset="0.8833" stop-color="#ff1e00"/><stop offset="0.9075" stop-color="#ff1f00"/><stop offset="0.9318" stop-color="#ff3500"/><stop offset="0.9949" stop-color="#ff3400"/><stop offset="1" stop-color="#ff3200"/></linearGradient><linearGradient id="bg62"><stop offset="0" stop-color="#3d13ff"/><stop offset="0.002427" stop-color="#2e22ff"/><stop offset="0.004853" stop-color="#1a34ff"/><stop offset="0.00728" stop-color="#004eff"/><stop offset="0.01213" stop-color="#0078ff"/><stop offset="0.01699" stop-color="#00a3ff"/><stop offset="0.02427" stop-color="#00f9fe"/><stop offset="0.02669" stop-color="#00fef9"/><stop offset="0.02912" stop-color="#00fde2"/><stop offset="0.03155" stop-color="#00fbc2"/><stop offset="0.03883" stop-color="#00f870"/><stop offset="0.04368" stop-color="#00f83f"/><stop offset="0.05339" stop-color="#00f808"/><stop offset="0.05581" stop-color="#00f800"/><stop offset="0.0825" stop-color="#00f600"/><stop offset="0.08736" stop-color="#57f400"/><stop offset="0.08978" stop-color="#6cf400"/><stop offset="0.1019" stop-color="#9ff100"/><stop offset="0.1068" stop-color="#b2f000"/><stop offset="0.114" stop-color="#e1f000"/><stop offset="0.1213" stop-color="#fcf400"/><stop offset="0.1262" stop-color="#fff100"/><stop offset="0.1335" stop-color="#ffea00"/><stop offset="0.1602" stop-color="#ffb000"/><stop offset="0.1941" stop-color="#ff9500"/><stop offset="0.2232" stop-color="#ff7600"/><stop offset="0.3009" stop-color="#ff3200"/><stop offset="0.3373" stop-color="#ff0c00"/><stop offset="0.3494" stop-color="#ff0800"/><stop offset="0.5169" stop-color="#ff0c00"/><stop offset="0.5436" stop-color="#ff1a00"/><stop offset="0.563" stop-color="#ff2c00"/><stop offset="0.6309" stop-color="#ff2a00"/><stop offset="0.6916" stop-color="#ff0c00"/><stop offset="0.7425" stop-color="#ff0d00"/><stop offset="0.7814" stop-color="#ff2200"/><stop offset="0.8178" stop-color="#ff2c00"/><stop offset="0.8663" stop-color="#ff2b00"/><stop offset="0.8833" stop-color="#ff1e00"/><stop offset="0.91" stop-color="#ff2000"/><stop offset="0.9318" stop-color="#ff3400"/><stop offset="0.9949" stop-color="#ff3400"/><stop offset="1" stop-color="#ff3200"/></linearGradient><linearGradient id="bg63"><stop offset="0" stop-color="#3f11ff"/><stop offset="0.002427" stop-color="#2f21ff"/><stop offset="0.004853" stop-color="#1b33ff"/><stop offset="0.00728" stop-color="#004eff"/><stop offset="0.01456" stop-color="#008dff"/><stop offset="0.01699" stop-color="#00a2ff"/><stop offset="0.02184" stop-color="#00d9ff"/><stop offset="0.02427" stop-color="#00f9fe"/><stop offset="0.02669" stop-color="#00fdfa"/><stop offset="0.02912" stop-color="#00fee7"/><stop offset="0.03155" stop-color="#00fbc7"/><stop offset="0.03883" stop-color="#00f875"/><stop offset="0.04368" stop-color="#00f842"/><stop offset="0.05581" stop-color="#00f800"/><stop offset="0.0825" stop-color="#00f600"/><stop offset="0.08493" stop-color="#06f600"/><stop offset="0.08978" stop-color="#5ef400"/><stop offset="0.09221" stop-color="#6ef300"/><stop offset="0.1043" stop-color="#9ff100"/><stop offset="0.1092" stop-color="#b1f000"/><stop offset="0.1165" stop-color="#dff000"/><stop offset="0.1189" stop-color="#eaf100"/><stop offset="0.1238" stop-color="#faf300"/><stop offset="0.1262" stop-color="#fff300"/><stop offset="0.1359" stop-color="#ffeb00"/><stop offset="0.1626" stop-color="#ffb000"/><stop offset="0.1966" stop-color="#ff9400"/><stop offset="0.2257" stop-color="#ff7500"/><stop offset="0.2985" stop-color="#ff3500"/><stop offset="0.3373" stop-color="#ff0b00"/><stop offset="0.3519" stop-color="#ff0800"/><stop offset="0.5193" stop-color="#ff0c00"/><stop offset="0.546" stop-color="#ff1a00"/><stop offset="0.5654" stop-color="#ff2c00"/><stop offset="0.6309" stop-color="#ff2c00"/><stop offset="0.6916" stop-color="#ff0c00"/><stop offset="0.7425" stop-color="#ff0d00"/><stop offset="0.7814" stop-color="#ff2200"/><stop offset="0.8178" stop-color="#ff2c00"/><stop offset="0.8663" stop-color="#ff2b00"/><stop offset="0.8833" stop-color="#ff1f00"/><stop offset="0.91" stop-color="#ff2000"/><stop offset="0.9318" stop-color="#ff3300"/><stop offset="0.9973" stop-color="#ff3200"/><stop offset="1" stop-color="#ff3100"/></linearGradient><linearGradient id="bg64"><stop offset="0" stop-color="#4010ff"/><stop offset="0.004853" stop-color="#1d33ff"/><stop offset="0.00728" stop-color="#004dff"/><stop offset="0.01699" stop-color="#00a1ff"/><stop offset="0.02184" stop-color="#00d6ff"/><stop offset="0.02427" stop-color="#00f8ff"/><stop offset="0.02669" stop-color="#00fdfa"/><stop offset="0.02912" stop-color="#00feec"/><stop offset="0.03155" stop-color="#00fbcc"/><stop offset="0.03883" stop-color="#00f879"/><stop offset="0.04368" stop-color="#00f848"/><stop offset="0.04611" stop-color="#00f838"/><stop offset="0.05581" stop-color="#00f803"/><stop offset="0.06066" stop-color="#00f800"/><stop offset="0.08493" stop-color="#00f600"/><stop offset="0.08736" stop-color="#11f600"/><stop offset="0.08978" stop-color="#3df500"/><stop offset="0.09221" stop-color="#64f400"/><stop offset="0.1043" stop-color="#96f100"/><stop offset="0.1116" stop-color="#b0f000"/><stop offset="0.1189" stop-color="#ddf000"/><stop offset="0.1213" stop-color="#e9f000"/><stop offset="0.1286" stop-color="#fff400"/><stop offset="0.1383" stop-color="#ffec00"/><stop offset="0.165" stop-color="#ffb000"/><stop offset="0.199" stop-color="#ff9300"/><stop offset="0.2281" stop-color="#ff7400"/><stop offset="0.296" stop-color="#ff3700"/><stop offset="0.3373" stop-color="#ff0b00"/><stop offset="0.3543" stop-color="#ff0800"/><stop offset="0.5241" stop-color="#ff0d00"/><stop offset="0.5508" stop-color="#ff1c00"/><stop offset="0.5678" stop-color="#ff2d00"/><stop offset="0.6333" stop-color="#ff2d00"/><stop offset="0.694" stop-color="#ff0c00"/><stop offset="0.7425" stop-color="#ff0d00"/><stop offset="0.7814" stop-color="#ff2200"/><stop offset="0.8178" stop-color="#ff2c00"/><stop offset="0.8663" stop-color="#ff2b00"/><stop offset="0.8833" stop-color="#ff1f00"/><stop offset="0.91" stop-color="#ff2000"/><stop offset="0.9294" stop-color="#ff3100"/><stop offset="1" stop-color="#ff3100"/></linearGradient><linearGradient id="bg65"><stop offset="0" stop-color="#420eff"/><stop offset="0.004853" stop-color="#1e32ff"/><stop offset="0.00728" stop-color="#004dff"/><stop offset="0.01699" stop-color="#009fff"/><stop offset="0.02184" stop-color="#00d3ff"/><stop offset="0.02427" stop-color="#00f4ff"/><stop offset="0.02669" stop-color="#00fcfb"/><stop offset="0.02912" stop-color="#00fef2"/><stop offset="0.03155" stop-color="#00fcd1"/><stop offset="0.0364" stop-color="#00f898"/><stop offset="0.04368" stop-color="#00f84d"/><stop offset="0.04611" stop-color="#00f83a"/><stop offset="0.05581" stop-color="#00f807"/><stop offset="0.05824" stop-color="#00f800"/><stop offset="0.08736" stop-color="#00f600"/><stop offset="0.08978" stop-color="#1bf500"/><stop offset="0.09221" stop-color="#45f500"/><stop offset="0.09464" stop-color="#66f400"/><stop offset="0.1068" stop-color="#96f100"/><stop offset="0.114" stop-color="#aff000"/><stop offset="0.1238" stop-color="#e8f000"/><stop offset="0.131" stop-color="#fff400"/><stop offset="0.1407" stop-color="#ffec00"/><stop offset="0.1674" stop-color="#ffb000"/><stop offset="0.199" stop-color="#ff9500"/><stop offset="0.2257" stop-color="#ff7700"/><stop offset="0.296" stop-color="#ff3700"/><stop offset="0.3349" stop-color="#ff0c00"/><stop offset="0.347" stop-color="#ff0800"/><stop offset="0.5266" stop-color="#ff0d00"/><stop offset="0.5533" stop-color="#ff1b00"/><stop offset="0.5702" stop-color="#ff2e00"/><stop offset="0.6358" stop-color="#ff2d00"/><stop offset="0.694" stop-color="#ff0d00"/><stop offset="0.7425" stop-color="#ff0d00"/><stop offset="0.7814" stop-color="#ff2200"/><stop offset="0.8178" stop-color="#ff2c00"/><stop offset="0.8663" stop-color="#ff2b00"/><stop offset="0.8833" stop-color="#ff2000"/><stop offset="0.91" stop-color="#ff2100"/><stop offset="0.9294" stop-color="#ff3100"/><stop offset="1" stop-color="#ff3000"/></linearGradient><linearGradient id="bg66"><stop offset="0" stop-color="#440cff"/><stop offset="0.004853" stop-color="#1f31ff"/><stop offset="0.00728" stop-color="#004dff"/><stop offset="0.01699" stop-color="#009eff"/><stop offset="0.02184" stop-color="#00d1ff"/><stop offset="0.02427" stop-color="#00f1ff"/><stop offset="0.02669" stop-color="#00fcfb"/><stop offset="0.02912" stop-color="#00fff7"/><stop offset="0.03155" stop-color="#00fcd5"/><stop offset="0.0364" stop-color="#00f89d"/><stop offset="0.04368" stop-color="#00f851"/><stop offset="0.04611" stop-color="#00f83d"/><stop offset="0.05824" stop-color="#00f800"/><stop offset="0.08978" stop-color="#00f600"/><stop offset="0.09464" stop-color="#4ef400"/><stop offset="0.09706" stop-color="#69f400"/><stop offset="0.1092" stop-color="#97f100"/><stop offset="0.1165" stop-color="#aff000"/><stop offset="0.1262" stop-color="#e7f000"/><stop offset="0.1335" stop-color="#fef400"/><stop offset="0.1432" stop-color="#ffed00"/><stop offset="0.1699" stop-color="#ffb000"/><stop offset="0.2014" stop-color="#ff9400"/><stop offset="0.2281" stop-color="#ff7600"/><stop offset="0.296" stop-color="#ff3800"/><stop offset="0.3349" stop-color="#ff0c00"/><stop offset="0.347" stop-color="#ff0800"/><stop offset="0.529" stop-color="#ff0c00"/><stop offset="0.5533" stop-color="#ff1900"/><stop offset="0.5727" stop-color="#ff2f00"/><stop offset="0.6358" stop-color="#ff2f00"/><stop offset="0.694" stop-color="#ff0d00"/><stop offset="0.7425" stop-color="#ff0d00"/><stop offset="0.7814" stop-color="#ff2200"/><stop offset="0.8178" stop-color="#ff2c00"/><stop offset="0.8663" stop-color="#ff2b00"/><stop offset="0.8833" stop-color="#ff2000"/><stop offset="0.91" stop-color="#ff2100"/><stop offset="0.9294" stop-color="#ff3000"/><stop offset="1" stop-color="#ff3000"/></linearGradient><linearGradient id="bg67"><stop offset="0" stop-color="#430dff"/><stop offset="0.004853" stop-color="#1f30ff"/><stop offset="0.00728" stop-color="#004dff"/><stop offset="0.01699" stop-color="#009eff"/><stop offset="0.02184" stop-color="#00d1ff"/><stop offset="0.02427" stop-color="#00f1ff"/><stop offset="0.02669" stop-color="#00fcfb"/><stop offset="0.02912" stop-color="#00fff6"/><stop offset="0.03155" stop-color="#00fcd5"/><stop offset="0.0364" stop-color="#00f89c"/><stop offset="0.04368" stop-color="#00f851"/><stop offset="0.04611" stop-color="#00f83c"/><stop offset="0.05581" stop-color="#00f80a"/><stop offset="0.05824" stop-color="#00f800"/><stop offset="0.08978" stop-color="#01f600"/><stop offset="0.09464" stop-color="#53f400"/><stop offset="0.09706" stop-color="#6af400"/><stop offset="0.1092" stop-color="#99f100"/><stop offset="0.1165" stop-color="#b1f000"/><stop offset="0.1238" stop-color="#ddf000"/><stop offset="0.1262" stop-color="#e9f000"/><stop offset="0.1335" stop-color="#fff400"/><stop offset="0.1432" stop-color="#ffec00"/><stop offset="0.1674" stop-color="#ffb200"/><stop offset="0.2014" stop-color="#ff9300"/><stop offset="0.2281" stop-color="#ff7500"/><stop offset="0.296" stop-color="#ff3600"/><stop offset="0.3349" stop-color="#ff0c00"/><stop offset="0.3494" stop-color="#ff0800"/><stop offset="0.529" stop-color="#ff0d00"/><stop offset="0.5533" stop-color="#ff1a00"/><stop offset="0.5727" stop-color="#ff3000"/><stop offset="0.6358" stop-color="#ff3000"/><stop offset="0.694" stop-color="#ff0e00"/><stop offset="0.745" stop-color="#ff0e00"/><stop offset="0.7983" stop-color="#ff2800"/><stop offset="0.8226" stop-color="#ff2e00"/><stop offset="0.8687" stop-color="#ff2d00"/><stop offset="0.8857" stop-color="#ff2200"/><stop offset="0.9124" stop-color="#ff2200"/><stop offset="0.9318" stop-color="#ff3000"/><stop offset="1" stop-color="#ff3000"/></linearGradient><linearGradient id="bg68"><stop offset="0" stop-color="#420eff"/><stop offset="0.004853" stop-color="#2030ff"/><stop offset="0.00728" stop-color="#004cff"/><stop offset="0.01699" stop-color="#009eff"/><stop offset="0.02184" stop-color="#00d1ff"/><stop offset="0.02427" stop-color="#00f2ff"/><stop offset="0.02669" stop-color="#00fcfb"/><stop offset="0.02912" stop-color="#00fff5"/><stop offset="0.03155" stop-color="#00fcd4"/><stop offset="0.0364" stop-color="#00f89c"/><stop offset="0.04368" stop-color="#00f850"/><stop offset="0.04611" stop-color="#00f83c"/><stop offset="0.05581" stop-color="#00f80a"/><stop offset="0.05824" stop-color="#00f800"/><stop offset="0.08736" stop-color="#00f600"/><stop offset="0.08978" stop-color="#07f600"/><stop offset="0.09464" stop-color="#59f400"/><stop offset="0.09706" stop-color="#6cf400"/><stop offset="0.1092" stop-color="#9af100"/><stop offset="0.1165" stop-color="#b5f000"/><stop offset="0.1238" stop-color="#e1f000"/><stop offset="0.131" stop-color="#fbf300"/><stop offset="0.1335" stop-color="#fff300"/><stop offset="0.1432" stop-color="#ffeb00"/><stop offset="0.1674" stop-color="#ffb000"/><stop offset="0.199" stop-color="#ff9500"/><stop offset="0.2257" stop-color="#ff7600"/><stop offset="0.296" stop-color="#ff3500"/><stop offset="0.3349" stop-color="#ff0b00"/><stop offset="0.3494" stop-color="#ff0800"/><stop offset="0.5266" stop-color="#ff0c00"/><stop offset="0.5508" stop-color="#ff1900"/><stop offset="0.5727" stop-color="#ff3000"/><stop offset="0.6382" stop-color="#ff2f00"/><stop offset="0.694" stop-color="#ff0e00"/><stop offset="0.7474" stop-color="#ff0f00"/><stop offset="0.8178" stop-color="#ff2f00"/><stop offset="0.8711" stop-color="#ff2e00"/><stop offset="0.8881" stop-color="#ff2300"/><stop offset="0.9148" stop-color="#ff2400"/><stop offset="0.9318" stop-color="#ff3000"/><stop offset="1" stop-color="#ff3000"/></linearGradient><linearGradient id="bg69"><stop offset="0" stop-color="#420eff"/><stop offset="0.004853" stop-color="#2030ff"/><stop offset="0.00728" stop-color="#004cff"/><stop offset="0.01699" stop-color="#009eff"/><stop offset="0.02184" stop-color="#00d2ff"/><stop offset="0.02427" stop-color="#00f2ff"/><stop offset="0.02669" stop-color="#00fcfb"/><stop offset="0.02912" stop-color="#00fff4"/><stop offset="0.03155" stop-color="#00fcd3"/><stop offset="0.0364" stop-color="#00f89b"/><stop offset="0.04368" stop-color="#00f84f"/><stop offset="0.04611" stop-color="#00f83c"/><stop offset="0.05581" stop-color="#00f809"/><stop offset="0.05824" stop-color="#00f800"/><stop offset="0.08736" stop-color="#00f600"/><stop offset="0.08978" stop-color="#0cf600"/><stop offset="0.09464" stop-color="#5ef400"/><stop offset="0.09706" stop-color="#6df400"/><stop offset="0.1092" stop-color="#9cf100"/><stop offset="0.114" stop-color="#acf000"/><stop offset="0.1189" stop-color="#c7f000"/><stop offset="0.1238" stop-color="#e5f000"/><stop offset="0.131" stop-color="#fdf400"/><stop offset="0.1407" stop-color="#ffed00"/><stop offset="0.1674" stop-color="#ffaf00"/><stop offset="0.199" stop-color="#ff9400"/><stop offset="0.2257" stop-color="#ff7600"/><stop offset="0.2936" stop-color="#ff3700"/><stop offset="0.3349" stop-color="#ff0b00"/><stop offset="0.3494" stop-color="#ff0800"/><stop offset="0.5266" stop-color="#ff0c00"/><stop offset="0.5508" stop-color="#ff1a00"/><stop offset="0.5702" stop-color="#ff3000"/><stop offset="0.6333" stop-color="#ff3100"/><stop offset="0.6528" stop-color="#ff2700"/><stop offset="0.6964" stop-color="#ff0e00"/><stop offset="0.7498" stop-color="#ff0f00"/><stop offset="0.8226" stop-color="#ff3100"/><stop offset="0.8711" stop-color="#ff3000"/><stop offset="0.8906" stop-color="#ff2400"/><stop offset="0.9173" stop-color="#ff2500"/><stop offset="0.9342" stop-color="#ff3000"/><stop offset="1" stop-color="#ff3000"/></linearGradient><linearGradient id="bg70"><stop offset="0" stop-color="#410fff"/><stop offset="0.004853" stop-color="#2030ff"/><stop offset="0.00728" stop-color="#004cff"/><stop offset="0.01456" stop-color="#0089ff"/><stop offset="0.01699" stop-color="#009eff"/><stop offset="0.02184" stop-color="#00d2ff"/><stop offset="0.02427" stop-color="#00f2ff"/><stop offset="0.02669" stop-color="#00fcfb"/><stop offset="0.02912" stop-color="#00fff4"/><stop offset="0.03155" stop-color="#00fcd3"/><stop offset="0.0364" stop-color="#00f89a"/><stop offset="0.04368" stop-color="#00f84f"/><stop offset="0.04611" stop-color="#00f83c"/><stop offset="0.05581" stop-color="#00f809"/><stop offset="0.05824" stop-color="#00f800"/><stop offset="0.08736" stop-color="#00f600"/><stop offset="0.08978" stop-color="#11f600"/><stop offset="0.09464" stop-color="#64f400"/><stop offset="0.1043" stop-color="#8cf200"/><stop offset="0.114" stop-color="#aef000"/><stop offset="0.1238" stop-color="#e7f000"/><stop offset="0.131" stop-color="#fff400"/><stop offset="0.1407" stop-color="#ffec00"/><stop offset="0.165" stop-color="#ffb200"/><stop offset="0.199" stop-color="#ff9300"/><stop offset="0.2257" stop-color="#ff7500"/><stop offset="0.2936" stop-color="#ff3500"/><stop offset="0.3324" stop-color="#ff0d00"/><stop offset="0.3446" stop-color="#ff0800"/><stop offset="0.5266" stop-color="#ff0d00"/><stop offset="0.5508" stop-color="#ff1c00"/><stop offset="0.5702" stop-color="#ff3100"/><stop offset="0.6382" stop-color="#ff3100"/><stop offset="0.6964" stop-color="#ff0f00"/><stop offset="0.7498" stop-color="#ff0f00"/><stop offset="0.8008" stop-color="#ff2500"/><stop offset="0.825" stop-color="#ff3200"/><stop offset="0.8736" stop-color="#ff3200"/><stop offset="0.893" stop-color="#ff2600"/><stop offset="0.9173" stop-color="#ff2500"/><stop offset="0.9367" stop-color="#ff3000"/><stop offset="1" stop-color="#ff3000"/></linearGradient><linearGradient id="bg71"><stop offset="0" stop-color="#410fff"/><stop offset="0.004853" stop-color="#2030ff"/><stop offset="0.00728" stop-color="#004cff"/><stop offset="0.01213" stop-color="#0074ff"/><stop offset="0.01699" stop-color="#009eff"/><stop offset="0.02184" stop-color="#00d2ff"/><stop offset="0.02427" stop-color="#00f3ff"/><stop offset="0.02669" stop-color="#00fcfb"/><stop offset="0.02912" stop-color="#00fff3"/><stop offset="0.03155" stop-color="#00fcd2"/><stop offset="0.0364" stop-color="#00f89a"/><stop offset="0.04368" stop-color="#00f84e"/><stop offset="0.04611" stop-color="#00f83b"/><stop offset="0.05581" stop-color="#00f808"/><stop offset="0.05824" stop-color="#00f800"/><stop offset="0.08736" stop-color="#00f600"/><stop offset="0.08978" stop-color="#17f600"/><stop offset="0.09221" stop-color="#41f500"/><stop offset="0.09464" stop-color="#66f400"/><stop offset="0.1068" stop-color="#97f100"/><stop offset="0.114" stop-color="#b0f000"/><stop offset="0.1213" stop-color="#ddf000"/><stop offset="0.1238" stop-color="#e9f100"/><stop offset="0.1286" stop-color="#faf300"/><stop offset="0.131" stop-color="#fff300"/><stop offset="0.1407" stop-color="#ffeb00"/><stop offset="0.165" stop-color="#ffb000"/><stop offset="0.1966" stop-color="#ff9500"/><stop offset="0.2232" stop-color="#ff7600"/><stop offset="0.296" stop-color="#ff3200"/><stop offset="0.3324" stop-color="#ff0d00"/><stop offset="0.347" stop-color="#ff0900"/><stop offset="0.5241" stop-color="#ff0c00"/><stop offset="0.5508" stop-color="#ff1d00"/><stop offset="0.5702" stop-color="#ff3200"/><stop offset="0.6382" stop-color="#ff3100"/><stop offset="0.6964" stop-color="#ff1000"/><stop offset="0.7522" stop-color="#ff1000"/><stop offset="0.8008" stop-color="#ff2300"/><stop offset="0.8275" stop-color="#ff3400"/><stop offset="0.876" stop-color="#ff3300"/><stop offset="0.8954" stop-color="#ff2700"/><stop offset="0.9197" stop-color="#ff2700"/><stop offset="0.9367" stop-color="#ff3000"/><stop offset="1" stop-color="#ff3000"/></linearGradient><linearGradient id="bg72"><stop offset="0" stop-color="#4010ff"/><stop offset="0.004853" stop-color="#2030ff"/><stop offset="0.00728" stop-color="#004cff"/><stop offset="0.01213" stop-color="#0074ff"/><stop offset="0.01699" stop-color="#009eff"/><stop offset="0.02184" stop-color="#00d2ff"/><stop offset="0.02427" stop-color="#00f3ff"/><stop offset="0.02669" stop-color="#00fcfb"/><stop offset="0.02912" stop-color="#00fff2"/><stop offset="0.03155" stop-color="#00fcd1"/><stop offset="0.0364" stop-color="#00f899"/><stop offset="0.04368" stop-color="#00f84e"/><stop offset="0.04611" stop-color="#00f83b"/><stop offset="0.05581" stop-color="#00f808"/><stop offset="0.05824" stop-color="#00f800"/><stop offset="0.08736" stop-color="#00f600"/><stop offset="0.08978" stop-color="#1cf500"/><stop offset="0.09221" stop-color="#47f500"/><stop offset="0.09464" stop-color="#67f400"/><stop offset="0.1068" stop-color="#98f100"/><stop offset="0.114" stop-color="#b4f000"/><stop offset="0.1213" stop-color="#e1f000"/><stop offset="0.1286" stop-color="#fcf400"/><stop offset="0.1335" stop-color="#fff100"/><stop offset="0.1407" stop-color="#ffe900"/><stop offset="0.165" stop-color="#ffaf00"/><stop offset="0.1966" stop-color="#ff9300"/><stop offset="0.2232" stop-color="#ff7500"/><stop offset="0.296" stop-color="#ff3000"/><stop offset="0.3324" stop-color="#ff0d00"/><stop offset="0.347" stop-color="#ff0900"/><stop offset="0.5241" stop-color="#ff0c00"/><stop offset="0.5484" stop-color="#ff1c00"/><stop offset="0.5678" stop-color="#ff3100"/><stop offset="0.5945" stop-color="#ff3300"/><stop offset="0.6382" stop-color="#ff3200"/><stop offset="0.6964" stop-color="#ff1000"/><stop offset="0.7547" stop-color="#ff1100"/><stop offset="0.8032" stop-color="#ff2200"/><stop offset="0.8299" stop-color="#ff3500"/><stop offset="0.8784" stop-color="#ff3400"/><stop offset="0.8978" stop-color="#ff2900"/><stop offset="0.9221" stop-color="#ff2800"/><stop offset="0.9391" stop-color="#ff3000"/><stop offset="1" stop-color="#ff3000"/></linearGradient><linearGradient id="bg73"><stop offset="0" stop-color="#4010ff"/><stop offset="0.004853" stop-color="#2030ff"/><stop offset="0.00728" stop-color="#004bff"/><stop offset="0.01213" stop-color="#0073ff"/><stop offset="0.01699" stop-color="#009dff"/><stop offset="0.02184" stop-color="#00d2ff"/><stop offset="0.02427" stop-color="#00f4ff"/><stop offset="0.02669" stop-color="#00fcfb"/><stop offset="0.02912" stop-color="#00fef2"/><stop offset="0.03155" stop-color="#00fcd1"/><stop offset="0.0364" stop-color="#00f899"/><stop offset="0.04368" stop-color="#00f84d"/><stop offset="0.04611" stop-color="#00f83b"/><stop offset="0.05581" stop-color="#00f807"/><stop offset="0.05824" stop-color="#00f800"/><stop offset="0.08736" stop-color="#00f600"/><stop offset="0.08978" stop-color="#22f500"/><stop offset="0.09221" stop-color="#4cf400"/><stop offset="0.09464" stop-color="#69f400"/><stop offset="0.1068" stop-color="#9af100"/><stop offset="0.1116" stop-color="#abf000"/><stop offset="0.114" stop-color="#b7f000"/><stop offset="0.1213" stop-color="#e6f000"/><stop offset="0.1286" stop-color="#fff400"/><stop offset="0.1383" stop-color="#ffec00"/><stop offset="0.1626" stop-color="#ffb200"/><stop offset="0.1966" stop-color="#ff9200"/><stop offset="0.2232" stop-color="#ff7400"/><stop offset="0.2985" stop-color="#ff2d00"/><stop offset="0.3324" stop-color="#ff0d00"/><stop offset="0.347" stop-color="#ff0900"/><stop offset="0.5217" stop-color="#ff0c00"/><stop offset="0.5484" stop-color="#ff1e00"/><stop offset="0.5678" stop-color="#ff3200"/><stop offset="0.6382" stop-color="#ff3200"/><stop offset="0.6989" stop-color="#ff1000"/><stop offset="0.7571" stop-color="#ff1100"/><stop offset="0.8032" stop-color="#ff2000"/><stop offset="0.8323" stop-color="#ff3700"/><stop offset="0.8784" stop-color="#ff3600"/><stop offset="0.9003" stop-color="#ff2a00"/><stop offset="0.9245" stop-color="#ff2a00"/><stop offset="0.9415" stop-color="#ff3000"/><stop offset="1" stop-color="#ff3000"/></linearGradient><linearGradient id="bg74"><stop offset="0" stop-color="#3f11ff"/><stop offset="0.004853" stop-color="#2030ff"/><stop offset="0.00728" stop-color="#004bff"/><stop offset="0.01213" stop-color="#0073ff"/><stop offset="0.01699" stop-color="#009dff"/><stop offset="0.02184" stop-color="#00d3ff"/><stop offset="0.02427" stop-color="#00f4ff"/><stop offset="0.02669" stop-color="#00fcfb"/><stop offset="0.02912" stop-color="#00fef1"/><stop offset="0.03155" stop-color="#00fcd0"/><stop offset="0.0364" stop-color="#00f898"/><stop offset="0.04368" stop-color="#00f84c"/><stop offset="0.04611" stop-color="#00f83a"/><stop offset="0.05581" stop-color="#00f806"/><stop offset="0.05824" stop-color="#00f800"/><stop offset="0.08736" stop-color="#00f600"/><stop offset="0.09221" stop-color="#52f400"/><stop offset="0.09464" stop-color="#6af400"/><stop offset="0.1068" stop-color="#9cf100"/><stop offset="0.1116" stop-color="#adf000"/><stop offset="0.1213" stop-color="#e8f000"/><stop offset="0.1286" stop-color="#fff400"/><stop offset="0.1383" stop-color="#ffeb00"/><stop offset="0.1626" stop-color="#ffb000"/><stop offset="0.1941" stop-color="#ff9400"/><stop offset="0.2208" stop-color="#ff7600"/><stop offset="0.3324" stop-color="#ff0d00"/><stop offset="0.347" stop-color="#ff0900"/><stop offset="0.5217" stop-color="#ff0c00"/><stop offset="0.5484" stop-color="#ff1f00"/><stop offset="0.5678" stop-color="#ff3300"/><stop offset="0.6382" stop-color="#ff3300"/><stop offset="0.6989" stop-color="#ff1100"/><stop offset="0.7595" stop-color="#ff1200"/><stop offset="0.8081" stop-color="#ff2000"/><stop offset="0.8347" stop-color="#ff3800"/><stop offset="0.8809" stop-color="#ff3800"/><stop offset="0.9027" stop-color="#ff2b00"/><stop offset="0.927" stop-color="#ff2b00"/><stop offset="0.9439" stop-color="#ff3000"/><stop offset="1" stop-color="#ff3000"/></linearGradient><linearGradient id="bg75"><stop offset="0" stop-color="#3f11ff"/><stop offset="0.004853" stop-color="#2030ff"/><stop offset="0.00728" stop-color="#004bff"/><stop offset="0.009706" stop-color="#005dff"/><stop offset="0.01699" stop-color="#009dff"/><stop offset="0.02184" stop-color="#00d3ff"/><stop offset="0.02427" stop-color="#00f5ff"/><stop offset="0.02669" stop-color="#00fcfb"/><stop offset="0.02912" stop-color="#00fef0"/><stop offset="0.03155" stop-color="#00fccf"/><stop offset="0.0364" stop-color="#00f897"/><stop offset="0.04368" stop-color="#00f84c"/><stop offset="0.04611" stop-color="#00f83a"/><stop offset="0.05581" stop-color="#00f806"/><stop offset="0.05824" stop-color="#00f800"/><stop offset="0.08736" stop-color="#00f600"/><stop offset="0.09221" stop-color="#58f400"/><stop offset="0.09464" stop-color="#6cf400"/><stop offset="0.1068" stop-color="#9ef100"/><stop offset="0.1116" stop-color="#aff000"/><stop offset="0.1189" stop-color="#def000"/><stop offset="0.1213" stop-color="#eaf100"/><stop offset="0.1262" stop-color="#fbf300"/><stop offset="0.1286" stop-color="#fff300"/><stop offset="0.1383" stop-color="#ffe900"/><stop offset="0.1626" stop-color="#ffaf00"/><stop offset="0.1941" stop-color="#ff9300"/><stop offset="0.2208" stop-color="#ff7500"/><stop offset="0.33" stop-color="#ff0e00"/><stop offset="0.3446" stop-color="#ff0900"/><stop offset="0.5193" stop-color="#ff0c00"/><stop offset="0.546" stop-color="#ff1e00"/><stop offset="0.5654" stop-color="#ff3200"/><stop offset="0.5848" stop-color="#ff3400"/><stop offset="0.6406" stop-color="#ff3300"/><stop offset="0.6989" stop-color="#ff1100"/><stop offset="0.762" stop-color="#ff1200"/><stop offset="0.8105" stop-color="#ff1f00"/><stop offset="0.8372" stop-color="#ff3900"/><stop offset="0.8833" stop-color="#ff3900"/><stop offset="0.9051" stop-color="#ff2d00"/><stop offset="0.927" stop-color="#ff2b00"/><stop offset="0.9488" stop-color="#ff3000"/><stop offset="1" stop-color="#ff3000"/></linearGradient><linearGradient id="bg76"><stop offset="0" stop-color="#3e12ff"/><stop offset="0.004853" stop-color="#2030ff"/><stop offset="0.00728" stop-color="#004bff"/><stop offset="0.009706" stop-color="#005dff"/><stop offset="0.01699" stop-color="#009dff"/><stop offset="0.02184" stop-color="#00d3ff"/><stop offset="0.02427" stop-color="#00f5ff"/><stop offset="0.02669" stop-color="#00fcfb"/><stop offset="0.02912" stop-color="#00feef"/><stop offset="0.03155" stop-color="#00fccf"/><stop offset="0.0364" stop-color="#00f897"/><stop offset="0.04368" stop-color="#00f84b"/><stop offset="0.04611" stop-color="#00f83a"/><stop offset="0.05581" stop-color="#00f805"/><stop offset="0.05824" stop-color="#00f800"/><stop offset="0.08493" stop-color="#00f600"/><stop offset="0.08736" stop-color="#06f600"/><stop offset="0.09221" stop-color="#5ef400"/><stop offset="0.09464" stop-color="#6ef300"/><stop offset="0.1068" stop-color="#a0f100"/><stop offset="0.1116" stop-color="#b2f000"/><stop offset="0.1189" stop-color="#e2f000"/><stop offset="0.1262" stop-color="#fdf400"/><stop offset="0.1359" stop-color="#ffec00"/><stop offset="0.1602" stop-color="#ffb200"/><stop offset="0.1917" stop-color="#ff9500"/><stop offset="0.2184" stop-color="#ff7600"/><stop offset="0.33" stop-color="#ff0e00"/><stop offset="0.3446" stop-color="#ff0900"/><stop offset="0.5193" stop-color="#ff0c00"/><stop offset="0.546" stop-color="#ff2000"/><stop offset="0.5654" stop-color="#ff3300"/><stop offset="0.6115" stop-color="#ff3500"/><stop offset="0.6406" stop-color="#ff3300"/><stop offset="0.6989" stop-color="#ff1200"/><stop offset="0.7644" stop-color="#ff1200"/><stop offset="0.8129" stop-color="#ff1e00"/><stop offset="0.8275" stop-color="#ff2e00"/><stop offset="0.8396" stop-color="#ff3b00"/><stop offset="0.8857" stop-color="#ff3a00"/><stop offset="0.9075" stop-color="#ff2e00"/><stop offset="0.9294" stop-color="#ff2d00"/><stop offset="0.9537" stop-color="#ff3000"/><stop offset="1" stop-color="#ff3000"/></linearGradient><linearGradient id="bg77"><stop offset="0" stop-color="#3e12ff"/><stop offset="0.004853" stop-color="#2030ff"/><stop offset="0.00728" stop-color="#004bff"/><stop offset="0.009706" stop-color="#005dff"/><stop offset="0.01699" stop-color="#009dff"/><stop offset="0.02184" stop-color="#00d3ff"/><stop offset="0.02427" stop-color="#00f6ff"/><stop offset="0.02669" stop-color="#00fcfb"/><stop offset="0.02912" stop-color="#00feef"/><stop offset="0.03155" stop-color="#00fcce"/><stop offset="0.0364" stop-color="#00f896"/><stop offset="0.04368" stop-color="#00f84b"/><stop offset="0.04611" stop-color="#00f839"/><stop offset="0.05581" stop-color="#00f805"/><stop offset="0.05824" stop-color="#00f800"/><stop offset="0.08493" stop-color="#00f600"/><stop offset="0.08736" stop-color="#0bf600"/><stop offset="0.09221" stop-color="#64f400"/><stop offset="0.1019" stop-color="#8ff200"/><stop offset="0.1092" stop-color="#abf000"/><stop offset="0.1116" stop-color="#b6f000"/><stop offset="0.1189" stop-color="#e6f000"/><stop offset="0.1262" stop-color="#fff400"/><stop offset="0.1359" stop-color="#ffeb00"/><stop offset="0.1602" stop-color="#ffb000"/><stop offset="0.1917" stop-color="#ff9400"/><stop offset="0.2184" stop-color="#ff7500"/><stop offset="0.3276" stop-color="#ff1000"/><stop offset="0.3421" stop-color="#ff0900"/><stop offset="0.5169" stop-color="#ff0b00"/><stop offset="0.5436" stop-color="#ff1f00"/><stop offset="0.5654" stop-color="#ff3400"/><stop offset="0.6406" stop-color="#ff3400"/><stop offset="0.6989" stop-color="#ff1300"/><stop offset="0.7668" stop-color="#ff1300"/><stop offset="0.8153" stop-color="#ff1e00"/><stop offset="0.8275" stop-color="#ff2a00"/><stop offset="0.842" stop-color="#ff3c00"/><stop offset="0.8857" stop-color="#ff3d00"/><stop offset="0.9124" stop-color="#ff2f00"/><stop offset="0.9342" stop-color="#ff2e00"/><stop offset="1" stop-color="#ff3000"/></linearGradient><linearGradient id="bg78"><stop offset="0" stop-color="#3d13ff"/><stop offset="0.004853" stop-color="#2030ff"/><stop offset="0.00728" stop-color="#004aff"/><stop offset="0.009706" stop-color="#005cff"/><stop offset="0.01699" stop-color="#009dff"/><stop offset="0.02184" stop-color="#00d3ff"/><stop offset="0.02427" stop-color="#00f6ff"/><stop offset="0.02669" stop-color="#00fcfb"/><stop offset="0.02912" stop-color="#00feee"/><stop offset="0.03155" stop-color="#00fccd"/><stop offset="0.0364" stop-color="#00f895"/><stop offset="0.04368" stop-color="#00f84a"/><stop offset="0.04611" stop-color="#00f839"/><stop offset="0.05581" stop-color="#00f804"/><stop offset="0.05824" stop-color="#00f800"/><stop offset="0.08493" stop-color="#00f600"/><stop offset="0.08736" stop-color="#11f600"/><stop offset="0.08978" stop-color="#3ff500"/><stop offset="0.09221" stop-color="#66f400"/><stop offset="0.1043" stop-color="#9af100"/><stop offset="0.1092" stop-color="#acf000"/><stop offset="0.114" stop-color="#caf000"/><stop offset="0.1189" stop-color="#e9f000"/><stop offset="0.1238" stop-color="#faf300"/><stop offset="0.1262" stop-color="#fff300"/><stop offset="0.1359" stop-color="#ffe900"/><stop offset="0.1602" stop-color="#ffaf00"/><stop offset="0.1917" stop-color="#ff9300"/><stop offset="0.2184" stop-color="#ff7400"/><stop offset="0.3227" stop-color="#ff1300"/><stop offset="0.3397" stop-color="#ff0a00"/><stop offset="0.5169" stop-color="#ff0c00"/><stop offset="0.5436" stop-color="#ff2000"/><stop offset="0.563" stop-color="#ff3300"/><stop offset="0.5824" stop-color="#ff3600"/><stop offset="0.6406" stop-color="#ff3500"/><stop offset="0.7013" stop-color="#ff1300"/><stop offset="0.7741" stop-color="#ff1400"/><stop offset="0.8202" stop-color="#ff1e00"/><stop offset="0.8323" stop-color="#ff2d00"/><stop offset="0.8445" stop-color="#ff3e00"/><stop offset="0.8881" stop-color="#ff3e00"/><stop offset="0.9148" stop-color="#ff3100"/><stop offset="0.9391" stop-color="#ff2f00"/><stop offset="1" stop-color="#ff3000"/></linearGradient><linearGradient id="bg79"><stop offset="0" stop-color="#3d13ff"/><stop offset="0.004853" stop-color="#2030ff"/><stop offset="0.00728" stop-color="#004aff"/><stop offset="0.009706" stop-color="#005cff"/><stop offset="0.01699" stop-color="#009dff"/><stop offset="0.02184" stop-color="#00d4ff"/><stop offset="0.02427" stop-color="#00f7ff"/><stop offset="0.02669" stop-color="#00fcfb"/><stop offset="0.02912" stop-color="#00feed"/><stop offset="0.03155" stop-color="#00fccd"/><stop offset="0.0364" stop-color="#00f895"/><stop offset="0.04368" stop-color="#00f849"/><stop offset="0.04611" stop-color="#00f839"/><stop offset="0.05581" stop-color="#00f804"/><stop offset="0.05824" stop-color="#00f800"/><stop offset="0.08493" stop-color="#00f600"/><stop offset="0.08736" stop-color="#17f600"/><stop offset="0.08978" stop-color="#45f500"/><stop offset="0.09221" stop-color="#67f400"/><stop offset="0.1043" stop-color="#9cf100"/><stop offset="0.1092" stop-color="#aef000"/><stop offset="0.1165" stop-color="#dff000"/><stop offset="0.1189" stop-color="#ebf100"/><stop offset="0.1238" stop-color="#fcf400"/><stop offset="0.1286" stop-color="#fff100"/><stop offset="0.1335" stop-color="#ffec00"/><stop offset="0.1577" stop-color="#ffb100"/><stop offset="0.1893" stop-color="#ff9500"/><stop offset="0.216" stop-color="#ff7600"/><stop offset="0.3179" stop-color="#ff1700"/><stop offset="0.3373" stop-color="#ff0b00"/><stop offset="0.5144" stop-color="#ff0b00"/><stop offset="0.5436" stop-color="#ff2100"/><stop offset="0.563" stop-color="#ff3400"/><stop offset="0.5921" stop-color="#ff3600"/><stop offset="0.6406" stop-color="#ff3500"/><stop offset="0.7013" stop-color="#ff1300"/><stop offset="0.7765" stop-color="#ff1400"/><stop offset="0.8226" stop-color="#ff1d00"/><stop offset="0.8323" stop-color="#ff2800"/><stop offset="0.8445" stop-color="#ff3d00"/><stop offset="0.8517" stop-color="#ff4100"/><stop offset="0.8906" stop-color="#ff3f00"/><stop offset="0.9173" stop-color="#ff3200"/><stop offset="0.9561" stop-color="#ff3000"/><stop offset="1" stop-color="#ff3000"/></linearGradient><linearGradient id="bg80"><stop offset="0" stop-color="#3c14ff"/><stop offset="0.004853" stop-color="#2030ff"/><stop offset="0.00728" stop-color="#004aff"/><stop offset="0.009706" stop-color="#005cff"/><stop offset="0.01699" stop-color="#009dff"/><stop offset="0.02184" stop-color="#00d4ff"/><stop offset="0.02427" stop-color="#00f7ff"/><stop offset="0.02669" stop-color="#00fdfa"/><stop offset="0.02912" stop-color="#00feed"/><stop offset="0.03155" stop-color="#00fbcc"/><stop offset="0.03883" stop-color="#00f87a"/><stop offset="0.04368" stop-color="#00f849"/><stop offset="0.04611" stop-color="#00f838"/><stop offset="0.05581" stop-color="#00f803"/><stop offset="0.06066" stop-color="#00f800"/><stop offset="0.08493" stop-color="#00f600"/><stop offset="0.08736" stop-color="#1df500"/><stop offset="0.08978" stop-color="#4bf500"/><stop offset="0.09221" stop-color="#69f400"/><stop offset="0.1043" stop-color="#9ef100"/><stop offset="0.1092" stop-color="#b1f000"/><stop offset="0.1165" stop-color="#e3f000"/><stop offset="0.1238" stop-color="#fff400"/><stop offset="0.1335" stop-color="#ffeb00"/><stop offset="0.1577" stop-color="#ffb000"/><stop offset="0.1893" stop-color="#ff9300"/><stop offset="0.216" stop-color="#ff7500"/><stop offset="0.3106" stop-color="#ff1d00"/><stop offset="0.3349" stop-color="#ff0c00"/><stop offset="0.4149" stop-color="#ff0a00"/><stop offset="0.5144" stop-color="#ff0c00"/><stop offset="0.5436" stop-color="#ff2300"/><stop offset="0.563" stop-color="#ff3500"/><stop offset="0.6358" stop-color="#ff3700"/><stop offset="0.6552" stop-color="#ff2e00"/><stop offset="0.7013" stop-color="#ff1400"/><stop offset="0.7789" stop-color="#ff1500"/><stop offset="0.8275" stop-color="#ff1e00"/><stop offset="0.8372" stop-color="#ff2c00"/><stop offset="0.8493" stop-color="#ff4100"/><stop offset="0.859" stop-color="#ff4300"/><stop offset="0.8906" stop-color="#ff4200"/><stop offset="0.9197" stop-color="#ff3300"/><stop offset="0.9658" stop-color="#ff3000"/><stop offset="1" stop-color="#ff3000"/></linearGradient><linearGradient id="bg81"><stop offset="0" stop-color="#3b15ff"/><stop offset="0.004853" stop-color="#2030ff"/><stop offset="0.00728" stop-color="#004aff"/><stop offset="0.009706" stop-color="#005bff"/><stop offset="0.01699" stop-color="#009dff"/><stop offset="0.02184" stop-color="#00d4ff"/><stop offset="0.02427" stop-color="#00f8ff"/><stop offset="0.02669" stop-color="#00fdfa"/><stop offset="0.02912" stop-color="#00feec"/><stop offset="0.03155" stop-color="#00fbcb"/><stop offset="0.03883" stop-color="#00f879"/><stop offset="0.04368" stop-color="#00f848"/><stop offset="0.04611" stop-color="#00f838"/><stop offset="0.05581" stop-color="#00f802"/><stop offset="0.06309" stop-color="#00f700"/><stop offset="0.08493" stop-color="#00f600"/><stop offset="0.08736" stop-color="#23f500"/><stop offset="0.08978" stop-color="#51f400"/><stop offset="0.09221" stop-color="#6bf400"/><stop offset="0.1043" stop-color="#a0f100"/><stop offset="0.1092" stop-color="#b5f000"/><stop offset="0.1165" stop-color="#e7f000"/><stop offset="0.1238" stop-color="#fff300"/><stop offset="0.1335" stop-color="#ffea00"/><stop offset="0.1553" stop-color="#ffb300"/><stop offset="0.165" stop-color="#ffa800"/><stop offset="0.1868" stop-color="#ff9500"/><stop offset="0.2135" stop-color="#ff7600"/><stop offset="0.3058" stop-color="#ff2000"/><stop offset="0.3324" stop-color="#ff0d00"/><stop offset="0.3543" stop-color="#ff0a00"/><stop offset="0.512" stop-color="#ff0b00"/><stop offset="0.5411" stop-color="#ff2200"/><stop offset="0.5605" stop-color="#ff3500"/><stop offset="0.5775" stop-color="#ff3700"/><stop offset="0.6406" stop-color="#ff3600"/><stop offset="0.7013" stop-color="#ff1500"/><stop offset="0.7838" stop-color="#ff1500"/><stop offset="0.8299" stop-color="#ff1d00"/><stop offset="0.8372" stop-color="#ff2600"/><stop offset="0.8517" stop-color="#ff4200"/><stop offset="0.859" stop-color="#ff4500"/><stop offset="0.893" stop-color="#ff4400"/><stop offset="0.9221" stop-color="#ff3500"/><stop offset="0.9609" stop-color="#ff3000"/><stop offset="1" stop-color="#ff3000"/></linearGradient><linearGradient id="bg82"><stop offset="0" stop-color="#3b15ff"/><stop offset="0.004853" stop-color="#2030ff"/><stop offset="0.00728" stop-color="#004aff"/><stop offset="0.009706" stop-color="#005bff"/><stop offset="0.01699" stop-color="#009dff"/><stop offset="0.02184" stop-color="#00d4ff"/><stop offset="0.02427" stop-color="#00f8ff"/><stop offset="0.02669" stop-color="#00fdfa"/><stop offset="0.02912" stop-color="#00feeb"/><stop offset="0.03155" stop-color="#00fbcb"/><stop offset="0.03883" stop-color="#00f879"/><stop offset="0.04368" stop-color="#00f848"/><stop offset="0.04611" stop-color="#00f838"/><stop offset="0.05581" stop-color="#00f802"/><stop offset="0.08008" stop-color="#00f600"/><stop offset="0.08493" stop-color="#00f600"/><stop offset="0.08736" stop-color="#29f500"/><stop offset="0.08978" stop-color="#57f400"/><stop offset="0.09221" stop-color="#6df400"/><stop offset="0.1043" stop-color="#a2f100"/><stop offset="0.1068" stop-color="#acf000"/><stop offset="0.1092" stop-color="#b9f000"/><stop offset="0.114" stop-color="#dbf000"/><stop offset="0.1165" stop-color="#e9f100"/><stop offset="0.1213" stop-color="#fbf300"/><stop offset="0.1238" stop-color="#fff300"/><stop offset="0.131" stop-color="#ffed00"/><stop offset="0.1553" stop-color="#ffb100"/><stop offset="0.1868" stop-color="#ff9400"/><stop offset="0.2135" stop-color="#ff7500"/><stop offset="0.3009" stop-color="#ff2400"/><stop offset="0.3324" stop-color="#ff0d00"/><stop offset="0.3567" stop-color="#ff0a00"/><stop offset="0.512" stop-color="#ff0b00"/><stop offset="0.5436" stop-color="#ff2600"/><stop offset="0.5605" stop-color="#ff3500"/><stop offset="0.5824" stop-color="#ff3800"/><stop offset="0.643" stop-color="#ff3600"/><stop offset="0.7013" stop-color="#ff1500"/><stop offset="0.7862" stop-color="#ff1500"/><stop offset="0.8347" stop-color="#ff1e00"/><stop offset="0.842" stop-color="#ff2a00"/><stop offset="0.8542" stop-color="#ff4400"/><stop offset="0.859" stop-color="#ff4700"/><stop offset="0.8954" stop-color="#ff4600"/><stop offset="0.9245" stop-color="#ff3600"/><stop offset="0.9585" stop-color="#ff3000"/><stop offset="1" stop-color="#ff3000"/></linearGradient><linearGradient id="bg83"><stop offset="0" stop-color="#3b15ff"/><stop offset="0.004853" stop-color="#2030ff"/><stop offset="0.00728" stop-color="#004aff"/><stop offset="0.009706" stop-color="#005bff"/><stop offset="0.01699" stop-color="#009dff"/><stop offset="0.02184" stop-color="#00d4ff"/><stop offset="0.02427" stop-color="#00f8ff"/><stop offset="0.02669" stop-color="#00fdfa"/><stop offset="0.02912" stop-color="#00feeb"/><stop offset="0.03155" stop-color="#00fbca"/><stop offset="0.03883" stop-color="#00f879"/><stop offset="0.04368" stop-color="#00f847"/><stop offset="0.04853" stop-color="#00f82b"/><stop offset="0.05581" stop-color="#00f801"/><stop offset="0.08493" stop-color="#00f600"/><stop offset="0.08978" stop-color="#5bf400"/><stop offset="0.09221" stop-color="#6ef300"/><stop offset="0.1043" stop-color="#a3f100"/><stop offset="0.1068" stop-color="#adf000"/><stop offset="0.1116" stop-color="#cdf000"/><stop offset="0.114" stop-color="#def000"/><stop offset="0.1165" stop-color="#ebf100"/><stop offset="0.1213" stop-color="#fdf400"/><stop offset="0.1286" stop-color="#ffee00"/><stop offset="0.131" stop-color="#ffec00"/><stop offset="0.1553" stop-color="#ffb000"/><stop offset="0.1868" stop-color="#ff9300"/><stop offset="0.2135" stop-color="#ff7400"/><stop offset="0.2985" stop-color="#ff2500"/><stop offset="0.3324" stop-color="#ff0d00"/><stop offset="0.3591" stop-color="#ff0a00"/><stop offset="0.5096" stop-color="#ff0b00"/><stop offset="0.5411" stop-color="#ff2400"/><stop offset="0.5605" stop-color="#ff3600"/><stop offset="0.5872" stop-color="#ff3800"/><stop offset="0.643" stop-color="#ff3700"/><stop offset="0.7037" stop-color="#ff1500"/><stop offset="0.7959" stop-color="#ff1600"/><stop offset="0.8347" stop-color="#ff1c00"/><stop offset="0.842" stop-color="#ff2700"/><stop offset="0.8542" stop-color="#ff4300"/><stop offset="0.859" stop-color="#ff4800"/><stop offset="0.8954" stop-color="#ff4700"/><stop offset="0.9245" stop-color="#ff3700"/><stop offset="0.9561" stop-color="#ff3000"/><stop offset="1" stop-color="#ff3000"/></linearGradient><linearGradient id="bg84"><stop offset="0" stop-color="#3b15ff"/><stop offset="0.004853" stop-color="#2030ff"/><stop offset="0.00728" stop-color="#004aff"/><stop offset="0.009706" stop-color="#005bff"/><stop offset="0.01699" stop-color="#009dff"/><stop offset="0.02184" stop-color="#00d4ff"/><stop offset="0.02427" stop-color="#00f8ff"/><stop offset="0.02669" stop-color="#00fdfa"/><stop offset="0.02912" stop-color="#00feeb"/><stop offset="0.03155" stop-color="#00fbca"/><stop offset="0.03883" stop-color="#00f879"/><stop offset="0.04368" stop-color="#00f847"/><stop offset="0.04853" stop-color="#00f82b"/><stop offset="0.05581" stop-color="#00f801"/><stop offset="0.08493" stop-color="#00f600"/><stop offset="0.08978" stop-color="#5ef400"/><stop offset="0.09221" stop-color="#6ff300"/><stop offset="0.1043" stop-color="#a4f100"/><stop offset="0.1068" stop-color="#adf000"/><stop offset="0.114" stop-color="#dff000"/><stop offset="0.1165" stop-color="#ebf100"/><stop offset="0.1213" stop-color="#fdf400"/><stop offset="0.131" stop-color="#ffec00"/><stop offset="0.1553" stop-color="#ffb000"/><stop offset="0.1868" stop-color="#ff9300"/><stop offset="0.2111" stop-color="#ff7600"/><stop offset="0.2985" stop-color="#ff2500"/><stop offset="0.33" stop-color="#ff0e00"/><stop offset="0.3494" stop-color="#ff0a00"/><stop offset="0.5096" stop-color="#ff0b00"/><stop offset="0.5436" stop-color="#ff2800"/><stop offset="0.5605" stop-color="#ff3700"/><stop offset="0.5897" stop-color="#ff3900"/><stop offset="0.643" stop-color="#ff3700"/><stop offset="0.7037" stop-color="#ff1500"/><stop offset="0.7959" stop-color="#ff1600"/><stop offset="0.8347" stop-color="#ff1c00"/><stop offset="0.842" stop-color="#ff2600"/><stop offset="0.8542" stop-color="#ff4300"/><stop offset="0.859" stop-color="#ff4900"/><stop offset="0.8954" stop-color="#ff4800"/><stop offset="0.9245" stop-color="#ff3700"/><stop offset="0.9561" stop-color="#ff3000"/><stop offset="1" stop-color="#ff3000"/></linearGradient><linearGradient id="bg85"><stop offset="0" stop-color="#3b15ff"/><stop offset="0.004853" stop-color="#2030ff"/><stop offset="0.00728" stop-color="#004aff"/><stop offset="0.009706" stop-color="#005bff"/><stop offset="0.01699" stop-color="#009dff"/><stop offset="0.02184" stop-color="#00d4ff"/><stop offset="0.02427" stop-color="#00f8ff"/><stop offset="0.02669" stop-color="#00fdfa"/><stop offset="0.02912" stop-color="#00feeb"/><stop offset="0.03155" stop-color="#00fbca"/><stop offset="0.03883" stop-color="#00f879"/><stop offset="0.04368" stop-color="#00f847"/><stop offset="0.04853" stop-color="#00f82b"/><stop offset="0.05581" stop-color="#00f801"/><stop offset="0.0825" stop-color="#00f600"/><stop offset="0.08493" stop-color="#03f600"/><stop offset="0.08978" stop-color="#61f400"/><stop offset="0.09464" stop-color="#7bf300"/><stop offset="0.1068" stop-color="#aef000"/><stop offset="0.114" stop-color="#e0f000"/><stop offset="0.1189" stop-color="#f5f200"/><stop offset="0.1213" stop-color="#fef400"/><stop offset="0.131" stop-color="#ffec00"/><stop offset="0.1553" stop-color="#ffb000"/><stop offset="0.1844" stop-color="#ff9600"/><stop offset="0.2111" stop-color="#ff7600"/><stop offset="0.296" stop-color="#ff2600"/><stop offset="0.33" stop-color="#ff0e00"/><stop offset="0.3494" stop-color="#ff0a00"/><stop offset="0.5096" stop-color="#ff0b00"/><stop offset="0.5436" stop-color="#ff2900"/><stop offset="0.5605" stop-color="#ff3700"/><stop offset="0.5921" stop-color="#ff3900"/><stop offset="0.643" stop-color="#ff3700"/><stop offset="0.7037" stop-color="#ff1500"/><stop offset="0.7983" stop-color="#ff1600"/><stop offset="0.8347" stop-color="#ff1c00"/><stop offset="0.842" stop-color="#ff2600"/><stop offset="0.8542" stop-color="#ff4400"/><stop offset="0.859" stop-color="#ff4900"/><stop offset="0.8954" stop-color="#ff4800"/><stop offset="0.9245" stop-color="#ff3800"/><stop offset="0.9561" stop-color="#ff3000"/><stop offset="1" stop-color="#ff3000"/></linearGradient><linearGradient id="bg86"><stop offset="0" stop-color="#3b15ff"/><stop offset="0.004853" stop-color="#2030ff"/><stop offset="0.00728" stop-color="#004aff"/><stop offset="0.009706" stop-color="#005bff"/><stop offset="0.01699" stop-color="#009dff"/><stop offset="0.02184" stop-color="#00d4ff"/><stop offset="0.02427" stop-color="#00f8ff"/><stop offset="0.02669" stop-color="#00fdfa"/><stop offset="0.02912" stop-color="#00feeb"/><stop offset="0.03155" stop-color="#00fbca"/><stop offset="0.03883" stop-color="#00f879"/><stop offset="0.04368" stop-color="#00f848"/><stop offset="0.04853" stop-color="#00f82b"/><stop offset="0.05581" stop-color="#00f801"/><stop offset="0.0825" stop-color="#00f600"/><stop offset="0.08493" stop-color="#06f600"/><stop offset="0.08978" stop-color="#63f400"/><stop offset="0.09949" stop-color="#91f200"/><stop offset="0.1068" stop-color="#aef000"/><stop offset="0.114" stop-color="#e1f000"/><stop offset="0.1213" stop-color="#fef400"/><stop offset="0.131" stop-color="#ffeb00"/><stop offset="0.1553" stop-color="#ffaf00"/><stop offset="0.1844" stop-color="#ff9500"/><stop offset="0.2111" stop-color="#ff7500"/><stop offset="0.2936" stop-color="#ff2800"/><stop offset="0.33" stop-color="#ff0e00"/><stop offset="0.3494" stop-color="#ff0a00"/><stop offset="0.5072" stop-color="#ff0b00"/><stop offset="0.5436" stop-color="#ff2900"/><stop offset="0.5605" stop-color="#ff3800"/><stop offset="0.5969" stop-color="#ff3a00"/><stop offset="0.6406" stop-color="#ff3900"/><stop offset="0.7037" stop-color="#ff1500"/><stop offset="0.7983" stop-color="#ff1600"/><stop offset="0.8372" stop-color="#ff1d00"/><stop offset="0.8445" stop-color="#ff2c00"/><stop offset="0.8542" stop-color="#ff4500"/><stop offset="0.859" stop-color="#ff4a00"/><stop offset="0.8954" stop-color="#ff4800"/><stop offset="0.9245" stop-color="#ff3800"/><stop offset="0.9561" stop-color="#ff3000"/><stop offset="1" stop-color="#ff3000"/></linearGradient><linearGradient id="bg87"><stop offset="0" stop-color="#3b15ff"/><stop offset="0.004853" stop-color="#2030ff"/><stop offset="0.00728" stop-color="#004aff"/><stop offset="0.009706" stop-color="#005bff"/><stop offset="0.01699" stop-color="#009dff"/><stop offset="0.02184" stop-color="#00d4ff"/><stop offset="0.02427" stop-color="#00f8ff"/><stop offset="0.02669" stop-color="#00fdfa"/><stop offset="0.02912" stop-color="#00feeb"/><stop offset="0.03155" stop-color="#00fbca"/><stop offset="0.03883" stop-color="#00f879"/><stop offset="0.04368" stop-color="#00f848"/><stop offset="0.04611" stop-color="#00f838"/><stop offset="0.05581" stop-color="#00f801"/><stop offset="0.0825" stop-color="#00f600"/><stop offset="0.08493" stop-color="#09f600"/><stop offset="0.08736" stop-color="#39f500"/><stop offset="0.08978" stop-color="#65f400"/><stop offset="0.09949" stop-color="#92f200"/><stop offset="0.1068" stop-color="#aff000"/><stop offset="0.114" stop-color="#e2f000"/><stop offset="0.1213" stop-color="#fff400"/><stop offset="0.131" stop-color="#ffeb00"/><stop offset="0.1553" stop-color="#ffaf00"/><stop offset="0.1844" stop-color="#ff9500"/><stop offset="0.2111" stop-color="#ff7500"/><stop offset="0.2936" stop-color="#ff2800"/><stop offset="0.33" stop-color="#ff0d00"/><stop offset="0.3494" stop-color="#ff0a00"/><stop offset="0.5072" stop-color="#ff0b00"/><stop offset="0.546" stop-color="#ff2d00"/><stop offset="0.563" stop-color="#ff3900"/><stop offset="0.6406" stop-color="#ff3900"/><stop offset="0.7037" stop-color="#ff1500"/><stop offset="0.7983" stop-color="#ff1600"/><stop offset="0.8372" stop-color="#ff1d00"/><stop offset="0.8445" stop-color="#ff2c00"/><stop offset="0.8542" stop-color="#ff4500"/><stop offset="0.859" stop-color="#ff4a00"/><stop offset="0.8954" stop-color="#ff4900"/><stop offset="0.9245" stop-color="#ff3800"/><stop offset="0.9537" stop-color="#ff3000"/><stop offset="1" stop-color="#ff3000"/></linearGradient><linearGradient id="bg88"><stop offset="0" stop-color="#3b15ff"/><stop offset="0.004853" stop-color="#2030ff"/><stop offset="0.00728" stop-color="#004aff"/><stop offset="0.009706" stop-color="#005bff"/><stop offset="0.01699" stop-color="#009dff"/><stop offset="0.02184" stop-color="#00d4ff"/><stop offset="0.02427" stop-color="#00f8ff"/><stop offset="0.02669" stop-color="#00fdfa"/><stop offset="0.02912" stop-color="#00feeb"/><stop offset="0.03155" stop-color="#00fbca"/><stop offset="0.03883" stop-color="#00f879"/><stop offset="0.04368" stop-color="#00f848"/><stop offset="0.04611" stop-color="#00f838"/><stop offset="0.05581" stop-color="#00f801"/><stop offset="0.0825" stop-color="#00f600"/><stop offset="0.08493" stop-color="#0cf600"/><stop offset="0.08736" stop-color="#3cf500"/><stop offset="0.08978" stop-color="#65f400"/><stop offset="0.09949" stop-color="#93f200"/><stop offset="0.1068" stop-color="#b0f000"/><stop offset="0.114" stop-color="#e3f000"/><stop offset="0.1213" stop-color="#fff400"/><stop offset="0.131" stop-color="#ffeb00"/><stop offset="0.1529" stop-color="#ffb300"/><stop offset="0.1626" stop-color="#ffa800"/><stop offset="0.1844" stop-color="#ff9400"/><stop offset="0.2087" stop-color="#ff7700"/><stop offset="0.2888" stop-color="#ff2b00"/><stop offset="0.33" stop-color="#ff0d00"/><stop offset="0.3519" stop-color="#ff0a00"/><stop offset="0.5072" stop-color="#ff0b00"/><stop offset="0.5605" stop-color="#ff3900"/><stop offset="0.6066" stop-color="#ff3b00"/><stop offset="0.6406" stop-color="#ff3900"/><stop offset="0.7037" stop-color="#ff1500"/><stop offset="0.8008" stop-color="#ff1600"/><stop offset="0.8372" stop-color="#ff1c00"/><stop offset="0.8445" stop-color="#ff2c00"/><stop offset="0.8542" stop-color="#ff4600"/><stop offset="0.859" stop-color="#ff4b00"/><stop offset="0.8954" stop-color="#ff4900"/><stop offset="0.927" stop-color="#ff3800"/><stop offset="0.9561" stop-color="#ff3000"/><stop offset="1" stop-color="#ff3000"/></linearGradient><linearGradient id="bg89"><stop offset="0" stop-color="#3b15ff"/><stop offset="0.004853" stop-color="#2030ff"/><stop offset="0.00728" stop-color="#004aff"/><stop offset="0.009706" stop-color="#005bff"/><stop offset="0.01699" stop-color="#009dff"/><stop offset="0.02184" stop-color="#00d4ff"/><stop offset="0.02427" stop-color="#00f8ff"/><stop offset="0.02669" stop-color="#00fdfa"/><stop offset="0.02912" stop-color="#00feeb"/><stop offset="0.03155" stop-color="#00fbca"/><stop offset="0.03883" stop-color="#00f879"/><stop offset="0.04368" stop-color="#00f848"/><stop offset="0.04611" stop-color="#00f838"/><stop offset="0.05581" stop-color="#00f801"/><stop offset="0.0825" stop-color="#00f600"/><stop offset="0.08493" stop-color="#0ff600"/><stop offset="0.08736" stop-color="#3ff500"/><stop offset="0.08978" stop-color="#66f400"/><stop offset="0.09949" stop-color="#93f200"/><stop offset="0.1068" stop-color="#b0f000"/><stop offset="0.114" stop-color="#e4f000"/><stop offset="0.1213" stop-color="#fff400"/><stop offset="0.131" stop-color="#ffea00"/><stop offset="0.1529" stop-color="#ffb300"/><stop offset="0.1723" stop-color="#ff9f00"/><stop offset="0.1844" stop-color="#ff9400"/><stop offset="0.2087" stop-color="#ff7600"/><stop offset="0.2863" stop-color="#ff2d00"/><stop offset="0.33" stop-color="#ff0d00"/><stop offset="0.3519" stop-color="#ff0a00"/><stop offset="0.5047" stop-color="#ff0b00"/><stop offset="0.5484" stop-color="#ff3100"/><stop offset="0.5654" stop-color="#ff3b00"/><stop offset="0.6406" stop-color="#ff3a00"/><stop offset="0.7037" stop-color="#ff1500"/><stop offset="0.8008" stop-color="#ff1600"/><stop offset="0.8372" stop-color="#ff1c00"/><stop offset="0.8445" stop-color="#ff2c00"/><stop offset="0.8542" stop-color="#ff4600"/><stop offset="0.859" stop-color="#ff4b00"/><stop offset="0.8954" stop-color="#ff4a00"/><stop offset="0.927" stop-color="#ff3800"/><stop offset="0.9537" stop-color="#ff3000"/><stop offset="1" stop-color="#ff3000"/></linearGradient><linearGradient id="bg90"><stop offset="0" stop-color="#3b15ff"/><stop offset="0.004853" stop-color="#2030ff"/><stop offset="0.00728" stop-color="#004aff"/><stop offset="0.009706" stop-color="#005bff"/><stop offset="0.01699" stop-color="#009dff"/><stop offset="0.02184" stop-color="#00d4ff"/><stop offset="0.02427" stop-color="#00f8ff"/><stop offset="0.02669" stop-color="#00fdfa"/><stop offset="0.02912" stop-color="#00feeb"/><stop offset="0.03155" stop-color="#00fbca"/><stop offset="0.03883" stop-color="#00f879"/><stop offset="0.04368" stop-color="#00f848"/><stop offset="0.04611" stop-color="#00f838"/><stop offset="0.05581" stop-color="#00f801"/><stop offset="0.0825" stop-color="#00f600"/><stop offset="0.08493" stop-color="#12f600"/><stop offset="0.08736" stop-color="#42f500"/><stop offset="0.08978" stop-color="#67f400"/><stop offset="0.09949" stop-color="#94f100"/><stop offset="0.1068" stop-color="#b1f000"/><stop offset="0.114" stop-color="#e5f000"/><stop offset="0.1213" stop-color="#fff400"/><stop offset="0.131" stop-color="#ffea00"/><stop offset="0.1529" stop-color="#ffb200"/><stop offset="0.1844" stop-color="#ff9300"/><stop offset="0.2087" stop-color="#ff7600"/><stop offset="0.2694" stop-color="#ff3c00"/><stop offset="0.3082" stop-color="#ff1b00"/><stop offset="0.3349" stop-color="#ff0b00"/><stop offset="0.5047" stop-color="#ff0b00"/><stop offset="0.5581" stop-color="#ff3900"/><stop offset="0.5751" stop-color="#ff3c00"/><stop offset="0.6406" stop-color="#ff3a00"/><stop offset="0.7037" stop-color="#ff1500"/><stop offset="0.8032" stop-color="#ff1600"/><stop offset="0.8372" stop-color="#ff1c00"/><stop offset="0.8445" stop-color="#ff2b00"/><stop offset="0.8542" stop-color="#ff4700"/><stop offset="0.859" stop-color="#ff4c00"/><stop offset="0.8954" stop-color="#ff4a00"/><stop offset="0.927" stop-color="#ff3800"/><stop offset="0.9537" stop-color="#ff3000"/><stop offset="1" stop-color="#ff3000"/></linearGradient><linearGradient id="bg91"><stop offset="0" stop-color="#3b15ff"/><stop offset="0.004853" stop-color="#2030ff"/><stop offset="0.00728" stop-color="#004aff"/><stop offset="0.009706" stop-color="#005bff"/><stop offset="0.01699" stop-color="#009dff"/><stop offset="0.02184" stop-color="#00d4ff"/><stop offset="0.02427" stop-color="#00f8ff"/><stop offset="0.02669" stop-color="#00fdfa"/><stop offset="0.02912" stop-color="#00feeb"/><stop offset="0.03155" stop-color="#00fbca"/><stop offset="0.03883" stop-color="#00f879"/><stop offset="0.04368" stop-color="#00f848"/><stop offset="0.04611" stop-color="#00f838"/><stop offset="0.05581" stop-color="#00f800"/><stop offset="0.0825" stop-color="#00f600"/><stop offset="0.08493" stop-color="#15f600"/><stop offset="0.08736" stop-color="#45f500"/><stop offset="0.08978" stop-color="#68f400"/><stop offset="0.09949" stop-color="#94f100"/><stop offset="0.1068" stop-color="#b2f000"/><stop offset="0.114" stop-color="#e6f000"/><stop offset="0.1213" stop-color="#fff400"/><stop offset="0.131" stop-color="#ffe900"/><stop offset="0.1529" stop-color="#ffb200"/><stop offset="0.1844" stop-color="#ff9300"/><stop offset="0.2087" stop-color="#ff7500"/><stop offset="0.2669" stop-color="#ff3e00"/><stop offset="0.3058" stop-color="#ff1d00"/><stop offset="0.3324" stop-color="#ff0c00"/><stop offset="0.3688" stop-color="#ff0a00"/><stop offset="0.5047" stop-color="#ff0b00"/><stop offset="0.5581" stop-color="#ff3900"/><stop offset="0.5751" stop-color="#ff3c00"/><stop offset="0.6406" stop-color="#ff3b00"/><stop offset="0.7037" stop-color="#ff1500"/><stop offset="0.8032" stop-color="#ff1600"/><stop offset="0.8372" stop-color="#ff1b00"/><stop offset="0.8445" stop-color="#ff2b00"/><stop offset="0.8542" stop-color="#ff4700"/><stop offset="0.859" stop-color="#ff4c00"/><stop offset="0.8954" stop-color="#ff4b00"/><stop offset="0.927" stop-color="#ff3800"/><stop offset="0.9537" stop-color="#ff3000"/><stop offset="1" stop-color="#ff3000"/></linearGradient><linearGradient id="bg92"><stop offset="0" stop-color="#3b15ff"/><stop offset="0.004853" stop-color="#2030ff"/><stop offset="0.00728" stop-color="#004aff"/><stop offset="0.009706" stop-color="#005bff"/><stop offset="0.01699" stop-color="#009dff"/><stop offset="0.02184" stop-color="#00d4ff"/><stop offset="0.02427" stop-color="#00f8ff"/><stop offset="0.02669" stop-color="#00fdfa"/><stop offset="0.02912" stop-color="#00feeb"/><stop offset="0.03155" stop-color="#00fbcb"/><stop offset="0.03883" stop-color="#00f879"/><stop offset="0.04368" stop-color="#00f848"/><stop offset="0.04611" stop-color="#00f838"/><stop offset="0.05581" stop-color="#00f800"/><stop offset="0.0825" stop-color="#00f600"/><stop offset="0.08493" stop-color="#18f600"/><stop offset="0.08736" stop-color="#47f500"/><stop offset="0.08978" stop-color="#69f400"/><stop offset="0.09949" stop-color="#95f100"/><stop offset="0.1068" stop-color="#b4f000"/><stop offset="0.114" stop-color="#e6f000"/><stop offset="0.1213" stop-color="#fff300"/><stop offset="0.131" stop-color="#ffe900"/><stop offset="0.1529" stop-color="#ffb100"/><stop offset="0.1844" stop-color="#ff9200"/><stop offset="0.2087" stop-color="#ff7500"/><stop offset="0.2645" stop-color="#ff4000"/><stop offset="0.3033" stop-color="#ff1f00"/><stop offset="0.3324" stop-color="#ff0c00"/><stop offset="0.3713" stop-color="#ff0a00"/><stop offset="0.5023" stop-color="#ff0b00"/><stop offset="0.5581" stop-color="#ff3a00"/><stop offset="0.5775" stop-color="#ff3d00"/><stop offset="0.6406" stop-color="#ff3b00"/><stop offset="0.7037" stop-color="#ff1500"/><stop offset="0.8056" stop-color="#ff1600"/><stop offset="0.8372" stop-color="#ff1b00"/><stop offset="0.842" stop-color="#ff2400"/><stop offset="0.8542" stop-color="#ff4800"/><stop offset="0.8566" stop-color="#ff4c00"/><stop offset="0.8954" stop-color="#ff4b00"/><stop offset="0.927" stop-color="#ff3900"/><stop offset="0.9537" stop-color="#ff3000"/><stop offset="1" stop-color="#ff3000"/></linearGradient><linearGradient id="bg93"><stop offset="0" stop-color="#3b15ff"/><stop offset="0.004853" stop-color="#2030ff"/><stop offset="0.00728" stop-color="#004aff"/><stop offset="0.009706" stop-color="#005bff"/><stop offset="0.01699" stop-color="#009dff"/><stop offset="0.02184" stop-color="#00d4ff"/><stop offset="0.02427" stop-color="#00f8ff"/><stop offset="0.02669" stop-color="#00fdfa"/><stop offset="0.02912" stop-color="#00feeb"/><stop offset="0.03155" stop-color="#00fbcb"/><stop offset="0.03883" stop-color="#00f879"/><stop offset="0.04368" stop-color="#00f848"/><stop offset="0.04611" stop-color="#00f838"/><stop offset="0.05581" stop-color="#00f800"/><stop offset="0.0825" stop-color="#00f600"/><stop offset="0.08493" stop-color="#1bf500"/><stop offset="0.08736" stop-color="#4af500"/><stop offset="0.08978" stop-color="#69f400"/><stop offset="0.09949" stop-color="#96f100"/><stop offset="0.1068" stop-color="#b5f000"/><stop offset="0.114" stop-color="#e7f000"/><stop offset="0.1189" stop-color="#f9f300"/><stop offset="0.1213" stop-color="#fff300"/><stop offset="0.1286" stop-color="#ffed00"/><stop offset="0.1432" stop-color="#ffc900"/><stop offset="0.1529" stop-color="#ffb100"/><stop offset="0.182" stop-color="#ff9500"/><stop offset="0.2063" stop-color="#ff7700"/><stop offset="0.2499" stop-color="#ff4d00"/><stop offset="0.2985" stop-color="#ff2200"/><stop offset="0.33" stop-color="#ff0d00"/><stop offset="0.3543" stop-color="#ff0a00"/><stop offset="0.5023" stop-color="#ff0b00"/><stop offset="0.5581" stop-color="#ff3a00"/><stop offset="0.5775" stop-color="#ff3d00"/><stop offset="0.6406" stop-color="#ff3b00"/><stop offset="0.7037" stop-color="#ff1500"/><stop offset="0.8056" stop-color="#ff1600"/><stop offset="0.8372" stop-color="#ff1b00"/><stop offset="0.842" stop-color="#ff2400"/><stop offset="0.8542" stop-color="#ff4900"/><stop offset="0.8566" stop-color="#ff4d00"/><stop offset="0.8954" stop-color="#ff4c00"/><stop offset="0.927" stop-color="#ff3900"/><stop offset="0.9537" stop-color="#ff3000"/><stop offset="1" stop-color="#ff3000"/></linearGradient><linearGradient id="bg94"><stop offset="0" stop-color="#3b15ff"/><stop offset="0.004853" stop-color="#2030ff"/><stop offset="0.00728" stop-color="#004aff"/><stop offset="0.009706" stop-color="#005bff"/><stop offset="0.01699" stop-color="#009dff"/><stop offset="0.02184" stop-color="#00d4ff"/><stop offset="0.02427" stop-color="#00f8ff"/><stop offset="0.02669" stop-color="#00fdfa"/><stop offset="0.02912" stop-color="#00feeb"/><stop offset="0.03155" stop-color="#00fbcb"/><stop offset="0.03883" stop-color="#00f879"/><stop offset="0.04368" stop-color="#00f848"/><stop offset="0.04611" stop-color="#00f838"/><stop offset="0.05581" stop-color="#00f800"/><stop offset="0.0825" stop-color="#00f600"/><stop offset="0.08493" stop-color="#1ef500"/><stop offset="0.08736" stop-color="#4df400"/><stop offset="0.08978" stop-color="#6af400"/><stop offset="0.09949" stop-color="#96f100"/><stop offset="0.1068" stop-color="#b6f000"/><stop offset="0.114" stop-color="#e7f000"/><stop offset="0.1189" stop-color="#f9f300"/><stop offset="0.1213" stop-color="#fff300"/><stop offset="0.1286" stop-color="#ffed00"/><stop offset="0.1529" stop-color="#ffb000"/><stop offset="0.182" stop-color="#ff9500"/><stop offset="0.2063" stop-color="#ff7600"/><stop offset="0.2475" stop-color="#ff4e00"/><stop offset="0.2985" stop-color="#ff2200"/><stop offset="0.33" stop-color="#ff0d00"/><stop offset="0.3543" stop-color="#ff0a00"/><stop offset="0.5023" stop-color="#ff0b00"/><stop offset="0.5581" stop-color="#ff3b00"/><stop offset="0.5775" stop-color="#ff3e00"/><stop offset="0.6382" stop-color="#ff3d00"/><stop offset="0.7037" stop-color="#ff1500"/><stop offset="0.8081" stop-color="#ff1600"/><stop offset="0.8372" stop-color="#ff1a00"/><stop offset="0.842" stop-color="#ff2400"/><stop offset="0.8542" stop-color="#ff4900"/><stop offset="0.8566" stop-color="#ff4d00"/><stop offset="0.8954" stop-color="#ff4c00"/><stop offset="0.927" stop-color="#ff3900"/><stop offset="0.9537" stop-color="#ff3000"/><stop offset="1" stop-color="#ff3000"/></linearGradient><linearGradient id="bg95"><stop offset="0" stop-color="#3b15ff"/><stop offset="0.004853" stop-color="#2030ff"/><stop offset="0.00728" stop-color="#004aff"/><stop offset="0.009706" stop-color="#005bff"/><stop offset="0.01699" stop-color="#009dff"/><stop offset="0.02184" stop-color="#00d4ff"/><stop offset="0.02427" stop-color="#00f8ff"/><stop offset="0.02669" stop-color="#00fdfa"/><stop offset="0.02912" stop-color="#00feeb"/><stop offset="0.03155" stop-color="#00fbcb"/><stop offset="0.03883" stop-color="#00f87a"/><stop offset="0.04368" stop-color="#00f848"/><stop offset="0.04611" stop-color="#00f838"/><stop offset="0.05581" stop-color="#00f800"/><stop offset="0.0825" stop-color="#00f600"/><stop offset="0.08493" stop-color="#21f500"/><stop offset="0.08736" stop-color="#50f400"/><stop offset="0.08978" stop-color="#6bf400"/><stop offset="0.09949" stop-color="#97f100"/><stop offset="0.1043" stop-color="#aaf000"/><stop offset="0.1068" stop-color="#b7f000"/><stop offset="0.114" stop-color="#e8f000"/><stop offset="0.1189" stop-color="#faf300"/><stop offset="0.1213" stop-color="#fff300"/><stop offset="0.1286" stop-color="#ffed00"/><stop offset="0.1529" stop-color="#ffb000"/><stop offset="0.182" stop-color="#ff9400"/><stop offset="0.2063" stop-color="#ff7500"/><stop offset="0.2475" stop-color="#ff4e00"/><stop offset="0.296" stop-color="#ff2300"/><stop offset="0.33" stop-color="#ff0d00"/><stop offset="0.3543" stop-color="#ff0a00"/><stop offset="0.5023" stop-color="#ff0c00"/><stop offset="0.5557" stop-color="#ff3a00"/><stop offset="0.5727" stop-color="#ff3e00"/><stop offset="0.6382" stop-color="#ff3d00"/><stop offset="0.7037" stop-color="#ff1500"/><stop offset="0.8105" stop-color="#ff1600"/><stop offset="0.8372" stop-color="#ff1a00"/><stop offset="0.842" stop-color="#ff2300"/><stop offset="0.8542" stop-color="#ff4a00"/><stop offset="0.8566" stop-color="#ff4e00"/><stop offset="0.8954" stop-color="#ff4d00"/><stop offset="0.927" stop-color="#ff3900"/><stop offset="0.9537" stop-color="#ff3000"/><stop offset="1" stop-color="#ff3000"/></linearGradient><linearGradient id="bg96"><stop offset="0" stop-color="#3b15ff"/><stop offset="0.004853" stop-color="#2030ff"/><stop offset="0.00728" stop-color="#004aff"/><stop offset="0.009706" stop-color="#005bff"/><stop offset="0.01699" stop-color="#009dff"/><stop offset="0.02184" stop-color="#00d4ff"/><stop offset="0.02427" stop-color="#00f8ff"/><stop offset="0.02669" stop-color="#00fdfa"/><stop offset="0.02912" stop-color="#00feeb"/><stop offset="0.03155" stop-color="#00fbcb"/><stop offset="0.03883" stop-color="#00f87a"/><stop offset="0.04368" stop-color="#00f848"/><stop offset="0.04611" stop-color="#00f838"/><stop offset="0.05581" stop-color="#00f800"/><stop offset="0.0825" stop-color="#00f600"/><stop offset="0.08493" stop-color="#24f500"/><stop offset="0.08736" stop-color="#53f400"/><stop offset="0.08978" stop-color="#6cf400"/><stop offset="0.09949" stop-color="#98f100"/><stop offset="0.1043" stop-color="#abf000"/><stop offset="0.1068" stop-color="#b8f000"/><stop offset="0.114" stop-color="#e9f000"/><stop offset="0.1189" stop-color="#faf300"/><stop offset="0.1213" stop-color="#fff300"/><stop offset="0.1286" stop-color="#ffed00"/><stop offset="0.1529" stop-color="#ffb000"/><stop offset="0.182" stop-color="#ff9400"/><stop offset="0.2063" stop-color="#ff7500"/><stop offset="0.2451" stop-color="#ff5000"/><stop offset="0.296" stop-color="#ff2300"/><stop offset="0.33" stop-color="#ff0d00"/><stop offset="0.3543" stop-color="#ff0a00"/><stop offset="0.4999" stop-color="#ff0b00"/><stop offset="0.5557" stop-color="#ff3b00"/><stop offset="0.5727" stop-color="#ff3f00"/><stop offset="0.6382" stop-color="#ff3d00"/><stop offset="0.7037" stop-color="#ff1500"/><stop offset="0.8105" stop-color="#ff1600"/><stop offset="0.8372" stop-color="#ff1900"/><stop offset="0.842" stop-color="#ff2300"/><stop offset="0.8542" stop-color="#ff4b00"/><stop offset="0.8566" stop-color="#ff4e00"/><stop offset="0.8954" stop-color="#ff4d00"/><stop offset="0.927" stop-color="#ff3a00"/><stop offset="0.9537" stop-color="#ff3000"/><stop offset="1" stop-color="#ff3000"/></linearGradient><linearGradient id="bg97"><stop offset="0" stop-color="#3b15ff"/><stop offset="0.004853" stop-color="#2030ff"/><stop offset="0.00728" stop-color="#004aff"/><stop offset="0.009706" stop-color="#005bff"/><stop offset="0.01699" stop-color="#009dff"/><stop offset="0.02184" stop-color="#00d4ff"/><stop offset="0.02427" stop-color="#00f8ff"/><stop offset="0.02669" stop-color="#00fdfa"/><stop offset="0.02912" stop-color="#00feeb"/><stop offset="0.03155" stop-color="#00fbcb"/><stop offset="0.03883" stop-color="#00f87a"/><stop offset="0.04368" stop-color="#00f848"/><stop offset="0.04611" stop-color="#00f838"/><stop offset="0.05581" stop-color="#00f800"/><stop offset="0.0825" stop-color="#00f600"/><stop offset="0.08493" stop-color="#27f500"/><stop offset="0.08736" stop-color="#56f400"/><stop offset="0.08978" stop-color="#6df400"/><stop offset="0.09949" stop-color="#98f100"/><stop offset="0.1043" stop-color="#abf000"/><stop offset="0.1068" stop-color="#b9f000"/><stop offset="0.1116" stop-color="#dbf000"/><stop offset="0.114" stop-color="#e9f000"/><stop offset="0.1189" stop-color="#fbf300"/><stop offset="0.1213" stop-color="#fff300"/><stop offset="0.1286" stop-color="#ffec00"/><stop offset="0.1529" stop-color="#ffaf00"/><stop offset="0.182" stop-color="#ff9300"/><stop offset="0.2063" stop-color="#ff7400"/><stop offset="0.2451" stop-color="#ff4f00"/><stop offset="0.296" stop-color="#ff2300"/><stop offset="0.33" stop-color="#ff0d00"/><stop offset="0.3567" stop-color="#ff0a00"/><stop offset="0.4999" stop-color="#ff0b00"/><stop offset="0.5557" stop-color="#ff3b00"/><stop offset="0.5727" stop-color="#ff3f00"/><stop offset="0.6382" stop-color="#ff3e00"/><stop offset="0.7037" stop-color="#ff1500"/><stop offset="0.8129" stop-color="#ff1600"/><stop offset="0.8372" stop-color="#ff1900"/><stop offset="0.842" stop-color="#ff2300"/><stop offset="0.8542" stop-color="#ff4b00"/><stop offset="0.8566" stop-color="#ff4f00"/><stop offset="0.8954" stop-color="#ff4e00"/><stop offset="0.9294" stop-color="#ff3900"/><stop offset="0.9537" stop-color="#ff3000"/><stop offset="1" stop-color="#ff3000"/></linearGradient><linearGradient id="bg98"><stop offset="0" stop-color="#3b15ff"/><stop offset="0.004853" stop-color="#2030ff"/><stop offset="0.00728" stop-color="#004aff"/><stop offset="0.009706" stop-color="#005bff"/><stop offset="0.01699" stop-color="#009dff"/><stop offset="0.02184" stop-color="#00d4ff"/><stop offset="0.02427" stop-color="#00f8ff"/><stop offset="0.02669" stop-color="#00fdfa"/><stop offset="0.02912" stop-color="#00feeb"/><stop offset="0.03155" stop-color="#00fbcb"/><stop offset="0.03883" stop-color="#00f87a"/><stop offset="0.04368" stop-color="#00f848"/><stop offset="0.04611" stop-color="#00f838"/><stop offset="0.05581" stop-color="#00f800"/><stop offset="0.0825" stop-color="#00f600"/><stop offset="0.08493" stop-color="#2af500"/><stop offset="0.08736" stop-color="#59f400"/><stop offset="0.08978" stop-color="#6df400"/><stop offset="0.09949" stop-color="#99f100"/><stop offset="0.1043" stop-color="#acf000"/><stop offset="0.1068" stop-color="#baf000"/><stop offset="0.1116" stop-color="#dcf000"/><stop offset="0.114" stop-color="#eaf100"/><stop offset="0.1189" stop-color="#fcf300"/><stop offset="0.1213" stop-color="#fff300"/><stop offset="0.1286" stop-color="#ffec00"/><stop offset="0.1529" stop-color="#ffaf00"/><stop offset="0.182" stop-color="#ff9300"/><stop offset="0.2063" stop-color="#ff7400"/><stop offset="0.2427" stop-color="#ff5100"/><stop offset="0.296" stop-color="#ff2200"/><stop offset="0.33" stop-color="#ff0d00"/><stop offset="0.3567" stop-color="#ff0a00"/><stop offset="0.4999" stop-color="#ff0c00"/><stop offset="0.5533" stop-color="#ff3a00"/><stop offset="0.5702" stop-color="#ff4000"/><stop offset="0.6382" stop-color="#ff3e00"/><stop offset="0.7037" stop-color="#ff1500"/><stop offset="0.8129" stop-color="#ff1600"/><stop offset="0.8372" stop-color="#ff1900"/><stop offset="0.842" stop-color="#ff2200"/><stop offset="0.8542" stop-color="#ff4c00"/><stop offset="0.8566" stop-color="#ff4f00"/><stop offset="0.8954" stop-color="#ff4e00"/><stop offset="0.9294" stop-color="#ff3900"/><stop offset="0.9537" stop-color="#ff3000"/><stop offset="1" stop-color="#ff3000"/></linearGradient><linearGradient id="bg99"><stop offset="0" stop-color="#3b15ff"/><stop offset="0.004853" stop-color="#2030ff"/><stop offset="0.00728" stop-color="#004aff"/><stop offset="0.009706" stop-color="#005bff"/><stop offset="0.01699" stop-color="#009dff"/><stop offset="0.02184" stop-color="#00d4ff"/><stop offset="0.02427" stop-color="#00f8ff"/><stop offset="0.02669" stop-color="#00fdfa"/><stop offset="0.02912" stop-color="#00feeb"/><stop offset="0.03155" stop-color="#00fbcb"/><stop offset="0.03883" stop-color="#00f87a"/><stop offset="0.04368" stop-color="#00f848"/><stop offset="0.04611" stop-color="#00f838"/><stop offset="0.05581" stop-color="#00f800"/><stop offset="0.0825" stop-color="#00f600"/><stop offset="0.08736" stop-color="#5bf400"/><stop offset="0.08978" stop-color="#6ef300"/><stop offset="0.09949" stop-color="#9af100"/><stop offset="0.1043" stop-color="#adf000"/><stop offset="0.1092" stop-color="#ccf000"/><stop offset="0.1116" stop-color="#ddf000"/><stop offset="0.114" stop-color="#eaf100"/><stop offset="0.1189" stop-color="#fcf400"/><stop offset="0.1238" stop-color="#fff000"/><stop offset="0.1286" stop-color="#ffec00"/><stop offset="0.1529" stop-color="#ffaf00"/><stop offset="0.1796" stop-color="#ff9600"/><stop offset="0.2038" stop-color="#ff7600"/><stop offset="0.2402" stop-color="#ff5200"/><stop offset="0.2936" stop-color="#ff2400"/><stop offset="0.33" stop-color="#ff0d00"/><stop offset="0.3567" stop-color="#ff0a00"/><stop offset="0.4975" stop-color="#ff0b00"/><stop offset="0.5533" stop-color="#ff3b00"/><stop offset="0.5702" stop-color="#ff4000"/><stop offset="0.6382" stop-color="#ff3e00"/><stop offset="0.7037" stop-color="#ff1500"/><stop offset="0.8153" stop-color="#ff1600"/><stop offset="0.8372" stop-color="#ff1800"/><stop offset="0.842" stop-color="#ff2200"/><stop offset="0.8542" stop-color="#ff4c00"/><stop offset="0.8566" stop-color="#ff5000"/><stop offset="0.8954" stop-color="#ff4f00"/><stop offset="0.9318" stop-color="#ff3800"/><stop offset="0.9537" stop-color="#ff3000"/><stop offset="1" stop-color="#ff3000"/></linearGradient><linearGradient id="acb" x1="0" y1="0" x2="0" y2="1"><stop offset="0" stop-color="#ff0000"/><stop offset="0.063" stop-color="#ff4000"/><stop offset="0.125" stop-color="#ff8000"/><stop offset="0.2" stop-color="#ffc800"/><stop offset="0.218" stop-color="#ffd800"/><stop offset="0.243" stop-color="#fffa00"/><stop offset="0.264" stop-color="#fffc00"/><stop offset="0.28" stop-color="#e0f400"/><stop offset="0.293" stop-color="#c0f000"/><stop offset="0.33" stop-color="#88f000"/><stop offset="0.355" stop-color="#60ee00"/><stop offset="0.37" stop-color="#00e400"/><stop offset="0.55" stop-color="#00e400"/><stop offset="0.6" stop-color="#00e850"/><stop offset="0.65" stop-color="#00e890"/><stop offset="0.7" stop-color="#00e8d0"/><stop offset="0.735" stop-color="#00f2f0"/><stop offset="0.755" stop-color="#00f2ff"/><stop offset="0.77" stop-color="#00e8ff"/><stop offset="0.8" stop-color="#00c0ff"/><stop offset="0.9" stop-color="#0060ff"/><stop offset="1" stop-color="#0000ff"/></linearGradient><linearGradient id="bcb" x1="0" y1="0" x2="0" y2="1"><stop offset="0" stop-color="#ff0000"/><stop offset="0.064" stop-color="#ff2800"/><stop offset="0.1" stop-color="#ff4000"/><stop offset="0.138" stop-color="#ff6000"/><stop offset="0.176" stop-color="#ff8000"/><stop offset="0.2" stop-color="#ff9800"/><stop offset="0.241" stop-color="#ffb000"/><stop offset="0.262" stop-color="#ffd000"/><stop offset="0.28" stop-color="#ffec00"/><stop offset="0.295" stop-color="#fff400"/><stop offset="0.305" stop-color="#e6f000"/><stop offset="0.316" stop-color="#b0f000"/><stop offset="0.345" stop-color="#64f400"/><stop offset="0.356" stop-color="#00f600"/><stop offset="0.457" stop-color="#00f800"/><stop offset="0.5" stop-color="#00f840"/><stop offset="0.53" stop-color="#00f8a0"/><stop offset="0.56" stop-color="#00fff8"/><stop offset="0.585" stop-color="#00f8ff"/><stop offset="0.605" stop-color="#00d8ff"/><stop offset="0.652" stop-color="#00a8ff"/><stop offset="0.722" stop-color="#0078ff"/><stop offset="0.784" stop-color="#0048ff"/><stop offset="0.8" stop-color="#2030ff"/><stop offset="0.854" stop-color="#5000ff"/><stop offset="0.93" stop-color="#9000ff"/><stop offset="1" stop-color="#c000ff"/></linearGradient></defs>
<rect width="550" height="1016" fill="#fff"/>
<rect x="0" y="474.6" width="550" height="1" fill="#f1f1f1"/>
<rect x="95.5" y="406" width="1" height="69" fill="#f7f7f7"/>
<rect x="179.0" y="406" width="1" height="69" fill="#f7f7f7"/>
<rect x="431.0" y="406" width="1" height="69" fill="#f7f7f7"/>
<rect x="542.5" y="406" width="1" height="69" fill="#f7f7f7"/>
<g><rect x="70.50" y="12.50" width="408.00" height="7.50" fill="url(#ag0)"/><rect x="70.50" y="12.50" width="408.00" height="6.50" fill="url(#ag1)" mask="url(#vf)"/><rect x="70.50" y="19.00" width="408.00" height="7.00" fill="url(#ag1)"/><rect x="70.50" y="19.00" width="408.00" height="6.00" fill="url(#ag2)" mask="url(#vf)"/><rect x="70.50" y="25.00" width="408.00" height="7.00" fill="url(#ag2)"/><rect x="70.50" y="25.00" width="408.00" height="6.00" fill="url(#ag3)" mask="url(#vf)"/><rect x="70.50" y="31.00" width="408.00" height="7.00" fill="url(#ag3)"/><rect x="70.50" y="31.00" width="408.00" height="6.00" fill="url(#ag4)" mask="url(#vf)"/><rect x="70.50" y="37.00" width="408.00" height="7.00" fill="url(#ag4)"/><rect x="70.50" y="37.00" width="408.00" height="6.00" fill="url(#ag5)" mask="url(#vf)"/><rect x="70.50" y="43.00" width="408.00" height="7.00" fill="url(#ag5)"/><rect x="70.50" y="43.00" width="408.00" height="6.00" fill="url(#ag6)" mask="url(#vf)"/><rect x="70.50" y="49.00" width="408.00" height="7.00" fill="url(#ag6)"/><rect x="70.50" y="49.00" width="408.00" height="6.00" fill="url(#ag7)" mask="url(#vf)"/><rect x="70.50" y="55.00" width="408.00" height="7.00" fill="url(#ag7)"/><rect x="70.50" y="55.00" width="408.00" height="6.00" fill="url(#ag8)" mask="url(#vf)"/><rect x="70.50" y="61.00" width="408.00" height="7.00" fill="url(#ag8)"/><rect x="70.50" y="61.00" width="408.00" height="6.00" fill="url(#ag9)" mask="url(#vf)"/><rect x="70.50" y="67.00" width="408.00" height="7.00" fill="url(#ag9)"/><rect x="70.50" y="67.00" width="408.00" height="6.00" fill="url(#ag10)" mask="url(#vf)"/><rect x="70.50" y="73.00" width="408.00" height="7.00" fill="url(#ag10)"/><rect x="70.50" y="73.00" width="408.00" height="6.00" fill="url(#ag11)" mask="url(#vf)"/><rect x="70.50" y="79.00" width="408.00" height="7.00" fill="url(#ag11)"/><rect x="70.50" y="79.00" width="408.00" height="6.00" fill="url(#ag12)" mask="url(#vf)"/><rect x="70.50" y="85.00" width="408.00" height="7.00" fill="url(#ag12)"/><rect x="70.50" y="85.00" width="408.00" height="6.00" fill="url(#ag13)" mask="url(#vf)"/><rect x="70.50" y="91.00" width="408.00" height="7.00" fill="url(#ag13)"/><rect x="70.50" y="91.00" width="408.00" height="6.00" fill="url(#ag14)" mask="url(#vf)"/><rect x="70.50" y="97.00" width="408.00" height="7.00" fill="url(#ag14)"/><rect x="70.50" y="97.00" width="408.00" height="6.00" fill="url(#ag15)" mask="url(#vf)"/><rect x="70.50" y="103.00" width="408.00" height="7.00" fill="url(#ag15)"/><rect x="70.50" y="103.00" width="408.00" height="6.00" fill="url(#ag16)" mask="url(#vf)"/><rect x="70.50" y="109.00" width="408.00" height="7.00" fill="url(#ag16)"/><rect x="70.50" y="109.00" width="408.00" height="6.00" fill="url(#ag17)" mask="url(#vf)"/><rect x="70.50" y="115.00" width="408.00" height="7.00" fill="url(#ag17)"/><rect x="70.50" y="115.00" width="408.00" height="6.00" fill="url(#ag18)" mask="url(#vf)"/><rect x="70.50" y="121.00" width="408.00" height="7.00" fill="url(#ag18)"/><rect x="70.50" y="121.00" width="408.00" height="6.00" fill="url(#ag19)" mask="url(#vf)"/><rect x="70.50" y="127.00" width="408.00" height="7.00" fill="url(#ag19)"/><rect x="70.50" y="127.00" width="408.00" height="6.00" fill="url(#ag20)" mask="url(#vf)"/><rect x="70.50" y="133.00" width="408.00" height="7.00" fill="url(#ag20)"/><rect x="70.50" y="133.00" width="408.00" height="6.00" fill="url(#ag21)" mask="url(#vf)"/><rect x="70.50" y="139.00" width="408.00" height="7.00" fill="url(#ag21)"/><rect x="70.50" y="139.00" width="408.00" height="6.00" fill="url(#ag22)" mask="url(#vf)"/><rect x="70.50" y="145.00" width="408.00" height="7.00" fill="url(#ag22)"/><rect x="70.50" y="145.00" width="408.00" height="6.00" fill="url(#ag23)" mask="url(#vf)"/><rect x="70.50" y="151.00" width="408.00" height="7.00" fill="url(#ag23)"/><rect x="70.50" y="151.00" width="408.00" height="6.00" fill="url(#ag24)" mask="url(#vf)"/><rect x="70.50" y="157.00" width="408.00" height="7.00" fill="url(#ag24)"/><rect x="70.50" y="157.00" width="408.00" height="6.00" fill="url(#ag25)" mask="url(#vf)"/><rect x="70.50" y="163.00" width="408.00" height="7.00" fill="url(#ag25)"/><rect x="70.50" y="163.00" width="408.00" height="6.00" fill="url(#ag26)" mask="url(#vf)"/><rect x="70.50" y="169.00" width="408.00" height="7.00" fill="url(#ag26)"/><rect x="70.50" y="169.00" width="408.00" height="6.00" fill="url(#ag27)" mask="url(#vf)"/><rect x="70.50" y="175.00" width="408.00" height="7.00" fill="url(#ag27)"/><rect x="70.50" y="175.00" width="408.00" height="6.00" fill="url(#ag28)" mask="url(#vf)"/><rect x="70.50" y="181.00" width="408.00" height="7.00" fill="url(#ag28)"/><rect x="70.50" y="181.00" width="408.00" height="6.00" fill="url(#ag29)" mask="url(#vf)"/><rect x="70.50" y="187.00" width="408.00" height="7.00" fill="url(#ag29)"/><rect x="70.50" y="187.00" width="408.00" height="6.00" fill="url(#ag30)" mask="url(#vf)"/><rect x="70.50" y="193.00" width="408.00" height="7.00" fill="url(#ag30)"/><rect x="70.50" y="193.00" width="408.00" height="6.00" fill="url(#ag31)" mask="url(#vf)"/><rect x="70.50" y="199.00" width="408.00" height="7.00" fill="url(#ag31)"/><rect x="70.50" y="199.00" width="408.00" height="6.00" fill="url(#ag32)" mask="url(#vf)"/><rect x="70.50" y="205.00" width="408.00" height="7.00" fill="url(#ag32)"/><rect x="70.50" y="205.00" width="408.00" height="6.00" fill="url(#ag33)" mask="url(#vf)"/><rect x="70.50" y="211.00" width="408.00" height="7.00" fill="url(#ag33)"/><rect x="70.50" y="211.00" width="408.00" height="6.00" fill="url(#ag34)" mask="url(#vf)"/><rect x="70.50" y="217.00" width="408.00" height="7.00" fill="url(#ag34)"/><rect x="70.50" y="217.00" width="408.00" height="6.00" fill="url(#ag35)" mask="url(#vf)"/><rect x="70.50" y="223.00" width="408.00" height="7.00" fill="url(#ag35)"/><rect x="70.50" y="223.00" width="408.00" height="6.00" fill="url(#ag36)" mask="url(#vf)"/><rect x="70.50" y="229.00" width="408.00" height="7.00" fill="url(#ag36)"/><rect x="70.50" y="229.00" width="408.00" height="6.00" fill="url(#ag37)" mask="url(#vf)"/><rect x="70.50" y="235.00" width="408.00" height="7.00" fill="url(#ag37)"/><rect x="70.50" y="235.00" width="408.00" height="6.00" fill="url(#ag38)" mask="url(#vf)"/><rect x="70.50" y="241.00" width="408.00" height="7.00" fill="url(#ag38)"/><rect x="70.50" y="241.00" width="408.00" height="6.00" fill="url(#ag39)" mask="url(#vf)"/><rect x="70.50" y="247.00" width="408.00" height="7.00" fill="url(#ag39)"/><rect x="70.50" y="247.00" width="408.00" height="6.00" fill="url(#ag40)" mask="url(#vf)"/><rect x="70.50" y="253.00" width="408.00" height="7.00" fill="url(#ag40)"/><rect x="70.50" y="253.00" width="408.00" height="6.00" fill="url(#ag41)" mask="url(#vf)"/><rect x="70.50" y="259.00" width="408.00" height="7.00" fill="url(#ag41)"/><rect x="70.50" y="259.00" width="408.00" height="6.00" fill="url(#ag42)" mask="url(#vf)"/><rect x="70.50" y="265.00" width="408.00" height="7.00" fill="url(#ag42)"/><rect x="70.50" y="265.00" width="408.00" height="6.00" fill="url(#ag43)" mask="url(#vf)"/><rect x="70.50" y="271.00" width="408.00" height="8.00" fill="url(#ag43)"/><rect x="70.50" y="271.00" width="408.00" height="7.00" fill="url(#ag44)" mask="url(#vf)"/><rect x="70.50" y="278.00" width="408.00" height="7.00" fill="url(#ag44)"/><rect x="70.50" y="278.00" width="408.00" height="6.00" fill="url(#ag45)" mask="url(#vf)"/><rect x="70.50" y="284.00" width="408.00" height="7.00" fill="url(#ag45)"/><rect x="70.50" y="284.00" width="408.00" height="6.00" fill="url(#ag46)" mask="url(#vf)"/><rect x="70.50" y="290.00" width="408.00" height="7.00" fill="url(#ag46)"/><rect x="70.50" y="290.00" width="408.00" height="6.00" fill="url(#ag47)" mask="url(#vf)"/><rect x="70.50" y="296.00" width="408.00" height="7.00" fill="url(#ag47)"/><rect x="70.50" y="296.00" width="408.00" height="6.00" fill="url(#ag48)" mask="url(#vf)"/><rect x="70.50" y="302.00" width="408.00" height="7.00" fill="url(#ag48)"/><rect x="70.50" y="302.00" width="408.00" height="6.00" fill="url(#ag49)" mask="url(#vf)"/><rect x="70.50" y="308.00" width="408.00" height="7.00" fill="url(#ag49)"/><rect x="70.50" y="308.00" width="408.00" height="6.00" fill="url(#ag50)" mask="url(#vf)"/><rect x="70.50" y="314.00" width="408.00" height="7.00" fill="url(#ag50)"/><rect x="70.50" y="314.00" width="408.00" height="6.00" fill="url(#ag51)" mask="url(#vf)"/><rect x="70.50" y="320.00" width="408.00" height="7.00" fill="url(#ag51)"/><rect x="70.50" y="320.00" width="408.00" height="6.00" fill="url(#ag52)" mask="url(#vf)"/><rect x="70.50" y="326.00" width="408.00" height="7.00" fill="url(#ag52)"/><rect x="70.50" y="326.00" width="408.00" height="6.00" fill="url(#ag53)" mask="url(#vf)"/><rect x="70.50" y="332.00" width="408.00" height="7.00" fill="url(#ag53)"/><rect x="70.50" y="332.00" width="408.00" height="6.00" fill="url(#ag54)" mask="url(#vf)"/><rect x="70.50" y="338.00" width="408.00" height="7.00" fill="url(#ag54)"/><rect x="70.50" y="338.00" width="408.00" height="6.00" fill="url(#ag55)" mask="url(#vf)"/><rect x="70.50" y="344.00" width="408.00" height="7.00" fill="url(#ag55)"/><rect x="70.50" y="344.00" width="408.00" height="6.00" fill="url(#ag56)" mask="url(#vf)"/><rect x="70.50" y="350.00" width="408.00" height="7.00" fill="url(#ag56)"/><rect x="70.50" y="350.00" width="408.00" height="6.00" fill="url(#ag57)" mask="url(#vf)"/><rect x="70.50" y="356.00" width="408.00" height="7.00" fill="url(#ag57)"/><rect x="70.50" y="356.00" width="408.00" height="6.00" fill="url(#ag58)" mask="url(#vf)"/><rect x="70.50" y="362.00" width="408.00" height="7.00" fill="url(#ag58)"/><rect x="70.50" y="362.00" width="408.00" height="6.00" fill="url(#ag59)" mask="url(#vf)"/><rect x="70.50" y="368.00" width="408.00" height="7.00" fill="url(#ag59)"/><rect x="70.50" y="368.00" width="408.00" height="6.00" fill="url(#ag60)" mask="url(#vf)"/><rect x="70.50" y="374.00" width="408.00" height="7.00" fill="url(#ag60)"/><rect x="70.50" y="374.00" width="408.00" height="6.00" fill="url(#ag61)" mask="url(#vf)"/><rect x="70.50" y="380.00" width="408.00" height="7.00" fill="url(#ag61)"/><rect x="70.50" y="380.00" width="408.00" height="6.00" fill="url(#ag62)" mask="url(#vf)"/><rect x="70.50" y="386.00" width="408.00" height="7.00" fill="url(#ag62)"/><rect x="70.50" y="386.00" width="408.00" height="6.00" fill="url(#ag63)" mask="url(#vf)"/><rect x="70.50" y="392.00" width="408.00" height="7.00" fill="url(#ag63)"/><rect x="70.50" y="392.00" width="408.00" height="6.00" fill="url(#ag64)" mask="url(#vf)"/><rect x="70.50" y="398.00" width="408.00" height="6.00" fill="url(#ag64)"/><rect x="70.50" y="398.00" width="408.00" height="6.00" fill="url(#ag65)" mask="url(#vf)"/></g>
<rect x="484.00" y="12.60" width="26.50" height="392.00" fill="url(#acb)"/>
<g fill="none" stroke="#262626" stroke-width="1.4">
<rect x="70.50" y="12.50" width="408.00" height="391.50"/>
<path d="M66.00 404.00H70.50"/>
<path d="M66.00 338.75H70.50"/>
<path d="M66.00 273.50H70.50"/>
<path d="M66.00 208.25H70.50"/>
<path d="M66.00 143.00H70.50"/>
<path d="M66.00 77.75H70.50"/>
<path d="M66.00 12.50H70.50"/>
<path d="M70.50 404.00V408.50"/>
<path d="M138.50 404.00V408.50"/>
<path d="M206.50 404.00V408.50"/>
<path d="M274.50 404.00V408.50"/>
<path d="M342.50 404.00V408.50"/>
<path d="M410.50 404.00V408.50"/>
<path d="M478.50 404.00V408.50"/>
</g>
<g fill="none" stroke="#262626" stroke-width="1">
<rect x="484" y="12.6" width="26.5" height="392"/>
<path d="M510.5 404.60H514.8"/>
<path d="M510.5 326.20H514.8"/>
<path d="M510.5 247.80H514.8"/>
<path d="M510.5 169.40H514.8"/>
<path d="M510.5 91.00H514.8"/>
<path d="M510.5 12.60H514.8"/>
</g>
<g fill="#3a3a3a" font-size="16">
<text x="62.6" y="409.60" text-anchor="end">0</text>
<text x="62.6" y="344.35" text-anchor="end">10</text>
<text x="62.6" y="279.10" text-anchor="end">20</text>
<text x="62.6" y="213.85" text-anchor="end">30</text>
<text x="62.6" y="148.60" text-anchor="end">40</text>
<text x="62.6" y="83.35" text-anchor="end">50</text>
<text x="62.6" y="18.10" text-anchor="end">60</text>
<text x="71.00" y="426.4" text-anchor="middle" xml:space="preserve">0. 0</text>
<text x="139.00" y="426.4" text-anchor="middle" xml:space="preserve">0. 5</text>
<text x="207.00" y="426.4" text-anchor="middle" xml:space="preserve">1. 0</text>
<text x="275.00" y="426.4" text-anchor="middle" xml:space="preserve">1. 5</text>
<text x="343.00" y="426.4" text-anchor="middle" xml:space="preserve">2. 0</text>
<text x="411.00" y="426.4" text-anchor="middle" xml:space="preserve">2. 5</text>
<text x="479.00" y="426.4" text-anchor="middle" xml:space="preserve">3. 0</text>
</g>
<g fill="#4a4a4a" font-size="12.6">
<text x="520" y="408.90" xml:space="preserve">0. 0</text>
<text x="520" y="330.50" xml:space="preserve">0. 2</text>
<text x="520" y="252.10" xml:space="preserve">0. 4</text>
<text x="520" y="173.70" xml:space="preserve">0. 6</text>
<text x="520" y="95.30" xml:space="preserve">0. 8</text>
<text x="520" y="16.90" xml:space="preserve">1. 0</text>
</g>
<text x="275" y="460" font-size="20" fill="#222" text-anchor="middle" textLength="132" lengthAdjust="spacing" stroke="#222" stroke-width="0.3">Frequency/THz</text>
<text transform="translate(31.5 208.4) rotate(-90)" font-size="20" fill="#333" text-anchor="middle" textLength="231" lengthAdjust="spacing">Incident Angle (degree)</text>
<text x="262" y="501.6" font-size="25" fill="#000" textLength="27.6" lengthAdjust="spacing">(<tspan font-weight="bold">a</tspan>)</text>
<g><rect x="66.10" y="521.20" width="412.10" height="4.80" fill="url(#bg0)"/><rect x="66.10" y="521.20" width="412.10" height="3.80" fill="url(#bg1)" mask="url(#vf)"/><rect x="66.10" y="525.00" width="412.10" height="5.00" fill="url(#bg1)"/><rect x="66.10" y="525.00" width="412.10" height="4.00" fill="url(#bg2)" mask="url(#vf)"/><rect x="66.10" y="529.00" width="412.10" height="5.00" fill="url(#bg2)"/><rect x="66.10" y="529.00" width="412.10" height="4.00" fill="url(#bg3)" mask="url(#vf)"/><rect x="66.10" y="533.00" width="412.10" height="5.00" fill="url(#bg3)"/><rect x="66.10" y="533.00" width="412.10" height="4.00" fill="url(#bg4)" mask="url(#vf)"/><rect x="66.10" y="537.00" width="412.10" height="5.00" fill="url(#bg4)"/><rect x="66.10" y="537.00" width="412.10" height="4.00" fill="url(#bg5)" mask="url(#vf)"/><rect x="66.10" y="541.00" width="412.10" height="5.00" fill="url(#bg5)"/><rect x="66.10" y="541.00" width="412.10" height="4.00" fill="url(#bg6)" mask="url(#vf)"/><rect x="66.10" y="545.00" width="412.10" height="5.00" fill="url(#bg6)"/><rect x="66.10" y="545.00" width="412.10" height="4.00" fill="url(#bg7)" mask="url(#vf)"/><rect x="66.10" y="549.00" width="412.10" height="5.00" fill="url(#bg7)"/><rect x="66.10" y="549.00" width="412.10" height="4.00" fill="url(#bg8)" mask="url(#vf)"/><rect x="66.10" y="553.00" width="412.10" height="5.00" fill="url(#bg8)"/><rect x="66.10" y="553.00" width="412.10" height="4.00" fill="url(#bg9)" mask="url(#vf)"/><rect x="66.10" y="557.00" width="412.10" height="5.00" fill="url(#bg9)"/><rect x="66.10" y="557.00" width="412.10" height="4.00" fill="url(#bg10)" mask="url(#vf)"/><rect x="66.10" y="561.00" width="412.10" height="5.00" fill="url(#bg10)"/><rect x="66.10" y="561.00" width="412.10" height="4.00" fill="url(#bg11)" mask="url(#vf)"/><rect x="66.10" y="565.00" width="412.10" height="5.00" fill="url(#bg11)"/><rect x="66.10" y="565.00" width="412.10" height="4.00" fill="url(#bg12)" mask="url(#vf)"/><rect x="66.10" y="569.00" width="412.10" height="5.00" fill="url(#bg12)"/><rect x="66.10" y="569.00" width="412.10" height="4.00" fill="url(#bg13)" mask="url(#vf)"/><rect x="66.10" y="573.00" width="412.10" height="5.00" fill="url(#bg13)"/><rect x="66.10" y="573.00" width="412.10" height="4.00" fill="url(#bg14)" mask="url(#vf)"/><rect x="66.10" y="577.00" width="412.10" height="5.00" fill="url(#bg14)"/><rect x="66.10" y="577.00" width="412.10" height="4.00" fill="url(#bg15)" mask="url(#vf)"/><rect x="66.10" y="581.00" width="412.10" height="5.00" fill="url(#bg15)"/><rect x="66.10" y="581.00" width="412.10" height="4.00" fill="url(#bg16)" mask="url(#vf)"/><rect x="66.10" y="585.00" width="412.10" height="5.00" fill="url(#bg16)"/><rect x="66.10" y="585.00" width="412.10" height="4.00" fill="url(#bg17)" mask="url(#vf)"/><rect x="66.10" y="589.00" width="412.10" height="5.00" fill="url(#bg17)"/><rect x="66.10" y="589.00" width="412.10" height="4.00" fill="url(#bg18)" mask="url(#vf)"/><rect x="66.10" y="593.00" width="412.10" height="5.00" fill="url(#bg18)"/><rect x="66.10" y="593.00" width="412.10" height="4.00" fill="url(#bg19)" mask="url(#vf)"/><rect x="66.10" y="597.00" width="412.10" height="5.00" fill="url(#bg19)"/><rect x="66.10" y="597.00" width="412.10" height="4.00" fill="url(#bg20)" mask="url(#vf)"/><rect x="66.10" y="601.00" width="412.10" height="5.00" fill="url(#bg20)"/><rect x="66.10" y="601.00" width="412.10" height="4.00" fill="url(#bg21)" mask="url(#vf)"/><rect x="66.10" y="605.00" width="412.10" height="5.00" fill="url(#bg21)"/><rect x="66.10" y="605.00" width="412.10" height="4.00" fill="url(#bg22)" mask="url(#vf)"/><rect x="66.10" y="609.00" width="412.10" height="5.00" fill="url(#bg22)"/><rect x="66.10" y="609.00" width="412.10" height="4.00" fill="url(#bg23)" mask="url(#vf)"/><rect x="66.10" y="613.00" width="412.10" height="5.00" fill="url(#bg23)"/><rect x="66.10" y="613.00" width="412.10" height="4.00" fill="url(#bg24)" mask="url(#vf)"/><rect x="66.10" y="617.00" width="412.10" height="5.00" fill="url(#bg24)"/><rect x="66.10" y="617.00" width="412.10" height="4.00" fill="url(#bg25)" mask="url(#vf)"/><rect x="66.10" y="621.00" width="412.10" height="5.00" fill="url(#bg25)"/><rect x="66.10" y="621.00" width="412.10" height="4.00" fill="url(#bg26)" mask="url(#vf)"/><rect x="66.10" y="625.00" width="412.10" height="5.00" fill="url(#bg26)"/><rect x="66.10" y="625.00" width="412.10" height="4.00" fill="url(#bg27)" mask="url(#vf)"/><rect x="66.10" y="629.00" width="412.10" height="5.00" fill="url(#bg27)"/><rect x="66.10" y="629.00" width="412.10" height="4.00" fill="url(#bg28)" mask="url(#vf)"/><rect x="66.10" y="633.00" width="412.10" height="5.00" fill="url(#bg28)"/><rect x="66.10" y="633.00" width="412.10" height="4.00" fill="url(#bg29)" mask="url(#vf)"/><rect x="66.10" y="637.00" width="412.10" height="5.00" fill="url(#bg29)"/><rect x="66.10" y="637.00" width="412.10" height="4.00" fill="url(#bg30)" mask="url(#vf)"/><rect x="66.10" y="641.00" width="412.10" height="5.00" fill="url(#bg30)"/><rect x="66.10" y="641.00" width="412.10" height="4.00" fill="url(#bg31)" mask="url(#vf)"/><rect x="66.10" y="645.00" width="412.10" height="5.00" fill="url(#bg31)"/><rect x="66.10" y="645.00" width="412.10" height="4.00" fill="url(#bg32)" mask="url(#vf)"/><rect x="66.10" y="649.00" width="412.10" height="5.00" fill="url(#bg32)"/><rect x="66.10" y="649.00" width="412.10" height="4.00" fill="url(#bg33)" mask="url(#vf)"/><rect x="66.10" y="653.00" width="412.10" height="5.00" fill="url(#bg33)"/><rect x="66.10" y="653.00" width="412.10" height="4.00" fill="url(#bg34)" mask="url(#vf)"/><rect x="66.10" y="657.00" width="412.10" height="5.00" fill="url(#bg34)"/><rect x="66.10" y="657.00" width="412.10" height="4.00" fill="url(#bg35)" mask="url(#vf)"/><rect x="66.10" y="661.00" width="412.10" height="5.00" fill="url(#bg35)"/><rect x="66.10" y="661.00" width="412.10" height="4.00" fill="url(#bg36)" mask="url(#vf)"/><rect x="66.10" y="665.00" width="412.10" height="5.00" fill="url(#bg36)"/><rect x="66.10" y="665.00" width="412.10" height="4.00" fill="url(#bg37)" mask="url(#vf)"/><rect x="66.10" y="669.00" width="412.10" height="5.00" fill="url(#bg37)"/><rect x="66.10" y="669.00" width="412.10" height="4.00" fill="url(#bg38)" mask="url(#vf)"/><rect x="66.10" y="673.00" width="412.10" height="5.00" fill="url(#bg38)"/><rect x="66.10" y="673.00" width="412.10" height="4.00" fill="url(#bg39)" mask="url(#vf)"/><rect x="66.10" y="677.00" width="412.10" height="5.00" fill="url(#bg39)"/><rect x="66.10" y="677.00" width="412.10" height="4.00" fill="url(#bg40)" mask="url(#vf)"/><rect x="66.10" y="681.00" width="412.10" height="5.00" fill="url(#bg40)"/><rect x="66.10" y="681.00" width="412.10" height="4.00" fill="url(#bg41)" mask="url(#vf)"/><rect x="66.10" y="685.00" width="412.10" height="5.00" fill="url(#bg41)"/><rect x="66.10" y="685.00" width="412.10" height="4.00" fill="url(#bg42)" mask="url(#vf)"/><rect x="66.10" y="689.00" width="412.10" height="5.00" fill="url(#bg42)"/><rect x="66.10" y="689.00" width="412.10" height="4.00" fill="url(#bg43)" mask="url(#vf)"/><rect x="66.10" y="693.00" width="412.10" height="5.00" fill="url(#bg43)"/><rect x="66.10" y="693.00" width="412.10" height="4.00" fill="url(#bg44)" mask="url(#vf)"/><rect x="66.10" y="697.00" width="412.10" height="5.00" fill="url(#bg44)"/><rect x="66.10" y="697.00" width="412.10" height="4.00" fill="url(#bg45)" mask="url(#vf)"/><rect x="66.10" y="701.00" width="412.10" height="5.00" fill="url(#bg45)"/><rect x="66.10" y="701.00" width="412.10" height="4.00" fill="url(#bg46)" mask="url(#vf)"/><rect x="66.10" y="705.00" width="412.10" height="5.00" fill="url(#bg46)"/><rect x="66.10" y="705.00" width="412.10" height="4.00" fill="url(#bg47)" mask="url(#vf)"/><rect x="66.10" y="709.00" width="412.10" height="5.00" fill="url(#bg47)"/><rect x="66.10" y="709.00" width="412.10" height="4.00" fill="url(#bg48)" mask="url(#vf)"/><rect x="66.10" y="713.00" width="412.10" height="5.00" fill="url(#bg48)"/><rect x="66.10" y="713.00" width="412.10" height="4.00" fill="url(#bg49)" mask="url(#vf)"/><rect x="66.10" y="717.00" width="412.10" height="5.00" fill="url(#bg49)"/><rect x="66.10" y="717.00" width="412.10" height="4.00" fill="url(#bg50)" mask="url(#vf)"/><rect x="66.10" y="721.00" width="412.10" height="5.00" fill="url(#bg50)"/><rect x="66.10" y="721.00" width="412.10" height="4.00" fill="url(#bg51)" mask="url(#vf)"/><rect x="66.10" y="725.00" width="412.10" height="5.00" fill="url(#bg51)"/><rect x="66.10" y="725.00" width="412.10" height="4.00" fill="url(#bg52)" mask="url(#vf)"/><rect x="66.10" y="729.00" width="412.10" height="5.00" fill="url(#bg52)"/><rect x="66.10" y="729.00" width="412.10" height="4.00" fill="url(#bg53)" mask="url(#vf)"/><rect x="66.10" y="733.00" width="412.10" height="5.00" fill="url(#bg53)"/><rect x="66.10" y="733.00" width="412.10" height="4.00" fill="url(#bg54)" mask="url(#vf)"/><rect x="66.10" y="737.00" width="412.10" height="5.00" fill="url(#bg54)"/><rect x="66.10" y="737.00" width="412.10" height="4.00" fill="url(#bg55)" mask="url(#vf)"/><rect x="66.10" y="741.00" width="412.10" height="5.00" fill="url(#bg55)"/><rect x="66.10" y="741.00" width="412.10" height="4.00" fill="url(#bg56)" mask="url(#vf)"/><rect x="66.10" y="745.00" width="412.10" height="5.00" fill="url(#bg56)"/><rect x="66.10" y="745.00" width="412.10" height="4.00" fill="url(#bg57)" mask="url(#vf)"/><rect x="66.10" y="749.00" width="412.10" height="5.00" fill="url(#bg57)"/><rect x="66.10" y="749.00" width="412.10" height="4.00" fill="url(#bg58)" mask="url(#vf)"/><rect x="66.10" y="753.00" width="412.10" height="5.00" fill="url(#bg58)"/><rect x="66.10" y="753.00" width="412.10" height="4.00" fill="url(#bg59)" mask="url(#vf)"/><rect x="66.10" y="757.00" width="412.10" height="5.00" fill="url(#bg59)"/><rect x="66.10" y="757.00" width="412.10" height="4.00" fill="url(#bg60)" mask="url(#vf)"/><rect x="66.10" y="761.00" width="412.10" height="5.00" fill="url(#bg60)"/><rect x="66.10" y="761.00" width="412.10" height="4.00" fill="url(#bg61)" mask="url(#vf)"/><rect x="66.10" y="765.00" width="412.10" height="5.00" fill="url(#bg61)"/><rect x="66.10" y="765.00" width="412.10" height="4.00" fill="url(#bg62)" mask="url(#vf)"/><rect x="66.10" y="769.00" width="412.10" height="5.00" fill="url(#bg62)"/><rect x="66.10" y="769.00" width="412.10" height="4.00" fill="url(#bg63)" mask="url(#vf)"/><rect x="66.10" y="773.00" width="412.10" height="5.00" fill="url(#bg63)"/><rect x="66.10" y="773.00" width="412.10" height="4.00" fill="url(#bg64)" mask="url(#vf)"/><rect x="66.10" y="777.00" width="412.10" height="5.00" fill="url(#bg64)"/><rect x="66.10" y="777.00" width="412.10" height="4.00" fill="url(#bg65)" mask="url(#vf)"/><rect x="66.10" y="781.00" width="412.10" height="5.00" fill="url(#bg65)"/><rect x="66.10" y="781.00" width="412.10" height="4.00" fill="url(#bg66)" mask="url(#vf)"/><rect x="66.10" y="785.00" width="412.10" height="5.00" fill="url(#bg66)"/><rect x="66.10" y="785.00" width="412.10" height="4.00" fill="url(#bg67)" mask="url(#vf)"/><rect x="66.10" y="789.00" width="412.10" height="5.00" fill="url(#bg67)"/><rect x="66.10" y="789.00" width="412.10" height="4.00" fill="url(#bg68)" mask="url(#vf)"/><rect x="66.10" y="793.00" width="412.10" height="5.00" fill="url(#bg68)"/><rect x="66.10" y="793.00" width="412.10" height="4.00" fill="url(#bg69)" mask="url(#vf)"/><rect x="66.10" y="797.00" width="412.10" height="5.00" fill="url(#bg69)"/><rect x="66.10" y="797.00" width="412.10" height="4.00" fill="url(#bg70)" mask="url(#vf)"/><rect x="66.10" y="801.00" width="412.10" height="5.00" fill="url(#bg70)"/><rect x="66.10" y="801.00" width="412.10" height="4.00" fill="url(#bg71)" mask="url(#vf)"/><rect x="66.10" y="805.00" width="412.10" height="5.00" fill="url(#bg71)"/><rect x="66.10" y="805.00" width="412.10" height="4.00" fill="url(#bg72)" mask="url(#vf)"/><rect x="66.10" y="809.00" width="412.10" height="5.00" fill="url(#bg72)"/><rect x="66.10" y="809.00" width="412.10" height="4.00" fill="url(#bg73)" mask="url(#vf)"/><rect x="66.10" y="813.00" width="412.10" height="5.00" fill="url(#bg73)"/><rect x="66.10" y="813.00" width="412.10" height="4.00" fill="url(#bg74)" mask="url(#vf)"/><rect x="66.10" y="817.00" width="412.10" height="5.00" fill="url(#bg74)"/><rect x="66.10" y="817.00" width="412.10" height="4.00" fill="url(#bg75)" mask="url(#vf)"/><rect x="66.10" y="821.00" width="412.10" height="5.00" fill="url(#bg75)"/><rect x="66.10" y="821.00" width="412.10" height="4.00" fill="url(#bg76)" mask="url(#vf)"/><rect x="66.10" y="825.00" width="412.10" height="5.00" fill="url(#bg76)"/><rect x="66.10" y="825.00" width="412.10" height="4.00" fill="url(#bg77)" mask="url(#vf)"/><rect x="66.10" y="829.00" width="412.10" height="5.00" fill="url(#bg77)"/><rect x="66.10" y="829.00" width="412.10" height="4.00" fill="url(#bg78)" mask="url(#vf)"/><rect x="66.10" y="833.00" width="412.10" height="5.00" fill="url(#bg78)"/><rect x="66.10" y="833.00" width="412.10" height="4.00" fill="url(#bg79)" mask="url(#vf)"/><rect x="66.10" y="837.00" width="412.10" height="5.00" fill="url(#bg79)"/><rect x="66.10" y="837.00" width="412.10" height="4.00" fill="url(#bg80)" mask="url(#vf)"/><rect x="66.10" y="841.00" width="412.10" height="5.00" fill="url(#bg80)"/><rect x="66.10" y="841.00" width="412.10" height="4.00" fill="url(#bg81)" mask="url(#vf)"/><rect x="66.10" y="845.00" width="412.10" height="5.00" fill="url(#bg81)"/><rect x="66.10" y="845.00" width="412.10" height="4.00" fill="url(#bg82)" mask="url(#vf)"/><rect x="66.10" y="849.00" width="412.10" height="5.00" fill="url(#bg82)"/><rect x="66.10" y="849.00" width="412.10" height="4.00" fill="url(#bg83)" mask="url(#vf)"/><rect x="66.10" y="853.00" width="412.10" height="5.00" fill="url(#bg83)"/><rect x="66.10" y="853.00" width="412.10" height="4.00" fill="url(#bg84)" mask="url(#vf)"/><rect x="66.10" y="857.00" width="412.10" height="5.00" fill="url(#bg84)"/><rect x="66.10" y="857.00" width="412.10" height="4.00" fill="url(#bg85)" mask="url(#vf)"/><rect x="66.10" y="861.00" width="412.10" height="5.00" fill="url(#bg85)"/><rect x="66.10" y="861.00" width="412.10" height="4.00" fill="url(#bg86)" mask="url(#vf)"/><rect x="66.10" y="865.00" width="412.10" height="5.00" fill="url(#bg86)"/><rect x="66.10" y="865.00" width="412.10" height="4.00" fill="url(#bg87)" mask="url(#vf)"/><rect x="66.10" y="869.00" width="412.10" height="5.00" fill="url(#bg87)"/><rect x="66.10" y="869.00" width="412.10" height="4.00" fill="url(#bg88)" mask="url(#vf)"/><rect x="66.10" y="873.00" width="412.10" height="5.00" fill="url(#bg88)"/><rect x="66.10" y="873.00" width="412.10" height="4.00" fill="url(#bg89)" mask="url(#vf)"/><rect x="66.10" y="877.00" width="412.10" height="5.00" fill="url(#bg89)"/><rect x="66.10" y="877.00" width="412.10" height="4.00" fill="url(#bg90)" mask="url(#vf)"/><rect x="66.10" y="881.00" width="412.10" height="5.00" fill="url(#bg90)"/><rect x="66.10" y="881.00" width="412.10" height="4.00" fill="url(#bg91)" mask="url(#vf)"/><rect x="66.10" y="885.00" width="412.10" height="5.00" fill="url(#bg91)"/><rect x="66.10" y="885.00" width="412.10" height="4.00" fill="url(#bg92)" mask="url(#vf)"/><rect x="66.10" y="889.00" width="412.10" height="5.00" fill="url(#bg92)"/><rect x="66.10" y="889.00" width="412.10" height="4.00" fill="url(#bg93)" mask="url(#vf)"/><rect x="66.10" y="893.00" width="412.10" height="5.00" fill="url(#bg93)"/><rect x="66.10" y="893.00" width="412.10" height="4.00" fill="url(#bg94)" mask="url(#vf)"/><rect x="66.10" y="897.00" width="412.10" height="5.00" fill="url(#bg94)"/><rect x="66.10" y="897.00" width="412.10" height="4.00" fill="url(#bg95)" mask="url(#vf)"/><rect x="66.10" y="901.00" width="412.10" height="5.00" fill="url(#bg95)"/><rect x="66.10" y="901.00" width="412.10" height="4.00" fill="url(#bg96)" mask="url(#vf)"/><rect x="66.10" y="905.00" width="412.10" height="5.00" fill="url(#bg96)"/><rect x="66.10" y="905.00" width="412.10" height="4.00" fill="url(#bg97)" mask="url(#vf)"/><rect x="66.10" y="909.00" width="412.10" height="5.00" fill="url(#bg97)"/><rect x="66.10" y="909.00" width="412.10" height="4.00" fill="url(#bg98)" mask="url(#vf)"/><rect x="66.10" y="913.00" width="412.10" height="3.60" fill="url(#bg98)"/><rect x="66.10" y="913.00" width="412.10" height="3.60" fill="url(#bg99)" mask="url(#vf)"/></g>
<rect x="485.80" y="521.80" width="26.20" height="395.80" fill="url(#bcb)"/>
<g fill="none" stroke="#000" stroke-width="1.5">
<rect x="66.10" y="521.20" width="412.10" height="395.40"/>
<path d="M57.80 916.60H66.10"/>
<path d="M57.80 850.70H66.10"/>
<path d="M57.80 784.80H66.10"/>
<path d="M57.80 718.90H66.10"/>
<path d="M57.80 653.00H66.10"/>
<path d="M57.80 587.10H66.10"/>
<path d="M57.80 521.20H66.10"/>
<path d="M66.10 916.60V924.60"/>
<path d="M134.78 916.60V924.60"/>
<path d="M203.47 916.60V924.60"/>
<path d="M272.15 916.60V924.60"/>
<path d="M340.83 916.60V924.60"/>
<path d="M409.52 916.60V924.60"/>
<path d="M478.20 916.60V924.60"/>
</g>
<g fill="none" stroke="#000" stroke-width="1.2">
<rect x="485.8" y="521.8" width="26.2" height="395.8"/>
<path d="M512 917.60H519.2"/>
<path d="M512 838.44H519.2"/>
<path d="M512 759.28H519.2"/>
<path d="M512 680.12H519.2"/>
<path d="M512 600.96H519.2"/>
<path d="M512 521.80H519.2"/>
</g>
<g fill="#111" font-size="16.6">
<text x="49.8" y="922.80" text-anchor="end">0</text>
<text x="49.8" y="856.90" text-anchor="end">10</text>
<text x="49.8" y="791.00" text-anchor="end">20</text>
<text x="49.8" y="725.10" text-anchor="end">30</text>
<text x="49.8" y="659.20" text-anchor="end">40</text>
<text x="49.8" y="593.30" text-anchor="end">50</text>
<text x="49.8" y="527.40" text-anchor="end">60</text>
<text x="66.30" y="943.7" text-anchor="middle" xml:space="preserve">0. 0</text>
<text x="134.98" y="943.7" text-anchor="middle" xml:space="preserve">0. 5</text>
<text x="203.67" y="943.7" text-anchor="middle" xml:space="preserve">1. 0</text>
<text x="272.35" y="943.7" text-anchor="middle" xml:space="preserve">1. 5</text>
<text x="341.03" y="943.7" text-anchor="middle" xml:space="preserve">2. 0</text>
<text x="409.72" y="943.7" text-anchor="middle" xml:space="preserve">2. 5</text>
<text x="478.40" y="943.7" text-anchor="middle" xml:space="preserve">3. 0</text>
</g>
<g fill="#222" font-size="12.7">
<text x="523.4" y="921.90" xml:space="preserve">0. 0</text>
<text x="523.4" y="842.74" xml:space="preserve">0. 2</text>
<text x="523.4" y="763.58" xml:space="preserve">0. 4</text>
<text x="523.4" y="684.42" xml:space="preserve">0. 6</text>
<text x="523.4" y="605.26" xml:space="preserve">0. 8</text>
<text x="523.4" y="526.10" xml:space="preserve">1. 0</text>
</g>
<text x="271" y="972" font-size="20" fill="#111" text-anchor="middle" textLength="153" lengthAdjust="spacing">Frequency (THz)</text>
<text transform="translate(20.5 719.8) rotate(-90)" font-size="20" fill="#111" text-anchor="middle" textLength="223" lengthAdjust="spacing">Incident Angle(degree)</text>
<text x="261.6" y="1005.6" font-size="25" fill="#000" textLength="29.2" lengthAdjust="spacing">(<tspan font-weight="bold">b</tspan>)</text>
</svg></body></html>
